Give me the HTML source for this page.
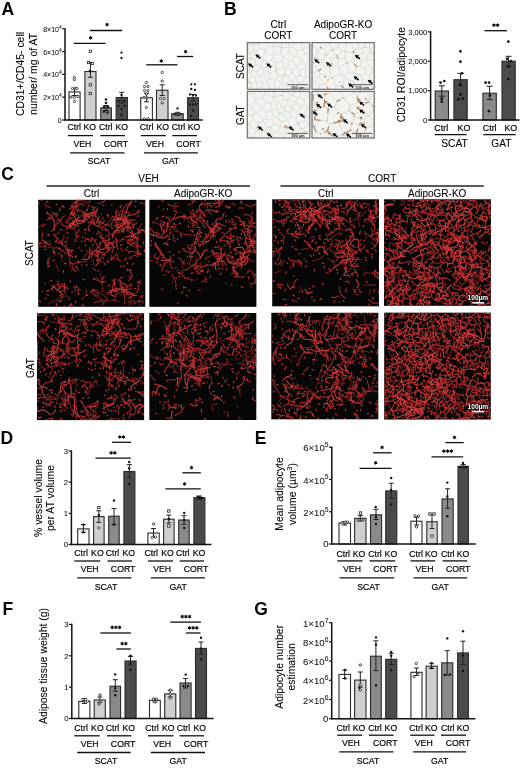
<!DOCTYPE html><html><head><meta charset="utf-8"><title>Figure</title><style>html,body{margin:0;padding:0;background:#fff;width:520px;height:768px;overflow:hidden}svg{display:block}</style></head><body><svg width="520" height="768" viewBox="0 0 520 768" font-family="'Liberation Sans', Arial, sans-serif" fill="#050505"><text x="1.5" y="15" font-size="17.5" font-weight="bold" fill="#000">A</text>
<text x="224" y="15" font-size="17.5" font-weight="bold" fill="#000">B</text>
<text x="1.2" y="180" font-size="17.5" font-weight="bold" fill="#000">C</text>
<text x="0.5" y="444" font-size="17.5" font-weight="bold" fill="#000">D</text>
<text x="254.7" y="444" font-size="17.5" font-weight="bold" fill="#000">E</text>
<text x="2.6" y="614.5" font-size="17.5" font-weight="bold" fill="#000">F</text>
<text x="254.3" y="614.5" font-size="17.5" font-weight="bold" fill="#000">G</text>
<rect x="69" y="91.9" width="11.1" height="28.1" fill="#ffffff" stroke="#2a2a2a" stroke-width="1.1"/>
<rect x="84.9" y="71.5" width="11.1" height="48.5" fill="#cfcfcf" stroke="#2a2a2a" stroke-width="1.1"/>
<rect x="100.75" y="107.9" width="10.65" height="12.1" fill="#8a8a8a" stroke="#2a2a2a" stroke-width="1.1"/>
<rect x="116.1" y="97.5" width="11.3" height="22.5" fill="#4b4b4b" stroke="#2a2a2a" stroke-width="1.1"/>
<rect x="140.75" y="97.75" width="11.65" height="22.25" fill="#ffffff" stroke="#2a2a2a" stroke-width="1.1"/>
<rect x="156.5" y="90.25" width="11.5" height="29.75" fill="#cfcfcf" stroke="#2a2a2a" stroke-width="1.1"/>
<rect x="171.75" y="113.75" width="11.5" height="6.25" fill="#8a8a8a" stroke="#2a2a2a" stroke-width="1.1"/>
<rect x="187.6" y="97.75" width="10.9" height="22.25" fill="#4b4b4b" stroke="#2a2a2a" stroke-width="1.1"/>
<g>
<line x1="74.5" y1="88.5" x2="74.5" y2="95.5" stroke="#222" stroke-width="1"/>
<line x1="72" y1="88.5" x2="77" y2="88.5" stroke="#222" stroke-width="1"/>
<line x1="72" y1="95.5" x2="77" y2="95.5" stroke="#222" stroke-width="1"/>
<line x1="90.4" y1="62.5" x2="90.4" y2="77.3" stroke="#222" stroke-width="1"/>
<line x1="87.9" y1="62.5" x2="92.9" y2="62.5" stroke="#222" stroke-width="1"/>
<line x1="87.9" y1="77.3" x2="92.9" y2="77.3" stroke="#222" stroke-width="1"/>
<line x1="106.1" y1="105.5" x2="106.1" y2="110.5" stroke="#222" stroke-width="1"/>
<line x1="103.6" y1="105.5" x2="108.6" y2="105.5" stroke="#222" stroke-width="1"/>
<line x1="103.6" y1="110.5" x2="108.6" y2="110.5" stroke="#222" stroke-width="1"/>
<line x1="121.7" y1="92.3" x2="121.7" y2="103" stroke="#222" stroke-width="1"/>
<line x1="119.2" y1="92.3" x2="124.2" y2="92.3" stroke="#222" stroke-width="1"/>
<line x1="119.2" y1="103" x2="124.2" y2="103" stroke="#222" stroke-width="1"/>
<line x1="146.5" y1="93.2" x2="146.5" y2="101.8" stroke="#222" stroke-width="1"/>
<line x1="144" y1="93.2" x2="149" y2="93.2" stroke="#222" stroke-width="1"/>
<line x1="144" y1="101.8" x2="149" y2="101.8" stroke="#222" stroke-width="1"/>
<line x1="162.2" y1="84.8" x2="162.2" y2="95.5" stroke="#222" stroke-width="1"/>
<line x1="159.7" y1="84.8" x2="164.7" y2="84.8" stroke="#222" stroke-width="1"/>
<line x1="159.7" y1="95.5" x2="164.7" y2="95.5" stroke="#222" stroke-width="1"/>
<line x1="177.5" y1="112.3" x2="177.5" y2="115.3" stroke="#222" stroke-width="1"/>
<line x1="175" y1="112.3" x2="180" y2="112.3" stroke="#222" stroke-width="1"/>
<line x1="175" y1="115.3" x2="180" y2="115.3" stroke="#222" stroke-width="1"/>
<line x1="193" y1="94.5" x2="193" y2="101" stroke="#222" stroke-width="1"/>
<line x1="190.5" y1="94.5" x2="195.5" y2="94.5" stroke="#222" stroke-width="1"/>
<line x1="190.5" y1="101" x2="195.5" y2="101" stroke="#222" stroke-width="1"/>
<circle cx="74.3" cy="77.5" r="1.15" fill="#fff" stroke="#222" stroke-width="0.8"/>
<circle cx="74.3" cy="79.7" r="1.15" fill="#fff" stroke="#222" stroke-width="0.8"/>
<circle cx="72.5" cy="88.5" r="1.15" fill="#fff" stroke="#222" stroke-width="0.8"/>
<circle cx="75.2" cy="88.2" r="1.15" fill="#fff" stroke="#222" stroke-width="0.8"/>
<circle cx="77" cy="88.6" r="1.15" fill="#fff" stroke="#222" stroke-width="0.8"/>
<circle cx="71" cy="97" r="1.15" fill="#fff" stroke="#222" stroke-width="0.8"/>
<circle cx="74.5" cy="97.5" r="1.15" fill="#fff" stroke="#222" stroke-width="0.8"/>
<circle cx="78" cy="96.5" r="1.15" fill="#fff" stroke="#222" stroke-width="0.8"/>
<circle cx="74.5" cy="101.5" r="1.15" fill="#fff" stroke="#222" stroke-width="0.8"/>
<rect x="87.35" y="61.35" width="2.3" height="2.3" fill="#fff" stroke="#222" stroke-width="0.8"/>
<rect x="91.15" y="62.35" width="2.3" height="2.3" fill="#fff" stroke="#222" stroke-width="0.8"/>
<rect x="89.15" y="50.15" width="2.3" height="2.3" fill="#fff" stroke="#222" stroke-width="0.8"/>
<rect x="89.15" y="83.65" width="2.3" height="2.3" fill="#fff" stroke="#222" stroke-width="0.8"/>
<rect x="89.15" y="92.35" width="2.3" height="2.3" fill="#fff" stroke="#222" stroke-width="0.8"/>
<rect x="88.85" y="69.85" width="2.3" height="2.3" fill="#111"/>
<rect x="104.85" y="98.35" width="2.3" height="2.3" fill="#111"/>
<rect x="104.85" y="101.85" width="2.3" height="2.3" fill="#111"/>
<rect x="102.85" y="105.85" width="2.3" height="2.3" fill="#111"/>
<rect x="106.85" y="105.85" width="2.3" height="2.3" fill="#111"/>
<rect x="102.85" y="110.35" width="2.3" height="2.3" fill="#111"/>
<rect x="106.35" y="111.35" width="2.3" height="2.3" fill="#111"/>
<circle cx="121.5" cy="52.6" r="1.15" fill="#111"/>
<circle cx="121.5" cy="58" r="1.15" fill="#111"/>
<circle cx="121.5" cy="95" r="1.15" fill="#111"/>
<circle cx="118.5" cy="101" r="1.15" fill="#111"/>
<circle cx="124.5" cy="101" r="1.15" fill="#111"/>
<circle cx="118.5" cy="106" r="1.15" fill="#111"/>
<circle cx="124.5" cy="106" r="1.15" fill="#111"/>
<circle cx="121.5" cy="109" r="1.15" fill="#111"/>
<circle cx="121.5" cy="114.8" r="1.15" fill="#111"/>
<circle cx="146.4" cy="82.5" r="1.15" fill="#fff" stroke="#222" stroke-width="0.8"/>
<circle cx="144.5" cy="86.5" r="1.15" fill="#fff" stroke="#222" stroke-width="0.8"/>
<circle cx="148" cy="86.5" r="1.15" fill="#fff" stroke="#222" stroke-width="0.8"/>
<circle cx="144.5" cy="90.5" r="1.15" fill="#fff" stroke="#222" stroke-width="0.8"/>
<circle cx="148" cy="90.5" r="1.15" fill="#fff" stroke="#222" stroke-width="0.8"/>
<circle cx="146.4" cy="94" r="1.15" fill="#fff" stroke="#222" stroke-width="0.8"/>
<circle cx="144" cy="97.5" r="1.15" fill="#fff" stroke="#222" stroke-width="0.8"/>
<circle cx="147" cy="98" r="1.15" fill="#fff" stroke="#222" stroke-width="0.8"/>
<circle cx="146.4" cy="107.5" r="1.15" fill="#fff" stroke="#222" stroke-width="0.8"/>
<circle cx="144.5" cy="118.8" r="1.15" fill="#fff" stroke="#222" stroke-width="0.8"/>
<circle cx="148.2" cy="118.8" r="1.15" fill="#fff" stroke="#222" stroke-width="0.8"/>
<circle cx="162.2" cy="72.5" r="1.15" fill="#fff" stroke="#222" stroke-width="0.8"/>
<circle cx="162.2" cy="81" r="1.15" fill="#fff" stroke="#222" stroke-width="0.8"/>
<circle cx="160.5" cy="98.5" r="1.15" fill="#fff" stroke="#222" stroke-width="0.8"/>
<circle cx="164" cy="98.5" r="1.15" fill="#fff" stroke="#222" stroke-width="0.8"/>
<circle cx="162.2" cy="103" r="1.15" fill="#fff" stroke="#222" stroke-width="0.8"/>
<circle cx="177.5" cy="108.5" r="1.15" fill="#111"/>
<circle cx="174.5" cy="114" r="1.15" fill="#111"/>
<circle cx="180.5" cy="114" r="1.15" fill="#111"/>
<circle cx="191.3" cy="84.3" r="1.15" fill="#111"/>
<circle cx="195" cy="84.3" r="1.15" fill="#111"/>
<circle cx="191.3" cy="89" r="1.15" fill="#111"/>
<circle cx="195" cy="90" r="1.15" fill="#111"/>
<circle cx="190" cy="94.5" r="1.15" fill="#111"/>
<circle cx="193" cy="95" r="1.15" fill="#111"/>
<circle cx="196" cy="95.5" r="1.15" fill="#111"/>
<circle cx="190" cy="104.5" r="1.15" fill="#111"/>
<circle cx="193" cy="104.5" r="1.15" fill="#111"/>
<circle cx="196" cy="104.5" r="1.15" fill="#111"/>
<circle cx="193" cy="110.5" r="1.15" fill="#111"/>
<circle cx="191" cy="116" r="1.15" fill="#111"/>
</g>
<line x1="65" y1="28.15" x2="65" y2="120.6" stroke="#111" stroke-width="1.5"/>
<line x1="62.2" y1="28.75" x2="65" y2="28.75" stroke="#111" stroke-width="1.2"/>
<text x="61.7" y="31.69" font-size="7" text-anchor="end" fill="#1a1a1a" stroke="#1a1a1a" stroke-width="0.08">8×10<tspan font-size="4.9" dy="-2.94">4</tspan></text>
<line x1="62.2" y1="51.56" x2="65" y2="51.56" stroke="#111" stroke-width="1.2"/>
<text x="61.7" y="54.5" font-size="7" text-anchor="end" fill="#1a1a1a" stroke="#1a1a1a" stroke-width="0.08">6×10<tspan font-size="4.9" dy="-2.94">4</tspan></text>
<line x1="62.2" y1="74.38" x2="65" y2="74.38" stroke="#111" stroke-width="1.2"/>
<text x="61.7" y="77.31" font-size="7" text-anchor="end" fill="#1a1a1a" stroke="#1a1a1a" stroke-width="0.08">4×10<tspan font-size="4.9" dy="-2.94">4</tspan></text>
<line x1="62.2" y1="97.19" x2="65" y2="97.19" stroke="#111" stroke-width="1.2"/>
<text x="61.7" y="100.13" font-size="7" text-anchor="end" fill="#1a1a1a" stroke="#1a1a1a" stroke-width="0.08">2×10<tspan font-size="4.9" dy="-2.94">4</tspan></text>
<line x1="62.2" y1="120" x2="65" y2="120" stroke="#111" stroke-width="1.2"/>
<text x="61.7" y="122.52" font-size="7" text-anchor="end" fill="#1a1a1a" stroke="#1a1a1a" stroke-width="0.08">0</text>
<line x1="64.25" y1="120" x2="202.8" y2="120" stroke="#111" stroke-width="1.6"/>
<line x1="73.7" y1="43.3" x2="105.4" y2="43.3" stroke="#111" stroke-width="1.3"/>
<polygon points="90.60,35.75 89.97,36.82 88.74,36.82 89.35,37.90 88.74,38.97 89.97,38.98 90.60,40.05 91.22,38.98 92.46,38.98 91.85,37.90 92.46,36.82 91.22,36.82" fill="#0c0c0c"/>
<line x1="89.9" y1="30.5" x2="122.2" y2="30.5" stroke="#111" stroke-width="1.3"/>
<polygon points="107.10,22.55 106.47,23.62 105.24,23.62 105.85,24.70 105.24,25.77 106.47,25.78 107.10,26.85 107.72,25.78 108.96,25.77 108.35,24.70 108.96,23.62 107.72,23.62" fill="#0c0c0c"/>
<line x1="146.2" y1="64.8" x2="177.5" y2="64.8" stroke="#111" stroke-width="1.3"/>
<polygon points="161.30,58.85 160.68,59.92 159.44,59.92 160.05,61.00 159.44,62.08 160.68,62.08 161.30,63.15 161.93,62.08 163.16,62.08 162.55,61.00 163.16,59.92 161.93,59.92" fill="#0c0c0c"/>
<line x1="177.1" y1="56.5" x2="193.1" y2="56.5" stroke="#111" stroke-width="1.3"/>
<polygon points="185.60,49.45 184.97,50.52 183.74,50.52 184.35,51.60 183.74,52.67 184.97,52.68 185.60,53.75 186.22,52.68 187.46,52.68 186.85,51.60 187.46,50.52 186.22,50.52" fill="#0c0c0c"/>
<text x="74.3" y="130.4" font-size="8.7" text-anchor="middle" stroke="#050505" stroke-width="0.2">Ctrl</text>
<text x="89.8" y="130.4" font-size="8.7" text-anchor="middle" stroke="#050505" stroke-width="0.2">KO</text>
<text x="105.8" y="130.4" font-size="8.7" text-anchor="middle" stroke="#050505" stroke-width="0.2">Ctrl</text>
<text x="121.7" y="130.4" font-size="8.7" text-anchor="middle" stroke="#050505" stroke-width="0.2">KO</text>
<text x="146.6" y="130.4" font-size="8.7" text-anchor="middle" stroke="#050505" stroke-width="0.2">Ctrl</text>
<text x="162.8" y="130.4" font-size="8.7" text-anchor="middle" stroke="#050505" stroke-width="0.2">KO</text>
<text x="178.5" y="130.4" font-size="8.7" text-anchor="middle" stroke="#050505" stroke-width="0.2">Ctrl</text>
<text x="194.1" y="130.4" font-size="8.7" text-anchor="middle" stroke="#050505" stroke-width="0.2">KO</text>
<line x1="67.9" y1="135.6" x2="92.9" y2="135.6" stroke="#111" stroke-width="1.3"/>
<line x1="100.4" y1="135.6" x2="124.9" y2="135.6" stroke="#111" stroke-width="1.3"/>
<line x1="140.8" y1="135.6" x2="165.8" y2="135.6" stroke="#111" stroke-width="1.3"/>
<line x1="172.3" y1="135.6" x2="197.1" y2="135.6" stroke="#111" stroke-width="1.3"/>
<text x="82.4" y="146.6" font-size="8.7" text-anchor="middle" stroke="#050505" stroke-width="0.2">VEH</text>
<text x="115.9" y="146.6" font-size="8.7" text-anchor="middle" stroke="#050505" stroke-width="0.2">CORT</text>
<text x="155" y="146.6" font-size="8.7" text-anchor="middle" stroke="#050505" stroke-width="0.2">VEH</text>
<text x="188.5" y="146.6" font-size="8.7" text-anchor="middle" stroke="#050505" stroke-width="0.2">CORT</text>
<line x1="70.1" y1="152.8" x2="124.5" y2="152.8" stroke="#111" stroke-width="1.3"/>
<line x1="144" y1="152.8" x2="197.8" y2="152.8" stroke="#111" stroke-width="1.3"/>
<text x="99" y="163.9" font-size="8.7" text-anchor="middle" stroke="#050505" stroke-width="0.2">SCAT</text>
<text x="170.5" y="163.9" font-size="8.7" text-anchor="middle" stroke="#050505" stroke-width="0.2">GAT</text>
<text x="24.3" y="74" font-size="10.4" text-anchor="middle" stroke="#050505" stroke-width="0.08" transform="rotate(-90 24.3 74)">CD31+/CD45- cell</text>
<text x="36.8" y="74" font-size="10.4" text-anchor="middle" stroke="#050505" stroke-width="0.08" transform="rotate(-90 36.8 74)">number/ mg of AT</text>
<rect x="77.7" y="528.9" width="11.3" height="15.6" fill="#ffffff" stroke="#2a2a2a" stroke-width="1.1"/>
<rect x="93.6" y="516.6" width="10.5" height="27.9" fill="#cfcfcf" stroke="#2a2a2a" stroke-width="1.1"/>
<rect x="108.7" y="516.2" width="10.5" height="28.3" fill="#8a8a8a" stroke="#2a2a2a" stroke-width="1.1"/>
<rect x="123.9" y="471.5" width="11" height="73" fill="#4b4b4b" stroke="#2a2a2a" stroke-width="1.1"/>
<rect x="147.9" y="533.1" width="11.3" height="11.4" fill="#ffffff" stroke="#2a2a2a" stroke-width="1.1"/>
<rect x="163.6" y="519.2" width="10.5" height="25.3" fill="#cfcfcf" stroke="#2a2a2a" stroke-width="1.1"/>
<rect x="178.7" y="520" width="10.5" height="24.5" fill="#8a8a8a" stroke="#2a2a2a" stroke-width="1.1"/>
<rect x="193.9" y="497.7" width="11" height="46.8" fill="#4b4b4b" stroke="#2a2a2a" stroke-width="1.1"/>
<line x1="83.4" y1="524.6" x2="83.4" y2="532.3" stroke="#222" stroke-width="1"/>
<line x1="80.9" y1="524.6" x2="85.9" y2="524.6" stroke="#222" stroke-width="1"/>
<line x1="80.9" y1="532.3" x2="85.9" y2="532.3" stroke="#222" stroke-width="1"/>
<line x1="98.8" y1="510.8" x2="98.8" y2="522.3" stroke="#222" stroke-width="1"/>
<line x1="96.3" y1="510.8" x2="101.3" y2="510.8" stroke="#222" stroke-width="1"/>
<line x1="96.3" y1="522.3" x2="101.3" y2="522.3" stroke="#222" stroke-width="1"/>
<line x1="114" y1="508.5" x2="114" y2="524.6" stroke="#222" stroke-width="1"/>
<line x1="111.5" y1="508.5" x2="116.5" y2="508.5" stroke="#222" stroke-width="1"/>
<line x1="111.5" y1="524.6" x2="116.5" y2="524.6" stroke="#222" stroke-width="1"/>
<line x1="129.4" y1="464.6" x2="129.4" y2="477.7" stroke="#222" stroke-width="1"/>
<line x1="126.9" y1="464.6" x2="131.9" y2="464.6" stroke="#222" stroke-width="1"/>
<line x1="126.9" y1="477.7" x2="131.9" y2="477.7" stroke="#222" stroke-width="1"/>
<line x1="153.5" y1="528.5" x2="153.5" y2="537.5" stroke="#222" stroke-width="1"/>
<line x1="151" y1="528.5" x2="156" y2="528.5" stroke="#222" stroke-width="1"/>
<line x1="151" y1="537.5" x2="156" y2="537.5" stroke="#222" stroke-width="1"/>
<line x1="168.8" y1="515" x2="168.8" y2="523" stroke="#222" stroke-width="1"/>
<line x1="166.3" y1="515" x2="171.3" y2="515" stroke="#222" stroke-width="1"/>
<line x1="166.3" y1="523" x2="171.3" y2="523" stroke="#222" stroke-width="1"/>
<line x1="184" y1="515.7" x2="184" y2="524.3" stroke="#222" stroke-width="1"/>
<line x1="181.5" y1="515.7" x2="186.5" y2="515.7" stroke="#222" stroke-width="1"/>
<line x1="181.5" y1="524.3" x2="186.5" y2="524.3" stroke="#222" stroke-width="1"/>
<line x1="199.4" y1="496" x2="199.4" y2="499.5" stroke="#222" stroke-width="1"/>
<line x1="196.9" y1="496" x2="201.9" y2="496" stroke="#222" stroke-width="1"/>
<line x1="196.9" y1="499.5" x2="201.9" y2="499.5" stroke="#222" stroke-width="1"/>
<circle cx="83.4" cy="524.6" r="1.2" fill="#111"/>
<circle cx="83.4" cy="532.3" r="1.2" fill="#111"/>
<rect x="97.6" y="506.3" width="2.4" height="2.4" fill="#fff" stroke="#222" stroke-width="0.8"/>
<circle cx="98.8" cy="515" r="1.2" fill="#111"/>
<circle cx="98.8" cy="528" r="1.2" fill="#fff" stroke="#222" stroke-width="0.8"/>
<circle cx="114" cy="500.5" r="1.2" fill="#111"/>
<circle cx="114" cy="524.6" r="1.2" fill="#111"/>
<circle cx="129.2" cy="462" r="1.2" fill="#111"/>
<circle cx="129.2" cy="468.3" r="1.2" fill="#111"/>
<circle cx="129.2" cy="484" r="1.2" fill="#111"/>
<circle cx="153.7" cy="524" r="1.2" fill="#fff" stroke="#222" stroke-width="0.8"/>
<circle cx="152.3" cy="537.5" r="1.2" fill="#fff" stroke="#222" stroke-width="0.8"/>
<circle cx="155.5" cy="537" r="1.2" fill="#fff" stroke="#222" stroke-width="0.8"/>
<rect x="167.6" y="509.8" width="2.4" height="2.4" fill="#fff" stroke="#222" stroke-width="0.8"/>
<circle cx="168.8" cy="519" r="1.2" fill="#111"/>
<rect x="167.6" y="524.8" width="2.4" height="2.4" fill="#fff" stroke="#222" stroke-width="0.8"/>
<circle cx="184.2" cy="513" r="1.2" fill="#111"/>
<circle cx="184.2" cy="520" r="1.2" fill="#111"/>
<circle cx="184.2" cy="528" r="1.2" fill="#111"/>
<circle cx="197.5" cy="497" r="1.2" fill="#111"/>
<circle cx="200" cy="497.5" r="1.2" fill="#111"/>
<circle cx="202" cy="498" r="1.2" fill="#111"/>
<line x1="71.4" y1="450.4" x2="71.4" y2="545.1" stroke="#111" stroke-width="1.5"/>
<line x1="68.6" y1="451" x2="71.4" y2="451" stroke="#111" stroke-width="1.2"/>
<text x="68.1" y="453.81" font-size="7.8" text-anchor="end" fill="#1a1a1a" stroke="#1a1a1a" stroke-width="0.08">3</text>
<line x1="68.6" y1="482.17" x2="71.4" y2="482.17" stroke="#111" stroke-width="1.2"/>
<text x="68.1" y="484.97" font-size="7.8" text-anchor="end" fill="#1a1a1a" stroke="#1a1a1a" stroke-width="0.08">2</text>
<line x1="68.6" y1="513.33" x2="71.4" y2="513.33" stroke="#111" stroke-width="1.2"/>
<text x="68.1" y="516.14" font-size="7.8" text-anchor="end" fill="#1a1a1a" stroke="#1a1a1a" stroke-width="0.08">1</text>
<line x1="68.6" y1="544.5" x2="71.4" y2="544.5" stroke="#111" stroke-width="1.2"/>
<text x="68.1" y="547.31" font-size="7.8" text-anchor="end" fill="#1a1a1a" stroke="#1a1a1a" stroke-width="0.08">0</text>
<line x1="70.65" y1="544.5" x2="211.5" y2="544.5" stroke="#111" stroke-width="1.6"/>
<line x1="95.4" y1="458.2" x2="130.8" y2="458.2" stroke="#111" stroke-width="1.3"/>
<polygon points="111.15,450.75 110.53,451.82 109.29,451.82 109.90,452.90 109.29,453.97 110.53,453.98 111.15,455.05 111.78,453.98 113.01,453.97 112.40,452.90 113.01,451.82 111.78,451.82" fill="#0c0c0c"/>
<polygon points="114.85,450.75 114.22,451.82 112.99,451.82 113.60,452.90 112.99,453.97 114.22,453.98 114.85,455.05 115.47,453.98 116.71,453.97 116.10,452.90 116.71,451.82 115.47,451.82" fill="#0c0c0c"/>
<line x1="112" y1="442.3" x2="131" y2="442.3" stroke="#111" stroke-width="1.3"/>
<polygon points="119.85,434.85 119.23,435.92 117.99,435.93 118.60,437.00 117.99,438.07 119.23,438.08 119.85,439.15 120.48,438.08 121.71,438.07 121.10,437.00 121.71,435.93 120.48,435.92" fill="#0c0c0c"/>
<polygon points="123.55,434.85 122.92,435.92 121.69,435.93 122.30,437.00 121.69,438.07 122.92,438.08 123.55,439.15 124.17,438.08 125.41,438.07 124.80,437.00 125.41,435.93 124.17,435.92" fill="#0c0c0c"/>
<line x1="165.4" y1="488.8" x2="200.8" y2="488.8" stroke="#111" stroke-width="1.3"/>
<polygon points="184.60,481.65 183.97,482.72 182.74,482.73 183.35,483.80 182.74,484.88 183.97,484.88 184.60,485.95 185.22,484.88 186.46,484.88 185.85,483.80 186.46,482.73 185.22,482.72" fill="#0c0c0c"/>
<line x1="182.3" y1="472.8" x2="200.8" y2="472.8" stroke="#111" stroke-width="1.3"/>
<polygon points="191.50,465.55 190.88,466.62 189.64,466.62 190.25,467.70 189.64,468.77 190.88,468.78 191.50,469.85 192.12,468.78 193.36,468.77 192.75,467.70 193.36,466.62 192.12,466.62" fill="#0c0c0c"/>
<text x="81.1" y="556.3" font-size="8.7" text-anchor="middle" stroke="#050505" stroke-width="0.2">Ctrl</text>
<text x="97.4" y="556.3" font-size="8.7" text-anchor="middle" stroke="#050505" stroke-width="0.2">KO</text>
<text x="112.5" y="556.3" font-size="8.7" text-anchor="middle" stroke="#050505" stroke-width="0.2">Ctrl</text>
<text x="128.85" y="556.3" font-size="8.7" text-anchor="middle" stroke="#050505" stroke-width="0.2">KO</text>
<text x="151.3" y="556.3" font-size="8.7" text-anchor="middle" stroke="#050505" stroke-width="0.2">Ctrl</text>
<text x="167.6" y="556.3" font-size="8.7" text-anchor="middle" stroke="#050505" stroke-width="0.2">KO</text>
<text x="182.7" y="556.3" font-size="8.7" text-anchor="middle" stroke="#050505" stroke-width="0.2">Ctrl</text>
<text x="199.05" y="556.3" font-size="8.7" text-anchor="middle" stroke="#050505" stroke-width="0.2">KO</text>
<line x1="74.3" y1="561" x2="100.3" y2="561" stroke="#111" stroke-width="1.3"/>
<line x1="107.5" y1="561" x2="132" y2="561" stroke="#111" stroke-width="1.3"/>
<line x1="147.9" y1="561" x2="173" y2="561" stroke="#111" stroke-width="1.3"/>
<line x1="179.6" y1="561" x2="204.1" y2="561" stroke="#111" stroke-width="1.3"/>
<text x="89.65" y="571.6" font-size="8.7" text-anchor="middle" stroke="#050505" stroke-width="0.2">VEH</text>
<text x="123.1" y="571.6" font-size="8.7" text-anchor="middle" stroke="#050505" stroke-width="0.2">CORT</text>
<text x="162.2" y="571.6" font-size="8.7" text-anchor="middle" stroke="#050505" stroke-width="0.2">VEH</text>
<text x="196" y="571.6" font-size="8.7" text-anchor="middle" stroke="#050505" stroke-width="0.2">CORT</text>
<line x1="77.2" y1="577.8" x2="131.4" y2="577.8" stroke="#111" stroke-width="1.3"/>
<line x1="150.8" y1="577.8" x2="205" y2="577.8" stroke="#111" stroke-width="1.3"/>
<text x="106" y="589.5" font-size="8.7" text-anchor="middle" stroke="#050505" stroke-width="0.2">SCAT</text>
<text x="178.1" y="589.5" font-size="8.7" text-anchor="middle" stroke="#050505" stroke-width="0.2">GAT</text>
<text x="41.5" y="498" font-size="10.4" text-anchor="middle" stroke="#050505" stroke-width="0.08" transform="rotate(-90 41.5 498)">% vessel volume</text>
<text x="54.1" y="498" font-size="10.4" text-anchor="middle" stroke="#050505" stroke-width="0.08" transform="rotate(-90 54.1 498)">per AT volume</text>
<rect x="339" y="523.1" width="11.5" height="20.9" fill="#ffffff" stroke="#2a2a2a" stroke-width="1.1"/>
<rect x="354.6" y="518.3" width="11.4" height="25.7" fill="#cfcfcf" stroke="#2a2a2a" stroke-width="1.1"/>
<rect x="370.5" y="514.8" width="11.1" height="29.2" fill="#8a8a8a" stroke="#2a2a2a" stroke-width="1.1"/>
<rect x="385.7" y="490.9" width="11.1" height="53.1" fill="#4b4b4b" stroke="#2a2a2a" stroke-width="1.1"/>
<rect x="410.9" y="521.2" width="11.1" height="22.8" fill="#ffffff" stroke="#2a2a2a" stroke-width="1.1"/>
<rect x="426.8" y="521.7" width="10.4" height="22.3" fill="#cfcfcf" stroke="#2a2a2a" stroke-width="1.1"/>
<rect x="442" y="498.9" width="11.2" height="45.1" fill="#8a8a8a" stroke="#2a2a2a" stroke-width="1.1"/>
<rect x="458" y="466.3" width="10.4" height="77.7" fill="#4b4b4b" stroke="#2a2a2a" stroke-width="1.1"/>
<line x1="344.7" y1="521.5" x2="344.7" y2="525" stroke="#222" stroke-width="1"/>
<line x1="342.2" y1="521.5" x2="347.2" y2="521.5" stroke="#222" stroke-width="1"/>
<line x1="342.2" y1="525" x2="347.2" y2="525" stroke="#222" stroke-width="1"/>
<line x1="360.3" y1="515.5" x2="360.3" y2="521" stroke="#222" stroke-width="1"/>
<line x1="357.8" y1="515.5" x2="362.8" y2="515.5" stroke="#222" stroke-width="1"/>
<line x1="357.8" y1="521" x2="362.8" y2="521" stroke="#222" stroke-width="1"/>
<line x1="376" y1="509.3" x2="376" y2="519.5" stroke="#222" stroke-width="1"/>
<line x1="373.5" y1="509.3" x2="378.5" y2="509.3" stroke="#222" stroke-width="1"/>
<line x1="373.5" y1="519.5" x2="378.5" y2="519.5" stroke="#222" stroke-width="1"/>
<line x1="391.2" y1="483.3" x2="391.2" y2="498.4" stroke="#222" stroke-width="1"/>
<line x1="388.7" y1="483.3" x2="393.7" y2="483.3" stroke="#222" stroke-width="1"/>
<line x1="388.7" y1="498.4" x2="393.7" y2="498.4" stroke="#222" stroke-width="1"/>
<line x1="416.5" y1="517.4" x2="416.5" y2="525" stroke="#222" stroke-width="1"/>
<line x1="414" y1="517.4" x2="419" y2="517.4" stroke="#222" stroke-width="1"/>
<line x1="414" y1="525" x2="419" y2="525" stroke="#222" stroke-width="1"/>
<line x1="432" y1="514.5" x2="432" y2="528.6" stroke="#222" stroke-width="1"/>
<line x1="429.5" y1="514.5" x2="434.5" y2="514.5" stroke="#222" stroke-width="1"/>
<line x1="429.5" y1="528.6" x2="434.5" y2="528.6" stroke="#222" stroke-width="1"/>
<line x1="447.6" y1="488.8" x2="447.6" y2="508.2" stroke="#222" stroke-width="1"/>
<line x1="445.1" y1="488.8" x2="450.1" y2="488.8" stroke="#222" stroke-width="1"/>
<line x1="445.1" y1="508.2" x2="450.1" y2="508.2" stroke="#222" stroke-width="1"/>
<line x1="463.2" y1="464.6" x2="463.2" y2="468" stroke="#222" stroke-width="1"/>
<line x1="460.7" y1="464.6" x2="465.7" y2="464.6" stroke="#222" stroke-width="1"/>
<line x1="460.7" y1="468" x2="465.7" y2="468" stroke="#222" stroke-width="1"/>
<circle cx="342" cy="523" r="1.2" fill="#fff" stroke="#222" stroke-width="0.8"/>
<circle cx="345" cy="522.3" r="1.2" fill="#fff" stroke="#222" stroke-width="0.8"/>
<circle cx="347.5" cy="522" r="1.2" fill="#fff" stroke="#222" stroke-width="0.8"/>
<rect x="359.3" y="511.8" width="2.4" height="2.4" fill="#fff" stroke="#222" stroke-width="0.8"/>
<circle cx="358" cy="520" r="1.2" fill="#fff" stroke="#222" stroke-width="0.8"/>
<circle cx="363" cy="520" r="1.2" fill="#fff" stroke="#222" stroke-width="0.8"/>
<circle cx="375.7" cy="507" r="1.2" fill="#111"/>
<circle cx="376" cy="517" r="1.2" fill="#111"/>
<circle cx="376" cy="524" r="1.2" fill="#111"/>
<circle cx="391.2" cy="478" r="1.2" fill="#111"/>
<circle cx="391.2" cy="490" r="1.2" fill="#111"/>
<circle cx="391.2" cy="504.5" r="1.2" fill="#111"/>
<circle cx="415" cy="516" r="1.2" fill="#fff" stroke="#222" stroke-width="0.8"/>
<circle cx="418.5" cy="516" r="1.2" fill="#fff" stroke="#222" stroke-width="0.8"/>
<circle cx="416.5" cy="527" r="1.2" fill="#fff" stroke="#222" stroke-width="0.8"/>
<rect x="428.8" y="512.8" width="2.4" height="2.4" fill="#fff" stroke="#222" stroke-width="0.8"/>
<rect x="432.8" y="512.8" width="2.4" height="2.4" fill="#fff" stroke="#222" stroke-width="0.8"/>
<rect x="430.8" y="534.8" width="2.4" height="2.4" fill="#fff" stroke="#222" stroke-width="0.8"/>
<circle cx="447.3" cy="482.6" r="1.2" fill="#111"/>
<circle cx="447.3" cy="496.4" r="1.2" fill="#111"/>
<circle cx="447.3" cy="516.2" r="1.2" fill="#111"/>
<circle cx="463" cy="463" r="1.2" fill="#111"/>
<circle cx="460.3" cy="467" r="1.2" fill="#111"/>
<circle cx="466" cy="467" r="1.2" fill="#111"/>
<line x1="331.8" y1="446.6" x2="331.8" y2="544.6" stroke="#111" stroke-width="1.5"/>
<line x1="329" y1="447.2" x2="331.8" y2="447.2" stroke="#111" stroke-width="1.2"/>
<text x="328.5" y="451.23" font-size="9.6" text-anchor="end" fill="#1a1a1a" stroke="#1a1a1a" stroke-width="0.08">6×10<tspan font-size="6.72" dy="-4.03">5</tspan></text>
<line x1="329" y1="479.47" x2="331.8" y2="479.47" stroke="#111" stroke-width="1.2"/>
<text x="328.5" y="483.5" font-size="9.6" text-anchor="end" fill="#1a1a1a" stroke="#1a1a1a" stroke-width="0.08">4×10<tspan font-size="6.72" dy="-4.03">5</tspan></text>
<line x1="329" y1="511.73" x2="331.8" y2="511.73" stroke="#111" stroke-width="1.2"/>
<text x="328.5" y="515.77" font-size="9.6" text-anchor="end" fill="#1a1a1a" stroke="#1a1a1a" stroke-width="0.08">2×10<tspan font-size="6.72" dy="-4.03">5</tspan></text>
<line x1="329" y1="544" x2="331.8" y2="544" stroke="#111" stroke-width="1.2"/>
<text x="328.5" y="547.46" font-size="9.6" text-anchor="end" fill="#1a1a1a" stroke="#1a1a1a" stroke-width="0.08">0</text>
<line x1="331.05" y1="544" x2="475.8" y2="544" stroke="#111" stroke-width="1.6"/>
<line x1="359.6" y1="468.4" x2="391.6" y2="468.4" stroke="#111" stroke-width="1.3"/>
<polygon points="375.70,460.75 375.07,461.82 373.84,461.82 374.45,462.90 373.84,463.97 375.07,463.98 375.70,465.05 376.32,463.98 377.56,463.97 376.95,462.90 377.56,461.82 376.32,461.82" fill="#0c0c0c"/>
<line x1="373.1" y1="452.8" x2="391.6" y2="452.8" stroke="#111" stroke-width="1.3"/>
<polygon points="382.10,445.15 381.48,446.22 380.24,446.23 380.85,447.30 380.24,448.38 381.48,448.38 382.10,449.45 382.73,448.38 383.96,448.38 383.35,447.30 383.96,446.23 382.73,446.22" fill="#0c0c0c"/>
<line x1="431.5" y1="456.8" x2="463.2" y2="456.8" stroke="#111" stroke-width="1.3"/>
<polygon points="443.90,448.95 443.28,450.02 442.04,450.03 442.65,451.10 442.04,452.18 443.28,452.18 443.90,453.25 444.53,452.18 445.76,452.18 445.15,451.10 445.76,450.03 444.53,450.02" fill="#0c0c0c"/>
<polygon points="447.60,448.95 446.98,450.02 445.74,450.03 446.35,451.10 445.74,452.18 446.98,452.18 447.60,453.25 448.23,452.18 449.46,452.18 448.85,451.10 449.46,450.03 448.23,450.02" fill="#0c0c0c"/>
<polygon points="451.30,448.95 450.68,450.02 449.44,450.03 450.05,451.10 449.44,452.18 450.68,452.18 451.30,453.25 451.93,452.18 453.16,452.18 452.55,451.10 453.16,450.03 451.93,450.02" fill="#0c0c0c"/>
<line x1="445.3" y1="442.6" x2="463.7" y2="442.6" stroke="#111" stroke-width="1.3"/>
<polygon points="454.50,435.15 453.88,436.22 452.64,436.23 453.25,437.30 452.64,438.38 453.88,438.38 454.50,439.45 455.12,438.38 456.36,438.38 455.75,437.30 456.36,436.23 455.12,436.22" fill="#0c0c0c"/>
<text x="343.3" y="556.6" font-size="8.7" text-anchor="middle" stroke="#050505" stroke-width="0.2">Ctrl</text>
<text x="359.1" y="556.6" font-size="8.7" text-anchor="middle" stroke="#050505" stroke-width="0.2">KO</text>
<text x="375" y="556.6" font-size="8.7" text-anchor="middle" stroke="#050505" stroke-width="0.2">Ctrl</text>
<text x="390.9" y="556.6" font-size="8.7" text-anchor="middle" stroke="#050505" stroke-width="0.2">KO</text>
<text x="416.1" y="556.6" font-size="8.7" text-anchor="middle" stroke="#050505" stroke-width="0.2">Ctrl</text>
<text x="431.3" y="556.6" font-size="8.7" text-anchor="middle" stroke="#050505" stroke-width="0.2">KO</text>
<text x="447.8" y="556.6" font-size="8.7" text-anchor="middle" stroke="#050505" stroke-width="0.2">Ctrl</text>
<text x="463" y="556.6" font-size="8.7" text-anchor="middle" stroke="#050505" stroke-width="0.2">KO</text>
<line x1="337.3" y1="560.9" x2="362.5" y2="560.9" stroke="#111" stroke-width="1.3"/>
<line x1="369.6" y1="560.9" x2="395.2" y2="560.9" stroke="#111" stroke-width="1.3"/>
<line x1="410.5" y1="560.9" x2="435.2" y2="560.9" stroke="#111" stroke-width="1.3"/>
<line x1="442.5" y1="560.9" x2="467.2" y2="560.9" stroke="#111" stroke-width="1.3"/>
<text x="352" y="572" font-size="8.7" text-anchor="middle" stroke="#050505" stroke-width="0.2">VEH</text>
<text x="385.4" y="572" font-size="8.7" text-anchor="middle" stroke="#050505" stroke-width="0.2">CORT</text>
<text x="424.5" y="572" font-size="8.7" text-anchor="middle" stroke="#050505" stroke-width="0.2">VEH</text>
<text x="458.2" y="572" font-size="8.7" text-anchor="middle" stroke="#050505" stroke-width="0.2">CORT</text>
<line x1="339.5" y1="577.8" x2="394.2" y2="577.8" stroke="#111" stroke-width="1.3"/>
<line x1="413.6" y1="577.8" x2="467.2" y2="577.8" stroke="#111" stroke-width="1.3"/>
<text x="368.5" y="589.8" font-size="8.7" text-anchor="middle" stroke="#050505" stroke-width="0.2">SCAT</text>
<text x="440.2" y="589.8" font-size="8.7" text-anchor="middle" stroke="#050505" stroke-width="0.2">GAT</text>
<text x="283" y="494" font-size="10.4" text-anchor="middle" stroke="#050505" stroke-width="0.08" transform="rotate(-90 283 494)">Mean adipocyte</text>
<text x="295.5" y="494" font-size="10.4" text-anchor="middle" stroke="#050505" stroke-width="0.08" transform="rotate(-90 295.5 494)">volume (µm<tspan font-size="7" dy="-3.5">3</tspan><tspan dy="3.5">)</tspan></text>
<rect x="78.8" y="701.4" width="11.1" height="17.1" fill="#ffffff" stroke="#2a2a2a" stroke-width="1.1"/>
<rect x="94.2" y="700" width="11.1" height="18.5" fill="#cfcfcf" stroke="#2a2a2a" stroke-width="1.1"/>
<rect x="110" y="686.2" width="10.6" height="32.3" fill="#8a8a8a" stroke="#2a2a2a" stroke-width="1.1"/>
<rect x="125" y="661" width="11.1" height="57.5" fill="#4b4b4b" stroke="#2a2a2a" stroke-width="1.1"/>
<rect x="149.5" y="700.3" width="10.8" height="18.2" fill="#ffffff" stroke="#2a2a2a" stroke-width="1.1"/>
<rect x="164.7" y="693.9" width="11.1" height="24.6" fill="#cfcfcf" stroke="#2a2a2a" stroke-width="1.1"/>
<rect x="180" y="683" width="11.1" height="35.5" fill="#8a8a8a" stroke="#2a2a2a" stroke-width="1.1"/>
<rect x="195.5" y="648.4" width="11" height="70.1" fill="#4b4b4b" stroke="#2a2a2a" stroke-width="1.1"/>
<line x1="84.3" y1="698.5" x2="84.3" y2="703.5" stroke="#222" stroke-width="1"/>
<line x1="81.8" y1="698.5" x2="86.8" y2="698.5" stroke="#222" stroke-width="1"/>
<line x1="81.8" y1="703.5" x2="86.8" y2="703.5" stroke="#222" stroke-width="1"/>
<line x1="99.8" y1="697" x2="99.8" y2="702.5" stroke="#222" stroke-width="1"/>
<line x1="97.3" y1="697" x2="102.3" y2="697" stroke="#222" stroke-width="1"/>
<line x1="97.3" y1="702.5" x2="102.3" y2="702.5" stroke="#222" stroke-width="1"/>
<line x1="115.3" y1="679.7" x2="115.3" y2="691.3" stroke="#222" stroke-width="1"/>
<line x1="112.8" y1="679.7" x2="117.8" y2="679.7" stroke="#222" stroke-width="1"/>
<line x1="112.8" y1="691.3" x2="117.8" y2="691.3" stroke="#222" stroke-width="1"/>
<line x1="130.5" y1="656.4" x2="130.5" y2="665" stroke="#222" stroke-width="1"/>
<line x1="128" y1="656.4" x2="133" y2="656.4" stroke="#222" stroke-width="1"/>
<line x1="128" y1="665" x2="133" y2="665" stroke="#222" stroke-width="1"/>
<line x1="154.9" y1="698.5" x2="154.9" y2="702" stroke="#222" stroke-width="1"/>
<line x1="152.4" y1="698.5" x2="157.4" y2="698.5" stroke="#222" stroke-width="1"/>
<line x1="152.4" y1="702" x2="157.4" y2="702" stroke="#222" stroke-width="1"/>
<line x1="170.3" y1="690.5" x2="170.3" y2="697" stroke="#222" stroke-width="1"/>
<line x1="167.8" y1="690.5" x2="172.8" y2="690.5" stroke="#222" stroke-width="1"/>
<line x1="167.8" y1="697" x2="172.8" y2="697" stroke="#222" stroke-width="1"/>
<line x1="185.5" y1="678.4" x2="185.5" y2="688" stroke="#222" stroke-width="1"/>
<line x1="183" y1="678.4" x2="188" y2="678.4" stroke="#222" stroke-width="1"/>
<line x1="183" y1="688" x2="188" y2="688" stroke="#222" stroke-width="1"/>
<line x1="201" y1="642" x2="201" y2="654.1" stroke="#222" stroke-width="1"/>
<line x1="198.5" y1="642" x2="203.5" y2="642" stroke="#222" stroke-width="1"/>
<line x1="198.5" y1="654.1" x2="203.5" y2="654.1" stroke="#222" stroke-width="1"/>
<circle cx="83" cy="699.5" r="1.2" fill="#fff" stroke="#222" stroke-width="0.8"/>
<circle cx="85.5" cy="702" r="1.2" fill="#fff" stroke="#222" stroke-width="0.8"/>
<circle cx="87.5" cy="701" r="1.2" fill="#fff" stroke="#222" stroke-width="0.8"/>
<circle cx="100" cy="695" r="1.2" fill="#fff" stroke="#222" stroke-width="0.8"/>
<circle cx="100" cy="702" r="1.2" fill="#fff" stroke="#222" stroke-width="0.8"/>
<circle cx="99" cy="704" r="1.2" fill="#fff" stroke="#222" stroke-width="0.8"/>
<circle cx="115.2" cy="674.4" r="1.2" fill="#111"/>
<circle cx="115.2" cy="688" r="1.2" fill="#111"/>
<circle cx="115.2" cy="695.2" r="1.2" fill="#111"/>
<circle cx="130.5" cy="655.6" r="1.2" fill="#111"/>
<circle cx="130.5" cy="663" r="1.2" fill="#111"/>
<circle cx="130.5" cy="669.8" r="1.2" fill="#111"/>
<circle cx="153.5" cy="699" r="1.2" fill="#fff" stroke="#222" stroke-width="0.8"/>
<circle cx="156.5" cy="699" r="1.2" fill="#fff" stroke="#222" stroke-width="0.8"/>
<circle cx="155" cy="702" r="1.2" fill="#fff" stroke="#222" stroke-width="0.8"/>
<circle cx="170.3" cy="690" r="1.2" fill="#fff" stroke="#222" stroke-width="0.8"/>
<circle cx="170.3" cy="694" r="1.2" fill="#fff" stroke="#222" stroke-width="0.8"/>
<circle cx="170.3" cy="698" r="1.2" fill="#fff" stroke="#222" stroke-width="0.8"/>
<circle cx="185.7" cy="674.6" r="1.2" fill="#111"/>
<circle cx="183.5" cy="686" r="1.2" fill="#111"/>
<circle cx="188" cy="686" r="1.2" fill="#111"/>
<circle cx="201" cy="637.7" r="1.2" fill="#111"/>
<circle cx="201" cy="648.6" r="1.2" fill="#111"/>
<circle cx="201" cy="659.3" r="1.2" fill="#111"/>
<line x1="71.8" y1="623.8" x2="71.8" y2="719.1" stroke="#111" stroke-width="1.5"/>
<line x1="69" y1="624.4" x2="71.8" y2="624.4" stroke="#111" stroke-width="1.2"/>
<text x="68.5" y="627.21" font-size="7.8" text-anchor="end" fill="#1a1a1a" stroke="#1a1a1a" stroke-width="0.08">3</text>
<line x1="69" y1="655.77" x2="71.8" y2="655.77" stroke="#111" stroke-width="1.2"/>
<text x="68.5" y="658.57" font-size="7.8" text-anchor="end" fill="#1a1a1a" stroke="#1a1a1a" stroke-width="0.08">2</text>
<line x1="69" y1="687.13" x2="71.8" y2="687.13" stroke="#111" stroke-width="1.2"/>
<text x="68.5" y="689.94" font-size="7.8" text-anchor="end" fill="#1a1a1a" stroke="#1a1a1a" stroke-width="0.08">1</text>
<line x1="69" y1="718.5" x2="71.8" y2="718.5" stroke="#111" stroke-width="1.2"/>
<text x="68.5" y="721.31" font-size="7.8" text-anchor="end" fill="#1a1a1a" stroke="#1a1a1a" stroke-width="0.08">0</text>
<line x1="71.05" y1="718.5" x2="213.6" y2="718.5" stroke="#111" stroke-width="1.6"/>
<line x1="100.3" y1="633" x2="130.9" y2="633" stroke="#111" stroke-width="1.3"/>
<polygon points="112.20,625.15 111.58,626.22 110.34,626.22 110.95,627.30 110.34,628.38 111.58,628.38 112.20,629.45 112.83,628.38 114.06,628.38 113.45,627.30 114.06,626.22 112.83,626.22" fill="#0c0c0c"/>
<polygon points="115.90,625.15 115.28,626.22 114.04,626.22 114.65,627.30 114.04,628.38 115.28,628.38 115.90,629.45 116.53,628.38 117.76,628.38 117.15,627.30 117.76,626.22 116.53,626.22" fill="#0c0c0c"/>
<polygon points="119.60,625.15 118.98,626.22 117.74,626.22 118.35,627.30 117.74,628.38 118.98,628.38 119.60,629.45 120.23,628.38 121.46,628.38 120.85,627.30 121.46,626.22 120.23,626.22" fill="#0c0c0c"/>
<line x1="116.4" y1="649" x2="130.9" y2="649" stroke="#111" stroke-width="1.3"/>
<polygon points="122.15,641.55 121.53,642.62 120.29,642.62 120.90,643.70 120.29,644.78 121.53,644.78 122.15,645.85 122.78,644.78 124.01,644.78 123.40,643.70 124.01,642.62 122.78,642.62" fill="#0c0c0c"/>
<polygon points="125.85,641.55 125.22,642.62 123.99,642.62 124.60,643.70 123.99,644.78 125.22,644.78 125.85,645.85 126.47,644.78 127.71,644.78 127.10,643.70 127.71,642.62 126.47,642.62" fill="#0c0c0c"/>
<line x1="170.3" y1="622.1" x2="200.9" y2="622.1" stroke="#111" stroke-width="1.3"/>
<polygon points="182.20,614.45 181.58,615.52 180.34,615.52 180.95,616.60 180.34,617.68 181.58,617.68 182.20,618.75 182.83,617.68 184.06,617.68 183.45,616.60 184.06,615.52 182.83,615.52" fill="#0c0c0c"/>
<polygon points="185.90,614.45 185.28,615.52 184.04,615.52 184.65,616.60 184.04,617.68 185.28,617.68 185.90,618.75 186.53,617.68 187.76,617.68 187.15,616.60 187.76,615.52 186.53,615.52" fill="#0c0c0c"/>
<polygon points="189.60,614.45 188.97,615.52 187.74,615.52 188.35,616.60 187.74,617.68 188.97,617.68 189.60,618.75 190.22,617.68 191.46,617.68 190.85,616.60 191.46,615.52 190.22,615.52" fill="#0c0c0c"/>
<line x1="185.9" y1="633" x2="200.6" y2="633" stroke="#111" stroke-width="1.3"/>
<polygon points="189.40,625.65 188.78,626.72 187.54,626.72 188.15,627.80 187.54,628.88 188.78,628.88 189.40,629.95 190.03,628.88 191.26,628.88 190.65,627.80 191.26,626.72 190.03,626.72" fill="#0c0c0c"/>
<polygon points="193.10,625.65 192.47,626.72 191.24,626.72 191.85,627.80 191.24,628.88 192.47,628.88 193.10,629.95 193.72,628.88 194.96,628.88 194.35,627.80 194.96,626.72 193.72,626.72" fill="#0c0c0c"/>
<polygon points="196.80,625.65 196.17,626.72 194.94,626.72 195.55,627.80 194.94,628.88 196.17,628.88 196.80,629.95 197.42,628.88 198.66,628.88 198.05,627.80 198.66,626.72 197.42,626.72" fill="#0c0c0c"/>
<text x="81.1" y="730.8" font-size="8.7" text-anchor="middle" stroke="#050505" stroke-width="0.2">Ctrl</text>
<text x="97.4" y="730.8" font-size="8.7" text-anchor="middle" stroke="#050505" stroke-width="0.2">KO</text>
<text x="112.5" y="730.8" font-size="8.7" text-anchor="middle" stroke="#050505" stroke-width="0.2">Ctrl</text>
<text x="128.85" y="730.8" font-size="8.7" text-anchor="middle" stroke="#050505" stroke-width="0.2">KO</text>
<text x="152" y="730.8" font-size="8.7" text-anchor="middle" stroke="#050505" stroke-width="0.2">Ctrl</text>
<text x="168.3" y="730.8" font-size="8.7" text-anchor="middle" stroke="#050505" stroke-width="0.2">KO</text>
<text x="183.4" y="730.8" font-size="8.7" text-anchor="middle" stroke="#050505" stroke-width="0.2">Ctrl</text>
<text x="199.7" y="730.8" font-size="8.7" text-anchor="middle" stroke="#050505" stroke-width="0.2">KO</text>
<line x1="74.3" y1="735.8" x2="99.7" y2="735.8" stroke="#111" stroke-width="1.3"/>
<line x1="106.9" y1="735.8" x2="131.4" y2="735.8" stroke="#111" stroke-width="1.3"/>
<line x1="147.9" y1="735.8" x2="173.5" y2="735.8" stroke="#111" stroke-width="1.3"/>
<line x1="179.6" y1="735.8" x2="204.1" y2="735.8" stroke="#111" stroke-width="1.3"/>
<text x="89.65" y="746.5" font-size="8.7" text-anchor="middle" stroke="#050505" stroke-width="0.2">VEH</text>
<text x="123.1" y="746.5" font-size="8.7" text-anchor="middle" stroke="#050505" stroke-width="0.2">CORT</text>
<text x="162.2" y="746.5" font-size="8.7" text-anchor="middle" stroke="#050505" stroke-width="0.2">VEH</text>
<text x="196" y="746.5" font-size="8.7" text-anchor="middle" stroke="#050505" stroke-width="0.2">CORT</text>
<line x1="77.2" y1="752.5" x2="130.6" y2="752.5" stroke="#111" stroke-width="1.3"/>
<line x1="150.8" y1="752.5" x2="205" y2="752.5" stroke="#111" stroke-width="1.3"/>
<text x="106" y="764.4" font-size="8.7" text-anchor="middle" stroke="#050505" stroke-width="0.2">SCAT</text>
<text x="178.1" y="764.4" font-size="8.7" text-anchor="middle" stroke="#050505" stroke-width="0.2">GAT</text>
<text x="47" y="666" font-size="10.4" text-anchor="middle" stroke="#050505" stroke-width="0.08" transform="rotate(-90 47 666)">Adipose tissue weight (g)</text>
<rect x="339" y="674.4" width="11.5" height="44.3" fill="#ffffff" stroke="#2a2a2a" stroke-width="1.1"/>
<rect x="354.6" y="680.1" width="11.4" height="38.6" fill="#cfcfcf" stroke="#2a2a2a" stroke-width="1.1"/>
<rect x="370.5" y="656.2" width="10.8" height="62.5" fill="#8a8a8a" stroke="#2a2a2a" stroke-width="1.1"/>
<rect x="385.7" y="659.3" width="11.1" height="59.4" fill="#4b4b4b" stroke="#2a2a2a" stroke-width="1.1"/>
<rect x="410.9" y="672.3" width="11.1" height="46.4" fill="#ffffff" stroke="#2a2a2a" stroke-width="1.1"/>
<rect x="426.1" y="666.2" width="11.1" height="52.5" fill="#cfcfcf" stroke="#2a2a2a" stroke-width="1.1"/>
<rect x="441.7" y="662.8" width="11.1" height="55.9" fill="#8a8a8a" stroke="#2a2a2a" stroke-width="1.1"/>
<rect x="457.6" y="652.9" width="10.8" height="65.8" fill="#4b4b4b" stroke="#2a2a2a" stroke-width="1.1"/>
<line x1="344.7" y1="670.2" x2="344.7" y2="678.4" stroke="#222" stroke-width="1"/>
<line x1="342.2" y1="670.2" x2="347.2" y2="670.2" stroke="#222" stroke-width="1"/>
<line x1="342.2" y1="678.4" x2="347.2" y2="678.4" stroke="#222" stroke-width="1"/>
<line x1="360.3" y1="672" x2="360.3" y2="687" stroke="#222" stroke-width="1"/>
<line x1="357.8" y1="672" x2="362.8" y2="672" stroke="#222" stroke-width="1"/>
<line x1="357.8" y1="687" x2="362.8" y2="687" stroke="#222" stroke-width="1"/>
<line x1="375.9" y1="640.8" x2="375.9" y2="670.6" stroke="#222" stroke-width="1"/>
<line x1="373.4" y1="640.8" x2="378.4" y2="640.8" stroke="#222" stroke-width="1"/>
<line x1="373.4" y1="670.6" x2="378.4" y2="670.6" stroke="#222" stroke-width="1"/>
<line x1="391.2" y1="653.3" x2="391.2" y2="664.5" stroke="#222" stroke-width="1"/>
<line x1="388.7" y1="653.3" x2="393.7" y2="653.3" stroke="#222" stroke-width="1"/>
<line x1="388.7" y1="664.5" x2="393.7" y2="664.5" stroke="#222" stroke-width="1"/>
<line x1="416.4" y1="668" x2="416.4" y2="675.5" stroke="#222" stroke-width="1"/>
<line x1="413.9" y1="668" x2="418.9" y2="668" stroke="#222" stroke-width="1"/>
<line x1="413.9" y1="675.5" x2="418.9" y2="675.5" stroke="#222" stroke-width="1"/>
<line x1="431.6" y1="663.7" x2="431.6" y2="668.5" stroke="#222" stroke-width="1"/>
<line x1="429.1" y1="663.7" x2="434.1" y2="663.7" stroke="#222" stroke-width="1"/>
<line x1="429.1" y1="668.5" x2="434.1" y2="668.5" stroke="#222" stroke-width="1"/>
<line x1="447.2" y1="650.7" x2="447.2" y2="675" stroke="#222" stroke-width="1"/>
<line x1="444.7" y1="650.7" x2="449.7" y2="650.7" stroke="#222" stroke-width="1"/>
<line x1="444.7" y1="675" x2="449.7" y2="675" stroke="#222" stroke-width="1"/>
<line x1="463" y1="641.2" x2="463" y2="664.5" stroke="#222" stroke-width="1"/>
<line x1="460.5" y1="641.2" x2="465.5" y2="641.2" stroke="#222" stroke-width="1"/>
<line x1="460.5" y1="664.5" x2="465.5" y2="664.5" stroke="#222" stroke-width="1"/>
<circle cx="345" cy="670" r="1.2" fill="#111"/>
<circle cx="345" cy="678.4" r="1.2" fill="#111"/>
<circle cx="360.3" cy="665" r="1.2" fill="#fff" stroke="#222" stroke-width="0.8"/>
<circle cx="360.3" cy="685" r="1.2" fill="#fff" stroke="#222" stroke-width="0.8"/>
<circle cx="359.5" cy="688" r="1.2" fill="#111"/>
<circle cx="360.3" cy="690" r="1.2" fill="#fff" stroke="#222" stroke-width="0.8"/>
<circle cx="376" cy="637.4" r="1.2" fill="#111"/>
<circle cx="376" cy="644.7" r="1.2" fill="#111"/>
<circle cx="376" cy="685.3" r="1.2" fill="#111"/>
<circle cx="391.2" cy="652" r="1.2" fill="#111"/>
<circle cx="391.2" cy="655.8" r="1.2" fill="#111"/>
<circle cx="391.2" cy="670" r="1.2" fill="#111"/>
<circle cx="416.3" cy="663.5" r="1.2" fill="#fff" stroke="#222" stroke-width="0.8"/>
<circle cx="414" cy="676.4" r="1.2" fill="#fff" stroke="#222" stroke-width="0.8"/>
<circle cx="418" cy="674.5" r="1.2" fill="#fff" stroke="#222" stroke-width="0.8"/>
<circle cx="431.5" cy="663" r="1.2" fill="#111"/>
<circle cx="431.5" cy="668" r="1.2" fill="#111"/>
<circle cx="447.3" cy="638.4" r="1.2" fill="#111"/>
<circle cx="444.8" cy="675" r="1.2" fill="#111"/>
<circle cx="450" cy="674.4" r="1.2" fill="#111"/>
<circle cx="463" cy="631.3" r="1.2" fill="#111"/>
<circle cx="463" cy="655.4" r="1.2" fill="#111"/>
<circle cx="463" cy="671" r="1.2" fill="#111"/>
<line x1="331.7" y1="622.1" x2="331.7" y2="719.3" stroke="#111" stroke-width="1.5"/>
<line x1="328.9" y1="622.7" x2="331.7" y2="622.7" stroke="#111" stroke-width="1.2"/>
<text x="328.4" y="626.73" font-size="9.6" text-anchor="end" fill="#1a1a1a" stroke="#1a1a1a" stroke-width="0.08">1×10<tspan font-size="6.72" dy="-4.03">7</tspan></text>
<line x1="328.9" y1="641.9" x2="331.7" y2="641.9" stroke="#111" stroke-width="1.2"/>
<text x="328.4" y="645.93" font-size="9.6" text-anchor="end" fill="#1a1a1a" stroke="#1a1a1a" stroke-width="0.08">8×10<tspan font-size="6.72" dy="-4.03">6</tspan></text>
<line x1="328.9" y1="661.1" x2="331.7" y2="661.1" stroke="#111" stroke-width="1.2"/>
<text x="328.4" y="665.13" font-size="9.6" text-anchor="end" fill="#1a1a1a" stroke="#1a1a1a" stroke-width="0.08">6×10<tspan font-size="6.72" dy="-4.03">6</tspan></text>
<line x1="328.9" y1="680.3" x2="331.7" y2="680.3" stroke="#111" stroke-width="1.2"/>
<text x="328.4" y="684.33" font-size="9.6" text-anchor="end" fill="#1a1a1a" stroke="#1a1a1a" stroke-width="0.08">4×10<tspan font-size="6.72" dy="-4.03">6</tspan></text>
<line x1="328.9" y1="699.5" x2="331.7" y2="699.5" stroke="#111" stroke-width="1.2"/>
<text x="328.4" y="703.53" font-size="9.6" text-anchor="end" fill="#1a1a1a" stroke="#1a1a1a" stroke-width="0.08">2×10<tspan font-size="6.72" dy="-4.03">6</tspan></text>
<line x1="328.9" y1="718.7" x2="331.7" y2="718.7" stroke="#111" stroke-width="1.2"/>
<text x="328.4" y="722.16" font-size="9.6" text-anchor="end" fill="#1a1a1a" stroke="#1a1a1a" stroke-width="0.08">0</text>
<line x1="330.95" y1="718.7" x2="475.3" y2="718.7" stroke="#111" stroke-width="1.6"/>
<text x="343.3" y="730.8" font-size="8.7" text-anchor="middle" stroke="#050505" stroke-width="0.2">Ctrl</text>
<text x="359.1" y="730.8" font-size="8.7" text-anchor="middle" stroke="#050505" stroke-width="0.2">KO</text>
<text x="375" y="730.8" font-size="8.7" text-anchor="middle" stroke="#050505" stroke-width="0.2">Ctrl</text>
<text x="390.9" y="730.8" font-size="8.7" text-anchor="middle" stroke="#050505" stroke-width="0.2">KO</text>
<text x="416.1" y="730.8" font-size="8.7" text-anchor="middle" stroke="#050505" stroke-width="0.2">Ctrl</text>
<text x="431.3" y="730.8" font-size="8.7" text-anchor="middle" stroke="#050505" stroke-width="0.2">KO</text>
<text x="447.8" y="730.8" font-size="8.7" text-anchor="middle" stroke="#050505" stroke-width="0.2">Ctrl</text>
<text x="463" y="730.8" font-size="8.7" text-anchor="middle" stroke="#050505" stroke-width="0.2">KO</text>
<line x1="337.2" y1="735.2" x2="362.3" y2="735.2" stroke="#111" stroke-width="1.3"/>
<line x1="368.9" y1="735.2" x2="393.5" y2="735.2" stroke="#111" stroke-width="1.3"/>
<line x1="410.2" y1="735.2" x2="434.4" y2="735.2" stroke="#111" stroke-width="1.3"/>
<line x1="441" y1="735.2" x2="466.1" y2="735.2" stroke="#111" stroke-width="1.3"/>
<text x="350.9" y="746.2" font-size="8.7" text-anchor="middle" stroke="#050505" stroke-width="0.2">VEH</text>
<text x="385.25" y="746.2" font-size="8.7" text-anchor="middle" stroke="#050505" stroke-width="0.2">CORT</text>
<text x="423.75" y="746.2" font-size="8.7" text-anchor="middle" stroke="#050505" stroke-width="0.2">VEH</text>
<text x="458" y="746.2" font-size="8.7" text-anchor="middle" stroke="#050505" stroke-width="0.2">CORT</text>
<line x1="339.2" y1="751.9" x2="393.5" y2="751.9" stroke="#111" stroke-width="1.3"/>
<line x1="413.1" y1="751.9" x2="466.1" y2="751.9" stroke="#111" stroke-width="1.3"/>
<text x="368" y="763.6" font-size="8.7" text-anchor="middle" stroke="#050505" stroke-width="0.2">SCAT</text>
<text x="439.6" y="763.6" font-size="8.7" text-anchor="middle" stroke="#050505" stroke-width="0.2">GAT</text>
<text x="283" y="666.85" font-size="10.4" text-anchor="middle" stroke="#050505" stroke-width="0.08" transform="rotate(-90 283 666.85)">Adipocyte number</text>
<text x="295.5" y="666.85" font-size="10.4" text-anchor="middle" stroke="#050505" stroke-width="0.08" transform="rotate(-90 295.5 666.85)">estimation</text>
<text x="278.4" y="27.6" font-size="10" text-anchor="middle" stroke="#050505" stroke-width="0.08">Ctrl</text>
<text x="278.4" y="39.1" font-size="10" text-anchor="middle" stroke="#050505" stroke-width="0.08">CORT</text>
<text x="343.1" y="27.6" font-size="10" text-anchor="middle" stroke="#050505" stroke-width="0.08">AdipoGR-KO</text>
<text x="343.1" y="39.1" font-size="10" text-anchor="middle" stroke="#050505" stroke-width="0.08">CORT</text>
<text x="244" y="66" font-size="10" text-anchor="middle" stroke="#050505" stroke-width="0.08" transform="rotate(-90 244 66)">SCAT</text>
<text x="244" y="115.2" font-size="10" text-anchor="middle" stroke="#050505" stroke-width="0.08" transform="rotate(-90 244 115.2)">GAT</text>
<clipPath id="cb11"><rect x="247.3" y="42.6" width="62.5" height="46.7"/></clipPath>
<rect x="247.3" y="42.6" width="62.5" height="46.7" fill="#f1f3f1"/>
<g clip-path="url(#cb11)">
<path d="M327.5 59.4L313.2 63.0M312.2 67.9L313.2 63.0M339.0 80.9L311.9 72.9M312.2 67.9L311.4 68.7M311.9 72.9L311.4 68.7M300.9 42.0L301.6 41.1M300.9 42.0L295.2 42.9M301.6 41.1L295.5 12.1M291.3 32.3L295.2 42.9M291.3 32.3L286.5 39.1M286.5 39.1L281.5 40.2M279.2 38.4L281.5 40.2M245.1 64.1L221.5 67.4M245.1 64.1L247.2 65.9M247.2 65.9L247.0 67.4M247.0 67.4L244.4 71.1M221.5 67.4L244.4 71.1M252.0 71.3L247.0 67.4M252.0 71.3L250.9 73.2M245.3 73.0L250.9 73.2M245.3 73.0L244.4 71.1M242.4 78.9L244.9 77.3M244.9 77.3L245.3 73.0M339.0 80.9L313.0 82.9M311.9 72.9L308.3 77.4M308.3 77.4L313.0 82.9M313.0 82.9L309.3 87.7M284.8 84.6L287.6 89.7M284.8 84.6L289.8 80.4M289.8 80.4L292.2 81.1M292.2 81.1L294.4 88.1M294.4 88.1L288.7 90.3M288.7 90.3L287.6 89.7M258.7 33.9L264.3 41.2M258.7 44.6L264.3 41.2M258.7 44.6L257.9 44.0M257.9 44.0L257.1 36.2M247.4 36.4L252.3 38.6M252.3 38.6L257.1 36.2M245.1 64.1L244.7 59.6M244.7 59.6L244.1 59.1M242.6 46.4L243.9 40.9M247.4 36.4L245.7 40.1M245.7 40.1L243.9 40.9M312.9 50.2L312.0 49.9M312.9 50.2L313.9 55.6M312.0 49.9L305.9 54.2M313.9 55.6L310.0 58.2M310.0 58.2L305.9 54.2M327.5 59.4L313.9 55.6M324.7 45.4L312.9 50.2M309.2 45.8L312.0 49.9M309.2 45.8L302.7 49.3M305.0 54.0L302.7 49.3M305.0 54.0L305.9 54.2M302.7 49.3L302.7 49.3M310.0 60.0L313.2 63.0M310.0 60.0L310.0 58.2M295.6 78.8L292.2 81.1M295.6 78.8L296.3 76.9M289.8 80.4L288.0 76.2M288.0 76.2L291.9 72.6M296.3 76.9L291.9 72.6M310.0 60.0L305.2 63.4M311.4 68.7L306.3 67.7M305.2 63.4L306.3 67.7M299.4 75.2L296.3 76.9M299.4 75.2L299.2 69.9M291.9 72.6L292.3 69.6M292.3 69.6L296.4 67.3M299.2 69.9L296.4 67.3M304.7 77.6L306.1 77.1M304.7 77.6L299.4 75.2M306.1 77.1L305.0 69.3M299.2 69.9L305.0 69.3M308.3 77.4L306.1 77.1M305.0 69.3L306.3 67.7M306.9 40.8L308.4 26.0M306.9 40.8L309.7 42.7M309.7 42.7L310.2 42.5M310.2 42.5L312.8 38.2M312.8 38.2L308.4 26.0M301.6 41.1L306.9 40.8M300.9 42.0L302.7 49.3M309.2 45.8L309.7 42.7M324.7 45.4L310.2 42.5M275.1 40.8L273.4 45.9M275.1 40.8L269.6 36.5M269.6 36.5L266.6 41.7M266.6 41.7L268.7 45.7M268.7 45.7L272.6 46.3M273.4 45.9L272.6 46.3M281.0 46.9L281.5 40.2M281.0 46.9L273.4 45.9M279.2 38.4L275.1 40.8M264.3 41.2L266.6 41.7M259.7 47.9L258.7 44.6M259.7 47.9L265.0 50.2M265.0 50.2L268.7 45.7M265.3 52.6L273.0 55.9M265.3 52.6L265.0 50.2M274.3 54.5L273.0 55.9M274.3 54.5L272.6 46.3M247.2 65.9L249.0 65.0M244.7 59.6L250.3 58.4M249.0 65.0L250.3 58.4M244.9 77.3L248.4 78.6M250.9 73.2L251.7 76.6M248.4 78.6L251.7 76.6M248.4 78.6L249.3 82.2M251.7 76.6L254.7 77.8M254.7 77.8L255.1 81.4M255.1 81.4L251.1 83.3M249.3 82.2L251.1 83.3M242.4 78.9L244.6 84.9M249.3 82.2L244.6 84.9M244.6 84.9L244.1 86.7M295.9 88.7L304.0 89.4M295.9 88.7L295.5 88.4M295.5 88.4L299.7 82.8M304.0 89.4L305.6 87.9M305.6 87.9L302.4 82.3M299.7 82.8L302.4 82.3M301.2 115.0L295.9 88.7M301.2 115.0L304.0 89.4M294.4 88.1L295.5 88.4M295.6 78.8L299.7 82.8M309.3 87.7L305.6 87.9M304.7 77.6L302.4 82.3M284.8 84.6L282.8 83.9M288.0 76.2L284.7 75.0M284.7 75.0L282.8 76.0M282.8 76.0L282.8 83.9M245.7 40.1L249.3 44.8M252.3 38.6L252.1 44.1M249.3 44.8L252.1 44.1M257.9 44.0L252.5 44.3M252.1 44.1L252.5 44.3M305.2 63.4L301.4 61.6M296.4 67.3L296.6 66.1M296.6 66.1L301.4 61.6M305.0 54.0L300.8 58.4M300.8 58.4L301.4 61.6M281.0 46.9L281.6 47.6M274.3 54.5L280.1 53.9M281.6 47.6L280.1 53.9M290.1 60.9L283.4 58.2M290.1 60.9L287.4 67.3M287.4 67.3L284.6 67.8M281.8 61.4L283.4 58.2M281.8 61.4L283.8 67.4M283.8 67.4L284.6 67.8M292.3 69.6L287.4 67.3M292.0 60.3L296.6 66.1M292.0 60.3L290.1 60.9M284.7 75.0L284.6 67.8M276.1 62.3L272.6 58.9M276.1 62.3L281.8 61.4M272.6 58.9L273.0 55.9M280.1 53.9L283.2 57.0M283.2 57.0L283.4 58.2M276.1 62.3L275.2 67.8M276.4 69.9L275.2 67.8M276.4 69.9L283.8 67.4M269.2 66.0L262.6 68.1M269.2 66.0L269.5 66.3M269.5 66.3L268.3 71.9M268.3 71.9L264.4 71.8M264.4 71.8L262.6 68.1M272.6 58.9L268.6 61.7M268.6 61.7L269.2 66.0M275.2 67.8L269.5 66.3M259.7 47.9L255.9 51.7M252.5 44.3L253.9 51.3M255.9 51.7L253.9 51.3M252.0 71.3L253.4 70.6M249.0 65.0L253.9 65.4M253.9 65.4L253.4 70.6M257.9 75.2L257.0 72.2M257.9 75.2L254.7 77.8M253.4 70.6L257.0 72.2M246.0 91.5L245.9 88.9M246.0 91.5L250.0 95.5M245.9 88.9L251.3 87.1M250.0 95.5L255.3 90.0M255.3 90.0L251.3 87.1M244.1 86.7L245.9 88.9M251.1 83.3L251.3 87.1M279.3 93.1L277.1 88.3M279.3 93.1L287.6 89.7M282.8 83.9L282.4 84.0M282.4 84.0L277.1 88.3M276.2 70.5L269.7 73.1M276.2 70.5L277.8 75.3M277.8 75.3L275.5 78.7M269.7 73.1L270.0 78.9M270.0 78.9L274.0 79.6M274.0 79.6L275.5 78.7M276.4 69.9L276.2 70.5M268.3 71.9L269.7 73.1M282.8 76.0L277.8 75.3M282.4 84.0L275.5 78.7M277.1 88.3L274.9 87.6M274.9 87.6L274.0 79.6M242.6 46.4L243.8 47.4M249.3 44.8L247.4 47.2M243.8 47.4L247.4 47.2M253.9 51.3L249.9 52.8M247.4 47.2L249.9 52.8M296.1 56.2L293.4 57.4M296.1 56.2L296.8 50.4M293.4 57.4L288.8 52.9M296.8 50.4L292.5 46.8M288.8 52.9L289.6 47.6M292.5 46.8L290.0 47.3M290.0 47.3L289.6 47.6M292.0 60.3L293.4 57.4M300.8 58.4L296.1 56.2M302.7 49.3L296.8 50.4M283.2 57.0L288.8 52.9M295.2 42.9L292.5 46.8M281.6 47.6L289.6 47.6M286.5 39.1L290.0 47.3M260.5 65.9L255.8 64.2M260.5 65.9L263.9 60.6M255.8 64.2L255.0 59.5M255.0 59.5L258.2 56.4M258.2 56.4L262.4 56.9M262.4 56.9L263.9 60.6M253.9 65.4L255.8 64.2M257.0 72.2L260.8 66.7M260.8 66.7L260.5 65.9M268.6 61.7L263.9 60.6M262.6 68.1L260.8 66.7M250.3 58.4L250.5 58.2M250.5 58.2L255.0 59.5M250.5 58.2L249.6 53.3M255.9 51.7L258.2 56.4M249.6 53.3L249.9 52.8M265.3 52.6L262.4 56.9M255.1 81.4L256.2 82.3M256.0 89.9L256.4 89.3M256.0 89.9L255.3 90.0M256.2 82.3L256.4 89.3M262.9 74.6L260.1 75.9M262.9 74.6L268.2 79.9M260.1 75.9L261.5 81.9M268.2 79.9L267.3 81.1M267.3 81.1L262.6 82.7M261.5 81.9L262.6 82.7M257.9 75.2L260.1 75.9M264.4 71.8L262.9 74.6M270.0 78.9L268.2 79.9M256.2 82.3L261.5 81.9M274.9 87.6L270.1 89.1M270.1 89.1L267.3 81.1M262.2 85.9L262.6 82.7M262.2 85.9L256.4 89.3M268.8 90.7L265.8 90.3M265.8 90.3L259.7 93.9M270.1 89.1L268.8 90.7M262.2 85.9L265.8 90.3M256.0 89.9L259.7 93.9M239.0 53.6L244.0 56.3M239.0 53.6L243.1 50.9M243.1 50.9L246.3 53.7M244.0 56.3L246.3 53.7M244.1 59.1L244.0 56.3M243.8 47.4L243.1 50.9M249.6 53.3L246.3 53.7" fill="none" stroke="#dfd9d0" stroke-width="0.9"/>
<g fill="#c49470" opacity="0.8"><circle cx="276.4" cy="69.9" r="0.7"/><circle cx="281.6" cy="47.6" r="0.6"/><circle cx="249.3" cy="82.2" r="0.8"/><circle cx="258.2" cy="56.4" r="0.4"/><circle cx="263.9" cy="60.6" r="0.4"/><circle cx="291.9" cy="72.6" r="0.6"/><circle cx="284.7" cy="75.0" r="0.8"/><circle cx="299.4" cy="75.2" r="0.7"/><circle cx="269.5" cy="66.3" r="0.5"/></g>
<polygon points="255.3,54.2 257.0,58.3 257.4,56.9 259.9,58.9 260.9,57.7 258.4,55.7 259.7,55.0" fill="#050505" stroke="#ffffff" stroke-width="0.9" stroke-linejoin="round" paint-order="stroke"/>
<polygon points="248.0,63.3 249.7,67.4 250.1,66.0 252.6,68.0 253.6,66.8 251.1,64.8 252.4,64.1" fill="#050505" stroke="#ffffff" stroke-width="0.9" stroke-linejoin="round" paint-order="stroke"/>
<polygon points="266.2,63.3 267.9,67.4 268.3,66.0 270.8,68.0 271.8,66.8 269.3,64.8 270.6,64.1" fill="#050505" stroke="#ffffff" stroke-width="0.9" stroke-linejoin="round" paint-order="stroke"/>
<line x1="287.3" y1="84.7" x2="308" y2="84.7" stroke="#333" stroke-width="0.8"/>
<text x="297.8" y="88.6" font-size="4" text-anchor="middle" font-weight="bold" fill="#222">100 µm</text>
</g>
<rect x="247.3" y="42.6" width="62.5" height="46.7" fill="none" stroke="#6f6f6f" stroke-width="1.2"/>
<clipPath id="cb12"><rect x="312" y="42.6" width="62.2" height="46.7"/></clipPath>
<rect x="312" y="42.6" width="62.2" height="46.7" fill="#f1f3f1"/>
<g clip-path="url(#cb12)">
<path d="M385.9 42.2L376.7 39.9M358.3 42.8L362.2 41.0M358.3 42.8L354.8 40.3M354.8 40.3L355.8 37.5M355.8 37.5L362.1 38.5M362.2 41.0L362.1 38.5M350.5 42.2L346.2 43.7M350.5 42.2L350.6 42.0M350.6 42.0L343.6 16.6M343.6 16.6L343.4 42.0M343.4 42.0L346.2 43.7M338.6 42.9L335.8 40.9M338.6 42.9L343.4 42.0M362.1 38.5L362.4 37.7M354.8 40.3L350.6 42.0M376.7 39.9L374.8 40.9M374.8 40.9L372.1 40.0M372.1 40.0L370.5 30.1M371.9 90.3L371.7 89.7M371.7 89.7L374.2 86.5M347.2 62.6L351.3 61.7M347.2 62.6L347.1 62.7M347.1 62.7L348.2 71.9M351.3 61.7L356.8 66.6M356.8 66.6L354.7 72.4M348.2 71.9L354.7 72.4M332.3 91.4L328.3 89.5M321.0 92.5L328.3 89.5M364.5 47.3L369.8 47.8M364.5 47.3L364.3 42.4M369.8 47.8L369.7 41.4M364.3 42.4L367.7 41.0M369.7 41.4L367.7 41.0M362.2 41.0L364.3 42.4M362.4 37.7L366.4 37.1M366.4 37.1L367.7 41.0M372.1 40.0L369.7 41.4M362.5 48.9L363.1 53.1M362.5 48.9L358.4 47.7M363.1 53.1L357.6 56.3M358.4 47.7L354.6 49.8M354.6 49.8L353.2 52.5M353.2 52.5L354.5 55.6M354.5 55.6L357.6 56.3M358.3 42.8L358.4 47.7M364.5 47.3L362.5 48.9M350.5 42.2L354.6 49.8M345.4 51.3L353.2 52.5M345.4 51.3L346.2 43.7M345.4 51.3L345.3 51.4M345.0 59.1L345.3 51.4M345.0 59.1L347.2 62.6M351.3 61.7L354.5 55.6M369.2 89.5L364.2 83.8M369.2 89.5L362.2 95.5M364.2 83.8L362.8 83.6M362.8 83.6L359.3 85.5M359.3 85.5L362.2 95.5M371.7 89.7L369.2 89.5M364.2 83.8L370.1 79.9M374.2 86.5L373.6 81.5M370.1 79.9L373.6 81.5M373.6 81.5L375.4 80.2M356.8 66.6L360.0 65.6M357.6 56.3L361.8 61.6M360.0 65.6L361.8 61.6M374.8 40.9L375.8 47.0M369.8 47.8L370.7 48.6M370.7 48.6L375.8 47.0M385.9 42.2L375.9 47.1M375.9 47.1L375.8 47.0M363.1 53.1L366.6 55.6M370.7 48.6L370.4 52.3M366.6 55.6L370.4 52.3M361.8 61.6L366.5 59.5M366.5 59.5L366.8 59.0M366.6 55.6L366.8 59.0M344.5 78.0L353.3 82.0M344.5 78.0L341.8 86.0M341.8 86.0L345.3 89.5M345.3 89.5L353.2 86.2M353.3 82.0L354.3 84.8M354.3 84.8L353.2 86.2M343.6 75.4L348.2 71.9M343.6 75.4L344.5 78.0M355.8 74.4L353.3 82.0M355.8 74.4L354.7 72.4M332.3 91.4L336.2 86.1M336.2 86.1L341.8 86.0M357.4 112.7L353.2 86.2M361.9 75.6L362.8 83.6M361.9 75.6L355.8 74.4M359.3 85.5L354.3 84.8M336.2 86.1L332.3 77.9M343.6 75.4L340.4 74.0M332.3 77.9L340.4 74.0M347.1 62.7L338.6 66.7M340.4 74.0L338.6 66.7M321.0 92.5L319.1 90.2M319.1 90.2L312.3 90.5M328.3 89.5L325.3 83.2M332.3 77.9L331.0 77.5M331.0 77.5L330.9 77.5M330.9 77.5L325.3 83.2M317.4 52.5L314.3 57.6M317.4 52.5L317.4 49.4M314.3 57.6L307.6 53.7M307.6 53.7L312.2 45.7M317.4 49.4L312.2 45.7M360.0 65.6L364.4 68.8M366.5 59.5L368.9 66.7M368.9 66.7L364.4 68.8M361.9 75.6L364.5 73.8M370.1 79.9L369.0 75.3M369.0 75.3L364.5 73.8M364.5 73.8L364.4 68.8M375.9 47.1L378.7 51.5M370.4 52.3L374.8 55.1M374.8 55.1L378.7 51.5M399.5 56.6L378.7 51.5M312.3 90.5L311.2 89.1M319.1 90.2L320.0 85.5M325.3 83.2L323.7 83.2M320.0 85.5L323.7 83.2M329.5 43.0L331.9 49.8M329.5 43.0L329.1 43.1M331.9 49.8L326.7 54.2M326.7 54.2L323.7 48.6M329.1 43.1L323.7 48.6M317.4 52.5L326.4 55.2M317.4 49.4L320.5 47.6M326.4 55.2L326.7 54.2M323.7 48.6L320.5 47.6M335.8 40.9L330.0 42.4M330.0 42.4L325.8 21.2M312.2 45.7L311.9 44.6M307.6 42.7L311.9 44.6M307.6 42.7L309.6 27.0M337.0 55.7L332.9 50.1M337.0 55.7L342.2 51.3M332.9 50.1L338.1 47.4M342.2 51.3L338.1 47.4M338.6 42.9L338.1 47.4M330.0 42.4L329.5 43.0M331.9 49.8L332.9 50.1M345.3 51.4L342.2 51.3M345.0 59.1L338.0 58.1M338.6 66.7L338.0 66.2M338.0 66.2L338.0 58.1M337.0 55.7L336.8 56.6M338.0 58.1L336.8 56.6M368.9 66.7L371.3 67.3M369.0 75.3L372.4 72.4M372.4 72.4L371.3 67.3M373.3 59.9L375.1 58.1M373.3 59.9L374.1 65.1M375.1 58.1L382.4 59.9M382.4 59.9L376.5 65.6M374.1 65.1L376.5 65.6M366.8 59.0L373.3 59.9M374.8 55.1L375.1 58.1M371.3 67.3L374.1 65.1M312.8 82.0L311.4 80.8M312.8 82.0L314.3 81.9M314.3 81.9L319.4 76.9M311.4 80.8L310.6 73.7M310.6 73.5L310.6 73.7M310.6 73.5L318.8 71.2M319.4 76.9L319.9 73.7M318.8 71.2L319.9 73.7M311.2 89.1L312.8 82.0M320.0 85.5L314.3 81.9M323.7 83.2L319.4 76.9M307.6 65.2L310.6 73.5M330.9 77.5L319.9 73.7M321.6 36.6L314.7 39.1M321.6 36.6L322.4 41.2M322.4 41.2L320.9 42.6M320.9 42.6L314.3 41.7M314.3 41.7L314.7 39.1M309.6 27.0L314.7 39.1M329.1 43.1L322.4 41.2M320.5 47.6L320.9 42.6M311.9 44.6L314.3 41.7M331.0 77.5L329.3 67.3M338.0 66.2L331.6 65.8M329.3 67.3L331.6 65.8M336.8 56.6L331.5 58.8M331.6 65.8L331.5 58.8M326.4 55.2L326.4 55.3M326.4 55.3L331.5 58.8M377.1 75.5L375.8 73.4M375.8 73.4L379.1 68.9M375.4 80.2L377.1 75.5M372.4 72.4L375.8 73.4M376.5 65.6L379.1 68.9M318.9 70.6L324.7 66.4M318.9 70.6L313.4 62.4M324.7 66.4L322.9 60.2M322.9 60.2L314.7 58.9M313.4 62.4L314.7 58.9M318.8 71.2L318.9 70.6M329.3 67.3L324.7 66.4M307.6 65.2L313.4 62.4M326.4 55.3L322.9 60.2M314.3 57.6L314.7 58.9" fill="none" stroke="#dfd9d0" stroke-width="0.9"/>
<path d="M356.8 66.6L354.8 64.8M353.2 52.5L353.9 51.2M369.2 89.5L370.3 89.6M375.8 47.0L375.3 44.1M341.8 86.0L343.3 87.5M328.3 89.5L327.4 87.5M399.5 56.6L391.0 54.5M320.5 47.6L321.6 48.0M337.0 55.7L336.9 56.0M338.0 58.1L337.6 57.6M382.4 59.9L380.1 62.2M322.4 41.2L321.7 41.9M331.6 65.8L331.5 63.6M318.9 70.6L320.7 69.3M314.7 58.9L318.0 59.4" fill="none" stroke="#a86c42" stroke-width="1.3" stroke-linecap="round" opacity="0.75"/>
<g fill="#c49470" opacity="0.8"><circle cx="354.3" cy="84.8" r="0.8"/><circle cx="312.2" cy="45.7" r="0.7"/><circle cx="345.3" cy="51.4" r="0.5"/><circle cx="347.1" cy="62.7" r="0.7"/><circle cx="331.9" cy="49.8" r="0.6"/><circle cx="336.2" cy="86.1" r="0.4"/><circle cx="332.9" cy="50.1" r="0.7"/><circle cx="358.3" cy="42.8" r="0.4"/><circle cx="370.1" cy="79.9" r="0.7"/><circle cx="332.3" cy="77.9" r="0.7"/><circle cx="313.4" cy="62.4" r="0.8"/><circle cx="370.4" cy="52.3" r="0.5"/><circle cx="364.5" cy="47.3" r="0.6"/><circle cx="329.3" cy="67.3" r="0.7"/><circle cx="341.8" cy="86.0" r="0.4"/><circle cx="373.6" cy="81.5" r="0.5"/><circle cx="326.4" cy="55.2" r="0.6"/><circle cx="347.2" cy="62.6" r="0.7"/></g>
<g fill="#a8693f" opacity="0.75"><circle cx="325" cy="77" r="0.9"/><circle cx="328" cy="80" r="0.8"/><circle cx="340" cy="82" r="0.7"/></g>
<polygon points="354.8,54.8 356.5,58.9 356.9,57.5 359.4,59.5 360.4,58.3 357.9,56.3 359.2,55.6" fill="#050505" stroke="#ffffff" stroke-width="0.9" stroke-linejoin="round" paint-order="stroke"/>
<polygon points="314.2,59.1 315.9,63.2 316.3,61.8 318.8,63.8 319.8,62.6 317.3,60.6 318.6,59.9" fill="#050505" stroke="#ffffff" stroke-width="0.9" stroke-linejoin="round" paint-order="stroke"/>
<polygon points="325.8,62.1 327.5,66.2 327.9,64.8 330.4,66.8 331.4,65.6 328.9,63.6 330.2,62.9" fill="#050505" stroke="#ffffff" stroke-width="0.9" stroke-linejoin="round" paint-order="stroke"/>
<polygon points="353.6,76.1 355.3,80.2 355.7,78.8 358.2,80.8 359.2,79.6 356.7,77.6 358.0,76.9" fill="#050505" stroke="#ffffff" stroke-width="0.9" stroke-linejoin="round" paint-order="stroke"/>
<polygon points="367.6,79.7 369.3,83.8 369.7,82.4 372.2,84.4 373.2,83.2 370.7,81.2 372.0,80.5" fill="#050505" stroke="#ffffff" stroke-width="0.9" stroke-linejoin="round" paint-order="stroke"/>
<polygon points="348.2,83.3 349.9,87.4 350.3,86.0 352.8,88.0 353.8,86.8 351.3,84.8 352.6,84.1" fill="#050505" stroke="#ffffff" stroke-width="0.9" stroke-linejoin="round" paint-order="stroke"/>
<line x1="351.7" y1="84.7" x2="372.4" y2="84.7" stroke="#333" stroke-width="0.8"/>
<text x="362.2" y="88.6" font-size="4" text-anchor="middle" font-weight="bold" fill="#222">100 µm</text>
</g>
<rect x="312" y="42.6" width="62.2" height="46.7" fill="none" stroke="#6f6f6f" stroke-width="1.2"/>
<clipPath id="cb13"><rect x="247.3" y="91.4" width="62.5" height="46.6"/></clipPath>
<rect x="247.3" y="91.4" width="62.5" height="46.6" fill="#f1f3f1"/>
<g clip-path="url(#cb13)">
<path d="M307.7 77.5L311.2 90.1M307.7 77.5L302.9 90.3M311.2 90.1L309.1 92.8M302.9 90.3L309.1 92.8M316.0 99.9L314.4 99.9M314.4 99.9L309.0 95.8M309.1 92.8L309.0 95.8M241.5 127.3L245.0 130.3M243.3 136.4L245.0 130.3M243.3 136.4L248.4 138.3M245.0 130.3L248.0 130.4M248.0 130.4L250.9 136.8M248.4 138.3L250.9 136.8M250.9 136.8L253.3 136.6M253.3 136.6L257.0 140.2M306.1 139.2L302.6 137.2M302.6 137.2L298.6 138.0M260.7 85.6L252.5 94.0M250.1 93.4L252.5 94.0M260.7 85.6L264.6 90.6M264.6 90.6L274.4 88.2M265.0 94.3L264.6 90.6M265.0 94.3L273.8 96.9M274.4 88.2L274.4 88.3M274.4 88.3L274.1 96.4M273.8 96.9L274.1 96.4M302.9 90.3L300.6 91.3M300.6 91.3L297.0 88.9M286.5 87.7L296.1 89.3M297.0 88.9L296.1 89.3M310.9 127.3L310.2 124.7M310.9 127.3L309.5 131.9M309.5 131.9L304.6 131.2M304.6 131.2L303.4 129.2M303.4 129.2L307.9 124.4M307.9 124.4L310.2 124.7M310.9 127.3L315.6 129.2M322.7 125.2L312.1 123.1M310.2 124.7L312.1 123.1M313.6 110.2L313.2 110.3M313.2 110.3L311.0 115.8M312.1 117.1L311.0 115.8M316.0 99.9L313.6 110.2M312.1 123.1L312.1 117.1M314.4 99.9L308.2 106.0M308.2 106.0L313.2 110.3M306.0 116.0L311.0 115.8M306.0 116.0L304.5 120.6M304.5 120.6L307.9 124.4M308.2 106.0L306.9 105.9M306.0 116.0L305.0 114.9M306.9 105.9L305.0 114.9M250.7 127.3L248.0 130.4M250.7 127.3L256.8 129.3M253.3 136.6L256.9 129.5M256.8 129.3L256.9 129.5M260.8 138.8L257.0 140.2M260.8 138.8L262.2 131.7M256.9 129.5L262.2 131.7M264.8 140.3L269.7 137.1M269.7 137.1L270.6 137.2M260.8 138.8L264.8 140.3M264.4 131.1L262.2 131.7M264.4 131.1L269.7 137.1M273.4 135.9L270.6 137.2M273.4 135.9L279.5 142.2M309.8 137.5L313.0 141.2M309.8 137.5L311.4 134.3M313.5 134.1L311.4 134.3M313.5 134.1L320.4 137.4M320.4 137.4L313.0 141.2M306.1 139.2L309.8 137.5M309.5 131.9L311.4 134.3M302.6 137.2L304.6 131.2M315.6 129.2L313.5 134.1M279.5 142.2L284.5 137.2M289.2 138.7L284.5 137.2M274.6 133.8L277.7 132.1M274.6 133.8L273.4 135.9M277.7 132.1L283.8 135.7M284.5 137.2L283.8 135.7M279.8 126.3L277.7 132.1M279.8 126.3L286.4 128.8M283.8 135.7L286.4 128.8M265.0 94.3L262.8 98.0M252.5 94.0L255.8 99.1M255.8 99.1L262.8 98.0M273.8 96.9L273.7 100.1M270.0 102.9L273.7 100.1M270.0 102.9L265.9 103.0M262.8 98.0L265.9 103.0M296.0 118.0L298.9 113.2M296.0 118.0L290.2 117.1M290.2 117.1L289.5 112.4M298.2 111.0L298.9 113.2M298.2 111.0L292.5 109.2M292.5 109.2L289.5 112.4M279.5 102.7L283.5 98.4M279.5 102.7L276.7 102.6M274.1 96.4L281.9 95.4M273.7 100.1L276.7 102.6M283.5 98.4L281.9 95.4M286.5 87.7L286.2 88.6M296.1 89.3L293.0 95.0M293.0 95.0L290.6 95.2M290.6 95.2L286.2 88.6M274.4 88.3L283.4 90.6M281.9 95.4L283.4 90.6M286.2 88.6L283.4 90.6M270.0 102.9L272.0 110.0M276.7 102.6L276.0 109.0M272.0 110.0L276.0 109.0M295.1 102.2L296.9 97.9M295.1 102.2L300.7 106.2M296.9 97.9L300.4 96.8M300.4 96.8L303.9 99.2M303.9 99.2L304.3 104.4M300.7 106.2L304.3 104.4M300.6 91.3L300.4 96.8M293.0 95.0L296.9 97.9M309.0 95.8L303.9 99.2M306.9 105.9L304.3 104.4M305.0 114.9L298.9 113.2M298.2 111.0L300.7 106.2M258.4 123.7L263.3 120.7M258.4 123.7L256.8 129.3M264.4 131.1L266.7 127.6M263.3 120.7L266.7 127.6M279.7 126.1L279.8 126.3M279.7 126.1L273.2 124.1M274.6 133.8L270.3 127.4M273.2 124.1L270.3 127.4M270.3 127.4L266.7 127.6M294.7 135.2L300.6 128.1M294.7 135.2L294.0 135.1M294.0 135.1L290.1 127.6M300.6 128.1L298.2 123.3M290.3 127.1L290.1 127.6M290.3 127.1L298.0 123.2M298.0 123.2L298.2 123.3M298.6 138.0L294.7 135.2M303.4 129.2L300.6 128.1M289.2 138.7L294.0 135.1M286.4 128.8L290.1 127.6M304.5 120.6L298.2 123.3M279.7 126.1L281.1 122.1M287.3 119.7L286.7 119.7M287.3 119.7L290.3 127.1M281.1 122.1L286.7 119.7M296.0 118.0L298.0 123.2M287.3 119.7L290.2 117.1M246.1 95.5L246.1 104.8M250.1 93.4L246.1 95.5M247.7 105.8L245.3 113.1M247.7 105.8L246.1 104.8M246.3 114.6L253.2 115.3M246.3 114.6L244.6 119.1M244.6 119.1L246.5 122.5M252.9 119.9L253.2 115.3M252.9 119.9L249.1 123.1M246.5 122.5L249.1 123.1M245.3 113.1L246.3 114.6M241.5 127.3L246.5 122.5M250.7 127.3L249.1 123.1M258.4 123.7L252.9 119.9M250.7 105.8L255.2 113.2M250.7 105.8L255.4 101.0M255.4 101.0L261.5 108.7M261.5 108.7L257.4 113.0M257.4 113.0L255.2 113.2M247.7 105.8L250.7 105.8M253.2 115.3L255.2 113.2M255.8 99.1L255.4 101.0M265.9 103.0L263.0 108.4M263.0 108.4L261.5 108.7M263.5 120.1L263.3 120.7M263.5 120.1L257.4 113.0M286.5 104.9L291.8 106.9M286.5 104.9L286.9 99.8M286.9 99.8L288.3 99.2M288.3 99.2L294.2 102.6M294.2 102.6L291.8 106.9M283.5 98.4L286.9 99.8M290.6 95.2L288.3 99.2M295.1 102.2L294.2 102.6M292.5 109.2L291.8 106.9M267.1 111.4L271.4 110.7M267.1 111.4L265.7 118.8M271.4 110.7L273.9 117.5M265.7 118.8L272.1 119.4M273.9 117.5L272.1 119.4M263.0 108.4L267.1 111.4M272.0 110.0L271.4 110.7M263.5 120.1L265.7 118.8M273.2 124.1L272.1 119.4M281.1 122.1L277.5 117.0M277.5 117.0L273.9 117.5M281.8 113.3L280.0 113.4M281.8 113.3L284.8 110.8M280.0 113.4L277.6 109.8M277.6 109.8L282.3 105.9M284.8 110.8L284.6 106.6M282.3 105.9L284.6 106.6M286.7 119.7L281.8 113.3M277.5 117.0L280.0 113.4M289.5 112.4L284.8 110.8M276.0 109.0L277.6 109.8M279.5 102.7L282.3 105.9M286.5 104.9L284.6 106.6" fill="none" stroke="#dfd9d0" stroke-width="0.9"/>
<g fill="#c49470" opacity="0.8"><circle cx="270.3" cy="127.4" r="0.5"/><circle cx="281.9" cy="95.4" r="0.7"/><circle cx="309.1" cy="92.8" r="0.4"/><circle cx="300.6" cy="128.1" r="0.4"/><circle cx="298.2" cy="123.3" r="0.8"/><circle cx="253.2" cy="115.3" r="0.7"/><circle cx="273.8" cy="96.9" r="0.7"/><circle cx="291.8" cy="106.9" r="0.6"/><circle cx="280.0" cy="113.4" r="0.6"/><circle cx="300.7" cy="106.2" r="0.5"/></g>
<g fill="#a8693f" opacity="0.75"><circle cx="285.5" cy="126.5" r="1.3"/><circle cx="288" cy="127.5" r="1"/><circle cx="257.5" cy="127" r="1"/><circle cx="268" cy="132.5" r="0.8"/></g>
<polygon points="299.5,113.5 301.2,117.6 301.6,116.2 304.1,118.2 305.1,117.0 302.6,115.0 303.9,114.3" fill="#050505" stroke="#ffffff" stroke-width="0.9" stroke-linejoin="round" paint-order="stroke"/>
<polygon points="257.7,126.3 259.4,130.4 259.8,129.0 262.3,131.0 263.3,129.8 260.8,127.8 262.1,127.1" fill="#050505" stroke="#ffffff" stroke-width="0.9" stroke-linejoin="round" paint-order="stroke"/>
<polygon points="288.6,126.3 290.3,130.4 290.7,129.0 293.2,131.0 294.2,129.8 291.7,127.8 293.0,127.1" fill="#050505" stroke="#ffffff" stroke-width="0.9" stroke-linejoin="round" paint-order="stroke"/>
<polygon points="266.8,132.9 268.5,137.0 268.9,135.6 271.4,137.6 272.4,136.4 269.9,134.4 271.2,133.7" fill="#050505" stroke="#ffffff" stroke-width="0.9" stroke-linejoin="round" paint-order="stroke"/>
<line x1="287.3" y1="133.4" x2="308" y2="133.4" stroke="#333" stroke-width="0.8"/>
<text x="297.8" y="137.3" font-size="4" text-anchor="middle" font-weight="bold" fill="#222">100 µm</text>
</g>
<rect x="247.3" y="91.4" width="62.5" height="46.6" fill="none" stroke="#6f6f6f" stroke-width="1.2"/>
<clipPath id="cb14"><rect x="312" y="91.4" width="62.2" height="46.6"/></clipPath>
<rect x="312" y="91.4" width="62.2" height="46.6" fill="#f1f3f1"/>
<g clip-path="url(#cb14)">
<path d="M325.1 94.4L315.7 79.1M325.1 94.4L324.9 94.6M324.9 94.6L313.3 95.7M315.7 79.1L312.0 93.9M312.0 93.9L313.3 95.7M332.0 87.5L328.9 92.9M328.9 92.9L325.1 94.4M313.1 104.3L317.7 107.7M317.7 107.7L314.5 119.7M314.5 119.7L312.3 121.2M315.8 131.9L312.3 121.2M313.3 95.7L313.1 104.3M324.2 106.7L317.7 107.7M324.2 106.7L324.9 94.6M328.2 108.8L327.2 121.1M328.2 108.8L334.6 107.3M334.6 107.3L341.2 114.2M329.2 123.6L327.2 121.1M329.2 123.6L339.4 121.8M341.2 114.2L340.3 120.8M339.4 121.8L340.3 120.8M324.2 106.7L328.2 108.8M314.5 119.7L327.2 121.1M328.9 92.9L337.3 101.3M337.3 101.3L334.6 107.3M332.0 87.5L341.6 91.5M337.3 101.3L343.6 97.9M343.6 97.9L341.6 91.5M349.1 76.9L341.6 91.5M332.3 135.7L327.6 130.9M327.6 130.9L320.5 133.8M343.0 134.5L339.4 121.8M343.0 134.5L332.3 135.7M329.2 123.6L327.6 130.9M315.8 131.9L320.5 133.8M343.0 134.5L343.0 134.5M343.1 134.7L343.0 134.5M343.6 97.9L344.0 98.0M349.1 76.9L354.1 92.4M344.0 98.0L354.1 92.4M374.7 107.6L374.1 109.2M379.8 119.9L374.1 109.2M340.3 120.8L351.0 123.0M343.0 134.5L350.7 130.0M350.7 130.0L351.0 123.0M341.2 114.2L349.4 110.5M344.0 98.0L350.0 105.9M349.4 110.5L350.0 105.9M368.5 101.9L370.1 96.1M368.5 101.9L362.7 104.3M362.7 104.3L358.4 101.9M358.4 101.9L356.5 93.6M370.1 96.1L365.3 89.8M365.3 89.8L356.5 93.6M374.7 107.6L368.5 101.9M362.1 109.7L354.1 114.5M362.1 109.7L362.7 104.3M354.1 114.5L349.4 110.5M350.0 105.9L358.4 101.9M354.1 92.4L356.5 93.6M376.9 139.6L372.7 138.8M395.2 131.5L376.9 139.6M343.1 134.7L354.1 141.5M354.1 141.5L357.6 167.1M351.0 123.0L353.1 121.4M354.1 114.5L354.4 116.3M354.4 116.3L353.1 121.4M395.2 131.5L374.4 131.0M372.7 138.8L371.6 137.3M374.4 131.0L371.6 137.3M371.6 137.3L365.8 137.3M354.1 141.5L357.8 134.7M365.8 137.3L363.8 135.3M363.8 135.3L357.8 134.7M350.7 130.0L356.5 132.4M353.1 121.4L359.6 125.5M356.5 132.4L359.6 125.5M356.5 132.4L357.8 134.7M364.3 119.5L363.7 124.3M364.3 119.5L367.3 115.9M374.8 121.3L368.2 115.8M374.8 121.3L371.9 127.3M371.9 127.3L366.3 127.0M363.7 124.3L366.3 127.0M367.3 115.9L368.2 115.8M354.4 116.3L364.3 119.5M359.6 125.5L363.7 124.3M362.1 109.7L367.3 115.9M379.8 119.9L374.8 121.3M374.1 109.2L368.2 115.8M374.4 131.0L371.9 127.3M363.8 135.3L366.3 127.0" fill="none" stroke="#dfd9d0" stroke-width="0.9"/>
<path d="M325.1 94.4L325.0 94.5M312.0 93.9L312.4 94.5M325.1 94.4L326.5 93.8M314.5 119.7L315.6 115.5M315.8 131.9L313.7 125.5M313.3 95.7L313.2 99.9M324.2 106.7L324.6 99.8M328.2 108.8L327.9 112.6M339.4 121.8L333.5 122.8M341.2 114.2L340.7 117.7M339.4 121.8L339.7 121.4M314.5 119.7L320.3 120.3M341.6 91.5L335.9 89.1M337.3 101.3L339.7 100.0M332.3 135.7L329.8 133.2M327.6 130.9L325.3 131.9M327.6 130.9L328.5 126.8M343.0 134.5L343.0 134.5M343.1 134.7L343.1 134.6M374.1 109.2L376.7 114.1M340.3 120.8L346.2 122.0M350.7 130.0L347.1 132.1M368.5 101.9L365.6 103.1M362.7 104.3L360.2 102.9M358.4 101.9L357.3 97.3M365.3 89.8L360.1 92.0M374.7 107.6L372.6 105.6M354.1 114.5L351.7 112.5M356.5 132.4L357.9 129.2M363.7 124.3L363.9 122.6M362.1 109.7L365.0 113.2M366.3 127.0L365.5 129.7" fill="none" stroke="#a86c42" stroke-width="1.3" stroke-linecap="round" opacity="0.75"/>
<g fill="#c49470" opacity="0.8"><circle cx="341.6" cy="91.5" r="0.7"/><circle cx="324.2" cy="106.7" r="0.5"/><circle cx="356.5" cy="132.4" r="0.6"/><circle cx="371.6" cy="137.3" r="0.6"/><circle cx="354.4" cy="116.3" r="0.7"/><circle cx="324.9" cy="94.6" r="0.6"/><circle cx="315.8" cy="131.9" r="0.5"/><circle cx="374.1" cy="109.2" r="0.6"/><circle cx="343.6" cy="97.9" r="0.7"/><circle cx="343.0" cy="134.5" r="0.6"/><circle cx="349.4" cy="110.5" r="0.8"/><circle cx="350.7" cy="130.0" r="0.7"/><circle cx="334.6" cy="107.3" r="0.5"/><circle cx="327.6" cy="130.9" r="0.6"/><circle cx="341.2" cy="114.2" r="0.4"/><circle cx="313.3" cy="95.7" r="0.7"/><circle cx="320.5" cy="133.8" r="0.7"/><circle cx="362.7" cy="104.3" r="0.5"/><circle cx="354.1" cy="92.4" r="0.5"/><circle cx="359.6" cy="125.5" r="0.5"/><circle cx="362.1" cy="109.7" r="0.6"/><circle cx="368.2" cy="115.8" r="0.7"/><circle cx="337.3" cy="101.3" r="0.6"/><circle cx="340.3" cy="120.8" r="0.7"/><circle cx="327.2" cy="121.1" r="0.6"/><circle cx="343.0" cy="134.5" r="0.7"/><circle cx="343.1" cy="134.7" r="0.7"/></g>
<g fill="#a8693f" opacity="0.75"><circle cx="317" cy="103" r="1.6"/><circle cx="315" cy="111" r="1.4"/><circle cx="326" cy="102" r="1.5"/><circle cx="359" cy="100" r="1.5"/><circle cx="358" cy="108" r="1.6"/><circle cx="361" cy="118" r="1.4"/><circle cx="342" cy="118" r="1.8"/><circle cx="339" cy="121" r="1.3"/><circle cx="361" cy="124" r="1.7"/><circle cx="364" cy="126" r="1.3"/><circle cx="329" cy="133" r="1.4"/><circle cx="345" cy="133" r="1.3"/><circle cx="323" cy="129" r="1"/><circle cx="352" cy="124" r="1"/><circle cx="366" cy="99" r="1"/><circle cx="338" cy="113" r="1"/></g>
<polygon points="317.3,94.1 319.0,98.2 319.4,96.8 321.9,98.8 322.9,97.6 320.4,95.6 321.7,94.9" fill="#050505" stroke="#ffffff" stroke-width="0.9" stroke-linejoin="round" paint-order="stroke"/>
<polygon points="316.1,103.8 317.8,107.9 318.2,106.5 320.7,108.5 321.7,107.3 319.2,105.3 320.5,104.6" fill="#050505" stroke="#ffffff" stroke-width="0.9" stroke-linejoin="round" paint-order="stroke"/>
<polygon points="312.4,111.1 314.1,115.2 314.5,113.8 317.0,115.8 318.0,114.6 315.5,112.6 316.8,111.9" fill="#050505" stroke="#ffffff" stroke-width="0.9" stroke-linejoin="round" paint-order="stroke"/>
<polygon points="327.0,103.2 328.7,107.3 329.1,105.9 331.6,107.9 332.6,106.7 330.1,104.7 331.4,104.0" fill="#050505" stroke="#ffffff" stroke-width="0.9" stroke-linejoin="round" paint-order="stroke"/>
<polygon points="359.1,101.4 360.8,105.5 361.2,104.1 363.7,106.1 364.7,104.9 362.2,102.9 363.5,102.2" fill="#050505" stroke="#ffffff" stroke-width="0.9" stroke-linejoin="round" paint-order="stroke"/>
<polygon points="359.1,109.3 360.8,113.4 361.2,112.0 363.7,114.0 364.7,112.8 362.2,110.8 363.5,110.1" fill="#050505" stroke="#ffffff" stroke-width="0.9" stroke-linejoin="round" paint-order="stroke"/>
<polygon points="342.7,119.0 344.4,123.1 344.8,121.7 347.3,123.7 348.3,122.5 345.8,120.5 347.1,119.8" fill="#050505" stroke="#ffffff" stroke-width="0.9" stroke-linejoin="round" paint-order="stroke"/>
<polygon points="360.9,123.9 362.6,128.0 363.0,126.6 365.5,128.6 366.5,127.4 364.0,125.4 365.3,124.7" fill="#050505" stroke="#ffffff" stroke-width="0.9" stroke-linejoin="round" paint-order="stroke"/>
<polygon points="332.4,132.9 334.1,137.0 334.5,135.6 337.0,137.6 338.0,136.4 335.5,134.4 336.8,133.7" fill="#050505" stroke="#ffffff" stroke-width="0.9" stroke-linejoin="round" paint-order="stroke"/>
<polygon points="345.8,133.3 347.5,137.4 347.9,136.0 350.4,138.0 351.4,136.8 348.9,134.8 350.2,134.1" fill="#050505" stroke="#ffffff" stroke-width="0.9" stroke-linejoin="round" paint-order="stroke"/>
<line x1="351.7" y1="133.4" x2="372.4" y2="133.4" stroke="#333" stroke-width="0.8"/>
<text x="362.2" y="137.3" font-size="4" text-anchor="middle" font-weight="bold" fill="#222">100 µm</text>
</g>
<rect x="312" y="91.4" width="62.2" height="46.6" fill="none" stroke="#6f6f6f" stroke-width="1.2"/>
<rect x="435.2" y="91" width="13.3" height="29" fill="#8a8a8a" stroke="#2a2a2a" stroke-width="1.1"/>
<rect x="453.9" y="79.7" width="13.3" height="40.3" fill="#4b4b4b" stroke="#2a2a2a" stroke-width="1.1"/>
<rect x="482.9" y="93.2" width="13.4" height="26.8" fill="#8a8a8a" stroke="#2a2a2a" stroke-width="1.1"/>
<rect x="502" y="61.2" width="13.2" height="58.8" fill="#4b4b4b" stroke="#2a2a2a" stroke-width="1.1"/>
<line x1="441.8" y1="85.8" x2="441.8" y2="96.2" stroke="#222" stroke-width="1"/>
<line x1="438.8" y1="85.8" x2="444.8" y2="85.8" stroke="#222" stroke-width="1"/>
<line x1="438.8" y1="96.2" x2="444.8" y2="96.2" stroke="#222" stroke-width="1"/>
<line x1="460.5" y1="73.3" x2="460.5" y2="85.8" stroke="#222" stroke-width="1"/>
<line x1="457.5" y1="73.3" x2="463.5" y2="73.3" stroke="#222" stroke-width="1"/>
<line x1="457.5" y1="85.8" x2="463.5" y2="85.8" stroke="#222" stroke-width="1"/>
<line x1="489.6" y1="86.3" x2="489.6" y2="99.6" stroke="#222" stroke-width="1"/>
<line x1="486.6" y1="86.3" x2="492.6" y2="86.3" stroke="#222" stroke-width="1"/>
<line x1="486.6" y1="99.6" x2="492.6" y2="99.6" stroke="#222" stroke-width="1"/>
<line x1="508.6" y1="56.3" x2="508.6" y2="66.4" stroke="#222" stroke-width="1"/>
<line x1="505.6" y1="56.3" x2="511.6" y2="56.3" stroke="#222" stroke-width="1"/>
<line x1="505.6" y1="66.4" x2="511.6" y2="66.4" stroke="#222" stroke-width="1"/>
<circle cx="440.5" cy="82.6" r="1.35" fill="#111"/>
<circle cx="444.3" cy="81" r="1.35" fill="#111"/>
<circle cx="441.8" cy="98.7" r="1.35" fill="#111"/>
<circle cx="441.8" cy="101.6" r="1.35" fill="#111"/>
<circle cx="460.4" cy="51.3" r="1.35" fill="#111"/>
<circle cx="460.4" cy="61.7" r="1.35" fill="#111"/>
<circle cx="462" cy="73.3" r="1.35" fill="#111"/>
<circle cx="460.4" cy="84.6" r="1.35" fill="#111"/>
<circle cx="460.4" cy="94.4" r="1.35" fill="#111"/>
<circle cx="458.5" cy="99.4" r="1.35" fill="#111"/>
<circle cx="463" cy="98.5" r="1.35" fill="#111"/>
<circle cx="485.5" cy="82.6" r="1.35" fill="#111"/>
<circle cx="489" cy="82.6" r="1.35" fill="#111"/>
<circle cx="490" cy="95.4" r="1.35" fill="#111"/>
<circle cx="489" cy="111.2" r="1.35" fill="#111"/>
<circle cx="508.3" cy="41.6" r="1.35" fill="#111"/>
<circle cx="507" cy="58.8" r="1.35" fill="#111"/>
<circle cx="511" cy="61.2" r="1.35" fill="#111"/>
<circle cx="508.3" cy="66.4" r="1.35" fill="#111"/>
<circle cx="508.3" cy="79" r="1.35" fill="#111"/>
<line x1="430.6" y1="31.3" x2="430.6" y2="120.6" stroke="#111" stroke-width="1.5"/>
<line x1="427.8" y1="31.9" x2="430.6" y2="31.9" stroke="#111" stroke-width="1.2"/>
<text x="427.3" y="34.64" font-size="7.6" text-anchor="end" fill="#1a1a1a" stroke="#1a1a1a" stroke-width="0.08">3,000</text>
<line x1="427.8" y1="61.27" x2="430.6" y2="61.27" stroke="#111" stroke-width="1.2"/>
<text x="427.3" y="64" font-size="7.6" text-anchor="end" fill="#1a1a1a" stroke="#1a1a1a" stroke-width="0.08">2,000</text>
<line x1="427.8" y1="90.63" x2="430.6" y2="90.63" stroke="#111" stroke-width="1.2"/>
<text x="427.3" y="93.37" font-size="7.6" text-anchor="end" fill="#1a1a1a" stroke="#1a1a1a" stroke-width="0.08">1,000</text>
<line x1="427.8" y1="120" x2="430.6" y2="120" stroke="#111" stroke-width="1.2"/>
<text x="427.3" y="122.74" font-size="7.6" text-anchor="end" fill="#1a1a1a" stroke="#1a1a1a" stroke-width="0.08">0</text>
<line x1="429.85" y1="120" x2="519.5" y2="120" stroke="#111" stroke-width="1.6"/>
<line x1="484.5" y1="30.7" x2="507" y2="30.7" stroke="#111" stroke-width="1.3"/>
<polygon points="493.95,23.05 493.32,24.12 492.09,24.12 492.70,25.20 492.09,26.27 493.32,26.28 493.95,27.35 494.57,26.28 495.81,26.27 495.20,25.20 495.81,24.12 494.57,24.12" fill="#0c0c0c"/>
<polygon points="497.65,23.05 497.03,24.12 495.79,24.12 496.40,25.20 495.79,26.27 497.03,26.28 497.65,27.35 498.28,26.28 499.51,26.27 498.90,25.20 499.51,24.12 498.28,24.12" fill="#0c0c0c"/>
<text x="441.25" y="130.6" font-size="8.9" text-anchor="middle" stroke="#050505" stroke-width="0.2">Ctrl</text>
<text x="463.95" y="130.6" font-size="8.9" text-anchor="middle" stroke="#050505" stroke-width="0.2">KO</text>
<text x="489.7" y="130.6" font-size="8.9" text-anchor="middle" stroke="#050505" stroke-width="0.2">Ctrl</text>
<text x="510.85" y="130.6" font-size="8.9" text-anchor="middle" stroke="#050505" stroke-width="0.2">KO</text>
<line x1="434.7" y1="134.6" x2="466.7" y2="134.6" stroke="#111" stroke-width="1.3"/>
<line x1="483.3" y1="134.6" x2="515.7" y2="134.6" stroke="#111" stroke-width="1.3"/>
<text x="454.5" y="147.3" font-size="10.2" text-anchor="middle" stroke="#050505" stroke-width="0.08">SCAT</text>
<text x="501.35" y="147.3" font-size="10.2" text-anchor="middle" stroke="#050505" stroke-width="0.08">GAT</text>
<text x="405.3" y="74.7" font-size="10.4" text-anchor="middle" stroke="#050505" stroke-width="0.08" transform="rotate(-90 405.3 74.7)">CD31 ROI/adipocyte</text>
<filter id="soft" x="-5%" y="-5%" width="110%" height="110%"><feGaussianBlur stdDeviation="0.35"/></filter>
<text x="148.5" y="182.1" font-size="10" text-anchor="middle" stroke="#050505" stroke-width="0.08">VEH</text>
<text x="382.2" y="182.1" font-size="10" text-anchor="middle" stroke="#050505" stroke-width="0.08">CORT</text>
<line x1="46.5" y1="185.9" x2="250" y2="185.9" stroke="#222" stroke-width="1.5"/>
<line x1="280.5" y1="185.9" x2="483.8" y2="185.9" stroke="#222" stroke-width="1.5"/>
<text x="91.5" y="196.9" font-size="10" text-anchor="middle" stroke="#050505" stroke-width="0.08">Ctrl</text>
<text x="203.2" y="196.9" font-size="10" text-anchor="middle" stroke="#050505" stroke-width="0.08">AdipoGR-KO</text>
<text x="325.7" y="196.9" font-size="10" text-anchor="middle" stroke="#050505" stroke-width="0.08">Ctrl</text>
<text x="437.2" y="196.9" font-size="10" text-anchor="middle" stroke="#050505" stroke-width="0.08">AdipoGR-KO</text>
<text x="33.3" y="253" font-size="10" text-anchor="middle" stroke="#050505" stroke-width="0.08" transform="rotate(-90 33.3 253)">SCAT</text>
<text x="33.6" y="368" font-size="10" text-anchor="middle" stroke="#050505" stroke-width="0.08" transform="rotate(-90 33.6 368)">GAT</text>
<clipPath id="cv101"><rect x="38.2" y="199.8" width="107.1" height="107"/></clipPath>
<rect x="38.2" y="199.8" width="107.1" height="107" fill="#060606"/>
<g clip-path="url(#cv101)" fill="none" stroke-linecap="round" stroke-linejoin="round" filter="url(#soft)">
<path d="M65.7 222.1l1.2 1.1 1.6 0.0 0.8-3.0 1.2-2.8 2.0 0.3 0.4 0.6 0.7 1.4-0.3 3.1M87.4 214.1l2.6 3.7 2.7 3.2 0.6 1.4 0.3 0.9 2.8-1.3 1.0-1.9M121.9 292.0l-0.4-2.1-0.6-0.5M36.8 247.4l-0.2 0.3 0.5-0.1 2.6-1.1 2.7-0.2 1.6 1.0 1.4 0.3M75.2 207.6l-0.8-1.5-1.6-1.4 0.3-0.2 0.2-0.6 0.7-0.3 1.7-0.3M78.3 205.3l0.1 1.0-0.8 0.7M58.5 232.0l0.2 1.6-1.3-0.1-2.0 0.9-1.0 1.6 1.0 0.8 1.6 0.2-0.4 2.3-0.4 2.7M101.1 319.8l-2.5-2.8-0.8-2.2-1.0-0.3-0.3-0.3-3.3 0.4-1.9 0.0-0.3 0.3 0.1 0.2-5.3-0.8-2.9-1.0-0.5 1.4-0.7 2.9M85.8 289.4l0.6 2.2 0.2 3.7-1.9 0.9-1.2 1.0M102.1 299.9l-2.3-1.9-2.2-3.2-0.6 1.0-0.9 0.4M131.6 283.5l-1.9 1.2-2.0 3.0-1.4-0.7-0.5-0.4 0.2-1.8-0.1-0.7-3.4-1.4-3.2-2.4-0.2-0.1-0.0-0.6M36.9 229.2l-0.5 0.1 0.7-0.8 2.2-2.0 2.7-0.9-0.1-1.1 0.3-0.3M111.1 254.7l0.6 1.1-0.4 0.7 0.9 0.1-0.8 0.8 0.3 0.0 0.2 0.5-2.8 2.5-1.6 3.5M123.8 291.1l-1.3 0.4-1.6 0.1-1.1 1.3-1.2 0.5-1.1 0.9-1.8 0.1-1.8 0.3M122.9 290.0l0.1-1.3-0.8-1.4-1.0-1.0-0.8-1.2-1.2-1.2M113.6 283.7l-0.3-1.2-0.1-1.7 0.1-1.5M42.6 231.9l-0.0 1.4-0.2 1.6-0.5 1.3-0.1 1.4 0.2 1.4 0.2 1.3M61.1 254.2l0.8 1.2 0.3 1.2-0.3 1.5 0.1 1.2 0.1 1.5-0.1 1.2M111.3 243.5l-1.5-0.2-1.1-0.5-1.2-1.0-1.3-1.0-0.7-1.6-1.1-0.7-1.2-1.1-1.6-0.4-0.9-0.8-1.4 0.0M113.5 257.8l1.2 0.7 1.5 0.3 1.6 0.6 1.2 0.6 1.2 0.4 1.3 1.1M126.6 286.1l-1.0-0.9-1.5-0.9-1.6-0.4-1.1-0.7-1.3-1.2-1.3-0.7-1.1-1.1-0.4-1.2M81.6 215.5l1.4 0.5 1.2 0.6 1.3 0.0 1.2-0.1 1.2-0.0 1.4-0.4M84.4 214.3l0.1-1.4 1.2-1.4 1.1-1.2 1.2-1.1M73.6 214.1l1.0 0.7 1.4 0.4 1.2 0.3 1.1 0.5 1.8 0.1 1.4-0.6 1.4-0.9 1.4-0.4 0.9-1.3 0.6-1.5 1.1-1.2 0.6-1.4 0.6-1.7 0.9-1.0M114.1 236.9l-0.3-1.6 0.4-1.6 0.5-1.6 1.2-1.2 1.2-0.9 1.1-1.0 1.1-0.7 1.0-1.4 0.1-1.4-0.7-1.6M50.0 241.3l-1.6-0.1-1.4 0.1-1.7 0.5-1.3 0.7-1.5 0.2-1.7-0.4-1.8-0.2-1.6 0.5M130.1 303.4l1.3 0.3 1.2 0.3 1.5-0.2 1.2-0.6 1.3-0.9 1.2-0.7 1.2-1.0 1.4-0.9M131.1 295.9l0.2 1.7-0.6 1.3-0.2 1.5 0.1 1.4-0.5 1.6-0.6 1.6-1.0 1.0M118.5 219.3l-0.4 1.3-0.6 1.7-0.1 1.2-0.0 1.8 0.8 1.5M124.9 236.2l0.7 1.5 0.5 1.1 0.4 1.2 0.7 1.1 0.8 1.1 1.3 0.5 1.5 0.1 1.6-0.2 1.6-0.6 1.8-0.2 1.3-0.7 0.8-1.3 0.2-1.6 0.1-1.7 0.0-1.5M55.6 263.9l0.4 1.1 0.5 1.7 1.1 1.2 0.5 1.7 0.5 1.6M113.8 233.0l1.3-0.1 1.7-0.1 1.5-0.3 1.2-0.3 1.2-0.3 1.6-0.5 1.3-0.2M71.8 206.6l1.2-0.4 1.5-0.5 0.9-0.9 0.7-1.0 0.7-1.4 0.4-1.6 0.4-1.4M124.3 224.2l0.5 1.3 1.0 1.1 0.8 0.9 0.9 1.2 0.9 1.4 0.8 1.3 1.4 1.1 0.6 1.2 0.0 1.3M139.0 303.7l0.9 1.1M129.1 227.7l-0.7-1.3-0.9-1.3-0.8-1.1-0.8-1.3M83.6 257.8l1.0-1.1 0.5-1.5 1.0-0.8 0.8-0.9 1.1-0.4 1.4-0.9 1.1-0.5 1.4-0.9 0.4-1.7 0.4-1.4M68.1 243.1l-1.1 1.2-1.3 1.2-0.4 1.7 0.3 1.6 0.9 1.5 0.9 1.5 0.8 1.6 0.5 1.5 0.4 1.4 0.3 1.4 0.1 1.4-0.0 1.6 0.8 1.1 0.1 1.4 0.1 1.3-0.4 1.5 0.0 1.4M109.0 301.5l-0.6-1.6-0.9-1.2-1.1-1.1-1.3-1.1-1.1-1.1-1.3-0.8-1.5-0.6-1.4-0.2-0.7-1.3-1.0-0.9-1.0-1.2-1.4-0.3-1.5-0.1-1.4 0.0M119.9 214.9l-1.1 1.3-0.2 1.7 0.2 1.5 0.6 1.5 0.5 1.4M126.9 225.7l0.0-1.5 0.9-1.1 0.7-1.1 1.1-1.4 1.3-1.0M128.3 226.2l-1.3-0.5-1.0-0.9-0.9-0.8-1.0-1.3-0.8-1.3-0.7-1.2M101.4 282.5l1.2-0.9 1.3-0.2 1.4 0.2 1.2 0.4M98.8 281.0l-0.3-1.6-1.2-0.7-1.1-1.3M102.4 283.4l-1.0-0.9-1.3-1.0-1.3-0.5-1.1-0.5-1.5-0.5-1.2-0.8-1.2-1.2M102.2 286.1l0.2-1.3-0.1-1.4-0.1-1.4 0.4-1.5 0.2-1.6-0.3-1.2-1.0-1.4-0.8-1.4-0.5-1.6M121.9 214.6l1.6-0.6 0.9-0.8 1.4-0.4 1.7-0.1 1.6 0.2M116.3 212.8l1.2-0.6 1.3-0.4 0.8 0.9 1.2 0.9 1.0 0.9 0.9 0.8 1.0 0.9 1.2 0.7 1.2 1.1 0.5 1.1 1.1 1.3 1.0 1.3 0.8 1.1-0.1 1.4M129.4 245.2l-0.2-1.5-1.0-1.1-0.8-1.4M136.7 246.9l-1.2-0.4-1.1-0.6-1.6-0.5-1.7 0.1-1.8-0.3M116.7 290.6l-0.5-1.2-0.7-1.3-0.4-1.5-0.5-1.1-0.5-1.4-0.3-1.7-0.7-1.1-1.0-1.1M48.2 247.1l1.3 0.0 1.7-0.0 1.6-0.3M120.7 288.1l-1.4 0.7-1.4 0.2-1.8 0.1-1.4 0.4M121.1 283.5l-0.6 1.6-0.0 1.6 0.2 1.4 0.8 1.6 0.8 1.1-0.1 1.8-0.6 1.3-0.9 1.4M124.5 290.5l1.2 0.9 1.0 0.8 0.9 0.9 1.0 1.3M126.1 290.3l0.5-1.6 0.5-1.3 1.0-1.1M124.1 220.8l0.1-1.4 0.4-1.7 0.7-1.1 0.1-1.7-0.1-1.5-0.4-1.6-0.5-1.5M119.2 301.4l-1.5-0.6-1.7-0.5-1.3-0.1-1.2 0.1-1.3-0.0-1.5 0.4M87.5 221.1l1.6 0.3 1.5 0.3 1.0 1.0 1.2 0.8 1.1 0.7 1.4 1.0 0.9 0.9 1.4 0.4 1.1 0.7 1.3 0.1M104.5 225.5l1.2-0.9 1.2-0.7 1.4-0.9 0.8-0.9 0.6-1.1 0.6-1.4 1.0-1.4 0.5-1.1M76.6 234.0l-0.8-1.5-0.3-1.6-0.9-1.5-0.5-1.2-0.5-1.1 0.1-1.7-0.1-1.5-0.9-1.0-0.3-1.6-0.5-1.7-0.3-1.6M100.7 260.8l-0.9 0.9-0.9 0.8-0.8 1.5-0.9 1.4M99.6 259.4l1.0 1.4 1.1 0.5 1.1 0.5 1.0 0.7 0.9 1.0M59.6 301.6l-1.3-0.6-1.3-1.0M69.1 296.4l-1.6-0.2-1.7-0.2-1.8-0.0-1.6 0.6-1.1 0.8-1.4 0.2-1.2 0.8-0.7 1.2-1.2 1.0-1.6 0.4-1.4 0.2-1.5 0.5-1.5 0.6-1.3 1.2-1.1 0.6M92.7 265.6l0.6-1.2 0.2-1.6-0.0-1.2-0.3-1.3-0.3-1.2M82.5 261.7l-1.0 0.7-1.3 0.4-1.6 0.0-1.4 0.3-1.3 0.2-1.5 0.5M87.2 262.0l-1.7-0.5-1.6-0.1-1.3 0.4-1.4 0.2-1.5-0.2-1.5 0.3-1.4 0.6-1.4 0.1-1.3 0.5-0.9 1.2-0.4 1.2-0.2 1.6-0.3 1.4-0.6 1.7M35.5 202.5l-0.9 1.5-1.0 1.4-0.8 1.4-0.2 1.5 0.1 1.6 0.4 1.4 0.2 1.2M135.7 199.9l1.1-0.8M93.1 211.4l-1.4 0.8-1.3 0.9-1.4 0.5-1.4 0.7-1.4 1.0-1.4 0.8-1.1 1.0M82.8 203.3l1.4-0.7 1.5-0.7 1.5 0.6 0.6 1.1 1.0 1.4 1.0 0.7 1.2 0.7 1.0 0.9 1.5 1.0 1.0 1.2 0.6 1.5 0.6 1.5-0.3 1.2-0.4 1.3M61.7 284.5l-1.7-0.3-1.5-0.5-1.0 0.6-1.3 0.5-0.9 0.8-0.7 1.5-0.7 1.2-1.0 1.3-0.9 0.9M138.1 229.3l0.6-1.1 1.2-1.1 0.5-1.4 0.6-1.1 0.8-1.3M84.4 199.9l-1.3 0.3-1.6-0.2-1.5 0.5-1.6 0.1-1.2 0.3-1.4 0.4-1.5 0.9-1.6 0.5M44.2 203.6l0.9 0.9 0.7 1.2" stroke="#741c1c" stroke-width="1.05"/>
<path d="M68.7 198.4l1.2-2.3 2.0-1.5 1.1 1.5 1.6 2.4 1.7-0.6 0.5 0.2-0.0 0.8 1.3-0.2-1.8 3.0-0.9 1.6 1.6 0.7 1.1 1.3 1.6-1.4 1.7-0.2 0.6 1.3 1.9 0.3M91.4 237.5l0.1 1.7 0.0 2.7 0.1-0.1-0.3 0.0-3.3-2.2-2.7-1.4-0.4 1.8-0.3 1.7 0.2 0.4-0.2-0.3M128.2 298.4l3.2-2.4 2.7-0.7-0.2-1.2 0.6-0.1M75.2 291.5l-0.1-2.9 1.4-3.1 1.5 2.5 2.1 2.1M60.1 248.3l-0.8 0.3-2.7-0.9-0.8 0.1-1.5 0.1-1.2 1.2-0.0 1.5 1.4 0.9 0.4 3.1M34.9 222.1l-0.3 2.1-0.9 0.3M95.9 296.5l0.1 0.1 0.1-0.4-1.5-1.3-0.6-0.4-1.5-1.6-0.5-2.3 0.1-0.5 1.6-0.7 2.2 3.0 2.2 1.4M79.8 229.8l-0.7 0.3 0.0-0.4-1.6 2.6-2.0 2.4 0.7 1.0 0.0 0.9 0.2 1.8-1.0 1.0M37.1 228.5l-2.0-2.4-1.4-1.6 0.2 1.4-2.1 0.3M34.4 281.9l0.6 0.4-0.2-0.2 1.9 3.5 1.5 1.9-3.1 0.1-2.4 1.4M74.2 308.1l-1.5-2.3-1.4-1.6 0.2 2.8-0.2 3.3 0.6 0.7 0.6-0.3M108.5 224.9l1.6 1.1 1.1-1.2 0.7-2.5 1.9-3.3-0.0 0.8 0.0-1.3M124.5 265.6l-1.0 1.2-2.5-0.3-0.4-0.3-0.3-0.6M116.2 197.4l1.1-1.1 2.2 1.0M76.3 265.7l0.8 2.2 1.4 2.0M125.0 219.4l-1.3-0.3-0.6 0.8-0.3-0.5 0.3 0.6 0.6 1.8 0.5 1.6-1.0 0.2-0.4 2.3-2.7-0.2-2.1 1.2-0.3-0.8 0.2-1.1-1.3-2.3-2.7-3.6M113.9 218.4l0.9-1.3 0.8-0.6 3.6 2.3 3.5 0.5 0.5 0.5-0.1 0.0M63.4 238.3l-1.1 2.1-1.0 2.1M152.3 281.5l4.8 1.5 3.0 1.7-3.8-0.3-4.7 0.7 0.7-0.8-0.6-0.7M104.7 242.3l0.8 0.3 0.0 0.4 4.0-0.5 2.1 0.1 0.5 1.5 1.5 1.1-0.4 1.3 0.1 1.7 0.8-1.0-0.8 1.1-0.4 1.6-1.0 2.7M93.1 224.7l1.7 0.2 2.9 1.0 0.0 0.4 1.0-0.9 1.1-2.5 0.3-0.8-1.7-0.3-1.1-1.6 0.6-1.6 1.6-2.1M124.6 295.1l1.2-0.3 1.5-0.5 1.4-0.2 1.5-0.1 1.7-0.2 1.7 0.1 1.5-0.1M91.2 237.2l1.3 1.3 1.1 1.0 1.0 1.1 0.8 1.5 0.8 1.3 0.5 1.1 0.7 1.5 0.0 1.4-0.3 1.4-0.3 1.2 0.1 1.7-0.0 1.8 0.2 1.4 0.1 1.5 0.6 1.3 0.4 1.5 0.2 1.7M65.7 254.3l-0.6-1.5-1.2-1.2-0.9-0.9-1.5-0.5-1.4-0.7-1.2-0.8M113.7 290.1l-1.0-1.1-0.5-1.1 0.3-1.5 0.4-1.2 0.8-1.4M52.7 218.2l-1.5-0.4-1.6 0.5-1.4 0.9-1.5 0.6M118.6 217.5l-0.9 0.8-1.2 0.7-1.3 0.5-1.1 0.4M137.2 222.6l-1.4 1.1-1.4 0.5-1.2-0.1-1.6-0.4-1.4-0.6-1.3-0.6-1.7-0.6-1.4-0.6-1.2-1.1-1.3-1.1-1.1-1.3-1.1-0.8-1.2 0.3-1.3 0.2-1.5 0.8-1.5 0.9-1.1 0.6M142.2 303.1l0.3-1.2 0.4-1.2M130.7 278.6l-0.6-1.4-1.2-1.3M128.7 280.7l1.0-1.2 1.0-0.9 1.2-1.2 0.2-1.4-0.2-1.4-0.7-1.6-0.9-1.2-0.4-1.4M111.7 260.1l0.8-1.2 0.9-1.1 0.8-0.9 0.9-1.5 0.8-1.1M94.9 219.4l-1.2 1.1-0.8 1.2-1.2 1.1-0.9 0.9-1.3 1.2-0.9 1.6-0.5 1.3 0.3 1.2 1.3 1.1M125.6 290.5l0.1-1.7 0.9-1.4-0.0-1.3M138.6 245.1l-0.6 1.3-0.3 1.2-0.3 1.5-0.3 1.3 0.3 1.2 0.6 1.5M83.0 216.1l1.1-0.6 1.0-1.0 1.0-0.8 1.5-0.1 1.6-0.3 1.2-0.4 1.7-0.2 1.3 0.2M89.0 257.5l1.5-0.6 1.4-0.4 0.8-0.9M96.6 255.3l-1.2-0.4-1.4-0.5-1.7-0.1-1.4-0.4-1.2-0.7M98.8 246.5l1.1 1.3-0.0 1.4-0.3 1.4-0.7 1.4-0.6 1.3-0.9 0.8-0.8 1.2-0.9 1.1M97.9 248.1l0.9-1.5 0.2-1.4 0.8-1.5 1.1-1.3 1.3-1.2 1.3-1.1 1.5 0.3 1.1 0.5 1.4 0.0 1.0-1.2 0.8-1.2M133.9 242.1l1.3 1.0 0.9 1.1 0.8 1.5 1.1 0.6 1.5 0.5 1.4-0.0M137.7 239.9l-1.2-1.3-1.4-0.6-1.2-1.0-0.7-1.4-0.7-1.0-0.8-1.0-1.0-0.9-1.4-0.8M118.2 232.5l0.7-1.2 0.8-0.9 0.9-1.2 0.7-1.0 0.8-1.3 0.8-1.2M118.0 228.0l-1.0-1.4-0.5-1.2-0.1-1.7-0.4-1.6M124.6 223.6l0.2-1.3 0.6-1.4-0.3-1.3-0.2-1.4-0.0-1.7M119.3 260.7l-0.6-1.2-0.7-1.6-0.1-1.6-0.7-1.3-0.3-1.5M70.7 205.3l1.1 1.3 0.3 1.2 0.7 1.0 0.9 1.2 1.3 0.7M57.8 218.3l1.3 1.0 1.1 1.2 0.6 1.6 0.9 1.5 0.8 1.1 1.1 0.9 1.3 0.4 1.6 0.6 1.8 0.0 1.5 0.1 1.5 0.6 1.2 0.7 1.4 0.7M134.1 225.0l-1.1 1.3-1.1 0.5-1.3 0.4-1.5 0.5-1.0 1.1-0.8 1.5-0.4 1.2M80.8 210.6l-1.5-0.3-1.4-0.3-1.5-0.7-0.7-1.0-1.3-0.3-1.0-0.7-1.1-0.8-1.4-1.1M104.1 301.9l-1.5-0.9-1.3-0.3-1.4 0.3-1.7 0.5-1.4 0.4-1.5 0.3-1.3 0.5M107.5 298.7l-1.0 1.4-1.3 0.7-1.1 1.1-0.4 1.3-1.0 1.3M99.4 222.8l1.5 0.1 1.6-0.1 1.5 0.9 1.2 0.9 1.1 0.5 1.2 0.4M94.9 214.7l0.8 1.3 0.9 0.8 1.0 1.4 1.0 1.3 0.5 1.6 0.3 1.7 0.3 1.4 0.3 1.2 0.7 1.1 0.8 1.3 0.7 1.5 0.5 1.5M62.6 244.3l-0.5-1.4-1.1-1.1-1.3-1.1-0.8-0.9-0.9-1.0-1.2-0.9-0.9-0.8-0.9-1.1-0.8-0.9-1.0-1.2M126.9 224.1l1.4-0.7 1.3-0.6 1.3-1.2 1.3-1.0 1.3-0.8 1.6 0.1M123.2 221.4l1.0-1.2 1.1-1.1 0.8-1.0 0.7-1.0 0.8-1.0 0.7-1.0 1.1-1.4-0.4-1.7M102.8 279.0l-1.6-0.5M102.5 277.8l1.0-0.7 1.5-0.3M102.8 226.5l1.2 1.3 0.9 1.2 1.3 0.3 1.3 0.8 0.7 1.3 0.6 1.0 0.3 1.2-0.2 1.8 0.2 1.4-0.1 1.4 0.4 1.2 0.1 1.6M137.7 248.4l-0.9-1.5 0.1-1.4 0.5-1.7-0.0-1.2-0.1-1.4 0.2-1.3 0.5-1.5M51.2 231.3l1.4-1.1 0.9-1.3 0.8-1.2 0.8-1.0 0.6-1.6 0.8-1.0 1.0-0.9 1.4-0.9 0.6-1.1 0.8-1.4 1.2-1.2 1.0-1.2 1.0-0.7 1.3-0.9M114.1 292.1l1.7-0.6 1.0-0.9 1.3-0.7 1.3-0.4M143.2 295.3l-0.5 1.1-0.7 1.6M123.2 290.6l1.3-0.1 1.6-0.2 1.1-0.9 1.7-0.2 1.2-0.5 1.5-0.4M119.7 279.3l0.4 1.4 0.5 1.7 0.5 1.1 0.2 1.4 0.1 1.7 0.1 1.7 1.0 1.2 0.6 1.1 0.1 1.7 0.8 1.4 0.1 1.8 0.5 1.6 0.3 1.3-0.1 1.5 0.2 1.2M105.4 246.4l1.2 0.7 0.6 1.3 0.7 1.1M103.8 248.7l-1.6 0.3-1.1 0.4-1.1 1.1-0.8 1.0-0.4 1.4-0.3 1.2-0.4 1.6 0.3 1.2M99.9 237.3l1.4 0.3 1.1 0.7 0.9 0.8 0.4 1.3 0.4 1.5 0.7 1.5 0.5 1.3 0.2 1.5-0.6 1.4-1.0 1.0-1.2 0.9M49.6 257.3l-0.3 1.7-0.9 0.9-0.1 1.5 0.1 1.3-0.3 1.2-0.3 1.6-0.1 1.6M68.2 289.6l-0.9-1.5-1.1-1.3-1.1-0.7-1.2-1.1-1.6-0.5-1.0-0.7M130.6 203.0l0.4-1.4 0.7-1.1 0.9-0.9 0.8-1.3M116.8 220.6l1.6-0.8 1.2-0.9 1.1-1.0 0.7-1.3-0.0-1.2 0.5-1.5 0.4-1.3 0.2-1.4 0.4-1.5 0.8-1.5 1.1-0.9 0.9-1.5 0.7-1.0 1.2-0.4 1.4-0.7 1.4-0.9M108.7 249.5l-0.4-1.7-0.9-1.3-1.2-1.3-0.8-1.6-1.1-1.2-1.2-0.2M106.9 252.2l1.1-1.3 0.7-1.3 0.5-1.5-0.1-1.4-0.4-1.2-0.4-1.3M95.7 265.6l1.2-1.3 0.5-1.3 0.5-1.2 0.8-1.1 1.0-1.2 0.9-1.2 0.8-1.5 1.1-1.0 0.5-1.4 1.4-0.7 1.1-0.7 1.4-0.7 1.4-1.0 1.1-1.3 1.1-1.1 0.6-1.0 0.8-1.2M62.4 296.5l-0.2 1.8-0.4 1.7-0.8 1.0-1.5 0.7M98.2 203.7l1.3-0.5 1.4-0.2 1.7-0.6 1.1-0.9 1.2-0.8 1.0-1.1M44.0 249.8l1.3-0.3 1.3-0.3M47.5 261.8l-0.1-1.6M72.9 209.9l-0.8 1.3-0.7 1.1-0.5 1.7-0.7 1.6-0.7 1.2-0.9 1.4-1.0 1.3-1.0 1.4-0.4 1.2M137.0 292.8l0.6-1.5 0.5-1.6 0.5-1.2-0.1-1.2-0.2-1.6 0.0-1.8 0.8-1.3 1.0-1.4 0.9-1.4M73.1 264.3l-1.2-1.1-1.3-0.4-1.3-0.0M73.5 269.4l0.2 1.2M72.3 268.5l1.2 0.8 1.1 1.3 1.3 1.1M39.2 203.9l-1.2-0.6-1.2-0.8-1.3-0.1-1.3-0.2M93.5 208.4l-0.0 1.3-0.3 1.7-0.2 1.6-0.0 1.3-0.0 1.6-0.1 1.7-0.2 1.4 0.3 1.3M95.6 212.7l-0.3 1.3-0.4 1.5 0.2 1.2M95.3 213.9l-1.0 1.0-1.3 0.8-1.4 0.1-1.3-0.1M84.4 218.9l-0.3-1.6 0.3-1.2 0.9-1.0 0.8-0.9M82.5 222.7l0.1-1.4 0.7-1.5 1.0-1.0 1.2-0.5M139.6 253.4l-1.3 0.8-1.3 0.4-1.5 0.3-1.2 0.4-1.5 0.8-1.6 0.8-1.1 0.5-1.2 0.4M138.5 252.8l-0.2-1.3-0.5-1.6-0.5-1.2-0.2-1.5M141.1 254.3l-1.5-0.9-1.1-0.5-1.4-0.2-1.7-0.4-1.5-0.6-1.3-0.0-1.2-0.1-1.2 0.1-1.3-0.5M55.9 242.0l1.7-0.0 1.3 0.6 1.3 0.6 1.4 0.8 1.4 1.0 1.4 1.0 1.3 0.6 0.8 1.2 0.7 1.6 0.6 1.3 0.7 1.1 1.4 1.1 0.3 1.2 0.2 1.3M139.0 231.7l-0.6-1.2-0.3-1.2-0.9-1.3M140.0 230.3l1.1-0.7 1.7-0.1 1.6-0.3M45.7 205.7l1.3 0.9 1.3 0.2 1.6 0.6M60.1 286.9l-1.2-0.0-0.6-1.3-0.1-1.7-0.0-1.5-0.7-1.6M59.7 291.8l1.3-0.2 1.3-0.5 1.0-0.9M113.4 225.5l1.7-0.3 1.7-0.4 1.7-0.4 1.7-0.3 1.2-0.5 1.4-0.9 1.0-0.8 1.1-0.7 1.2-0.6 1.4-0.2 1.2-0.3 1.6-0.3 1.7-0.1" stroke="#a52828" stroke-width="1.05"/>
<path d="M116.6 290.5l-1.9 0.8-3.1-0.9-0.6 2.6-0.2 1.2 2.4 1.7 2.1 0.0 0.2 1.0 0.0 0.2M73.1 223.1l-1.7 1.0-1.1 0.5 0.2 2.6-0.5 1.2 0.1 0.4-0.3-0.2M73.3 250.1l-0.8 0.1 0.1 0.4-2.7 0.3-1.0-1.7-1.3 0.0-0.1 0.8 0.7 1.8 0.3 2.7 1.3 1.1 0.4 0.3 1.7 0.1 0.8 1.0M123.4 232.5l-0.2-1.5 0.8-2.1 2.2-1.5 1.7-0.7M128.2 292.5l-1.5 0.2-1.5-0.4-1.4-1.2-0.9-1.1-1.4-0.9-1.4 0.1-1.2-0.0-1.3-0.1-1.5-0.3-1.3 0.4-1.0 0.8-1.2 0.5-1.3 0.6-1.2 0.9-1.7 0.5M53.8 230.8l0.3-1.2-0.0-1.4 0.1-1.7-0.1-1.3 0.2-1.4-0.1-1.3-0.3-1.3-0.7-1.6-0.6-1.5-0.7-1.4-1.2-1.3-1.5-1.0-1.3-1.1-1.5-0.3M133.6 235.0l-0.5-1.6-0.5-1.2-0.6-1.1-0.9-1.3-0.8-1.6-0.9-0.9-1.1-0.6-1.3 0.4-1.1 0.7-1.7 0.3-1.1 0.7-1.1 1.4-0.8 1.0M122.2 217.7l-1.3 0.7-1.5-0.2-1.6 0.8-1.5 0.4-1.6 0.1M42.4 234.8l-0.4 1.4M42.2 240.1l1.5 0.6 1.0 1.1 1.3 0.9 1.3 1.0 1.0 0.9M61.9 255.5l-0.7 1.3M136.7 295.3l-1.8 0.1-1.4-0.5-1.2-0.8-1.0-0.8-1.4-0.8-1.3-0.6-1.6-0.8-1.5-0.6-1.2-0.8-0.9-1.1-0.7-1.1M82.4 259.5l1.4-0.1 1.3 0.1 1.5-0.1 1.3-0.4 1.0-1.5 0.3-1.2 0.5-1.1 1.0-1.0 1.3-1.2 1.3-1.2 1.1-0.8 1.6-0.8 1.6 0.7 1.3 0.9 1.6 0.8 1.6 0.5 1.3 0.0M125.6 222.1l-1.5-0.9-1.5-0.7-1.6-0.5-1.2-0.4-1.4-0.2-1.1-1.2-0.6-1.7-0.7-1.6-0.2-1.8 0.3-1.8 0.5-1.2M83.4 222.3l-1.0-1.2-1.7-0.5-1.4-0.3-1.8 0.3-1.2 0.7-1.6 0.3-1.3 0.4-1.1 0.6-1.2 0.6-1.0 0.8-0.8 1.0-0.4 1.1M137.9 238.4l-1.5-0.6-1.4-0.0-1.5-0.8-1.5-0.8-1.6-0.4-1.6 0.2-1.2 1.0M112.3 237.4l0.3-1.6 0.0-1.5 1.1-1.3 1.0-1.3 1.2-1.4 1.1-1.3 0.9-1.1 1.4-0.8 1.4-1.1 1.4-1.1 1.1-0.6 1.3-0.9 1.4-0.6 1.2 0.2 1.2-0.1 1.3-0.7M128.7 215.8l1.3-0.4 1.4-0.5 1.4-0.3 1.4-0.4 1.3-0.3 1.4-0.9 1.1-0.7 1.8-0.4M89.9 213.6l1.5 0.1 1.2-0.3 1.1-0.6 1.2-0.3M83.4 220.4l1.0-1.4 0.7-1.3 1.3-1.2 1.3-0.9 1.2-0.9 1.1-1.2 1.2-0.2 1.7-0.0 1.3-0.3 1.6-0.8 0.7-1.1 0.5-1.5 0.4-1.5M95.0 279.1l-1.7 0.3M125.7 212.8l0.8-1.2 0.4-1.5 0.3-1.4 0.5-1.6 1.1-1.2 0.9-1.4 0.9-0.8 1.1-1.4M114.6 285.6l0.0-1.8-0.3-1.8 0.4-1.4-0.0-1.5M105.1 244.8l1.3 0.4 1.4-0.5 1.3-1.0 1.7 0.3 1.5-0.3 1.0-1.3 1.0-1.2M124.6 217.7l1.2 0.1 1.0 1.3 0.3 1.3 0.3 1.7 0.8 1.5 0.6 1.2M73.0 215.3l0.9-1.1 0.6-1.6M77.5 223.0l-0.5-1.3-0.4-1.2-0.4-1.2-0.9-1.5-1.0-1.4-1.3-1.2-0.7-1.1-0.7-1.6M64.2 287.7l0.5 1.4 0.3 1.2 0.2 1.7-0.0 1.3M65.1 286.2l-0.9 1.5M115.6 237.9l0.5 1.3 0.1 1.5 0.0 1.4 0.4 1.2 0.3 1.5 0.2 1.4-0.3 1.4M73.6 224.7l0.4-1.6 0.6-1.5 0.4-1.4 1.1-0.5 1.4-0.9 1.2-1.1 1.4-0.4M72.3 224.7l1.3 0.0 1.5-0.3 1.4-0.5 1.6-0.2 1.2-0.2 1.6-0.4 1.6-0.3 1.4-0.9 1.2-1.1 0.7-1.0 1.2-0.6 1.0-1.0 1.0-1.2 1.0-0.9 1.5-0.9M56.2 303.4l0.3 1.4-0.1 1.6 0.5 1.1 0.8 0.9 1.2 1.0 1.3 0.7 1.6 0.2 1.7 0.1 1.5-0.4 1.3-0.7 1.3-1.1 0.9-1.1 0.8-1.6 0.9-0.8 0.9-1.1M54.5 287.2l-1.2 0.1-1.2 0.6-0.9 1.5M130.8 237.6l1.0-1.2 0.9-1.0 1.0-0.8 1.6-0.5 1.7-0.5 1.2-0.9 0.9-1.1 1.0-1.3 1.6-0.2 1.5 0.2 1.2 1.2 0.7 1.3M88.7 216.6l-1.2-0.9-1.1-0.8-1.1-0.7-1.2-0.6-0.9-1.2-0.7-1.3M57.6 290.2l1.0-0.8 1.2-1.3 0.3-1.2 0.0-1.3M52.0 285.6l1.3 0.5 1.2 0.7 0.7 1.1 1.1 1.4 1.4 0.9 1.0 0.7 1.1 0.9 0.9 1.3 1.2 1.2 1.0 0.7" stroke="#cc3838" stroke-width="1.05"/>
<path d="M93.8 290.8l-0.3-0.6M49.5 234.7l-1.8 0.4M64.1 306.2l0.6-0.6M76.2 255.6l-0.0 1.4M39.1 202.5l-0.8-0.0M71.9 225.5l-0.5 0.5M70.2 282.0l0.3-1.5M91.0 292.2l-0.1-1.1M60.0 253.1l-1.3 0.7M42.5 226.4l-0.6-0.3M133.2 234.8l0.8 1.0M84.3 230.1l2.1-0.5M138.6 233.2l1.4-0.9M95.6 270.3l-1.0-0.5M96.5 234.0l1.6-0.9M48.5 266.2l1.3-0.1M102.8 287.8l-0.5 0.5M123.6 287.7l-0.7-0.8M138.4 215.9l-1.0 0.4M145.2 204.2l-1.7-0.2M72.2 291.8l-0.4 0.7M86.2 294.8l1.4 0.6M105.8 235.9l0.7 0.0M128.5 225.6l0.3 1.3M138.9 210.7l-1.3 0.2M121.0 248.2l-0.3 0.6M131.6 301.0l0.8 0.2M76.8 205.4l0.0 1.8M85.8 245.7l-0.6-0.5M75.1 214.0l-1.1-1.0M45.6 246.6l-1.2-1.6M130.3 239.7l0.2 1.5M77.5 225.1l1.3 1.6M143.2 243.7l0.1-1.8M84.3 279.7l-1.4 0.0M79.3 261.4l-0.9 0.7M112.0 258.6l-0.9 0.3M98.6 231.3l1.6 1.5M63.7 236.3l0.6 0.2M78.6 221.5l-0.3-1.9M141.5 283.7l-1.1-0.4M62.3 206.0l-0.5 0.9M50.3 243.3l-0.7 1.1M98.1 271.4l0.1-0.8M100.2 244.3l-0.3-1.2M126.6 236.6l0.6 0.1M56.4 204.2l0.5 0.6M133.4 227.2l0.0 1.3M57.3 220.9l0.1-0.6M94.0 212.9l-0.1-0.6M125.6 218.9l-0.6-1.7M70.9 213.2l-0.7-0.1M87.1 210.7l-1.0-0.7M54.9 214.6l-1.4 0.4M77.6 261.0l0.6 2.1M88.9 223.1l-0.5-0.3M103.4 221.2l1.5-0.2M45.1 283.2l-0.2 0.7M38.4 281.1l-1.4-1.1M132.1 240.0l0.1-0.9M48.2 234.3l0.6 0.9M50.0 218.8l-0.9-1.7M106.8 294.5l0.7-1.3M111.4 227.2l0.8 1.4M60.0 295.2l0.7 0.5M113.0 245.8l1.3 1.4M104.7 263.6l0.5 1.2M131.5 285.3l0.2 0.6M79.0 247.5l-0.7 0.6M120.1 206.3l0.3 1.3M135.2 206.2l0.1 0.7M111.5 204.6l0.6 0.4M69.7 208.8l0.7-0.3M106.4 247.4l1.7-0.1M136.6 201.5l-1.8-0.2M80.9 241.1l0.9 0.3M74.3 241.0l2.2 0.0M126.2 259.5l-0.4-1.8M87.5 238.8l1.9 0.7M127.2 268.9l0.4 1.8M41.9 291.3l0.6 0.6M41.3 200.6l0.9-0.8M95.2 212.6l-0.3-0.9M58.7 248.6l0.2-0.8M113.7 289.0l-0.5 1.0M138.2 301.3l2.2-0.0M71.4 251.1l0.6 1.8M46.3 243.2l-1.0 0.1M63.2 205.7l0.9 1.7M127.4 226.8l1.7 0.8M118.1 249.3l-0.1-0.8M60.2 229.4l1.6 0.9M96.7 213.9l-1.0-0.6M102.6 218.3l0.9-0.3M90.5 222.4l1.1-0.9M108.9 240.0l0.3-1.1M89.4 252.2l0.5-2.1M83.8 305.4l-2.1-0.4M45.9 298.4l-0.9 0.3M122.2 277.1l-1.8 1.0M66.5 232.1l1.4 1.2M126.4 221.1l-0.9-1.0M76.4 266.7l-0.8 0.7M115.8 232.1l0.5-1.6M129.9 259.0l0.6-0.3M61.6 286.5l1.7-0.2M63.4 272.3l0.1-1.6M103.5 281.8l-1.7 1.2M59.9 208.5l-0.3 2.1M102.9 205.7l1.0-0.7M133.0 224.1l0.3 1.5M113.7 217.1l-1.3-0.7M57.3 213.6l-2.1-0.1M85.1 233.1l-0.6 0.2M89.8 247.4l-0.0 2.0M122.6 250.1l-0.3 0.5M128.6 252.1l0.4 0.7M59.2 301.1l1.4 0.0M145.1 260.0l0.6-2.0M79.0 237.0l-0.7-0.9M75.9 301.0l-0.3 1.8M133.2 239.5l-0.3 1.1M108.1 216.9l-0.1-2.1M77.4 235.5l0.9 0.0M94.3 240.9l1.7-1.2M109.7 284.7l-1.0 1.8M46.7 291.2l2.0-0.8M122.0 245.1l-1.5-0.2M103.8 257.6l-0.3 0.8M142.2 202.9l-1.7 0.6M102.5 281.5l1.5 0.2M75.4 206.4l0.4 1.9M103.7 254.2l1.3 1.2M127.9 247.2l-0.7 0.4M82.3 237.3l0.8-0.7M103.5 223.4l-1.5 0.6M79.0 292.6l-1.0 1.8M106.6 214.8l1.7-0.3M121.8 239.4l1.8-0.5M52.5 213.7l0.7-1.1M76.3 202.3l0.7-1.2M115.8 227.5l0.0-1.0M144.4 251.7l0.0-2.1M73.2 306.5l-0.4 1.7M93.5 213.1l-1.4 0.5M81.9 264.4l-0.4 0.8M77.3 290.7l0.9-1.1M65.1 242.4l1.8-1.2M85.6 214.9l0.8-1.4M137.6 282.1l1.6-0.6M77.3 202.4l-0.5-1.5M130.9 227.2l-0.4 0.5M75.2 227.3l0.8-2.0M81.6 250.0l0.2 1.0M106.5 229.5l-1.2 1.1M128.4 242.1l-1.1 1.1M89.3 231.0l-0.6-1.4M129.1 301.7l-1.2 0.1M100.2 235.5l1.1-1.0M139.2 254.8l2.1-0.8M55.4 241.2l0.9-0.6M125.3 260.0l-0.5 0.3M53.5 253.0l-0.0-1.4M48.5 295.3l-1.4-0.7M57.3 215.1l-1.0 1.3M95.0 223.9l-1.6-0.9M54.4 260.0l-1.6 0.7M102.1 290.8l0.4-0.6M82.6 298.8l-0.7-0.4M108.3 243.1l0.4 1.0M136.1 235.8l-1.3 1.1M86.5 251.4l-0.2-0.6M134.0 237.3l0.4 1.2M130.6 270.1l0.8-0.3M110.6 234.0l1.5 0.3M104.2 248.5l-0.8 0.8M72.4 212.3l-0.8 2.0M110.2 290.2l-0.8 0.7M68.1 227.9l-1.8 1.2M45.1 224.2l-1.1 1.2M86.0 264.9l1.6 0.3M129.3 240.1l-1.4 0.1M101.9 237.2l0.1 2.0M97.2 223.3l0.0-1.9M108.3 261.3l-1.4-0.4M77.4 211.7l0.3-2.1M106.5 224.5l0.6-0.3M100.2 281.0l1.0 0.7M124.6 303.9l0.3-1.4M90.0 201.0l-1.0 1.0M136.2 288.7l-1.9-0.4M47.5 211.8l-0.2 1.7M40.5 302.2l-0.9-1.7M117.2 292.8l-0.5-1.8M127.1 262.6l0.8 1.5M114.3 300.1l0.4-0.9M130.3 286.0l-0.4-0.9M137.6 256.3l-0.5 0.3M134.2 301.1l0.5 1.7M124.4 215.5l-1.4 0.7M72.0 206.8l0.1-1.5M50.4 280.4l1.2 0.9M127.7 225.6l-0.4 1.8M73.3 215.0l-0.8-0.4M117.1 230.7l2.0-0.4M64.4 286.4l0.9 1.8M107.0 245.4l1.1-1.0M140.4 297.3l0.9-1.7M121.9 219.2l0.6 1.2M112.4 289.0l1.2 0.8M64.5 284.1l-0.1-0.7M97.0 260.4l1.5-0.8M99.9 222.7l1.3-1.7M96.5 260.5l1.2-0.6M123.3 240.0l-0.1-1.0M131.1 239.3l-1.8 0.8M132.5 264.6l0.7-1.0M68.9 299.3l0.6-1.1M118.2 240.8l-0.2 0.6M130.9 296.9l-0.9-0.1M132.2 244.5l1.3-1.4M64.1 263.6l1.8 0.1M73.9 287.4l0.5-0.4M121.2 211.3l-0.2-0.9M92.6 244.8l0.9 0.4M94.9 207.7l-1.9-0.9M106.9 248.2l0.9-1.7M59.7 220.2l0.6-0.4M46.1 201.6l2.0 0.3M126.9 286.6l0.1-1.1M101.7 214.5l-0.2-0.6M93.2 268.7l0.2-0.6M118.3 215.4l1.2-1.2M47.1 263.1l1.2-0.3M78.6 221.5l1.7-0.4M120.9 241.1l0.6-0.3M130.9 244.7l-0.1-0.6M66.7 238.2l1.1-0.4M111.0 291.3l-0.2 1.1M120.5 206.6l1.1-1.0M78.1 200.1l1.9-0.5M125.4 249.3l1.4 1.2M38.9 243.6l2.1 0.3M97.7 251.8l-1.4 0.6M128.7 269.4l1.2 1.3M75.5 256.8l-0.3 0.9M70.9 263.1l-1.1-0.7" stroke="#b83030" stroke-width="1.16"/>
</g>
<clipPath id="cv102"><rect x="149.3" y="199.8" width="107.1" height="107"/></clipPath>
<rect x="149.3" y="199.8" width="107.1" height="107" fill="#060606"/>
<g clip-path="url(#cv102)" fill="none" stroke-linecap="round" stroke-linejoin="round" filter="url(#soft)">
<path d="M191.5 252.6l-0.4-0.5-1.5-2.3 0.8-1.5 1.7-1.6-0.1-0.7 0.1-0.0 1.0-1.2 0.2-0.4 1.2 0.2 0.9-0.3-0.1-3.2 1.5-2.4M208.9 269.0l-0.3 2.1-1.8 1.5M219.3 253.8l1.6-2.0 1.2-5.1-0.0 0.7 0.2-0.9M196.1 249.2l-1.9 1.7-1.5 1.3-0.6 0.4-0.5 0.2-0.3 0.1 0.1-0.3M190.8 210.7l-0.1 2.9 1.5 3.3 0.2-0.6 0.8 0.8M196.3 213.9l-1.4 1.6-1.6 1.6M196.3 213.9l-0.2-1.4-0.1-1.5 2.3-0.1 3.3 1.8M200.3 262.1l0.1 2.2 0.3 1.0-1.4 0.8-0.4 0.8M171.8 258.8l-0.2 1.6-1.1 0.4-4.4-1.8-3.9-0.5 1.3-2.0-0.5-1.5-0.9-2.0-0.9-0.8M177.3 267.2l-2.9 1.1-2.9-0.1M219.8 223.8l-1.3 0.9-1.4 0.9-1.5 0.4-0.7 1.0-0.8 1.5-0.8 1.1-1.3 0.8M177.3 230.3l-1.4-0.6-1.2-0.1-1.6-0.8-0.8-0.9-1.2-0.3-1.4-0.7-1.2-0.4-1.5-0.3-1.4 0.0-1.7-0.4-1.7-0.3-1.4-0.6-1.1-0.7-1.3-0.3-1.7-0.5-1.5-0.4-1.2-0.3M190.2 279.1l0.8 1.1 0.5 1.7M184.6 278.4l1.3-0.0 1.7-0.0 1.3 0.4 1.3 0.4 1.3 0.4 1.5 0.3 1.1 0.6M194.2 215.7l0.8-1.0 1.0-1.2 0.8-1.1 0.3-1.5M174.0 231.7l1.2-0.5 1.7-0.2 1.5 0.8 1.5 0.7 1.6 0.7 1.2 1.0 1.6 0.3 1.5 0.1 1.4-0.2 1.2 0.1 1.2-0.0 1.3 0.8 1.1 1.2M250.8 215.9l0.5 1.3-0.2 1.6 0.1 1.6-0.3 1.5-0.9 1.5M219.1 204.7l-1.2-1.0-1.0-0.9-1.0-1.3-0.9-1.4M221.5 203.0l-1.1-0.8-1.0-1.4-1.1-1.3-0.7-1.2M162.7 237.9l-1.2-1.1-1.1-1.1-0.7-1.2M157.0 236.5l-0.0-1.3 0.3-1.4 0.6-1.6M225.9 255.8l-1.7 0.1-1.2 0.4-1.6 0.5M221.0 252.6l-1.7 0.4-1.4 0.2-1.3 0.5-1.2 0.2-1.7-0.2-1.5-0.1M221.6 254.0l-0.6-1.3-0.1-1.6-0.2-1.2-0.9-1.2-1.1-0.8-1.5-0.5-1.6-0.5-1.4 0.3M225.0 283.7l1.5-0.5M259.9 251.9l1.2-1.0 1.2-0.2 1.7 0.3 1.3 1.0M233.9 261.0l1.6 0.6 1.6 0.4 1.3 0.2 1.4 0.7 1.7 0.3 1.3-0.4 1.3-0.4 1.4-0.1 1.3-0.2 1.5-0.9 1.7-0.4 1.2-0.0 1.4 0.3 1.4 0.5M194.2 265.8l0.3-1.4 1.2-1.1 1.0-1.0M195.5 265.7l0.5-1.3-0.2-1.6 0.2-1.8 0.4-1.4-0.3-1.3-0.4-1.3M200.4 214.8l0.2-1.6-0.1-1.6 0.5-1.4M204.2 212.6l-1.2-1.1-1.1-0.6-1.0-0.7-1.5-0.3M191.0 216.8l1.6 0.7 1.3 0.2 1.3-0.2 1.3-0.7 1.3-0.9 1.4-0.5 1.2-0.7 1.0-1.0 1.7-0.4 1.0-0.8 1.1-0.8 0.8-1.0 0.9-1.1M219.2 203.9l-1.5-0.5-1.3-0.1M205.8 209.9l1.4 0.7 1.1 0.9 1.4 1.0 1.1 0.9 0.8 1.0M215.5 253.7l-1.3 0.6-1.5 0.6-1.1 0.8-1.3 0.4-1.4 0.9-1.5-0.4M170.1 232.0l1.1 1.1 1.1 0.8 0.9 1.1 0.4 1.2 0.4 1.6M169.8 228.9l0.0 1.3 0.2 1.7-0.3 1.7-0.4 1.3-0.4 1.6-0.3 1.5-0.2 1.6M167.9 223.6l0.7 1.2 0.2 1.2 0.4 1.5 0.6 1.5 0.7 1.6M252.1 244.5l-0.5 1.4-0.9 1.1-0.7 1.2-0.5 1.3M156.5 261.2l0.7-1.5 0.4-1.3 1.2-1.2 1.0-1.2 0.5-1.3 0.4-1.6-0.7-1.5-0.7-1.0-0.4-1.2M252.1 226.5l-0.1-1.4 0.4-1.5 0.2-1.6M191.1 245.2l0.3 1.4 0.8 1.0 1.4 1.1 1.5 0.9 1.0 0.9 1.0 1.1 0.4 1.4M203.3 242.5l-0.9-1.0-1.3-0.3-1.4-0.3-1.7 0.1-1.5 0.7-1.2 1.0-1.4 0.5-1.4 0.9-1.5 0.9-1.8 0.1-1.2 0.1-1.2 0.3M192.7 214.5l-0.9-1.2-1.1-0.9-1.0-1.4M213.6 205.1l1.2-0.4 1.0-1.0 1.7-0.6 1.2-0.1 1.7-0.4 1.2-0.2 1.1-1.0 1.0-1.2M235.8 276.6l-0.3-1.2-0.1-1.5-0.7-1.4-0.9-1.5M255.9 248.0l-0.8-1.1-0.5-1.6-0.7-1.2-1.0-1.0-1.1-0.7-1.5-0.5-1.6-0.1-1.7 0.2-1.2 0.4-1.5 0.5M171.4 283.2l1.2-1.3M252.9 240.9l0.5-1.4-0.0-1.2 0.6-1.6 0.8-1.4 0.6-1.6 0.8-1.3M250.5 224.0l-0.5-1.4-0.6-1.1-0.9-1.5-1.1-1.4M195.2 227.8l-0.5-1.5-0.4-1.7-1.4-0.8-1.1-0.6-1.4-0.4-1.1-0.6-0.9-0.8-1.4-0.7M204.6 276.1l0.8 1.2 1.0 1.2 0.6 1.2M197.3 274.0l1.5-0.0M196.9 270.9l0.1 1.7 0.4 1.4M189.2 264.3l0.4-1.7 0.3-1.3 0.4-1.3 0.9-0.9 1.1-1.2M192.2 265.8l-1.5-0.6-1.5-0.9-1.5-0.8-0.8-0.9M196.9 279.8l0.1-1.3M231.0 239.7l0.0 1.3 0.2 1.2-0.5 1.4-0.3 1.3-0.6 1.6-0.0 1.4 0.1 1.6M182.8 216.2l0.7 1.0 0.7 1.3 0.4 1.3M184.9 260.2l-1.2 1.2-0.9 1.0-0.5 1.2 0.1 1.3 0.1 1.5 0.5 1.6-0.3 1.4M241.8 262.1l-0.2 1.8 0.0 1.5-0.4 1.3 0.4 1.1-0.4 1.4M230.4 263.3l-1.0-1.5-0.9-1.5-0.9-1.4M244.2 230.9l1.6 0.5 1.3 0.2 1.3 0.3 1.2 0.7 1.2 0.7M187.7 217.6l1.4 0.7 1.6 0.5 1.5 0.7 1.2 0.5M194.4 216.7l-1.6-0.4-1.2-0.2-1.4 0.4-1.3 0.4-1.3 0.8-1.0 0.7" stroke="#741c1c" stroke-width="1.05"/>
<path d="M152.2 260.4l-4.2 0.0-4.6 0.4 0.4 0.0-1.1-0.8 1.4-2.0 0.5-1.4M243.7 225.2l0.7 1.2-0.2-0.1-0.3-0.4 0.1 1.3 0.3 1.1 3.7 0.8-0.1-0.2 0.3 0.4 0.7 1.4-0.3 0.6 0.6 1.0-1.0-0.6M171.5 268.1l-1.4-3.2 0.4-4.0-4.0 1.4-2.7 1.7 0.7 0.8-0.4 1.1-0.6 0.3-0.6 1.2-1.2 2.5 0.4 1.0M234.9 222.1l-1.0 0.1-0.5 0.2-0.1 0.9-0.0-0.7-4.0-0.9-2.2-1.9M191.6 204.0l1.3-2.2 0.2-3.3 1.2-1.0 1.1 0.5 0.7-2.8 1.6-2.4M247.9 273.3l-0.1-0.6 0.5-1.6-0.1-0.3 0.7-0.4M160.3 220.8l1.5 0.2 3.0 1.7M210.0 239.1l1.2-1.6 1.3-2.2 1.4-0.3 1.5 1.1M260.2 242.0l-2.0 1.1-3.0 0.5 0.3-0.2-0.8-0.1 0.1-0.4-1.9-0.0-0.7 0.5-1.5 0.2-0.1 0.4-0.2 1.0 0.7 0.3 0.4 1.0 1.5 0.5 0.3 0.3 0.4 1.7-0.4 2.0 2.2 0.5 2.1 0.4-0.3 1.7 0.2 1.7M259.0 283.5l-2.1-0.5-0.7 0.2-0.8-0.4-0.7 0.7-0.1-0.5-0.6-0.1-2.2 1.3-2.2-0.8M245.9 260.2l-1.5-1.5-1.4-1.6M176.8 224.4l-2.3-0.4-1.3-0.7M220.5 240.7l0.1-1.3 1.4 0.9 2.7 0.3 2.7 0.9-0.3 0.5 0.6 0.8 0.2 1.5-0.6 0.5M236.9 227.9l-3.2 0.9-2.2 0.4-1.2-0.6 1.2 0.7-3.7 2.7-3.1 2.1-0.7-0.5-1.6-0.5 0.1-0.7-0.7 0.1M162.8 313.4l4.8 2.0 3.9 1.2M238.3 218.3l1.3 0.0 0.5 0.4 0.0 1.1-0.0 1.7 2.0-0.1 2.5 0.7-1.3 1.9 0.5 1.2-1.9-0.6-1.7-0.1M158.6 259.2l-0.4-0.9-1.0-0.3-1.6 0.2-1.2-0.4 0.6-2.3 0.2-2.0M225.4 225.9l-1.3-0.1-1.4-0.5-1.5-0.8-1.3-0.7-1.7-0.2-1.2 0.5-1.4 0.9-1.1 1.1-0.9 1.0-1.2 1.2M179.4 272.4l1.2 1.0 0.9 0.9 0.8 1.0 1.0 0.8 1.2 0.8 0.2 1.5M235.2 216.3l1.3 0.1 1.6 0.5 1.5 0.8M191.4 200.1l-0.8-1.2 0.1-1.5M156.0 246.9l1.6 0.7 1.3 0.7 1.1 1.0 0.6 1.7 0.5 1.7 0.9 1.2 1.4 1.0 0.9 1.0M203.4 223.9l-0.8-1.3-1.2-1.3-1.5-0.8-1.2-0.9-1.1-0.6-1.3-0.9-1.4-1.0-0.7-1.3-0.3-1.5-0.6-1.6-0.3-1.8-0.3-1.5M199.7 208.8l-1.2 0.6-1.5 1.1-1.0 1.0M204.8 216.7l-1.0-1.0-0.6-1.2-0.7-1.1-0.7-1.0-0.9-1.1-0.5-1.1-0.7-1.5-0.4-1.3 0.3-1.6M243.6 214.5l1.4 0.2 1.2 0.2 1.6-0.0 1.5 0.3 1.6 0.7 0.9 0.9 0.7 1.3-0.0 1.7-0.2 1.4-0.0 1.3M247.8 256.5l-1.2 0.3-1.6-0.2-1.7-0.5-1.0-0.9-0.4-1.3-0.4-1.3-0.5-1.5M239.7 263.9l0.3-1.4 0.2-1.4 0.2-1.2 0.3-1.4 0.1-1.5-0.4-1.5-0.4-1.4 0.3-1.7M251.1 249.6l-0.8 1.6-0.8 1.2-0.6 1.6-0.8 1.2-0.4 1.2-0.0 1.5 0.0 1.2-0.4 1.2 0.1 1.7-0.7 1.3-0.8 0.9-1.7 0.5-1.7 0.1-1.5-0.6-1.4-0.5-1.2-0.5-1.2-0.7M170.2 222.0l1.0-1.1 0.8-1.6 0.9-1.1 1.1-0.9 0.8-1.3 0.4-1.2 0.8-1.5 1.0-1.3M218.6 206.4l0.4-1.7 0.2-1.3 0.5-1.6-0.2-1.3M215.7 207.0l1.6-0.1 1.4-0.5 1.4-1.0 0.6-1.2 0.9-1.2 0.7-1.6 0.4-1.5 0.2-1.3 0.5-1.5M161.5 236.9l0.7-1.5 0.7-1.4 0.9-1.2M219.9 261.5l1.2-0.2 1.6-0.3 1.2 0.7 1.0 1.3 0.7 1.1 1.0 1.0M218.6 255.8l-0.1 1.4 0.5 1.5 0.4 1.5 0.5 1.4M229.7 261.9l-0.4-1.2-0.4-1.6-0.9-0.9-1.0-1.0-1.1-1.4-0.8-1.2-1.7-0.4-1.8-0.2-1.5 1.0-1.5 0.9-1.4 0.8-1.2 0.8M154.4 235.7l-1.0-1.5-0.0-1.4-0.5-1.4-0.6-1.4M254.3 252.3l1.3-0.7 1.2-0.3 1.6 0.3 1.5 0.3 1.5 0.3 1.4-0.1 1.6 0.1M237.2 251.7l1.5 0.5 1.7 0.7 1.7 0.5 1.6-0.4 1.8-0.3 1.2-0.5 1.1-0.6 1.8-0.3 1.6 0.4 1.5 0.5 1.7 0.2 1.5 0.3M254.6 234.7l1.2 1.2 1.2 1.2 1.2 1.0 1.3 0.8 1.7 0.6 1.3 1.0 0.9 1.1 1.3 0.7 1.3 0.8 0.6 1.6M201.8 271.6l-0.8-0.9-1.6-0.8-1.1-1.2-0.8-1.0-0.7-1.1-1.3-1.0M192.5 266.0l1.7-0.2 1.3-0.1 1.3 0.1 1.4 0.2 1.7 0.5 1.2 0.8 0.8 1.6 0.6 1.2 0.5 1.5M202.0 266.3l1.7 0.3 1.2-0.3 1.6-0.7 1.8-0.3 1.8-0.0 1.4-0.9 1.6-0.7 1.4-0.6M233.4 259.8l-0.4 1.4-0.1 1.5-0.1 1.2 0.7 1.5 0.4 1.6 0.5 1.4 0.1 1.3 0.2 1.3 1.2 1.1 0.3 1.2 0.3 1.6M204.4 220.7l0.5 1.4 0.8 1.2 0.7 1.6 1.4 1.0 1.3 1.2 1.4 0.6M195.6 222.1l0.9-1.3 0.6-1.5 1.3-1.2 1.4-1.1 0.9-1.0M155.3 242.1l0.3 1.4 0.5 1.3 0.5 1.6 0.4 1.2 0.7 1.1 1.0 1.4 0.8 1.5 0.6 1.4 0.5 1.2 1.3 1.1 0.9 0.8 1.0 1.0 1.3 0.7M221.8 257.0l-1.7-0.2-1.1-0.5-1.5-0.6-1.1-1.3-1.0-0.8-1.1-0.8-1.1-0.7-1.2-1.2M225.2 252.2l-1.1 1.2-0.5 1.2-1.2 1.3-0.7 1.2-0.2 1.6 0.2 1.7-0.0 1.3 0.6 1.4 0.2 1.2 0.3 1.5M246.5 251.9l-0.1-1.6 0.9-1.5 0.9-0.9 0.7-1.1 0.6-1.7 1.0-1.1 0.5-1.6-0.1-1.3-0.0-1.6-0.6-1.6-0.5-1.6-0.2-1.7M183.5 250.5l1.5 0.5 1.7 0.5 1.6 0.7 1.3 0.5 1.1 0.7M199.7 226.8l0.5 1.6-0.4 1.1-0.8 1.5-0.9 0.9-0.9 1.1-1.0 1.1M256.2 227.0l-1.6 0.1-1.3 0.0-1.2-0.6-1.5-0.6-1.6-0.1-1.2-0.2-1.7-0.2-1.3-0.3-1.1-0.6-1.1-0.8-0.9-1.0-0.6-1.6M251.2 221.6l-1.6 0.3-0.8 1.4M237.4 276.8l-0.0-1.7-0.7-1.2-1.2-1.2-1.3-0.1-1.5 0.9-1.3 0.9M244.6 276.2l-1.2 0.6-1.3 0.5-1.7-0.2-1.7-0.1-1.3-0.1-1.6-0.2-1.6-0.1M217.0 265.7l0.7-1.0 0.4-1.2 0.3-1.6-0.6-1.3-0.8-1.5-0.8-1.0-0.9-1.4-0.7-1.3-0.9-1.5-0.5-1.3-0.1-1.3-0.2-1.3M253.8 244.1l-0.2-1.4 0.2-1.2-0.3-1.5-0.6-1.4M236.7 223.8l-1.1 0.6-1.7 0.4-1.4 0.3M254.6 243.5l-0.8-1.4-0.9-1.1-1.3-1.0-1.0-1.3-0.8-1.3-1.1-1.0-1.0-1.4-0.4-1.3-0.3-1.2 0.2-1.3 0.5-1.7 0.5-1.6 0.7-1.1 1.1-1.3 0.5-1.7M179.1 206.0l-1.3 0.3-1.3 0.2-1.7-0.4-1.7-0.2-1.6-0.1-1.2-0.0-1.3-0.9-1.1-1.3M212.7 231.3l-1.3-0.9-0.5-1.1-0.9-1.0-1.3-0.6-0.7-1.5-0.2-1.5 0.0-1.3-0.6-1.4 0.1-1.8M206.4 278.6l-1.2 1.1-1.3 0.9-1.1 0.8-1.0 0.7M194.0 267.5l1.2 1.0 0.8 1.4 0.8 1.0 1.2 1.1 0.9 1.0 1.5 0.9M175.8 286.7l0.1-1.3-0.0-1.3-0.1-1.6-0.6-1.6-1.1-1.4-0.4-1.3-0.7-1.2-0.7-1.4-0.1-1.4M201.0 257.8l-1.4 0.6-1.4 1.0-1.2 1.1-0.6 1.2-0.9 1.4-1.0 1.0-1.0 0.8-1.2 0.9-1.4 1.0-1.0 0.9-1.3 0.7-1.3 0.9-1.3 0.6-1.7 0.0-1.3 0.4M201.4 204.0l1.2 0.3 1.4 0.3 1.3-0.3 1.3-0.6 1.5-0.3 1.5-0.4 1.6 0.4 1.6 0.1 1.4-0.4 1.7 0.4 1.4-0.2 1.2-1.3M220.5 238.7l1.1-0.9 1.0-0.8 1.1-0.9 1.3-0.2 1.3 0.1 1.4 0.8 1.1 1.0 1.3 0.9 1.0 0.9 1.1 1.4 1.1 1.4M182.8 262.4l-0.7-1.1-1.1-0.9-0.8-1.5-1.2-1.2M235.9 263.7l-1.2-0.4-1.4 0.6-1.6-0.2-1.3-0.5-1.2-0.5-1.1-0.6-0.7-1.5-0.5-1.6M233.0 270.1l1.4 0.8 1.3 0.3 1.2 1.1 1.1 1.1-0.2 1.5-0.1 1.3M248.7 259.6l-0.7-1.4-1.1-1.2-1.7-0.5-1.7 0.5-1.3 0.3-1.5 0.8-1.4 0.8-0.6 1.6-0.9 1.1-1.1 1.3-1.0 1.0-1.0 1.3-1.0 1.0-1.1 1.1M164.2 201.6l-1.1-0.6-1.2-0.4-1.1-0.9-1.2-1.1M194.1 241.4l1.2 0.8 1.0 0.9 1.2 0.8 1.0 0.8 0.9 1.1 0.8 1.0M250.7 270.0l0.5 1.4 1.1 1.0 0.8 1.4 0.7 1.2 0.7 1.3 0.5 1.5 0.3 1.6 0.2 1.5 0.2 1.7M246.2 204.2l1.1 1.3 1.2 0.4 1.3 0.3 1.2-0.3 1.6-0.2 1.2-0.4 1.1-0.7 1.1-0.6M212.3 265.7l1.5-0.8 0.9-1.4 1.0-1.0 1.3-0.9 1.0-0.7 1.3-0.5 0.9-1.3 0.9-1.1 0.5-1.5-0.0-1.6-0.3-1.2 0.2-1.8-0.4-1.4" stroke="#a52828" stroke-width="1.05"/>
<path d="M250.5 245.0l-0.1 0.6-1.8 0.3M163.6 243.3l3.1 0.7 1.6 1.3-0.2-0.1 0.1 0.2M240.9 259.3l0.8-0.5 1.4-1.6 0.5-1.6-0.5-1.3 1.5-0.2-0.2-1.6 0.1-1.2-1.5-2.7-0.6-1.3-0.8-0.1-1.7 0.4-2.9-0.2-1.3 0.7 0.3 2.3M165.1 222.8l-1.6 1.8-2.8 1.9 1.5 3.3 2.2 2.6-0.4 0.6 0.0-0.2M197.0 251.7l2.0 2.3 0.8 2.4 1.1 1.1-0.1-1.0 1.6-1.4 0.6-2.7 2.0-1.9 2.8-0.8M214.1 228.4l0.1 1.4-0.4 1.1-0.4 1.2-0.2 1.3-0.4 1.2 0.4 1.6 0.4 1.4M210.3 230.0l0.4 1.4 1.1 0.6 1.5 0.6 1.7-0.4 1.6-0.8 1.4-1.0 1.1-0.7 0.8-1.0M212.5 228.2l-1.1 0.6-1.0 1.2-0.5 1.3M161.1 260.5l1.4-0.1 1.6 0.3 1.6-0.1 1.7-0.3 1.3-0.5 1.2-1.2 0.5-1.7M189.0 290.2l0.7 1.0M199.6 206.0l1.0-1.1 1.0-1.0 0.7-1.2M241.9 253.8l1.3-0.4 1.3-0.4 1.3-0.9M167.7 235.2l-1.0 1.0-1.2 0.7-1.4 0.8-1.4 0.2-1.6-0.1-1.4-0.5-1.2 0.0-1.5-0.8-1.3-1.1-1.5-0.4-1.1 0.5-1.3-0.4-0.9-0.8-1.1-0.7M221.4 256.8l-1.0 0.8-1.4 1.0-1.0 0.7-0.8 1.3 0.3 1.3M203.0 271.6l-1.2 0.0-1.2 0.1M207.1 209.6l1.6 0.2 1.6-0.1 1.4 0.3 1.7 0.3 1.1 0.6 1.2 1.1M171.5 226.3l1.5 0.6 1.6 0.0 1.3 0.0M199.8 217.1l1.4 0.9 1.0 0.6 1.1 1.3 1.1 0.8M248.2 247.9l-0.6-1.4-0.8-1.6-0.7-1.2-0.3-1.7-0.2-1.4-0.1-1.6M250.9 241.8l1.5-0.4 1.2-0.3 1.4 0.5 1.4-0.1 1.3 0.7 1.5 1.0 1.0 1.5 1.1 0.8M241.4 229.8l1.0 0.9 0.8 1.1 1.1 1.2 0.5 1.2 0.5 1.6 0.3 1.2 1.1 1.2 1.5 0.6 1.3 0.6 0.9 0.8 0.5 1.7 0.5 1.6 0.6 1.1 1.0 1.4 0.9 1.2M252.4 223.7l1.2-0.4 1.8-0.2 1.4-0.7 1.1-0.8M198.0 241.0l-0.6-1.2-0.6-1.5 0.1-1.5 0.2-1.4M215.9 262.4l-0.4 1.6-0.1 1.3-0.1 1.6 0.3 1.6 0.6 1.4M158.2 246.9l-1.3-0.5-1.2-0.5-0.7-1.2M195.5 246.2l-0.2 1.3 0.1 1.4-0.4 1.3-0.8 1.2-0.7 1.0-1.2 1.3-1.0 1.0M192.9 223.8l0.0-1.4M195.2 268.5l1.5-0.9M221.0 200.2l0.3-1.6 0.0-1.5-0.3-1.5 0.1-1.8 1.1-1.4 1.3-1.2 1.0-0.7 1.1-0.7 0.6-1.2 0.2-1.5 0.6-1.2 1.2-1.3 0.7-1.2 0.4-1.4 0.5-1.2 0.0-1.5 0.3-1.7M173.1 219.2l1.7-0.1 1.3-0.9 1.2-0.6 1.4-0.5 1.3-0.3 1.4-0.4 1.5-0.2 1.2 0.1 1.3-0.1 1.2 1.1 1.3 1.0M217.3 219.1l-1.0 0.9-0.5 1.7 0.3 1.6 0.3 1.8 0.4 1.2 0.8 1.3 1.4 1.1M240.0 265.5l-1.2-0.3-1.1-0.6-1.3-1.1-1.6-0.7M247.0 256.9l-0.9 1.5-0.9 1.2-1.2 1.4-1.4 0.9-0.9 1.1-0.7 1.3-1.0 1.2M240.8 258.0l0.3 1.4 0.5 1.1 0.2 1.6-0.1 1.4-0.2 1.3 0.5 1.7M232.8 267.1l0.2 1.8 0.1 1.2 0.6 1.2M167.4 222.4l-0.0 1.2 0.0 1.3-0.1 1.6-0.2 1.4-0.4 1.2-0.3 1.6-0.4 1.2M199.4 245.8l1.3-1.0 1.5-0.4 1.1-0.9 1.7-0.5 1.3-1.2 1.3-0.7 1.1-0.9M216.7 223.3l-0.5 1.2-0.4 1.5-0.9 1.1-0.6 1.2-0.9 1.2-0.8 1.6-1.0 0.8-1.5 0.9-1.2 1.1-0.9 1.3-0.9 0.9-1.2 0.9-0.7 1.1-0.6 1.2-0.8 1.5-1.2 0.8-1.5 0.3M190.3 216.5l0.2 1.3 0.8 1.0 0.4 1.2 1.3 0.8 1.3 0.9 1.4 0.6 1.3 0.9" stroke="#cc3838" stroke-width="1.05"/>
<path d="M224.3 213.0l-1.1 1.9M158.7 206.8l0.7 0.1M211.9 250.8l-0.5 0.8M188.3 204.6l1.0 0.1M179.1 223.1l1.5 1.0M208.7 241.5l-0.9 0.2M199.5 236.6l1.3 0.0M244.3 262.1l0.9 0.5M234.1 240.7l-1.8 0.3M223.1 215.2l-0.2 2.1M253.4 241.1l-0.7 0.1M210.9 206.2l1.0 0.8M195.4 215.6l-1.1-0.7M208.1 204.6l-1.2-1.6M249.2 227.0l-1.0 1.0M229.2 255.9l-1.6-1.1M209.2 262.2l-0.4-0.9M180.7 234.6l-0.0-0.7M227.3 208.0l1.4-0.7M203.8 226.0l-0.9-1.0M195.5 239.5l0.0-1.0M219.1 246.0l-0.3 1.2M173.9 211.0l2.2-0.1M205.3 199.8l-0.2 1.4M215.3 262.6l0.5 0.4M238.4 242.9l-0.1 0.6M217.0 210.8l-1.3 0.6M237.7 237.9l-0.9-1.4M236.4 259.8l1.8 0.0M241.8 238.0l-1.9-0.1M169.2 219.1l0.2-1.0M212.9 233.4l-0.7 1.2M237.0 253.1l-1.6 1.3M157.6 233.7l1.0 0.7M176.4 278.5l-0.5-0.8M229.6 208.2l0.4-1.8M242.5 207.5l-0.4 1.2M215.0 247.3l1.6 0.0M195.5 247.2l-0.9-0.4M177.4 303.2l0.8-0.0M169.2 220.3l-0.1-2.2M205.4 241.3l0.7 1.2M179.9 276.3l-1.4 0.3M205.7 257.7l0.3 1.2M250.7 230.5l1.2 0.6M198.7 234.0l1.1 0.1M187.7 278.3l0.3-1.0M151.2 242.0l0.3-1.8M232.5 220.4l-1.0-1.2M198.6 227.4l-1.1 0.1M210.0 235.6l0.6 0.4M213.4 264.8l-0.0 1.4M161.8 289.7l1.0-0.8M155.0 232.0l1.5 1.2M173.4 237.7l0.5 1.2M240.3 256.4l-0.4 0.6M238.5 240.4l-1.9-1.0M213.7 262.8l0.8 0.6M248.1 251.2l1.3-0.8M231.3 237.7l-1.6 1.3M177.5 238.7l0.3 1.1M218.7 264.3l-1.3-0.1M255.0 251.2l-0.3-1.5M219.8 268.3l-1.3-0.2M192.4 256.0l0.2 1.0M150.4 228.3l0.8 1.6M234.8 204.6l0.2 1.0M182.2 291.7l-0.3 1.7M219.7 227.1l1.4 1.6M183.7 288.1l-0.2-0.7M228.5 242.4l1.0 1.1M219.8 274.4l1.5-1.3M234.8 250.3l-0.3 0.5M239.4 244.3l-0.7 1.4M230.1 234.8l1.1-1.1M191.2 273.5l1.4-1.0M224.1 245.3l1.1 0.4M249.4 233.2l-1.3-1.2M247.5 260.1l0.6-1.3M194.5 250.4l-0.4 1.4M161.0 264.5l-0.5 1.4M219.3 258.9l0.5 1.3M218.7 218.5l0.8 0.4M160.6 265.1l-0.9 0.3M234.1 236.2l-1.5 0.7M192.6 226.1l0.7-1.0M244.2 243.5l1.8 0.4M232.9 204.0l-0.8-0.6M212.0 224.4l1.8-0.7M230.8 246.7l-1.7-0.3M167.8 218.0l-1.7-1.2M209.0 212.0l0.3-0.8M235.7 267.1l1.2 0.1M226.1 222.2l-0.6-1.5M205.7 281.1l0.3 1.3M232.5 256.3l0.8 1.9M194.4 242.8l-0.0 0.8M164.8 275.2l-0.6 0.3M241.2 253.3l0.5-0.3M166.0 270.5l0.6 0.8M200.3 290.2l-1.7-0.4M210.8 205.7l-1.4-0.6M188.7 225.4l-0.4 1.7M225.9 206.4l1.6 0.6M205.8 257.9l0.9 0.2M255.6 274.0l-1.0 1.6M156.5 262.6l1.3-0.3M221.1 219.4l-0.1-1.7M218.0 210.8l-1.1 1.6M183.3 287.0l1.2 0.3M173.8 208.2l1.2-0.3M233.5 249.1l2.1-0.4M233.7 239.4l0.1-0.6M201.8 232.8l-1.0-0.6M227.1 238.2l0.7 0.3M173.9 261.9l-1.0-0.5M194.0 200.7l1.0 0.8M220.3 241.8l-0.2-1.7M222.9 261.8l0.9-0.9M153.6 222.7l-0.8-0.7M190.9 248.5l-1.7 0.5M168.1 222.5l0.9 0.7M186.4 234.4l-0.7 0.3M197.2 224.8l-0.5 0.5M242.0 201.1l-1.6 0.7M174.0 223.5l-0.6 1.1M214.1 226.1l0.3 1.0M163.8 230.8l0.9-0.3M231.0 261.5l0.9 0.8M238.6 258.9l-1.3 0.8M187.3 257.2l0.3-0.6M227.4 240.5l1.1 1.3M215.5 207.6l0.5-0.4M241.5 234.8l-0.1-1.5M166.9 241.5l-0.3 0.7M232.0 285.1l-0.6-0.2M238.6 266.1l0.6-0.3M160.2 224.5l0.8-1.2M168.1 272.6l1.7-1.1M230.2 236.4l1.1-0.6M184.4 263.9l-1.1-0.4M173.1 255.5l0.4-0.9M197.8 233.2l-0.5 0.6M165.4 260.9l0.6-1.4M157.5 217.5l-0.5 0.5M181.0 236.8l0.2-1.4M231.8 258.6l0.1-1.9M169.8 252.7l0.0-1.0M176.0 288.0l0.3 1.2M191.0 229.8l-0.8 0.3M220.6 249.4l1.3-0.7M183.6 215.3l0.3 2.1M221.9 269.2l0.9 0.0M199.0 238.8l-0.8 0.0M211.7 230.4l0.7-0.6M175.3 241.4l-1.6-0.6M175.7 203.8l0.1-0.7M195.4 236.0l-1.6-1.4M167.4 209.5l0.1-1.1M241.0 257.3l0.4-1.2M215.5 253.2l2.2-0.1M149.4 251.7l-1.4-0.9M193.5 231.8l-1.5-0.2M183.9 218.4l0.6-0.7M250.9 287.0l0.9-0.2M216.6 242.6l0.1-1.1M155.0 243.5l0.8 0.4M250.9 231.1l-1.4-1.2M204.4 227.3l0.9-0.2M185.5 214.8l-0.7 1.6M187.7 247.0l1.2 0.7M163.7 216.3l-1.5 0.1M191.3 256.6l-0.7 1.2M179.7 251.7l-0.9 0.4M182.7 248.9l2.0 0.1M230.1 256.2l-1.5-1.1M240.1 206.9l-0.5 1.8M240.9 286.8l2.1 0.6M206.3 234.8l-1.0-0.9M189.3 257.0l0.7-1.7M244.9 257.1l-0.3 0.7M206.9 237.9l1.4-1.2M207.3 272.4l0.6-1.6M206.7 206.4l0.7 0.6M181.1 271.7l1.3 0.6M218.9 200.3l-0.8 1.1M203.4 221.2l0.6 0.3M166.7 224.0l1.0 0.8M230.8 241.8l0.4-0.6M199.5 233.3l1.0-1.6M248.6 276.8l0.2 2.1M252.4 212.7l-0.3 1.1M200.2 216.3l-0.1 1.3M226.1 215.6l-0.0 1.1M241.1 202.8l0.9 1.0M243.8 223.8l1.0-1.1M170.8 239.2l-1.8 0.6M226.0 206.6l0.0-0.9M214.5 228.7l1.9 0.6M187.4 296.2l-1.3-0.9M231.8 252.1l-1.7 0.6M227.0 268.7l-0.6 1.2M192.9 230.1l-1.0 0.6M210.4 276.0l-0.4 1.4M168.0 259.6l1.8 0.1M185.9 287.5l-0.6 0.5M177.8 269.8l-0.2 1.0M206.4 264.3l0.8 0.8M229.5 229.1l0.9-0.9M240.6 237.9l-1.4-0.4M204.8 213.9l-0.5 1.6M157.3 218.5l-1.5 0.7M163.4 208.5l-0.2 1.5M166.2 244.8l0.9-0.6M151.4 245.6l-1.0-0.8M234.8 227.5l0.5-1.7M178.6 272.7l1.1 1.0M240.6 257.1l0.2-0.8" stroke="#b83030" stroke-width="1.16"/>
</g>
<clipPath id="cv103"><rect x="272.2" y="199.3" width="106.8" height="107"/></clipPath>
<rect x="272.2" y="199.3" width="106.8" height="107" fill="#060606"/>
<g clip-path="url(#cv103)" fill="none" stroke-linecap="round" stroke-linejoin="round" filter="url(#soft)">
<path d="M355.9 191.0l1.1-0.1 0.5 0.1 2.9-1.8 2.8-1.4 0.1 0.3-0.1 0.4M278.9 222.7l-2.8-2.3-3.0-0.8-0.1 0.3-0.4-0.0-0.0-0.3-1.4 0.4-1.0-0.7-1.8-1.5-2.3 2.1-2.7 2.0-0.7 0.1-0.8 0.2M273.9 223.3l-1.0-1.4-0.4-2.0M384.1 205.8l0.3 2.5 0.2 2.8M309.6 219.4l1.8-1.1 1.6-1.4 0.6-0.0-0.5-0.0 0.5-0.1 0.0-0.5 0.3-1.4 1.0 0.5-3.0-3.1-2.8-2.8-0.4 0.6-1.5 0.3 0.9 1.1 0.2 1.5M309.9 238.3l1.6-0.7-0.0-0.5 2.1-0.3 1.4 0.6M330.8 198.2l-1.0 0.3 0.3 0.2-1.1-1.4-1.8-1.0 1.0-2.5 0.9-2.8 1.7 2.0 1.7 2.6M370.9 212.7l-0.4 1.5-0.4 1.4-0.4 1.4-0.9 1.5-0.2 1.4-0.3 1.6-1.1 1.1-1.1 0.6M308.2 292.9l-1.2-1.2M300.8 286.8l-0.1 1.7-0.4 1.4-0.5 1.2-0.5 1.6M345.5 238.9l0.9 1.2 0.5 1.6 0.6 1.6-0.8 1.4-0.8 1.3-0.7 1.3-0.2 1.7-0.5 1.5-0.8 1.3-0.6 1.4-0.4 1.2-0.0 1.6-0.1 1.4M366.4 210.8l-0.9 1.2-0.9 1.5-1.1 0.9-1.3 1.0-1.4 0.5-1.4 0.6-1.2 0.8-0.7 1.0-1.5 0.9-1.5 0.1-1.1 0.7-1.3 0.6-0.9 0.8-0.4 1.3M326.7 234.6l1.3-0.4 1.1-0.7 1.4-0.9 1.5-0.3M325.8 233.1l0.9 1.5 0.4 1.5 0.1 1.5 0.2 1.6 0.1 1.4 0.2 1.3M319.5 217.1l1.3 0.4 1.6 0.5 1.3 1.2 1.4 0.7 1.3 1.1 1.5 1.0M318.4 201.1l0.1 1.6 0.4 1.2 0.5 1.6 0.4 1.3 0.7 1.3 0.4 1.5-0.5 1.4-0.3 1.5-0.6 1.3 0.0 1.6-0.1 1.8 0.3 1.3 0.7 1.7 0.3 1.5 0.4 1.2-0.0 1.3M282.9 249.1l-1.1-1.2-0.5-1.2M295.8 215.8l-0.7 1.4-0.6 1.6-0.6 1.6-0.6 1.0-0.3 1.2M292.9 267.7l0.3-1.5-0.4-1.5-0.1-1.3-0.4-1.6M368.9 294.3l0.7-1.3 0.5-1.1 0.1-1.3-0.1-1.5M274.3 272.6l1.8 0.1 1.6-0.8 1.3-0.9 1.8-0.4M348.5 259.1l1.0-0.7 1.4-0.6 0.6-1.0 1.2-0.8 0.2-1.4-0.4-1.3-0.8-1.3-0.6-1.7-0.1-1.4M346.2 226.4l-1.7-0.4-1.2-1.1-1.0-1.1-1.5-0.8-1.2-0.8-0.7-1.1-1.2-1.2-0.8-1.1-0.2-1.4 0.1-1.3-0.1-1.8-0.0-1.5M328.1 208.4l0.1-1.5-0.1-1.6-0.4-1.3-0.4-1.4-0.3-1.2-0.3-1.8 0.3-1.5 0.4-1.5 0.3-1.5 0.1-1.6 0.1-1.6 0.2-1.2M293.0 216.1l-1.0-1.1-1.4-1.1-1.2-0.4-1.4-0.7-1.7-0.4-1.1-0.9-1.1-1.0-1.5-1.0M295.2 217.7l-1.3-0.6-1.0-1.0-1.0-1.2-1.2-0.7-0.8-1.0-1.5-0.9-1.5-0.4-1.5-0.5-1.5-0.7M312.8 218.6l-1.5 0.7-1.7 0.4-1.3-0.1-1.3 0.2-1.7-0.0-1.7 0.4-1.6 0.7-1.2 0.3M311.5 205.2l-0.9 1.1-1.1 1.3-0.1 1.5-0.2 1.7 0.4 1.4 0.0 1.4 0.6 1.2 1.2 1.3 0.8 1.3 0.5 1.4-0.3 1.8 0.4 1.7 0.1 1.4-0.2 1.7-1.3 1.2-1.5 1.0-1.1 1.2M376.4 276.8l0.8-1.1 0.6-1.3 0.4-1.2 1.0-1.1M293.9 206.6l0.8 1.0 0.5 1.1 1.0 1.5 1.2 0.7 0.8 1.0 1.1 0.9 1.3 0.9 1.5 0.9 0.8 0.9 1.2 1.0M339.9 228.4l1.4 0.9 1.2 0.6 1.5 0.0 1.2-0.1 1.4-0.5 1.3-0.6M279.4 254.1l1.3-1.0M278.7 257.8l0.6-1.2 0.4-1.3-0.2-1.2-0.6-1.5-0.0-1.8-0.5-1.6M331.9 215.6l0.9-1.2 1.0-0.9 0.9-1.3 1.3-1.3 1.0-1.0 1.3-0.2 1.5-0.0M332.9 220.2l-0.3-1.6-0.4-1.4-0.3-1.6M273.4 252.2l0.3 1.7 0.1 1.8-0.1 1.4M299.2 259.7l0.8 1.2 0.4 1.4 0.3 1.3 0.2 1.4 0.3 1.2 0.5 1.5M336.8 252.4l1.1-1.3 0.0-1.2 0.2-1.4 0.0-1.2M296.2 197.9l1.6-0.4 1.5-0.7 1.0-1.3 0.8-1.1 1.1-1.2 1.3-1.1 0.5-1.5 1.5-0.8M295.8 199.5l0.4-1.6 0.1-1.6 0.3-1.5M300.6 195.6l1.3 0.6 0.9 0.9 1.2 0.7 0.8 1.5 0.2 1.7 0.4 1.2 0.2 1.5M283.7 211.0l1.4-1.0 0.5-1.5 0.6-1.7 1.1-1.0 0.9-1.4 0.9-1.2 0.8-0.9 0.9-1.4 1.1-0.8 1.3-0.8 1.5-0.4 1.3 0.6 1.3 1.0 1.0 0.7M305.8 207.4l-0.7 1.2-0.5 1.4-0.8 1.3-1.2 0.7-1.2 0.5-1.2 1.1-1.4 0.7M311.3 216.3l1.6 0.1 1.5 0.8 1.2 1.3 1.0 1.2 0.5 1.2 0.2 1.4 0.0 1.3M352.5 266.1l-0.7 1.4-1.1 1.0-1.2 1.2-0.9 1.4-1.2 0.8-0.8 1.5M342.4 257.5l0.1 1.7 0.0 1.2-0.1 1.2 0.1 1.3 0.2 1.7M324.2 255.3l-1.3 1.0-1.2 1.2-1.6 0.7-1.4 1.0-1.6 0.8-1.2 0.1-1.3 0.3-1.6 0.6M300.8 217.6l1.3 0.2 1.3-1.0 1.2-1.0 0.7-1.0M300.1 220.7l0.2-1.5 0.5-1.6 0.0-1.7 1.0-1.0M333.1 260.7l0.4 1.5 0.2 1.4 0.8 1.0 0.7 1.1 0.6 1.4M350.4 247.6l0.1 1.3 0.4 1.3 0.2 1.2 0.9 1.4 0.5 1.1 1.2 1.0 0.9 0.9M344.8 246.8l1.6-0.4 1.5 0.3 1.3 0.6 1.2 0.3 1.0 0.9 1.2 1.1 1.1 0.6 1.1 1.2M345.9 247.7l1.3 0.9 1.2 1.0 0.9 1.2 0.7 1.4 0.3 1.2 0.3 1.4-0.5 1.7M351.0 249.8l0.6 1.6 0.4 1.7 0.3 1.7-0.1 1.7 0.3 1.3 0.7 1.4M343.6 245.7l1.2 1.1 1.1 0.9 1.1 0.6 1.3 0.4 1.1 0.5 1.6 0.6 1.7 0.6M339.6 253.1l-1.0-0.8-0.5-1.1-0.1-1.7-0.4-1.6-0.1-1.5 0.2-1.4 0.4-1.3 0.8-1.1 1.1-0.6 1.6-0.4 1.1-0.6M339.6 232.8l-1.4 0.5-1.2 0.7-1.3 0.6-1.4 1.1-1.1 1.0-1.2 1.4-0.1 1.6 0.3 1.5 0.4 1.5-0.2 1.5-0.7 1.4-0.5 1.2-1.2 1.0-1.3 0.9-1.2 0.8-0.5 1.5-0.4 1.6M358.9 226.1l0.3-1.6-0.4-1.2 0.1-1.4-0.2-1.6-0.4-1.7-1.0-1.4-0.2-1.3 0.2-1.4 0.3-1.4 0.5-1.5M290.8 266.0l-0.7 1.5-0.7 1.2M301.7 249.8l1.1-0.6 1.2 0.0 1.6-0.4 1.6-0.6 1.4-0.2 0.9-1.1 0.5-1.1 0.0-1.5 0.4-1.3 1.0-1.3 0.7-1.3 1.0-0.8 1.2-0.5M360.5 291.7l-1.2 1.1M337.6 259.5l-1.0-1.4-0.7-1.1-0.9-0.8M327.4 258.3l1.2 0.1 1.2 0.9 1.3 1.2 1.4 0.5 1.5 0.0 1.4 0.1 1.4-0.5 0.6-1.1 0.2-1.3 0.9-0.8 1.5-0.9 1.1-0.7M365.6 232.6l-0.3 1.4 0.4 1.2 0.3 1.7 0.3 1.3M364.3 231.5l1.3 1.1 0.9 0.9 1.2 1.1 1.0 0.8 1.0 0.8 1.1 0.7 1.1 0.8 1.0 1.3 1.0 1.0 1.6 0.6 1.1-0.5 1.3-0.6M374.8 233.4l1.1 0.7 1.0 1.4 0.4 1.7 0.5 1.6 0.6 1.5 0.2 1.3M389.7 229.0l1.7-0.5 1.5-0.5 1.7-0.3 1.3 0.1 1.6 0.4M364.0 284.8l1.4-0.0 1.8 0.2 1.5-0.1 1.4 0.5 1.2-0.5 1.6-0.3 1.5 0.6 1.2 0.0M372.5 272.7l-1.5 0.4-1.2-0.1-1.8-0.2-1.5-0.4-1.5-0.4-1.3 0.1" stroke="#741c1c" stroke-width="1.05"/>
<path d="M283.0 284.9l-0.7 0.0 0.1-0.5-2.0-0.2-2.7 0.3 1.5 2.7 1.6 1.5M375.4 198.0l2.0-2.3 1.7-1.3-0.7-1.9-1.3-2.3-2.5 2.4-1.1 1.5-2.1 0.5-2.6-0.2-0.5-0.2 0.3 0.2 1.3-0.3-1.6 0.1M335.6 220.0l-0.9-2.4 0.5-2.8 1.9-1.6 1.3 0.5 0.1-1.7-0.5-1.4M280.9 220.2l1.8-0.3 1.1-0.8 1.6 1.6 0.6 0.1 0.7-2.7 0.3-2.1M280.1 248.3l-0.7 0.9 0.6 0.1M346.3 202.6l3.3-0.3 3.8-0.0 0.6 1.2 0.4 2.0-3.1 1.2-1.8 1.9M301.9 199.6l0.9 3.1 1.1 3.4 0.3 2.0-0.8-0.2-3.7-0.7-2.5 0.3-1.2-1.5-0.4-2.0-0.9 0.3-0.2-0.6M273.0 219.6l0.0 0.0 0.8-1.0M301.5 192.9l1.2-1.1 0.4-1.6 3.3 2.2 2.5 1.4-0.2 3.8 0.2 4.5-0.0 0.0 0.1 0.0 1.4 0.6 0.8 0.7-0.8 0.9 0.8-0.8-0.3 1.7-1.0 3.0M352.7 256.0l-0.0 1.7-0.0 1.8-0.7 0.1-1.5 0.1-0.3-1.9-0.8-1.9M322.7 213.1l1.5-1.3 2.4-1.3 0.5 0.9 1.6 0.7 1.3-0.5 1.5 0.3 0.2-1.0 0.4-0.3 2.5-0.3 3.7 0.3-1.0-0.5 1.4-0.2-0.9-2.6-1.1-1.7 2.4 0.3 2.3-0.3M329.2 235.0l2.1-1.4 3.0-2.2 0.9-2.5 1.0-0.3 1.9 0.3 1.2-1.4 0.1-0.8 0.6-0.4-0.5-0.8 0.3-0.9-0.9-1.5-1.0-2.5M344.9 291.5l0.4-0.2 0.8 0.3 0.1-0.3 0.1 0.3 0.3-1.0-0.8-1.9M352.9 289.1l0.5 0.3 1.7 0.6-0.5 1.3-0.1 1.2M281.0 259.7l-0.5 2.3-1.6 2.3-2.0-0.1-1.9-0.8 0.4-1.3-0.5-0.6M339.6 309.8l-0.6-1.3-0.3-1.5M332.6 195.6l-0.4 1.8-1.4 0.8 1.3 3.3 3.6 1.3 1.3-0.2 0.1-1.4-0.7-2.2-1.5-2.6-1.1-0.3-1.4-0.5M287.0 283.4l1.0 2.7 1.6 2.3 0.5 0.8 0.9 0.0 1.4-1.8 1.8-1.0-0.4-0.9 0.1-0.1 0.5-2.7 0.9-1.8 1.1-1.0 1.3-0.6M283.8 238.4l-0.7 2.3 0.8 3.2M353.5 269.2l2.0 0.3-0.0 0.7 1.4 3.5 0.9 1.4-0.1 0.8 0.3 1.0M272.2 293.0l1.7 0.4 1.3 0.5M351.4 265.4l1.4-0.7 1.3-1.1 1.3-1.1 0.3-1.5 0.7-1.2 1.0-1.4 1.1-1.0M342.1 208.8l1.4-0.3 1.6-0.3 1.0-0.8 1.0-1.3 0.6-1.4 0.6-1.1 0.7-1.4 0.8-1.0 0.5-1.7 0.1-1.2-0.6-1.5-0.4-1.5-0.3-1.2-0.2-1.3M296.0 221.9l0.9 1.2 0.8 1.1 0.2 1.6 0.4 1.4 0.9 0.9 1.4 0.9M371.3 248.5l1.6-0.2 1.3-0.8 1.3-1.2 0.3-1.3 0.7-1.3 0.6-1.4 0.2-1.3 0.1-1.8 0.7-1.5 0.5-1.2 0.6-1.2 1.0-1.5 0.3-1.6-0.4-1.5-0.4-1.1M368.5 299.5l1.4 0.9 1.1 1.4 1.3 0.6 1.4 1.0 1.3-0.3 1.6-0.2 1.4 0.2 1.8 0.0M296.6 211.6l-1.7-0.6-1.5-0.7-1.2-0.7-1.4-0.6-1.3 0.1-1.3 0.0M324.8 193.8l-0.1-1.4-0.3-1.2-0.7-1.3-0.7-1.4-0.8-1.4-0.8-0.9-0.3-1.5M320.1 200.9l1.3-0.2 1.5-0.5 1.4-0.8 0.8-1.0 0.7-1.2 1.4-1.1 1.2-0.8 1.3-1.0M277.2 260.8l0.7-1.5 0.6-1.4M368.2 208.9l0.8 1.5 1.1 1.1 0.9 1.1 0.9 1.4 0.5 1.1 0.3 1.2 0.1 1.7-0.5 1.3-1.2 1.0-0.9 1.3M345.8 298.0l-1.6-0.6-1.0-1.1-1.4-1.0-1.2-1.1-0.3-1.4-0.2-1.7-0.3-1.6-0.3-1.7 0.3-1.5M325.0 219.9l0.3 1.6 0.3 1.4 0.3 1.4 0.4 1.4 0.1 1.2 0.7 1.1 0.9 0.9 0.9 1.1M299.6 212.8l0.7-1.5-0.0-1.4 0.2-1.6-0.5-1.4 0.2-1.7-0.5-1.6-0.1-1.7M281.8 247.8l-1.1 0.8-0.8 1.0-1.2 0.9-1.4 0.1-1.7 0.4-1.5 0.7-1.3 0.8M376.6 203.2l-0.5 1.6-0.3 1.2-0.1 1.2 0.2 1.6-0.1 1.4-0.2 1.7-0.5 1.2-0.9 1.4-0.3 1.5-0.8 1.6-1.1 1.3-0.6 1.1-0.0 1.4 0.4 1.5 0.8 1.5 0.9 1.4M340.0 302.0l-1.7-0.2M313.0 223.7l-1.5 0.7-1.3 1.0-1.5 0.6-0.4 1.3 0.5 1.3 0.9 1.1M309.1 228.9l-0.4 1.4-0.2 1.5-0.5 1.2M318.8 224.6l1.7 0.3 1.3-0.7 0.6-1.2 0.7-1.6 0.7-1.0M312.2 219.9l1.2 0.4 1.2 0.6 1.2 0.6 1.3 0.9 1.0 1.1 0.8 1.1 1.2 1.2 0.8 1.6M350.0 228.4l1.0 1.3 0.8 1.0 0.5 1.6 0.5 1.4-0.6 1.6-0.8 1.3-0.5 1.3-0.9 1.1-0.7 1.1-0.6 1.1-1.5 0.9-1.0 1.0M350.2 255.0l1.6-0.6 1.1-0.7 1.2-0.9 1.5-1.0 1.3-0.8 1.4-0.6 1.0-0.8 1.6-0.7 1.2 0.1 1.3-0.5 0.8-1.5 0.5-1.5M338.9 296.0l-1.5 0.4-1.3 0.6-1.6 0.7-1.7-0.4-1.5 0.1M348.7 282.0l-1.4-0.9M278.7 200.4l1.4-0.2 1.5-0.5 1.7 0.1 1.4 0.8 1.0 0.6 0.9 0.8 0.9 0.8 0.9 1.3-0.1 1.3-0.3 1.4M294.3 262.0l-0.4 1.3-0.1 1.5 0.2 1.8M374.4 225.2l0.2 1.7-0.1 1.6-0.0 1.4 0.4 1.5M367.5 219.2l1.1 0.6 1.6 0.1 1.2 0.3 1.0 1.1 0.8 1.3 0.8 1.1 0.5 1.6M364.0 221.4l0.9-1.1 1.3-0.7 1.3-0.5 1.5-0.6 1.4-0.6 1.6-0.7M325.5 214.8l-0.3 1.3-0.2 1.7-0.8 0.9-0.9 0.9-1.0 0.8M332.5 212.1l-1.6 0.8-1.2 0.8-1.7 0.3-1.2 0.6-1.2 0.3M288.0 212.7l-1.5 0.8-1.5 0.2-1.5 0.2-1.4 0.5M302.0 220.9l-1.2-0.6-1.3-0.1-1.5-0.4-1.5-0.4-1.6-0.5-1.4-1.1M339.4 229.7l0.5-1.4-0.3-1.3-0.9-1.1-0.6-1.1-0.5-1.4-1.1-0.5M328.8 205.2l-1.1 0.6-1.5 0.5-1.3 0.2-1.5 0.0-1.3 0.3-1.6 0.6M326.1 205.3l-1.4-0.4-1.6-0.2-1.3 0.3-1.2 0.6M317.9 210.4l-1.5 0.6-1.1 0.9-1.0 1.3M311.4 213.9l-1.2 0.3-1.1 0.9-1.4 0.8-1.5 0.5-1.2 0.1-1.5 0.4M330.3 206.1l-1.5-0.9-1.7-0.5-1.1 0.6-1.1 0.4-1.2 0.7-1.2 0.6-1.2 0.6-1.1 1.0-1.1 0.7-1.2 1.0-0.9 1.3-1.1 0.7-1.3 0.8-1.5 0.8-1.7-0.0-1.7 0.5M280.1 211.8l-1.5 0.3-1.2 0.5-1.5 0.7-1.4-0.5-1.3-1.0-0.7-1.2-0.8-1.4-0.9-1.2-0.7-1.4M338.5 217.3l-0.1 1.6-0.2 1.2 0.2 1.2 0.2 1.2 0.5 1.4 0.6 1.3M327.9 224.5l0.5-1.1 1.1-0.8 1.0-0.9 1.3-0.9 1.2-0.6 0.7-1.2 0.9-1.2 1.2-0.6 1.3 0.1 1.5-0.1 1.5-0.2 1.8 0.3 1.3 0.5 1.1 0.9 1.1 1.3 1.2 0.8 1.0 0.8M329.5 207.4l1.6 0.5 1.4 1.1 1.2 1.2 1.2 1.1 0.5 1.1-0.0 1.5 0.1 1.7 0.7 1.0 1.3 1.0 0.8 1.0 1.0 1.0 1.7 0.4M339.4 240.4l0.2 1.5 0.2 1.6 0.7 1.5 0.5 1.5 0.7 1.1 0.7 1.4 0.9 1.5 0.1 1.4 0.6 1.3 0.6 1.5 0.8 1.1 1.0 0.9 0.9 0.9M273.8 253.9l-1.4 0.7-1.1 0.6-0.9 0.9-0.5 1.2M292.5 233.1l1.2 0.6 1.7 0.3 1.4 0.3 1.6-0.1 1.7 0.4 1.4-0.2 1.3-0.6 1.4-0.8M288.9 203.2l-1.0-0.7-1.1-1.2-1.3-1.0M298.1 201.2l0.6-1.2 0.2-1.5 0.7-1.5 1.0-1.4M304.5 210.0l-0.5 1.6 0.1 1.4-0.3 1.3M303.7 211.3l-1.5 0.9-0.4 1.2-0.7 1.4-0.6 1.6 0.0 1.5-0.0 1.7-0.5 1.4-0.9 1.1M305.3 204.5l0.3 1.7 0.2 1.2 0.4 1.2 0.9 1.4 0.9 1.2 1.0 1.2 0.9 1.5 0.7 1.4 0.7 1.0 1.2 1.4 1.0 1.1 1.3 1.0 1.2 1.1M278.4 305.9l-0.5 1.3-1.1 1.0-0.8 1.5-1.1 1.1-0.8 1.0-0.4 1.5-1.2 1.2-1.4 1.0-1.3 1.1M293.7 202.0l0.2-1.7 0.9-1.5 0.7-1.0 1.1-1.2 1.5-0.8 1.3-0.5 1.3-0.7 1.4-0.6 1.5-0.8 1.8-0.3 1.2-0.5 1.4-0.4M357.3 263.9l-0.6 1.2-1.1 1.0-1.3 0.4-1.7-0.3-1.5-0.7-1.7-0.0M339.2 257.7l-0.8-0.9-1.4-0.6-1.1-0.6-1.1-1.4-0.9-1.5-0.8-1.3M347.4 251.7l-0.9 1.5-1.1 1.2-0.5 1.5-1.2 0.8-1.3 0.8-1.5 0.1-1.7 0.1-1.3-0.1M286.4 299.6l-1.6-0.1-1.6-0.1M286.7 232.9l1.5 0.7 1.6 0.0 1.7 0.3 0.9 0.9 1.0 1.0 1.2 0.8 1.3 0.3 1.3 0.8 1.3 0.3M300.3 219.1l0.8-1.2 0.9-1.0 1.3-1.3 0.9-1.1 0.9-1.3M298.8 263.0l-1.1-0.6-1.2-0.6-1.5-0.9-1.6-0.1-1.5-0.0-1.5-0.8-1.1-1.0-1.0-1.1M346.1 215.2l0.6-1.1 1.0-1.4 0.8-1.6 1.2-1.2 1.0-0.8 0.9-1.2 1.0-1.2 1.6-0.5 0.2-1.5 0.5-1.2 1.2-1.3 0.8-1.2 0.6-1.5-0.0-1.2-0.2-1.4M352.2 261.0l1.2-1.1 1.1-0.6 1.7-0.4 1.6 0.3 1.2 0.4 1.7-0.2M343.7 260.5l1.2 0.3 1.5 0.4 1.5-0.3 1.4 0.1 1.3 0.2 1.6-0.0 1.3-0.4M350.7 254.9l-0.4 1.7-0.3 1.2-0.7 1.3-0.1 1.6 0.4 1.2 0.8 1.3 0.6 1.1 1.1 0.6 1.2 1.1 1.0 1.2M358.9 288.9l0.7 1.5 0.9 1.4 1.2 0.8M369.6 236.2l1.5-1.0 0.9-1.5 0.3-1.4 0.1-1.3-0.8-1.4-0.6-1.2M372.9 239.1l1.3-0.3 1.5-0.1 1.2-0.3M371.6 236.5l0.9-1.2 1.0-0.8 1.3-1.1 1.3-0.5 1.3-0.4 1.3-0.3 1.6-0.1 1.7 0.3 1.1 0.7 1.4 1.1M348.3 248.3l1.4 0.8 1.3 1.1 1.1 0.5 1.4 0.7M348.1 253.8l1.5 0.6 1.1 1.4 1.0 0.8 1.5 0.9 1.2 0.3M333.9 267.9l-1.3 0.9-1.0 1.4-0.9 0.9-1.6 0.8-1.7 0.5-1.5 0.5M276.2 220.8l1.8 0.3 1.3 0.2 1.7 0.5 1.3 1.1 1.3 0.9" stroke="#a52828" stroke-width="1.05"/>
<path d="M309.0 311.4l-1.6-1.4-1.9-1.4 0.1-0.1-0.4-2.2 2.7 2.2 3.2 1.6M305.7 289.2l0.3 2.0 2.3 3.0M353.5 246.5l-0.3-0.8 0.3 0.7-2.0-1.3-1.8-1.0 2.2-3.0 2.1-2.1M346.1 265.9l-0.1 1.0 0.6 0.9-0.2 0.8-0.6-0.1 0.1 1.9-0.6 2.3-1.1 1.5-0.8 0.6 3.0 0.6 2.0-0.3M361.0 251.7l-1.6-2.7-0.9-2.7 0.3 0.6-0.2-1.0 0.4-2.5-0.8-2.8-0.2 0.2 0.3-0.9-1.6-0.8-2.5 0.1-1.2-2.7 0.4-2.4-1.1-0.9-1.4-0.7M376.7 214.5l0.3-2.6-0.2-1.0-4.0 0.1-2.4-0.3 0.2 2.7-0.7 3.4 2.7 1.3 1.4 0.5-0.9 0.5 1.1-0.1M327.9 255.1l-0.8-1.5-2.2-0.4 0.1-0.1 0.7-1.0-1.1-2.4-2.6-3.6-1.6 1.2-2.6 0.8-0.1 2.1-1.0 0.9M372.6 297.4l0.4-0.2-0.1 1.7-0.1 0.1 0.6 0.2M375.4 198.0l0.2 1.1 1.1 0.1-0.6 1.3-0.9 2.1 0.1-0.4 0.5 0.7 0.1 2.5 1.3 2.9 0.3 0.1 0.0 0.3 0.2 0.9-0.4 0.4M355.7 199.7l-0.6-3.1-0.5-2.9M269.3 201.8l1.2-0.7 1.3-1.3-0.8-2.4-0.4-0.8M266.5 230.9l0.4-0.1-0.1-0.6 0.8-0.8-0.7-0.1-0.8-1.8-0.7 0.1M358.5 285.7l-0.4-0.5 0.7 0.2-1.0-2.8-1.6-3.0M349.0 194.2l1.0-0.9 1.4-0.7 1.0-0.8 1.1-0.9M327.2 196.2l-0.9-1.5-1.5-1.0-1.2-0.3-1.6-0.4M312.3 291.6l-1.2 1.0-1.6 0.3-1.3 0.1-1.7 0.1M347.4 243.4l-1.3 0.8-1.5 0.6-1.1 0.8-1.1 0.8-1.4 1.0M311.6 208.4l-0.1 1.6-0.1 1.3-0.1 1.5-0.4 1.3-0.7 1.4-0.6 1.3-0.8 1.4-0.8 1.3M308.9 208.0l-0.7 1.1-1.2 1.2-1.1 1.2-0.6 1.6 0.5 1.6 0.2 1.2-0.3 1.5-0.6 1.7M320.6 210.9l-1.6-0.3-1.7-0.1-1.3-0.2-1.5-0.8-1.2-0.6-1.7-0.5-1.3-0.2-1.4-0.2M313.0 248.7l-1.6-0.6-0.5-1.4-1.0-0.8-0.8-1.2-1.3-1.2-1.1-1.2-1.3-0.5-1.1-1.4M311.1 211.5l1.6-0.2 1.4-0.2 1.5 0.6 1.4-0.1 1.6 0.2 1.2 0.6 1.2 0.7 1.1 1.0 0.5 1.4-0.1 1.4 0.2 1.8-0.4 1.3-0.8 1.2M296.0 217.1l1.6-0.7 1.3-1.0 1.1-0.8 1.4-0.5 1.7-0.3 1.5-0.7 1.3-0.3M295.6 213.1l-0.0 1.5 0.2 1.2 0.3 1.3-0.1 1.6-1.0 0.9M307.0 210.8l-1.3 0.3-1.5-0.3-1.4 0.2-1.6 0.5-1.7 0.4-1.6 0.4-1.1 0.5-1.2 0.4-1.2 0.3-1.5-0.5-1.3-0.1M314.6 220.9l-0.7 1.4-0.9 1.5-1.0 1.4-1.3 1.3-0.8 1.3-0.8 1.3-1.4 0.9-1.5 0.6M338.9 221.0l-1.7-0.3-1.3-0.3-1.0-0.7-1.3-0.7-1.1-0.9-1.0-0.9M328.1 205.3l0.9-1.3 0.8-1.3 0.1-1.2 0.1-1.7 0.1-1.4-0.1-1.7M286.7 202.0l-1.2 1.3-0.9 1.5-0.4 1.6-1.4 0.7-1.4 0.5M372.0 217.2l1.4 0.6 1.3-0.1 1.2 0.1 1.1-0.4 1.1-1.0 1.0-0.8 1.7-0.6 1.1-1.3M316.3 210.9l-0.2 1.4 0.6 1.5 0.1 1.2 0.9 1.0 0.7 1.2 1.3 0.8 1.3 0.5 1.3 0.4 1.4 0.2 1.5 0.0 1.2 0.6 1.2 0.9 1.6 0.8 1.7 0.2M309.7 212.1l0.7 1.1 0.9 1.1 1.1 1.3 0.9 1.3 0.6 1.3 1.3 1.1 1.3 1.0 1.4 0.1M309.6 219.8l-1.0-1.3-1.4-0.9-1.5-1.0-1.0-0.8-0.5-1.2M374.7 271.4l1.5 0.4 1.0 1.1 1.3 0.8 1.2 1.0 1.3 0.7 1.1 0.5 1.6 0.8 1.0 1.4M379.0 278.7l0.7-1.2 0.5-1.4 0.2-1.5 0.8-1.4M375.2 269.9l-0.4 1.5-0.5 1.7 0.2 1.4 0.7 1.6 1.3 0.8 1.4 0.8 1.2 1.0 1.0 1.5 0.5 1.2M324.8 206.5l-1.2 0.9-1.3 0.5-1.0 0.9M320.4 207.5l-0.9 0.8-1.1 1.3 0.2 1.4 0.0 1.7 0.1 1.7-0.4 1.5 0.6 1.2M316.4 211.0l-0.3 1.2-0.9 0.9-1.5 0.9-1.1 0.7-1.4 0.8-1.3 1.1M348.6 259.3l-1.5 0.7-1.3-0.0-1.7-0.2-1.3 0.3-1.2 0.9-0.9 1.0-0.6 1.1-1.1 1.0-1.2 0.6-1.2 1.1-1.5 1.0-1.3 0.6M297.6 260.1l1.5 0.8 1.1 0.9 1.0 1.1 0.7 1.1M356.4 211.1l-0.7-1.5-1.1-1.2-0.1-1.8 0.2-1.3-0.3-1.6M342.1 221.2l-1.2-1.2-0.7-1.3-0.8-1.4-1.6-0.5-1.6 0.3-1.2 0.9-1.5 0.9-1.5 0.2-1.6 0.3-1.2 0.4-1.2 1.1-0.8 1.1-0.1 1.3 0.1 1.5 0.1 1.5 1.1 0.8 0.8 1.3M378.8 290.6l0.0 1.7 0.5 1.6 1.2 1.2 0.5 1.5-0.0 1.7 0.1 1.6M286.1 206.7l1.4 0.3 1.3-0.2 1.2 0.3 1.1 0.5M303.6 193.3l-0.5-1.1-0.8-1.1-1.4-0.7-0.9-1.0M347.4 271.9l-1.0-1.0-0.8-1.0-0.9-1.2-0.4-1.7M345.4 254.4l-1.4-1.0-1.3-0.9-1.6-0.1-1.5 0.8-1.5 0.1-1.4-0.0-1.3-0.2M311.5 218.6l-1.2 1.3-0.9 1.1-1.1 0.9-1.1 0.5-1.7-0.2-1.3 0.1-1.3-0.1-1.5-0.6-1.3-1.0M376.2 232.9l1.0 0.8 1.2 0.8 1.0 0.6 1.3 1.1 0.9 0.9M377.4 232.5l0.9 1.3 0.6 1.3-0.3 1.7-0.2 1.5-0.6 1.3-0.4 1.7M386.8 232.8l1.3 0.6 1.0 1.2 1.3 0.5 1.2 0.4 1.2 0.8M384.5 234.0l1.2-0.5 1.1-0.7 1.2-1.1 0.6-1.3 1.1-1.3 0.6-1.3M347.0 261.8l-1.3 0.8-1.4-0.2-1.2-0.2M346.2 242.8l1.0 1.1 0.5 1.5 0.4 1.4 0.2 1.5 0.8 1.1 0.0 1.6-0.5 1.1-0.5 1.7-0.4 1.2-0.1 1.2-0.2 1.3-0.2 1.5-0.5 1.1 0.3 1.7-0.5 1.5-1.0 1.0" stroke="#cc3838" stroke-width="1.05"/>
<path d="M308.0 245.4l0.7-0.9M360.3 240.7l0.5-0.8M274.6 240.9l0.7-0.6M342.0 262.5l-1.0 0.1M367.1 282.6l-0.3-1.4M349.4 222.1l-0.2 0.6M285.6 290.4l-1.0-1.2M342.0 218.6l-0.2 1.9M287.8 217.1l1.5-0.0M365.9 260.6l0.1-1.3M357.9 247.3l0.8-1.7M333.5 208.7l0.4-0.8M287.8 230.1l0.9-1.0M297.7 228.5l1.9 0.7M299.3 225.5l-2.1-0.5M360.5 244.4l0.9-0.2M339.0 246.3l-1.8-1.3M376.9 209.7l0.2-1.6M347.4 229.0l-1.3 1.6M343.0 211.6l1.5 1.4M302.9 290.3l-0.4 1.6M314.2 271.1l0.7-1.8M322.6 284.3l-0.0-1.2M359.6 202.8l0.8 0.4M356.8 203.9l1.3 1.0M343.6 256.1l-1.8 0.2M296.6 233.0l-1.1-0.2M359.8 234.4l-0.0-2.0M336.6 269.1l1.1 1.2M276.4 237.3l-1.4 0.9M359.2 215.3l0.6 0.4M324.4 247.2l0.3-0.7M293.1 286.8l1.3 1.1M331.2 250.3l-0.9 0.4M365.7 206.8l0.3 0.6M356.5 287.9l1.9-0.9M348.3 253.8l-0.4 0.6M334.6 223.3l0.6-0.6M280.0 287.8l0.7-0.9M347.7 249.8l-0.4-0.8M320.3 239.6l-0.4-1.1M343.7 223.9l-1.2-0.6M324.7 211.3l-0.6 0.5M374.7 245.3l-0.8-0.4M353.1 273.2l0.5-1.2M278.6 199.9l1.0 1.0M305.6 261.3l1.4 0.5M312.3 296.9l-0.9 0.6M358.7 214.1l1.4-1.5M278.0 252.0l-0.4 1.2M346.2 229.5l0.3 0.8M286.6 230.7l1.1 0.5M293.3 301.2l-1.0-1.4M318.4 238.0l0.6 0.1M333.9 246.3l1.5 0.2M316.4 242.2l-1.0 1.3M342.2 242.1l0.8-1.3M313.7 210.0l-0.6 0.8M272.5 246.0l0.8-0.6M352.9 209.6l1.7 1.3M348.3 275.2l1.6 1.0M290.0 222.0l0.1-1.0M330.0 270.4l0.9 0.3M285.0 304.9l1.8-0.6M289.7 208.5l-0.6 2.0M296.4 301.7l-0.9-0.5M315.3 229.0l0.9 0.8M340.7 250.0l-1.3 1.1M293.1 218.8l-1.0 0.4M331.8 261.5l1.0-0.5M377.1 211.2l-1.3-0.1M345.0 262.5l0.2 1.9M310.0 227.9l-1.7-0.1M377.5 241.8l0.1 1.0M278.2 229.2l1.0 0.7M340.8 205.2l0.7-1.0M304.0 200.4l-1.2 1.8M349.2 236.1l1.8 0.4M338.1 240.3l-1.0-0.5M328.6 240.2l2.0-0.9M366.0 250.6l1.9-0.4M334.6 208.1l1.8 0.7M347.4 246.7l1.7 0.0M281.4 220.4l0.8 1.0M324.7 252.5l0.0-0.7M349.1 228.8l1.3 1.7M305.7 236.4l-0.5-1.7M324.1 265.8l0.1 2.0M334.8 209.2l1.6-0.5M355.0 272.1l1.2 0.8M280.3 233.0l-0.6-0.7M326.3 239.6l-1.7-0.5M295.0 232.1l1.8-1.2M294.2 275.7l-0.5 0.8M316.2 207.0l-2.2 0.2M314.8 299.9l-1.4 1.2M306.9 211.8l-0.9-0.4M312.4 241.5l0.8-0.9M338.3 246.5l0.4-0.6M342.5 218.2l1.4 1.4M323.4 251.4l0.7 0.0M352.2 253.4l0.5 1.5M343.9 251.7l0.9-0.7M374.4 220.7l1.0 1.0M323.6 242.7l1.7 1.2M350.1 258.7l-0.6 1.3M355.9 265.9l0.6 0.3M373.9 291.5l0.4-1.9M273.9 251.1l-1.5 0.6M350.5 225.0l1.9-0.2M320.6 203.1l1.1 0.1M348.3 248.7l-1.4-1.3M350.0 204.4l2.0 0.9M347.6 205.6l-1.0 0.3M335.3 239.8l1.1 0.4M360.9 207.4l-0.7-1.7M355.4 292.3l0.1-1.7M366.0 257.2l-1.0 0.3M350.3 220.0l-0.1 1.3M347.2 209.4l0.7 1.9M337.4 244.0l-1.9 0.5M284.5 223.0l-0.5-1.8M280.0 205.8l-0.4-2.0M293.0 265.5l0.0-0.7M337.4 272.6l0.4 1.1M319.4 218.4l0.8-2.0M290.9 220.8l1.3 0.4M356.4 252.5l0.7 0.7M330.0 217.4l-0.9-1.6M351.8 274.4l0.3 1.2M276.6 236.7l-1.6-1.0M340.9 220.7l0.8 0.9M359.7 232.1l0.7-0.7M321.0 203.7l-0.9-0.2M330.5 224.2l-1.1-1.1M330.3 244.8l1.5-0.8M293.3 246.8l-1.8-0.3M326.0 199.4l-0.7-0.7M364.7 240.7l-0.9-0.5M297.3 209.9l0.8-0.7M300.7 231.1l-1.0 1.9M371.5 243.2l0.7-0.0M323.7 263.4l-1.4-0.2M368.3 304.1l1.0 1.0M275.5 248.1l1.2 0.7M356.2 294.7l1.8-0.4M313.8 255.3l-0.5-0.5M275.8 202.4l-0.4-1.5M310.0 288.1l-0.9 0.6M296.7 234.7l1.3-0.9M292.4 287.2l-0.5-0.7M298.6 233.2l0.3 0.7M341.6 278.7l-1.7 0.6M369.8 216.6l-1.4-0.6M355.0 254.1l0.4-1.3M351.4 261.7l-0.6 0.9M321.5 299.1l-1.4 0.6M331.8 233.0l-0.1-1.3M291.9 234.7l1.9 0.5M353.9 226.9l0.5-1.4M295.2 200.2l-1.3-0.7M319.8 254.1l-0.9-1.3M343.8 301.6l-0.2-1.2M313.0 286.3l-0.5-0.5M336.9 229.0l-1.1 0.5M370.6 254.5l1.4-0.1M313.1 223.3l1.0 0.2M313.4 222.3l0.8-1.8M337.0 249.9l-0.4-1.7M304.0 259.2l0.6-0.3M320.7 236.0l-2.1-0.2M277.5 241.4l0.9 1.7M349.2 202.9l-1.5 0.2M341.7 211.8l0.3-0.5M370.4 216.8l0.8-0.2M286.4 271.7l-0.3 1.4M363.5 274.2l1.5 0.3M284.8 236.5l-0.8 0.8M323.2 218.7l0.0-2.1M378.5 210.0l-0.9-0.5M371.9 256.3l-0.4 1.5M287.6 263.1l-0.6-0.7M375.3 205.8l-1.8-0.2M299.8 253.4l-0.8 0.8M305.1 267.0l1.5-0.9M299.4 298.2l-1.4 0.6M365.2 203.0l-1.9 1.0M303.0 219.0l-1.8-1.1M310.4 202.6l-0.7 0.3M368.6 204.5l-2.1-0.4M349.3 241.3l0.7-1.5M272.7 281.4l1.9-0.5M358.3 265.8l-1.2 1.1M302.2 227.2l-1.1-0.1M317.8 204.0l1.3 1.5M362.3 208.5l0.3-2.1M283.8 261.7l0.2-0.7M283.2 224.9l-0.2 1.3M282.1 213.4l0.8 1.5M351.2 273.6l1.6 0.9M294.9 248.8l1.5 0.9M337.0 218.1l-1.0 0.2M317.2 204.0l0.6 0.2M378.2 229.2l0.2 1.5M374.9 208.4l0.2-1.2M376.4 208.5l0.2-1.0M296.0 249.4l1.2-0.2M347.2 246.9l-0.7 0.8M320.7 227.0l-1.0-0.2M355.1 247.3l-0.8-0.2M353.8 227.8l0.8-2.0M297.9 237.6l-1.4-0.6M292.8 294.9l1.7 1.2M350.3 217.5l-0.7 1.8M294.7 239.9l1.0 1.1M346.9 204.4l-1.0-0.1M365.0 220.6l0.1-1.3M312.7 203.4l0.0 0.8M361.4 205.7l0.5-1.3M274.0 235.1l0.7 0.2M320.6 298.8l-0.2 0.7M279.5 213.5l0.7-0.4M295.8 224.3l-0.2 1.7M367.2 251.9l1.4 0.2M328.8 269.2l0.8 0.0M334.4 302.3l-0.4-1.3M345.3 281.2l1.1 0.5M292.0 210.7l-1.9 0.7M282.1 265.2l-0.9-0.1M314.4 286.9l-0.6 0.2M348.5 306.0l-1.3 1.2M305.1 211.3l-1.6-0.2M274.3 227.4l0.9-0.7M340.3 220.8l1.4 0.8M372.3 273.3l0.6 0.2M336.6 212.8l-1.6-0.7M375.3 249.8l1.0 1.3M341.5 233.4l-1.0 1.2M307.9 233.1l0.1-1.2M348.7 283.0l-0.2-0.7M317.7 202.5l-0.1-1.2M314.4 214.7l0.6-0.8M311.4 256.5l-1.3-1.6M303.4 225.9l0.2-1.5M362.8 226.1l1.3-0.2M376.0 212.1l-0.2-0.7M378.4 203.3l0.6 0.3M285.0 219.9l-0.6 0.2M281.8 246.9l-1.4 1.7M282.2 235.6l0.3-1.1M312.8 215.6l1.1 1.0M282.6 240.3l-2.0 1.0M333.8 219.1l1.1-0.3M315.3 249.6l-1.0 1.3M342.4 251.4l-1.0-0.4M317.4 247.4l1.6-0.8M322.3 210.8l1.4-0.6M282.1 263.5l-0.4-0.7" stroke="#b83030" stroke-width="1.16"/>
</g>
<clipPath id="cv104"><rect x="384" y="199.3" width="106.9" height="106.5"/></clipPath>
<rect x="384" y="199.3" width="106.9" height="106.5" fill="#060606"/>
<g clip-path="url(#cv104)" fill="none" stroke-linecap="round" stroke-linejoin="round" filter="url(#soft)">
<path d="M466.1 203.9l-2.5-2.8-1.2-2.4-0.6-0.3 0.1 0.3M431.5 200.9l-1.6-1.0-1.0-1.0 0.3-0.9-0.5-1.2-0.3-1.0 1.3-0.3 2.4-0.2 1.5 0.7 0.2-0.4-0.2 0.6-0.3 2.3 1.6 1.2-1.6 0.8-1.2-0.0 0.5-2.1 1.1-2.2M477.8 220.8l0.1 0.8-0.1-0.8 0.7-1.0-0.7 0.9 2.3-1.7 2.2-0.9M383.2 285.8l0.4 0.6 0.2 1.2-2.0 3.3-2.3 4.4M470.4 264.7l1.9-1.2 1.3-3.7-0.9 0.2-1.9-0.9-0.4-2.1-0.9-1.1 0.0-1.7 0.7-0.7M395.6 296.2l-0.3-1.2-1.0-1.1-1.3 1.0-1.4 1.3-1.2 0.2-2.6-0.3-1.6-0.5-0.8 1.3-0.4 1.1-0.3-0.4-0.9 0.1 0.1-0.1-1.2 0.4-1.4-0.8-0.7-0.4-1.3-1.3M402.0 244.1l0.1 1.9-0.2 1.9-1.6-0.2-2.8 1.2 0.9-2.8-0.1-3.4-1.2 0.1-1.1-0.5M387.3 279.1l0.2-0.9-0.1 0.8 0.4-0.9 0.1-0.5 3.2-0.8 1.9 0.5 0.7 1.1 0.2 0.0-0.4-0.9 0.6 1.3-0.5 0.0 0.4 0.7-3.5-1.4-3.2 0.9M419.7 196.5l0.6 1.5 1.5 1.0 0.0 0.3 0.7-0.6M420.1 307.5l-1.7-1.4-2.2-1.7 1.9-1.0 0.6-2.1-1.2-2.3-1.7-1.7-3.5 2.0-1.4 1.1M424.3 305.7l1.2-0.6 2.2-1.3-0.3 0.7 0.5-0.6 0.7-0.2-0.8 1.4-0.0 2.1 0.5 1.8-1.2 0.0-1.9 2.5-0.7 0.0-0.3-1.1-1.6-1.6-1.9-0.6-0.1 2.2-1.8 1.6-0.6-0.3-0.6 0.5M398.1 306.7l-0.4 1.3-1.0 1.5 1.6 0.7 1.2 0.2 0.1-1.3 0.2-3.1 0.2-0.5-0.4 0.5-0.1 0.1-1.5 0.6-1.9-0.5-0.5 0.2M495.7 263.0l-0.5-0.3-0.7-1.7-2.9 1.5-2.4 1.5-1.1-1.0 0.1-0.3-0.3-0.3 0.1-0.4-0.3 0.1-0.4-1.5M425.3 196.7l1.7-0.7 1.7 0.8M380.5 224.9l0.7 2.3-0.2 2.0-2.4 0.1-0.5-0.6-1.4 2.0-1.9 2.1 1.2 0.2 1.6 0.5 2.1 2.9 1.5 2.8-0.1-0.1 0.5 0.3 2.8-2.0 0.4-1.1 0.5-0.2 0.2-1.2M406.4 191.7l0.8 1.8-1.2 1.2-0.2 1.5 1.8 1.9-1.7-0.9-2.0 0.2-0.3 0.3 0.3-0.9-1.3-1.2-0.7-1.2M397.4 197.7l-1.0 0.9 0.1-0.2 0.8-0.6-0.9 0.7-1.2-0.2-1.1-1.2-1.4-0.5 0.1-1.7M459.7 226.7l1.0 0.5-0.4 0.1 2.1 0.3 1.8 0.2-0.2-0.5 1.1-1.0-0.6-1.1-0.3-0.6M421.0 235.7l-1.6-0.6-2.5-0.4-0.4 1.6 0.2 2.2-2.1 0.1-3.7-0.3-1.4-0.5-1.5-0.5-0.2 0.1-0.6-1.2M403.2 199.7l0.9-0.5-1.1-0.5-1.2-0.6-1.7-1.0M390.1 301.4l1.6-0.5 2.5-1.3-0.1 0.2 0.1-1.0 0.8-1.0 0.6-1.7M387.1 276.1l0.6-1.1 2.6-0.9-0.2-1.2-0.5-0.5 1.7-0.8 0.1-1.7 0.0-0.4-0.1-1.2M465.1 226.2l1.2 0.8 1.5-0.5 0.4 1.5 0.2 2.2 0.9 1.5 2.1-0.2-0.4 1.1 1.3 0.6 0.4 0.8-1.6 1.4-1.4 0.9-2.4 0.4 0.2-3.4-0.8-2.4M491.7 193.9l0.5 2.3 0.3 0.8-0.5 1.1-0.1 1.0-0.0 0.5-0.4-0.4-2.9-1.4-2.9 0.0 0.5-0.2 0.2-2.0M430.2 247.4l0.1 0.5 0.4-0.1 0.9 1.2 0.8-0.8 0.5-0.7 2.0-0.9M391.5 314.0l-2.2 0.1-2.7-0.4 0.8-1.8-0.7-1.8-1.3-0.4-1.1-0.3-0.8-0.9-0.8-0.5-0.7 0.0 0.8-0.3 0.6-5.4 0.5-5.0M441.6 192.7l0.6-1.2 1.1-1.5 1.8 0.6-0.8 0.3 3.4 1.6 2.0 1.4 0.8-1.1 0.2-1.1 0.8-0.6 0.1 0.3M461.5 230.7l0.2-1.0-1.4-2.5M459.7 226.7l0.1-0.7-0.3-0.2-0.4-0.3 0.4 0.2M463.2 218.1l0.4-0.4-0.5-1.8-0.1-0.6-0.1 0.1M493.9 210.6l2.9-2.0 1.5-1.4-2.0-1.5-1.8-2.5 0.6-0.8-0.5-0.6 2.8-0.9 4.0-0.3-2.5-2.2-1.3-1.2-1.1 2.5-2.4 1.1-0.8-0.3-1.4-1.5M462.4 198.7l1.1 0.2 0.2-0.3 1.4 0.8 2.5 4.0-1.3-0.4-0.2 1.0M463.7 198.6l1.5-1.3 2.3 0.1M493.0 213.6l0.2-1.7 0.7-1.3M399.6 204.1l1.4 0.5 1.6 0.0 1.0-1.4 1.5-1.0-0.9-1.2-0.9-1.4M462.2 301.7l-1.5-1.1-2.4-1.3-0.7 0.3-0.9 0.4M394.7 256.4l1.1-0.2 2.4 1.1M424.2 275.6l0.0-0.3 0.1-0.4 3.1-1.1 0.7-0.1 0.4 2.6-0.2 2.5-1.8 0.1-0.8 1.4 1.1 2.4-0.4 1.3 3.5-0.6 1.8-0.8M380.1 253.7l0.2-0.3 0.9-0.6-0.3-1.8-0.2-2.3M426.5 268.1l-0.2 0.0-0.3 0.1-1.8 2.7-0.4 3.1-0.4-0.4 0.9 1.1M437.9 307.3l0.6-0.4 2.4 0.4M440.6 231.4l-2.4-2.6-2.7-1.7-0.2-0.3 0.1-1.4 2.3-0.1 1.4-2.1M430.0 291.2l-1.5-2.3-1.5-1.6-0.1-0.2-0.2 0.9M437.7 287.4l-1.4-0.2-1.2-1.0M435.1 286.0l-1.7-2.5-1.6-0.9M466.3 237.1l-1.4 0.6-0.7-0.8-0.1-0.7-1.2-0.0M416.7 289.1l-1.9 1.2-2.2 0.3 0.8 2.0 0.3 1.6-1.5 0.3-1.1 0.6 0.1 0.6-0.9 0.4M461.2 269.1l0.4-0.5 1.7 0.5-0.6 2.2-1.0 2.2 0.9 0.1-0.9-0.2-3.1-0.6-2.9-1.0 2.6-1.1 1.8-1.4M435.2 193.0l3.7-0.5 2.7 0.1 0.1 2.4-0.7 1.6-2.2 0.1-2.2-0.1M429.2 214.5l-3.9-0.6-2.5-1.4M477.3 282.5l-2.3-1.8-1.7-1.7-0.2 1.0-1.0-0.1-1.5 0.7-3.0-1.3 0.0-1.1-0.3-1.5M448.8 243.0l-0.3 0.2 0.9 0.1-0.0-0.2 0.5-0.2M447.8 257.4l-3.6 0.0-2.9 1.1 0.2 0.6-0.8 0.5-0.6 0.6 0.6 0.3M404.2 310.3l-1.3-0.1-2.9 1.0M430.2 247.4l-1.2-0.6-0.7 0.2-0.5 0.6-0.3 0.5M440.2 298.9l0.3 0.1-0.7 0.6-1.0 1.3 0.7 0.4-0.5 0.3 0.5-0.1M437.9 250.6l-0.1 1.4-0.7 1.0 1.8 0.3 1.2 1.3M393.7 293.1l0.4-0.6 0.3 1.1 2.4-1.3 0.7-1.2-0.9-1.6-2.2-2.6M446.1 299.8l-0.1 1.4-1.9 1.2 0.9 1.0-0.7 3.1 1.4 0.8 1.9-1.9 1.4 0.3 2.1 0.7M399.6 284.1l-1.7-0.1-2.6-0.0M396.1 242.3l-1.5 1.5-0.7 2.0-1.2-2.0-3.2-1.4-0.0 3.7 0.2 4.6M456.5 302.0l-1.0 0.1 0.9 0.1 0.3 2.1 0.1 1.8M427.4 248.0l-0.1 1.8 0.7 2.4M451.2 306.3l-0.1-0.7 0.2 0.3 3.2-1.2 1.8-2.5M426.0 293.6l0.4-0.9 0.9 0.5 0.9 0.9 1.9 2.9-0.4 0.0 0.5 0.0M387.7 261.7l1.3-1.4 2.7 0.5-0.5 1.6 1.2 0.7-1.2 2.1-0.6 1.6M392.0 304.1l0.2-0.1-0.1 0.6-1.0 0.1-2.9 1.6-0.9-0.9-0.0-1.9 0.1-0.7 0.2-1.8M420.6 250.5l-1.4-4.3 0.7-1.9 0.1-1.0-0.8-0.4M407.5 274.8l1.9-1.7 1.1-1.3M431.8 202.0l0.8-0.2 0.4 0.5 1.9-1.5 0.9-0.1M424.2 310.5l0.0-1.6 0.1-0.7-0.4-0.7 0.7-1.0M440.0 266.7l0.6 0.9 0.2-0.5 2.0 3.2 1.2 2.6 2.6-1.6 1.2 0.8 1.2-1.3-1.0-2.3 3.4-0.5 3.1-1.2 1.2-0.2-0.4 0.7M420.1 301.0l0.8-0.3-2.2 0.6M410.0 288.3l0.4-0.2 0.5-1.3 1.7-1.2 1.7-1.6-1.0-1.0 0.3-1.0-3.6-1.0-2.1-0.3-0.0 0.5-0.3-0.4-0.3 1.0 0.5 1.1M396.2 301.0l-0.7 1.0 0.5 0.8M476.8 289.7l-1.7-1.1-1.3-1.0 1.3-3.2 2.2-1.8-0.2 1.0 0.9-1.0-1.0 3.2 1.1 3.9-0.0 0.5-0.1-0.1-0.2-0.7-1.0 0.4-1.2 0.7-1.5 3.3-0.0 1.6 0.7 1.2M393.8 281.6l0.2 1.1 1.2 1.3 0.3 1.4-1.2 1.5M443.0 308.4l0.9-1.2 0.5-0.8M447.8 305.3l-0.8-2.9-0.3-2.5M423.4 304.5l0.7-0.8 0.9-0.9 1.8-0.4 0.8 1.5M396.2 272.3l-1.0 3.2-1.3 3.0M394.1 278.8l1.2-0.9 2.5-0.8 1.7-3.2 0.9-2.5-1.8 1.1-2.5-0.3-1.2 0.4-0.9-0.4M451.2 234.5l-3.5 0.7-1.2 1.1 0.7 1.1 0.3 1.5M453.1 194.9l-1.8-0.6-1.3 0.2-0.3-0.6-0.0 0.0M451.6 191.4l0.9 0.3 2.0 0.7 0.2-0.1-0.1 0.4M427.6 200.9l-0.5 0.1 0.1 2.6 0.9 0.6 1.1 1.6 1.2-1.8 1.4-2.0M485.1 279.7l-0.4-0.8 0.3 0.8-1.3-1.0-1.5-0.9-3.2 1.7-0.7 3.0-1.1 1.1 0.9-1.1M392.3 288.1l0.3 1.6-0.3 1.7 0.9 0.6 0.4 1.1-1.8-0.4-1.9 1.3 0.8-0.6 0.2-1.3-2.3-1.8-0.8-0.6-0.3 0.0 0.2 0.1-1.8-1.6-2.0-0.5M381.6 284.2l-0.8 1.6-2.1 1.4-1.0-0.7-0.4 0.3M499.2 292.3l-1.4 1.3-2.0 0.9 0.0-0.1-0.3-0.0-0.2 1.1-0.0 1.3 0.1 1.4-1.1 0.8-0.4-0.5-2.1-0.4M432.0 233.4l0.8 0.2 0.4 1.4-1.4 1.6-0.4 1.6M392.7 217.6l1.5 0.4 2.1 1.2-0.4 2.9-1.2 2.4-0.1 0.8-0.4-0.6M422.7 212.4l-0.5 1.6-0.0-0.1-0.6 0.6-1.5 1.6-1.4-1.4-3.2-2.0M436.8 304.1l-0.5 0.7-0.5 1.3-1.4 1.2 1.5-1.0M442.1 284.0l0.6 0.1-0.3 2.2 3.1 0.7 3.1 0.4M448.4 287.9l-0.3 1.1-0.5-0.6M483.1 208.3l0.6-0.8 1.6 1.0 0.8-0.7 2.2-1.2M442.8 220.4l2.2-1.4 1.3-2.2M447.8 257.4l0.7 2.6-1.5 3.1M452.6 263.2l1.4 1.3 0.4 2.3M459.3 236.8l0.7-0.1-0.7 0.0M417.2 273.6l-1.2-0.3-1.2-1.5-2.0 0.3-1.2 0.7M400.5 294.1l-0.7 0.2 0.3 0.2M480.8 192.0l1.5 0.8-0.5-0.7 2.0 1.3 2.5 2.2 0.5-1.3 0.9-1.0-0.5-0.2 0.4 0.1-1.4-2.5-1.5-1.5-0.4 0.6-0.2 1.6 1.6 1.4 1.9 0.4M498.4 191.8l-3.8 2.1-2.9 0.1M491.5 199.2l-2.0 1.8-0.9 3.3M394.2 299.7l0.5 0.0 1.5 1.3 1.6 0.8 0.7-1.4M488.8 265.9l-0.3 0.3-0.2 0.1-0.2 2.2-0.5 1.8M466.1 262.7l-0.3-0.1-1.3-0.4M465.8 257.3l-0.9 0.6-1.3 0.3M461.9 256.9l-0.3-0.2-0.4 0.3M473.3 279.0l-0.4-1.4 0.6-1.5M431.7 239.2l5.2-0.7 3.5 0.1M402.7 234.9l-1.7-2.5-1.6-3.1M461.2 269.1l-0.3 0.4-0.7 0.1M391.5 314.0l-0.0-0.1 0.3-2.2 1.4-0.4 2.0 0.3M392.0 304.6l0.5 0.4-0.2 0.8M437.8 263.5l-2.8-0.8-2.4 0.9 0.1-1.1-0.3 1.0-1.5-0.4-0.9 0.3-0.2 1.3-0.4 0.6M458.4 295.9l0.4-0.3 0.3 1.3M408.3 244.6l1.1 0.8 0.5 0.9M419.1 242.3l0.0 0.4-0.1 0.2-0.3-0.2 0.4 0.3 4.6-0.4 4.9-0.9 0.2-0.4-0.2 0.3 1.3-1.4 1.4-0.1-0.2-1.1 0.5 0.3M495.2 227.4l2.9-0.0 3.6 0.9M463.3 231.8l1.1-0.4 0.4-0.8M404.0 196.7l1.2-0.8 0.8-1.3M381.6 230.4l0.1 1.2-0.5 0.2-2.9 0.8-0.6 0.9M382.8 245.4l3.3 2.8 3.2 2.6M444.0 229.0l1.8 0.6 1.7 1.6-0.2 0.6 0.4-0.7M448.3 227.5l-1.4-0.6 0.1 0.3M438.5 263.9l1.5-1.9 0.7-1.4M385.5 296.8l0.5-3.5 1.6-3.7M415.4 209.4l0.4-0.3-0.2 1.1M415.8 297.4l1.1 0.4-1.1-0.6-0.5-1.8-0.5-0.8M441.4 247.8l-1.5 1.8-1.9 1.0M414.9 198.7l-0.4 0.0 0.2 0.6-0.9 0.5 0.2 0.1M498.9 304.1l1.1 0.1 1.0 0.2-2.8 3.5-2.3 3.1M413.4 215.0l-0.1 0.9-1.3 0.8-1.0-0.7-1.8-0.1M434.2 268.0l-0.6-0.6-0.3 1.4 2.1 3.9 1.5 2.8M409.8 212.1l-0.3-3.1-0.5-0.7-0.3 0.8 0.4-0.9 3.4 1.1 2.9 0.1M458.0 279.3l1.7 3.1 2.2 2.9 1.7-1.8 1.6-0.5 0.2-1.5 0.1-0.4M429.7 219.3l-1.0 0.8-0.5-1.5 2.0-2.0 2.9-2.4M482.9 259.5l2.2-3.0 1.1-2.3 2.0 1.4 1.9 2.2M477.3 306.3l-1.0 1.7 0.4 2.0M461.8 206.1l-0.4-0.9 0.3 0.8M455.0 204.9l0.8 0.3-0.1 0.9M481.9 272.2l-0.5 0.2-0.6-0.4-1.4 1.5-1.8 2.1-1.3 0.8-0.6-1.2 1.5-2.4 0.4-2.6M383.5 209.1l-0.7 2.1-0.9 0.4 1.9 0.7 0.8 0.7M481.1 237.9l0.6-0.4-0.9-1.7M507.3 263.4l-3.2 2.0-5.6 2.1-0.1 0.7-0.0-0.2M493.9 267.7l0.4-2.4 1.4-2.3 0.5 0.6 0.9-0.3 0.1 2.2 1.3 1.9M416.9 234.6l-0.5-0.4 0.4-1.0-0.2-1.4 1.0 0.2-0.0 0.2 0.2-0.7-0.5-1.7-0.6-2.3 4.2-0.4 3.9-0.9-0.4 1.6-0.5 2.2-3.7 1.5-2.5 0.0M420.1 307.5l1.6-2.4-0.1-1.2M381.2 308.3l-0.8 1.3 0.5-0.2M485.1 279.7l0.2 0.3-0.2-0.3 3.3 1.7 2.5 1.3M432.9 254.7l-1.5-0.9-0.9-0.8-1.0-1.2-0.3-1.4-0.5-1.1M456.5 239.5l1.1-0.7 1.4-0.1 1.7-0.3 1.3 0.0 1.0-0.6 1.4-0.6 1.2-0.0 1.6-0.6M457.8 241.9l0.6-1.1 0.7-1.1 0.7-1.3 0.6-1.7 0.3-1.5 1.0-1.4 1.2-1.2M461.8 238.2l1.6 0.7 1.4 0.7 0.7 1.3 1.2 1.3 1.0 1.2 1.0 1.2 0.9 1.0 1.4 0.7M392.4 295.3l-1.1 1.0-1.0 0.8-1.4 0.6-1.6 0.2-1.2 0.2-1.5-0.7-1.2-0.7-1.1-0.7M436.2 244.9l1.3 0.3 1.5 0.4 1.2 0.2 1.4-0.3 1.3 0.3 1.3 0.7 1.2 1.1 1.1 1.0 1.6 0.7 1.4 0.2 1.2 0.9 1.3 0.9 0.6 1.2 0.6 1.3 0.6 1.5M409.2 273.9l1.6 0.3 1.5 0.2 1.2 0.3 1.5-0.4 1.1-0.7M408.5 276.5l0.5-1.2 0.2-1.3 0.3-1.3M391.5 306.7l-1.2 1.2-1.2 0.9-0.9 1.0-1.1 1.3-1.1 1.2-0.6 1.5-0.2 1.2-0.5 1.2M388.8 305.2l-1.4 1.1-0.7 0.9-0.9 1.0-0.9 1.2-0.3 1.3-0.4 1.5M416.9 246.8l-0.6-1.1 0.0-1.4-0.9-1.3-0.5-1.5 0.2-1.3M470.8 212.5l0.5-1.5 0.3-1.3 0.6-1.2M403.8 301.9l-1.0-1.4-0.0-1.3 0.0-1.4-0.3-1.4 0.4-1.6-0.3-1.5-0.5-1.6-0.2-1.2-0.6-1.4-0.2-1.6-0.3-1.3-0.8-1.6-0.8-1.5-0.5-1.7 0.2-1.8-0.1-1.3-0.6-1.5M399.0 235.9l1.6 0.1 1.5 0.3 1.5-0.2 1.4 0.7M389.9 238.6l1.7 0.4 1.7 0.2 1.5 0.4 1.6-0.4 1.2-0.1 1.2-0.1 1.6-0.8 1.1-1.0 1.1-0.7 1.4-1.0 1.0-0.8 0.6-1.1 0.4-1.5-0.2-1.5-0.3-1.7 0.2-1.7M393.8 275.4l1.6-0.8 1.4-0.9 1.2-0.6 1.3-0.5 1.4 0.0 1.3-0.3 1.7-0.3 1.7-0.4M474.8 274.9l1.3 0.8 1.0 0.6 1.1 1.2 1.1 1.4 1.1 0.8 1.0 1.0M485.4 263.4l-1.7 0.2-1.2-0.2-1.4-0.0-1.4 0.2-1.3 0.8-0.7 1.0-0.7 1.5-0.4 1.3-0.8 1.1-0.6 1.3-0.5 1.3 0.2 1.4-0.1 1.6 0.5 1.2 0.3 1.6 0.7 1.1M429.4 284.0l-0.9-1.0-0.6-1.5-0.2-1.4-0.2-1.6 0.5-1.7M407.2 236.6l-0.2 1.5-0.6 1.6-0.4 1.6M471.3 258.3l-1.2-0.1-1.4 0.2-1.5 0.3-1.2 0.5-1.2 0.4-1.3 0.2-1.8-0.0-1.7-0.2M474.7 259.8l0.4 1.5 1.1 1.1 1.3 1.1M424.1 269.5l-0.8-1.3 0.3-1.5 0.0-1.3 0.2-1.4 0.7-1.1 0.8-0.9 0.8-0.9 1.2-1.1 1.4-0.9 1.5-0.4 1.7-0.1M458.9 217.5l-1.5-0.7-1.3-0.4-1.2-0.3-1.5 0.0-1.6-0.4-1.6-0.4-1.5-0.5M430.9 296.4l1.2 0.6 0.9 1.5 1.4 1.1 1.6 0.6 1.5 0.3 1.8 0.1 1.3 0.4 1.3 1.1 1.2 0.9 0.9 0.9 1.6 0.4 1.5 0.4 1.6 0.4 1.1 0.7M474.4 226.8l1.3 0.2 1.4-0.7 1.3-0.0 1.5-0.5 1.7-0.6 1.4-0.1M469.7 214.3l1.0 1.5 0.6 1.6 0.2 1.3 0.7 1.6 0.5 1.4 0.6 1.1 0.5 1.3 0.1 1.4 0.5 1.3 1.3 0.8 1.5 0.1M392.2 223.5l-0.8-1.1-0.8-1.1-0.8-1.1-0.9-0.9-0.5-1.2-0.6-1.3-0.3-1.2M394.5 228.6l-0.1-1.4-0.5-1.4-0.7-1.5-1.0-0.8M460.2 268.0l1.3-0.5 1.3 0.6 1.1 0.7 1.2 0.8 1.4 0.8 1.2 0.4M458.6 273.3l0.6-1.4 0.2-1.3 0.4-1.5 0.4-1.1-0.1-1.3-0.3-1.7-1.3-0.9M426.0 277.1l-1.1-1.1-1.3-0.9-1.0-1.0-1.3-1.0-1.7-0.3-1.7-0.6-1.2-0.3-1.4-0.1M429.8 279.7l-1.0-0.7-1.3-1.2-1.5-0.7-1.3-0.3-1.5-0.7" stroke="#741c1c" stroke-width="1.1"/>
<path d="M461.8 206.0l-0.7-1.0-0.5-4.3-0.0-0.7 1.3-1.3-0.8-0.5-0.3-2.3 1.1-1.9-0.3-2.1-1.0-0.6-2.2 0.3-2.0 1.1-1.8-0.2-0.6 0.8 0.5-0.2 2.4 1.7 1.3 0.8-2.0 1.6-2.4 1.3M396.6 231.5l1.1-1.8 1.8-0.5 0.2-0.5 0.6-0.9-0.3 0.1-0.2-0.8 0.3-3.9 0.0-4.2-0.8 0.3 0.1-1.0-0.4-0.0 0.9-1.5-3.6-2.0-2.2-1.0-0.9 2.8-0.5 1.1M460.6 200.7l-3.6 0.5-3.2 0.3-0.2-0.5-0.1 0.4M398.1 257.3l-1.1-2.8 0.1-2.6-1.5-0.6-0.3-0.9-1.7-0.3-1.1-0.0-1.1 0.1 0.5 0.2 1.6 3.0 1.1 3.0-1.1 2.1-1.6 0.9M453.8 299.0l1.6-0.0 1.3 1.0-0.3-0.2 0.1 2.3 1.2 1.3 2.3 1.5-1.0 0.7-0.3 0.8-0.4-0.3-1.4 0.0M433.6 196.1l0.5-0.1-0.2-0.1 0.8-2.0 0.5-0.8M470.5 224.7l0.8 0.5 2.0 0.9 1.7-0.9 1.0-0.1 2.3 0.3 0.6 2.4M427.5 216.9l0.1-0.8 1.5-1.6 2.6 0.4 1.3-0.6 0.2 0.1-0.2-0.1 0.3 1.0 0.1-0.7-2.6 2.1-1.2 2.7M381.4 279.6l0.0 1.3-0.3 0.9-0.2 0.5 0.2-0.4 0.2 0.9 0.2 1.6-0.2 0.7 1.8 0.8 1.7 0.1 2.2-1.1-0.0-1.6-0.7-1.1-3.7 0.1-1.5-0.4M464.7 288.6l-0.1 1.2 0.0 1.2 1.0 2.0 1.7 0.1-0.5-1.1 1.6-0.5 0.9-0.5-0.1-0.2 0.7-1.4 1.3-0.1 0.7 0.6-0.2 1.5 1.1 1.1 1.3 1.1M421.2 277.4l0.5 1.0 0.2 1.2 1.3-0.7 2.1 0.7-0.7-2.8-0.4-1.3M430.2 247.4l1.1-1.6 1.1-3.3 0.1-0.7-0.9-1.3 3.1 1.1 4.0 1.7 0.8-1.8 1.0-2.4 1.5 0.1 1.3 1.8-0.2 1.9 1.2 1.7 0.6 1.2-0.9 1.2-1.7 0.6-0.8 0.3 0.7 2.7 1.4 2.6-1.0-0.0-2.3 1.6 0.5 2.0 0.7 1.7M453.8 299.0l-0.1-0.3-0.2 0.1 0.8-2.4 1.6-1.3 1.8 0.3 0.7 0.6-0.8-2.4-0.1-0.9-2.3 0.2-0.7 0.6-1.0-1.5-1.0 1.2-0.8-0.1 0.8 0.2-1.5-0.3-1.8-1.7-0.2-2.0-0.6-1.4-0.0-1.0 0.3 0.4 0.8-1.2 1.0-1.2M432.2 230.4l0.8-0.4 1.6-0.6 1.7 3.0 0.2 1.0 1.0 0.4 2.7 0.5-0.1-1.9 0.5-0.9 1.3-1.6 0.1-0.9 0.8-0.0 0.5-0.1M392.5 267.9l0.1 0.7-1.1-0.4 0.6 1.8-0.7-1.5-3.6 0.3-2.7 1.4-0.6 0.3 0.4-0.6M408.0 198.3l2.7-2.0 1.3-2.4 0.7 0.4 0.3 0.4 1.3 2.2 0.6 1.8 0.8-1.5 2.7 0.5 0.4-0.9 0.9-0.3M452.5 227.7l-2.4 0.7-1.2-0.1-0.3 1.4-0.8 1.5 1.6 1.3 2.0 1.7-0.9-0.1 0.8 0.5 1.1 1.6-0.7 1.4 2.3 0.7 1.0 1.7-0.4 1.2-0.5 0.8-1.7 0.5-2.3 0.4 0.1-1.5 0.3-2.8 0.2 0.6 1.0-1.6M419.7 196.5l1.3-2.2 0.4-1.2 1.0 0.2-0.7 0.2 0.4 2.4 0.3 2.7 1.6 0.1 0.2-0.2 0.8-0.9 0.2-0.9-2.4-1.6-1.1-1.7M429.7 219.3l-0.2 2.0 1.6 2.4-0.2-0.0 0.2 0.2 2.1-0.1 2.3 1.6M484.2 286.8l0.0-0.6 0.7 0.2 0.4-0.9 0.4-0.2 2.8-0.2 2.1-1.1M406.4 307.0l2.8-0.8 2.0-1.6 0.3 0.2 1.2 0.5 0.3 2.4 1.0 1.8M442.0 228.9l-1.0-2.1 0.1-0.9M439.1 223.2l0.2-1.0 0.5-1.1M390.6 196.8l1.0-1.7 1.2-0.4 0.1-1.2-0.1 0.9 1.0-1.0 2.5-1.0 0.3-0.8 0.2 1.3 0.5 2.0 0.0 2.7 1.7-0.8 0.8 0.4-0.3-0.5 0.4 0.3-0.2-0.4 0.5-1.3-1.3-1.5-2.1-1.0M425.3 292.8l1.4-2.9-0.2-1.9-1.4 1.7-1.7 2.0-0.6-0.3-0.9-0.1-0.6 0.1-1.2 1.3-1.2-0.8-1.2-0.4-1.0-1.2-0.0-1.3 0.5-2.0 0.0-1.1 0.8-0.8 0.1 0.5 2.0 1.9 2.0 1.6 2.6-1.5 1.7-1.3M450.4 284.9l0.0 0.5 1.0-0.2 1.5 2.2 1.0 1.5 1.7 0.1 3.2 0.4 1.1-0.5-1.0 0.9M406.4 307.0l-1.9-1.4-1.6-1.1-1.0-2.3 0.3-0.8 1.0-1.7 0.8-1.7 3.4 0.9 3.0 0.8-0.1-2.9 0.1-0.8-1.6-0.3-3.1-2.4 0.7-1.7 0.7-1.1-0.5-0.4-0.8-0.3-1.3-1.6-3.0-1.0M390.6 196.8l-1.9-0.6-1.8-0.4-0.8 1.4-1.0 0.3-2.0-3.3-0.6-1.6 0.4 0.8-0.1-0.9M460.2 219.5l-1.2 2.8-0.6 2.4-1.7 0.3-0.7-0.4-1.4 1.8-1.2 1.4-0.1-0.8-0.6 0.6M448.8 228.3l0.4 0.2-1.0-0.9-0.2-2.3 0.4-1.7 0.6-0.5 0.5-0.3-0.2-0.1 0.4-0.4M465.3 220.0l-0.4 0.1 0.4-0.1M383.1 275.3l0.4-0.2 0.9-0.7M387.8 277.7l-0.2-0.8-0.5-0.8M402.1 301.4l-0.6-0.5-2.5-0.5 0.2-3.3 0.9-2.6-1.0 0.8-1.5 1.0-0.9 0.3-1.1-0.4M394.2 298.8l-1.1-1.2-1.5-1.6M399.9 311.2l-0.6 1.4-1.3 2.9-2.0-1.8-1.0-2.0 0.3-0.5 0.4-1.4M471.6 287.7l0.4 0.9-0.8 0.7M471.8 291.5l-0.6 3.2-2.6 2.9 2.6-0.4 3.5-0.8 0.6 0.4-0.4-0.3M380.0 258.0l-0.6-2.0-0.4-0.5 0.9-0.7 0.3-1.1-1.1-2.0-1.6-1.2 2.8-0.4 0.5-1.3 0.3-0.3-0.3 0.2 0.7-1.3 1.3-2.0 0.0 0.5-0.3-1.3 0.7-1.7-0.5 1.0-1.0-2.7-0.3-1.8M403.0 198.7l0.7-0.5 0.3-0.8M466.1 262.7l0.1-0.2 1.3 1.2-1.2 2.1-1.3 2.3 1.0 1.0 0.1 0.8-1.2 1.6-2.3 2.5 0.2 0.0-0.6 0.1-1.7-1.2 1.1 0.4M453.8 299.0l-1.6 2.3-0.9 4.0 0.6 0.5-0.5 0.2M421.9 291.4l-0.3-0.9 0.5-1.3M387.2 253.6l0.6 0.1 0.2-0.8 1.8 3.1 2.0 3.4M397.1 251.9l0.9-0.5 2.4 1.0-0.5 0.5 1.6-0.8M443.6 310.2l-2.3 1.2-2.5 2.5-0.8-1.6-0.5-0.5-0.3-2.2 0.7-2.3-1.6-0.5-0.4-0.4-1.0 1.6-1.9 2.4-1.0-1.0-1.8-0.2M486.6 214.2l-1.4-1.3-1.2-0.4-0.4-1.0-0.9-1.7-0.2-1.1 0.6-0.5-1.0-0.8-0.4-1.0 3.1-2.3 1.6-1.4M406.5 271.0l-3.5-0.5-1.6 0.0-0.5-0.5-0.0 0.7-0.9-2.4-0.8-1.2-2.1 0.4-1.6 0.4-1.1 1.9-0.5 2.0-1.0-0.9-1.5-0.9M385.4 271.5l-0.4-0.7-0.0-0.7M494.2 258.6l0.4-0.1-0.4 0.1-1.9-0.8-2.2-0.0-1.2 1.3-1.6 1.6-2.1-0.4-1.7-0.4-0.2-0.9-0.4 0.5 0.3 0.5-1.1-0.3-0.3-1.8-2.3-1.4-0.6-0.4-1.5-0.4 1.2-1.9 2.0-2.5M441.4 278.6l1.1 0.7 0.1 1.5 0.3 0.7-0.3 0.1 0.8 0.9-0.5 0.7-0.8-0.4 0.0 1.2-1.1-0.7-1.5 0.1-0.9 0.9-1.5-0.6-0.3 1.7-1.7 0.6 0.5 0.8-0.5-0.5-0.9 0.2 0.9-0.2M443.6 235.0l-1.6 0.1-1.0 0.4-0.7 2.9 0.1 0.2-0.0 0.4 0.2-0.0M424.2 275.6l-0.8 1.3-1.9-0.4-0.1 0.9-0.1 0.0M432.9 310.4l0.6 0.2-0.6-0.1 2.8 0.8 1.7 0.6M468.4 230.1l-0.8 0.2-0.9 0.4-0.6 0.2-1.1-0.2-0.3-1.3-0.3-1.7M439.8 221.2l-2.4-1.8-1.3-3.5 0.4-0.4-0.4 0.4M438.7 243.2l0.6 0.5-0.8 0.3-2.7 1.3-0.6 0.2M423.4 291.7l0.4 0.6-0.0-0.3 0.5 0.9 1.0-0.1 0.3 0.1 0.4 0.8-1.0 2.0 0.0 0.9 0.9 0.5-0.7-0.2M390.3 274.1l1.4 1.2 0.6 0.3 0.9 0.8-0.2 0.9M469.5 224.5l-1.9 0.6 0.2 1.4M381.4 279.6l-0.1-0.5-0.0-0.1 1.0-2.4 0.8-1.3-2.2-1.7-2.9-2.4M494.1 200.9l0.2 0.8 0.3 0.2M493.9 210.6l-1.6-1.2-1.4-3.6-0.5 0.7-1.2-1.0M453.5 298.8l-1.0-0.5-0.7-0.6-0.9 1.4-2.2 0.5-0.7 0.3-1.2-0.1M471.1 235.2l2.8 4.7 0.6 3.6-1.2 0.9-0.9 1.5M413.7 262.7l0.1 1.4-0.1 0.5 2.7 1.6 2.9 2.1-2.3 1.9-2.0 0.7-1.8-2.7-0.2-2.3-0.5-0.3 1.3-0.8M413.7 262.7l-0.3 0.3 0.2-0.5-3.3-0.8-4.2 0.1-0.6 0.2-0.2 0.5-3.2 0.6-2.2-0.2-1.2 0.7 0.9-1.6M423.8 292.0l-1.5 2.2 0.3 1.8-1.3-0.1-0.4-0.2-0.1 0.0-0.3-0.4-1.0-1.0 0.5-1.6M471.4 231.3l1.3-2.6 0.6-2.7M470.5 224.7l0.9-2.3 0.8-1.8 1.8 1.7 2.1 2.2 0.2-1.5 1.5-2.1M455.9 295.1l-0.9-0.9-0.5-0.8M387.2 253.6l-1.4 3.0-1.6 3.1-0.6 0.0 0.7 0.4-1.8 2.6-0.8 2.4-2.6-0.2-2.4-0.7-0.5-0.2-1.3-1.5 2.3-2.4 2.7-2.1M384.4 260.1l1.4 1.1 1.9 0.5 0.5 1.9-0.0 1.6M462.7 214.4l0.6 0.6-0.4 0.4M485.1 227.8l3.4-1.7 4.0-1.6 0.0 1.2 0.8-0.1 0.2 0.2 1.8 1.6-1.6 3.0-2.0 2.5M386.3 231.1l-0.6-0.1 0.9-0.1 1.1 0.0-0.1-0.6-0.9-1.6 0.4-1.3-1.3 0.7 1.5-1.2 0.3-0.6 1.1 0.3 2.0 0.1 0.5 2.0-0.5 1.1-0.5 1.3-1.3-0.2-1.2-0.7M421.8 198.9l0.3 1.1-0.7 0.8-0.2-0.3-0.5 0.7-1.3-2.1-0.9-1.4M441.8 290.9l-0.3-1.0 0.8-1.1 0.0-0.5-0.1-1.4M385.5 228.9l-1.3-0.1-0.4 0.6-1.1-0.2 0.7 0.2-1.8 1.0-0.2 0.0-0.0-1.1-0.6-0.1M421.3 200.8l1.0 1.1 1.2-0.8 0.3 0.2 0.9 2.3-2.3 1.7-1.0 0.9 0.7 3.0 1.0 1.7 3.4-1.7 2.8-1.5 1.7 2.3 1.8 2.8 0.5 0.9-0.2 0.6M407.9 283.0l0.6 0.6-0.9 0.4 1.3 2.8 1.1 1.5 0.2 0.8-0.8 0.3-0.5-0.4 0.4 0.4M432.0 200.5l-0.6 0.8 0.0-0.3M463.2 218.1l-0.7 0.4-2.3 1.1M432.0 233.4l-0.3-1.5-1.2-1.5 0.6 0.9 1.0-1.0 1.9 2.0 0.4 1.7 0.3 0.5 1.7-1.2M415.4 210.6l0.3 0.4-0.2-0.7 2.9 1.6 4.2 0.2M401.4 287.3l-0.9-1.1 0.9-1.0-0.6-0.5-1.2-0.6M447.5 264.1l0.2-0.6-0.8-0.5-1.1-0.6-1.2 0.4-2.6 1.1-2.0 2.8-0.6 0.6-0.5-0.8M464.9 288.6l1.1-0.1-1.0 0.1M471.1 287.3l-0.8-1.5-0.5-1.4 1.1-2.6 1.2-1.9M408.0 280.8l1.1-1.6 0.9-2.4-1.7-0.5-0.8-1.4 0.0-0.3-0.4 0.3-0.5-0.1-1.2 0.8-1.2-0.1-0.7-0.5-0.8 1.0 0.2 0.6 0.3 2.0-0.1 0.7 1.8 1.1 0.7 0.8-0.5 0.3 0.2-0.0-3.1-0.8-1.9 0.0 0.1-0.3-0.1-0.9M416.3 277.5l0.6 0.0 0.1-1.2 0.2-1.6 0.0-1.2 2.5-1.1 0.6-1.5 0.8 1.5 1.1 0.5 0.4 2.3 1.3-1.1M426.5 268.1l0.7 0.2 0.4-0.1 1.8-1.1-0.2-1.8 2.6 1.0 2.2 1.7M475.8 298.4l-1.8 1.7-2.5 1.9-0.5 0.3 0.6-0.1 2.8 0.7 3.2 0.3M404.0 298.0l0.2-2.2-0.7-1.0 0.0 0.4-0.3-0.5M406.4 307.0l-0.3 0.7 0.1 0.3M430.4 254.1l-1.6-0.4-0.9-1.0 0.1-0.1 0.1-0.3 1.9 0.3 0.2-1.7 1.9 1.1 2.0 0.8-0.8-2.2-0.8-2.5M392.0 250.3l-0.2-0.2-2.0 0.5M494.3 249.4l-0.6 1.9 0.7 1.7 1.4 0.8-0.1 0.7 1.9-2.9 2.6-2.5-3.3 0.1-2.4-0.2 0.1 0.1 0.0-0.7-1.0-0.3-1.1-0.6 0.5-2.4 1.6-1.2-1.0-0.9-0.9-1.1-0.3 0.5-0.5-0.2-0.3 1.7-0.6 2.2M493.7 269.1l-2.9 0.9-3.3 0.4 0.1 0.4-0.5 0.2-1.5-1.7-1.2-0.4-1.5 0.1-0.5 0.0M483.5 273.8l1.8-0.4 1.7-1.0 1.0 0.8 0.7 0.7M477.6 275.5l2.0 1.6 2.5 0.6M456.9 306.1l-2.9 2.2-1.4 1.4-0.2-0.4 0.2 0.5 3.1-0.4 5.2-0.0M398.0 291.2l1.9 1.2 0.6 1.7 0.7 0.5 2.0 0.1M467.6 279.4l-0.8 0.6-1.3 1.1-1.0-1.6-0.6-1.2 1.5-0.9 1.7-0.5 0.5 0.7-0.1-0.8M416.6 238.4l1.7 2.4 0.8 1.5 1.2-1.9 1.0-0.1M485.4 208.5l2.5 2.1 0.8 3.4 1.6-0.8-0.1 0.4M379.7 216.3l1.8-0.1 2.8 1.4-0.4 0.9 1.5 0.1M387.7 218.8l0.3 0.4-0.1 1.8-0.4 2.0-1.2 3.1-0.8 0.8-1.7-1.7 0.1 2.1-0.3 1.9M390.5 266.7l-0.2-0.7 0.2 0.7-2.4 1.5-3.3 1.5M384.0 268.6l3.1-1.5 1.0-1.8M430.5 230.5l-0.8 0.2 0.7-0.2 0.6 0.7-0.6-0.6-2.8 0.8-1.9 1.6 2.4-0.2 1.6 1.6 0.3 0.6-0.1-1.3 0.3-2.0 0.2-1.1M498.4 191.8l-0.3 1.9-0.8 2.2M434.8 199.7l1.0 0.7-0.1 0.3M427.8 252.7l-3.1 1.1-1.5 1.2-0.2-1.3-1.2 1.0 0.1-0.5-0.1 0.4M458.2 265.8l1.2-1.1 0.3-0.8-0.1-0.7 0.2 0.5-2.7-2.6-2.3-2.4M489.5 289.0l1.9 2.2 1.7 1.3-2.4 1.5-2.5 1.3 0.2 0.4-0.4 0.4-0.7 0.9 1.2 1.2-0.6 2.2 0.5 2.4 0.5 0.2 0.0 0.0 1.7-1.8 3.7-1.1 2.2 1.9 2.4 2.2-3.0 0.2-4.4 1.4-0.7-2.1-1.8-0.6M430.5 270.6l2.9 2.9 2.7 2.5 0.5 1.1-1.4-0.2 1.5 3.5 0.3 3.2M460.7 286.5l-4.8-0.8-2.6-1.3 2.7-2.9 1.8-2.2-3.3-1.3-2.0-2.9 1.8-1.5 1.1-1.7M461.5 273.4l-0.3-2.4-1.0-1.5 0.1 0.2-0.4-0.3M424.3 305.7l0.1 0.2-0.9-1.0-0.2-0.7 0.2 0.2M383.1 268.1l-0.8-2.0-0.4-0.9M444.6 262.8l-2.0-0.7-2.0-1.5M441.5 247.8l-0.6 0.1 0.5-0.1-1.9-1.9-1.0-1.9M452.5 227.7l-1.0-3.1-1.8-2.0M394.4 293.6l0.2 0.8-0.2-0.5M401.6 255.8l0.9 0.5 0.6-0.1 1.3-2.6 1.0-2.4-0.3 0.5 0.2-0.5M463.7 211.4l-0.4 0.5-0.6 1.5-0.3 1.0 0.2-0.0M420.2 307.5l1.8-0.8 0.9-1.0 0.4-0.8-0.0 0.3 0.2-0.1 0.0-0.1M485.1 291.9l1.7 1.6 1.4 1.7M468.5 223.0l2.2-1.4 1.3-2.0 0.8-0.1-0.5 0.9M470.5 224.7l-1.4-0.1 0.4-0.1M457.9 245.9l1.7 0.2 3.3 0.7 0.1-2.8-0.3-1.1M458.2 195.7l1.2 0.5 1.4-0.2M478.1 289.6l1.1-1.8 1.6-3.1M451.0 256.5l2.5 0.4 1.0 0.6 0.2-0.1-0.2 0.1M459.7 263.9l0.6 1.2 1.1 0.9M491.2 234.4l-1.1-0.8 0.3 0.9-2.2-1.5-3.0-1.0-0.2-1.4 0.6-1.6M493.6 292.3l0.3-0.4 0.0 0.5 1.1-1.9 0.9-0.1 2.0-0.4 2.1 0.8M443.6 310.2l0.6 1.1 1.6 0.5 2.3 2.0 2.7 1.6 0.1 0.2 0.1-0.3 1.1-3.1 0.5-2.4M425.3 233.2l-0.8 0.2 0.9-0.5 0.7-0.5-0.5 0.4M429.9 233.6l1.0-0.1 1.2-0.1M454.3 230.8l-1.4 1.3-0.3 1.2-0.9 0.2-0.4 0.6M431.4 296.1l0.0-1.9 1.7-2.2M426.9 287.3l-0.6-0.5 0.5 0.2-0.4-0.7 0.2 0.2M414.9 205.9l-1.2-0.1-1.3-0.9 0.4-2.2 1.2-2.8-3.2 1.0-2.7 0.1-0.5-2.9 0.4 0.3-1.1-1.1 0.7 0.8M406.4 191.7l-0.8 0.5-3.0 0.7M421.2 277.4l-0.1 1.3-2.0 0.6-0.5 0.2 1.3 0.5 1.0 0.1 1.0-0.5M421.4 276.4l-0.3-0.5-1.9 0.1-2.1 0.7-0.1-0.5M479.6 206.0l1.2-1.0 0.2 1.2 1.0 0.4-0.2 0.1M390.1 231.3l-0.7 0.6 0.7-0.2 3.2 0.7 2.4 1.3 0.3 0.3-0.2 0.6-0.0-0.3 0.2 0.9 0.8 0.1-0.4-0.0M489.5 289.0l0.1-0.8-0.2 0.4M392.5 267.9l1.6-0.3 1.3 0.3M381.2 252.8l3.2 0.8 2.7-0.0M378.9 215.2l0.2-1.3 0.2-1.8-0.3-3.4-2.1-2.1 0.7-0.6 1.8-0.3 1.1-0.4 0.2-0.8 0.2-0.2-0.2 0.2 2.5 0.9 1.1 0.6 1.0 0.6 0.0 2.6 1.4 0.6-0.1-0.1-0.1 0.1 0.1 0.2-1.5 1.7-0.7 1.1-0.2 2.0-0.1 2.6M420.1 301.0l1.8-0.1 2.3 0.9-0.8-1.7 0.7-1.4M420.2 300.9l0.2-2.9 0.6-2.2M386.3 282.1l-0.2-0.1 1.9-0.9M430.5 270.6l-0.8 0.3-0.2-0.4M442.6 296.8l-0.9 0.5-0.9 1.5M439.8 299.5l-2.1-1.0-2.1-0.1 1.2-3.2 0.7-1.6-2.0-0.9-1.7-0.9M462.2 256.5l1.1-0.3 2.8-0.2 0.4 0.7-0.7 0.6M417.8 291.5l-1.3 2.1-1.6 0.9-1.4-0.1 0.3-0.3M470.5 307.0l0.7-3.6 0.4-1.2M396.6 231.5l-2.5-1.5-1.4-1.6-0.2-0.1-1.3 0.6M388.6 226.7l0.7-1.1-0.1-0.1 0.2-0.9 3.0-0.8-1.7-3.4-2.3-2.0M392.5 305.8l0.1-0.1-0.2 0.0-1.7 0.2-2.4 1.0-0.2 1.5-0.3 1.1-0.5 0.4-0.6 0.1M424.2 301.9l1.0-0.9-0.6 1.2 0.5 0.5-0.1 0.1M472.0 219.7l0.0-0.7-0.0 0.3-0.7-1.1-0.7-0.5M465.4 220.1l1.5 1.0 1.7 1.9 1.2 1.5-0.2-0.1M388.3 307.0l-0.2-1.4 0.1 0.5M446.1 253.6l0.4 2.0 1.7 1.4-0.8 0.8 0.4-0.3M463.3 231.8l-0.7 2.4 0.4 1.8M444.5 198.6l-0.3 2.0-0.5 2.1-2.3 1.8-0.8 1.2 1.1 3.3 2.1 0.3-3.5 3.7-4.1 2.8-1.3-0.7 0.5 0.5 1.5-5.3 2.0-4.8-0.1-0.6 0.8 0.4M472.4 245.9l2.1 2.1 2.1 2.0-0.5 2.5 0.4 3.1-0.7 1.2-1.2-0.2 0.6 0.9-1.0 1.8-0.9 0.3 0.2 0.1M388.3 218.6l-0.7-0.7 0.1 0.9M387.8 221.0l0.9 2.3 0.4 2.3M394.7 224.4l2.7 1.6 2.3 1.1M400.0 219.0l3.5 1.5 3.7 1.9 0.3-2.0-0.1-2.7 1.5-0.6 0.2-1.1-0.2-1.5 0.4-1.7M413.2 244.5l-1.2-3.0-1.2-3.3M482.1 308.8l2.1-1.7 0.4-2.3 1.1 0.4-1.0-0.9 1.5 3.5 1.2 3.9M448.2 256.9l1.5 0.5 1.3-0.8M428.4 273.4l-0.6 0.1 0.4 0.1M392.5 267.9l0.6-3.0 0.8-0.6 0.3-1.5-1.8 0.2M389.9 294.0l-1.5 1.3-0.6 0.8M476.8 310.0l-1.0 1.4-1.0 1.9 1.8-0.5 1.7 0.5 3.9 1.6 1.9 2.1M495.7 311.0l-0.4 1.9-2.7 0.7-1.7-1.7-1.9-0.8 1.2-1.4 1.4-1.9M443.6 202.7l3.0-1.3 2.9-0.2 0.8 0.6 0.0 0.1M453.7 201.5l0.9 2.2 0.4 1.2M453.0 233.6l2.9 1.3 3.3 1.7M417.3 285.9l-1.7-1.4-1.2-0.6M424.7 203.6l0.8 0.4 1.6-0.4M393.9 271.9l0.8 0.6-0.5-0.2-0.9 2.3-1.0 1.1M379.5 295.3l-1.4-0.5 0.5 0.1 0.3-3.6-0.3-4.1M377.3 286.9l-2.2-2.1-1.4-2.2 4.3-0.4 3.1-0.5M426.8 287.0l4.2-0.2 3.8 0.2M468.8 202.7l1.6 1.0 2.7 1.4-2.3-0.3-2.3 0.9 0.1-1.5-0.7-0.8 0.6-0.9 0.1 0.1 0.5-1.6 0.2-0.3M382.6 308.1l-0.6 0.2-0.8 0.0-3.2-0.9-2.8-0.9 2.4-3.2 2.3-3.2 1.9-0.7-0.5-2.3M479.7 215.2l0.9 0.5-1.0 2.1 1.9-0.1 0.7 0.4 0.1-0.4 0.2-1.2M485.2 221.4l0.3 4.0-1.2 1.6M480.1 227.3l-0.9-0.2-0.3 0.6M425.4 232.9l-2.1-1.9 0.6-1.0M435.3 215.6l-0.1 0.2-0.4-0.2-0.7-1.5-0.7 0.5M436.8 275.6l0.9 1.5 1.8 1.2 0.5-0.8 1.4 1.1 1.5-0.7 0.7-0.0 0.4 0.4-0.3-0.3 2.7 0.2 2.2 1.4M409.0 208.3l-2.8 0.2-2.5 0.6-0.0 1.1-0.8 0.0 1.1 1.1 1.7 1.9 1.8-0.3 1.8-0.1M422.7 212.4l0.5-1.3-0.5 0.9M446.3 216.8l0.5-1.8-0.2 0.9-5.5-1.2-5.0 1.2M446.3 216.8l1.3 2.8 2.4 2.6M461.4 266.0l-0.3 1.4-0.0 1.7M435.5 227.1l0.7 1.8-1.7 0.4M493.7 269.3l0.6 0.6 0.5 1.1M471.5 214.1l-0.1-0.1-0.4-0.3-3.4 1.4-4.4 0.8M379.4 205.8l1.7 1.1 2.3 2.2 1.1-1.1 0.9 1.3M458.0 279.3l1.6-1.8 2.0-1.1 0.7 0.5 1.5 1.3M467.0 276.9l-2.6-0.5-2.4-1.4 0.2 0.0-0.6 1.5M446.6 240.5l1.8 0.6 0.5 1.9M434.9 215.5l-1.8 5.0-2.1 3.2M420.7 201.1l-0.0 0.8-1.2 1.2 0.8 1.4-0.3 0.8M467.5 197.4l0.4 1.4 1.7 2.0 2.9-0.4 2.7-0.1-0.3 0.4 1.1 0.4 0.4 1.8-0.1 1.3 2.1 0.6 1.2 1.2-1.0 2.4-0.9 3.7 0.1 0.5-0.3-0.4-0.5 0.7-0.3 0.4-1.0 0.3-0.1 0.1M422.1 220.4l-0.2-2.4-2.0-1.5 0.8 0.2-0.6-0.6M491.7 193.9l-0.8 0.5-0.9-1.6-0.2-0.7-0.8 0.5-0.2-0.6-1.1 1.5M409.3 289.5l-0.5 0.4-0.8-0.2M406.3 286.7l-1.7-0.6-1.9-1.4-0.7 0.5-0.6-0.0M477.5 212.3l-1.2-4.4-1.6-2.2 0.5 1.9-1.3-0.7-1.0-0.0-0.5 0.8M381.9 211.6l-1.5 0.7-1.1-0.1M482.1 277.8l0.6-0.3-0.6 0.2M437.1 205.9l-2.2 3.4-2.1 3.4M449.6 247.4l0.9 1.2 1.1 1.3 1.2 1.0 1.3 0.9 1.1 1.2 0.5 1.2 1.1 1.2-0.0 1.6 0.3 1.8 0.5 1.2 0.4 1.5 0.5 1.3 0.8 1.0 0.6 1.4 0.5 1.2 0.2 1.4M446.8 213.6l-1.3-0.2-1.5-0.4-1.1-0.7-1.0-1.2-1.2-1.0-1.1-0.7-1.6-0.4-1.6-0.6M459.9 252.8l-1.2 0.0-1.3-0.1-1.6-0.6M463.4 236.1l1.6 0.7 1.1 0.6 1.4 0.6 1.6 0.8 1.5 0.2M445.0 247.3l1.2-0.4 1.3-0.2 1.8 0.1 1.5 0.6 1.4-0.0 1.6-0.4 1.5-0.3 1.2-0.8 0.9-1.5 0.7-1.5 0.5-1.3 0.7-1.4 1.0-1.4 1.3-0.6 0.9-1.0 0.7-1.0 1.0-0.8M444.2 246.5l1.6-0.7 1.3-0.3 1.2-0.5 1.3-1.1 1.6-0.7 0.9-0.9 1.2-0.9 0.8-1.1M452.7 252.5l-0.5 1.7 0.3 1.8 0.4 1.2 0.4 1.3 0.1 1.8-0.7 1.5M449.5 249.4l1.1-1.3 1.2-0.6 1.7-0.2 1.2 0.1 1.5 0.2 1.5 0.1M452.8 252.7l-1.1-1.1-1.3-1.2-0.9-1.0-0.9-1.4-0.5-1.5-0.6-1.5-0.3-1.7-0.8-1.1-0.9-1.2-0.8-1.2-0.9-1.2M384.9 247.1l1.2 1.0 1.0 1.4 1.2 0.8 1.6 0.3 1.5 0.8 1.1 0.5 1.1 0.8 1.3 0.0 1.1 0.7 1.6 0.6 1.3 0.3M500.1 269.3l-0.2-1.7 0.4-1.7 0.1-1.5 0.2-1.7-0.7-1.6-0.9-1.0M472.0 282.6l-1.6-0.6-1.2-0.8-1.4-1.1-1.3-0.5-1.6-0.4M472.3 285.6l-0.1-1.3-0.2-1.7-0.2-1.5-0.7-1.2-1.4-0.2-1.3-0.2-1.4 0.4M467.2 296.5l1.1-0.7 1.5-0.7 1.3-1.2 0.5-1.2 0.3-1.3 0.8-1.4-0.3-1.5-0.3-1.7 0.1-1.2 0.7-1.3M484.9 220.1l-1.7 0.0-1.7-0.4-1.6-0.8-1.7-0.3-1.6-0.8-1.2-0.2-1.0-1.2-0.7-1.2-1.1-0.8-0.9-1.1-1.0-0.9-1.6-0.6-1.5-0.2-1.2 0.5M398.9 238.9l0.0-1.5 0.1-1.5-0.2-1.2-1.4-0.4-1.7 0.0M404.2 290.2l-1.3-0.2-1.3 0.2-1.2-0.2M409.9 298.0l-1.0-1.5-0.8-1.5-0.8-1.3-0.5-1.3-1.1-1.1-1.4-1.0M397.5 245.1l0.8 1.1 1.0 1.0 1.2 0.9 1.4 0.8 1.1 0.6 1.2 1.0 1.5 0.7 1.7 0.1 1.5 0.3 1.3 0.4M481.0 255.9l-0.0-1.5 0.4-1.6 0.0-1.6M480.3 280.0l0.3-1.6 0.3-1.3-0.3-1.6-0.3-1.2-0.1-1.3-0.0-1.4 0.0-1.8 0.7-1.4 0.4-1.6 0.3-1.7-0.3-1.7-1.2-1.3-0.2-1.7 0.3-1.2 0.4-1.6 0.3-1.7M451.0 232.4l1.2 1.1 0.7 1.1 0.9 1.0 0.5 1.6-0.4 1.4M387.6 278.7l-0.5 1.7 0.1 1.3 0.4 1.5 1.2 0.7 1.3 0.4 1.2 0.6 0.6 1.3 0.3 1.5 0.5 1.1-0.2 1.6 0.4 1.2-1.0 1.3-0.9 1.0-1.1 0.9M429.1 273.1l-1.7-0.5-1.5-0.5-1.6-0.0-1.7 0.3-1.8-0.1-1.7-0.5-1.4-0.7-0.8-1.2M398.4 303.9l-1.1 0.7-1.3 0.9-0.8 1.0-1.1 0.6-1.2 0.8-1.0 0.8M393.4 297.4l1.3 0.0 1.5 0.9 1.3 1.2 0.4 1.8 0.6 1.1-0.1 1.6 0.9 1.4M413.2 252.6l0.9-1.0 1.1-1.0 0.9-1.0 1.1-0.9 1.1-1.1 1.0-0.9 1.4-0.4 1.3-0.9 1.5-0.8 1.3-0.6 1.2-0.8 1.0-0.8 1.7-0.6 1.6-0.4 1.4-0.8 1.2-1.0M406.9 238.1l-1.3 0.3-1.2-0.5-1.6-0.1-1.5 0.2-1.3 0.1M420.9 224.7l-0.8 1.1-1.1 0.9-1.6 0.6-1.2 1.2-1.2 1.2-1.1 0.8-0.9 1.0-1.2 1.3-1.0 1.4-1.1 1.2-1.2 0.5-1.3 0.7-1.5 0.2M467.8 263.6l1.2 0.8 1.4 0.5 1.4 0.1M466.5 264.2l1.3-0.7 1.5-0.7 1.2-1.1 1.4-0.7 1.4-0.9 1.4-0.5M423.3 268.2l-1.3-1.0-1.4-1.0-1.4-0.6-1.5-0.4-1.4-1.1-1.3-1.2M423.8 264.1l-1.5-0.4-1.3-0.0-1.6-0.4M432.9 257.5l1.7 0.2 1.2 0.4 1.2-0.1 1.5-0.4M428.7 259.1l1.7 0.4 1.4-0.8 1.1-1.3 0.8-1.6 0.6-1.3 1.0-1.2 1.4-0.7M431.9 258.6l0.6-1.6 0.7-1.1 0.9-1.5M454.9 216.0l0.4-1.5 0.5-1.7 0.5-1.2 0.9-1.3M458.6 216.2l-1.3-0.4-1.3-0.2-1.3-0.6-1.1-0.9-1.3-0.3-0.7-1.4-0.3-1.4-0.4-1.4M414.8 223.0l-1.3-0.1-1.6-0.5-1.0-0.9M411.9 229.8l0.4 1.7 0.2 1.3 0.3 1.3M435.7 299.9l1.5-0.8 1.2-0.6 0.5-1.2 0.9-1.6-0.2-1.5M474.0 250.5l-1.2 0.2-1.5-0.2-1.5 0.2-1.7-0.4M471.3 256.6l1.1-0.6 1.2-0.7 0.8-1.4 0.4-1.5 0.2-1.6 0.1-1.4-0.1-1.2-0.3-1.5-0.1-1.7 0.5-1.6 0.8-1.1 1.0-1.3M477.5 232.9l0.3 1.4 0.6 1.4 1.0 1.5 0.8 1.4M480.4 231.3l-1.4 0.7-1.5 0.9-1.2 0.8-1.4 0.3-1.2 0.4-1.3 0.8-1.2-0.1-1.6 0.4M393.9 225.9l1.1-1.2 1.5-0.9 1.1-0.8 1.2-1.1 1.5-0.2 1.6-0.4 1.6 0.1M458.7 274.0l0.8-1.3 0.6-1.1 0.1-1.6 0.1-1.6-0.5-1.5M466.2 278.9l0.8-1.3 1.0-1.3 0.9-1.0 1.2-0.6 1.2-1.1 1.2-0.9 1.2-0.8M453.0 275.6l1.2-0.8 1.4-0.5 1.5-0.8 1.5-0.2 1.5 0.3 1.4-0.0 1.3 0.2 1.5 0.4 1.5-0.4 1.6-0.2 1.2-0.7 1.2-1.2 1.0-1.2M473.8 285.0l-1.6 0.3-1.4 0.2-1.4 0.8-1.3 0.4-1.3 0.4-1.3 0.5M478.0 288.9l-1.4-1.0-1.0-0.9-0.9-1.0-0.9-1.1-0.5-1.3-0.1-1.3-0.4-1.7-0.3-1.6-0.7-1.2-0.3-1.5-0.2-1.5M435.3 216.2l-1.7-0.4-1.6-0.9-0.9-1.4-0.4-1.5-0.7-1.4-0.7-1.4-0.1-1.8M419.0 244.1l-0.7-1.4-0.6-1.5-0.1-1.4-0.4-1.2-0.5-1.7-0.5-1.2M427.9 282.2l0.8 1.5 0.9 1.0 1.6 0.3 1.3-0.3 1.4-0.8 1.2-0.7M433.9 275.2l-0.8 1.4-1.1 1.1-1.0 0.7-1.1 1.2-1.2 1.2-0.7 1.3-0.8 0.9-1.1 1.2-1.2 1.1-1.4 0.8-1.4 1.1-1.6 0.6-1.6 0.7-0.9 0.9-1.4 0.2-1.5 0.3-1.6 0.3" stroke="#a52828" stroke-width="1.1"/>
<path d="M439.6 205.1l-0.8-1.9 0.1-0.9-1.4-1.5-0.9 0.1-0.0-3.5-0.1-0.9-0.2-0.2-2.4-0.6M463.2 218.1l0.3 0.4 1.5 1.3 0.4 1.1-0.1-0.9-0.6 2.8-0.5 1.6-1.2 0.7-3.6 0.6M439.1 223.2l1.3 0.6 0.7 2.1 2.6 0.3 1.6-1.1 0.2 0.9 0.0-0.0-0.4 1.8-1.8 1.0 0.5-0.4 0.2 0.6 2.5-1.1 0.6-0.7-1.0 0.1-0.5-1.3M400.5 252.4l0.5 1.7-1.6 2.4 0.8-0.3 1.4-0.4 0.3-2.3-0.3-1.4 1.8-0.8 0.3-0.6 0.4-0.3 1.2 0.9 1.6-2.6 2.8-1.8 0.4-0.2-0.3-0.3 2.0-0.9 1.3-0.9M414.1 309.5l2.4 1.2 1.8-1.4 0.5-0.4 1.5-0.9-1.2-0.1 1.0-0.4 0.4-0.0-0.4-0.0M409.3 212.8l0.4 0.7 0.1-1.4 1.4-0.7-0.1 1.1 2.2-1.2 2.1-0.7 0.1 0.9-0.1 1.3-0.1 1.2-1.2 1.0-0.2 0.1-0.5-0.1-1.2-1.6-1.0-0.9M411.0 316.4l-2.8-4.1-1.9-4.3-1.1 0.1-0.9 2.2 0.4 1.0-0.6 0.7-3.0 4.4-2.2 4.8M427.4 248.0l-3.7 1.0-3.2 1.5-0.4 0.4 0.2 0.4 0.4 2.0 0.9 1.5-4.9 1.6-2.9 2.9 0.3 1.7-0.5 1.7M418.2 285.7l1.1-0.9-0.0 0.1 3.1 0.8 3.8-1.1-0.8 0.2 0.8 0.1 4.4 1.5 4.4-0.1 0.9-0.1-1.2 0.9-0.7 2.4-0.3 2.4-0.6 0.8 0.0-0.5-1.1-1.4-2.1 0.5-1.9 1.4-0.9 0.6M478.5 304.6l-0.3-1.2-0.7-0.3-0.5-2.0-0.0-0.8-1.2-0.2-0.1-1.8-0.4-1.3-0.4-0.6 2.9-1.6 2.1-1.1 0.6-0.9-0.1-0.8 1.6-1.1 1.2-0.1 1.0 0.7 0.7 0.3 2.7-0.9 1.8-2.0M420.8 233.8l-0.3 0.7 0.9 0.9 0.5-0.3 1.0 0.4 0.4 1.7-1.0 2.6-0.1 0.5-0.7 0.1 0.0-2.2-0.4-2.4 1.2-0.6-0.8 0.3M420.8 233.8l1.5-0.8 1.7 1.0 1.2-0.6 0.0-0.2 0.9 1.7 0.1 1.5-0.3 0.8-1.8 2.1M387.1 276.1l-1.3-0.7-1.5-1.0-0.3-1.8 1.3-1.2 1.3-0.5 2.9 1.5M430.4 230.4l-1.3-3.5-0.8-2.1-1.0-0.6 0.5 0.6-0.0 0.7-3.1 0.8-1.4-2.1-2.1-1.1 0.7-1.8 0.1-0.9 0.6 0.7 0.3-0.7 1.5 0.0 1.1-1.6 0.2 0.4 0.8 0.1 0.7 3.4 0.4 1.5 1.2 0.1-0.9 0.5M384.8 269.8l-0.2-1.0-0.6-0.2-0.3-0.2-0.6-0.3M394.0 279.5l-0.0 1.0-0.2 1.0-1.2 0.5 0.0-0.2-1.7-0.1-1.4 0.2-0.0-0.9-1.5 0.1-0.7-1.0-0.0-0.9M437.9 250.6l-2.2-2.1-0.8-2.1-0.2 0.6 0.6-1.6-1.1-2.0-1.8-1.0M482.1 277.7l1.0-2.2 0.5-1.8-1.5 0.1-0.1-1.7-0.3-1.8 0.7-1.4-0.6-2.1-0.8 0.4-1.3-0.2-1.6 0.8 0.6-0.7-1.0 0.1-3.3-0.5-2.8 0.2 0.2 0.6-0.5 2.2M469.2 290.8l-2.1-0.1-2.2-2.1 4.3-0.9 1.9-0.4-0.9 1.2 1.4-0.7M446.6 215.8l0.8-1.3 0.7-2.0 2.7 3.6 2.8 4.6 1.3-1.4 1.2-1.0-0.0-1.5-0.3-0.9 3.0-0.2 4.2-0.4M460.6 207.3l0.4-1.6 0.8 0.3 0.5 0.5 0.3-0.0 0.2 0.9 1.3 1.2 1.1 0.1 2.1-0.6 1.5 1.2 1.1 1.0-0.5 1.3 0.9 0.9-2.9-0.6-3.7-0.7 0.6-1.5-0.3-1.2M421.4 193.0l-0.0 0.3-0.1-1.2-4.7 1.3-3.5 1.3M412.1 193.9l-0.6-0.2 0.5-0.1M431.5 200.9l0.2 1.1 0.1-0.0M426.5 286.5l-0.4-1.0 0.2-0.6M419.3 284.9l0.1-1.2 0.3-0.6 2.6-1.1 3.1-2.0-0.3-0.9 0.1 0.7M399.6 306.0l-1.6-1.3-1.9-1.5-0.5-0.7 0.4 0.2-2.3 0.5-1.7 0.8-0.3-0.6-1.6-2.1-0.8-0.2-1.7-0.4M444.9 291.4l0.7 1.5 1.1 0.3 0.6 0.8-0.7 0.2-0.1 1.4-1.0-0.1-2.0-0.3-0.9-0.7 0.6 0.3-0.7 1.9 1.7 0.1 1.5 1.8-0.4 0.3 0.7 0.8M438.6 293.7l0.7-0.4 1.1-0.6 1.4-1.2-0.6-0.0-2.3-2.1-1.2-2.0 3.1 0.4 1.4-0.9-0.2 0.8 0.4-1.4M467.3 276.9l1.7-1.4-0.2-1.2 0.8 0.1 0.8-0.9-0.4-0.9 0.2-0.8 0.9-1.5-0.0-0.4M471.4 267.1l-0.1-1.4-0.6-0.6 3.2-0.8 3.2-0.4 0.4 2.2 0.0 1.2M489.4 288.6l1.0-1.5 0.7-2.2 0.2 0.3-0.6-1.2-0.1-0.3 0.5-1.0 1.0-0.7 1.6-0.3 2.2 0.4 3.0 1.6-1.1 1.1-0.6 1.4-0.1-0.0 0.0 0.9 3.0 2.3 2.3 1.3-1.0 0.6-1.2-0.4-0.5 1.0-0.4 0.6M494.1 219.1l1.2 0.3 0.5 0.1 2.1-1.2 1.5-0.5-2.2-1.2-2.6-1.9-0.0-0.8-0.8 0.8-0.1-0.2-0.7-0.8-0.6-0.5-2.1 0.6-1.5-4.0-0.3-3.0 0.7 0.2 0.2-1.3 1.0-0.7-1.6-0.5-0.5-0.7-1.6-0.8-1.9-1.8 0.2-2.5M380.0 258.0l2.6 0.3 1.6 1.3M456.3 239.4l-1.6-0.4 0.1 0.9M450.4 238.6l-1.4 0.2-1.4 0.1-0.3 0.6-0.7 1.0-1.9 0.8-1.4-0.5M467.2 236.5l-0.4 0.7-0.4-0.1 0.9 2.2 0.7 1.9M467.9 241.2l1.7 1.8 2.7 2.9-0.8 0.2 0.8-0.1-2.6 2.5-1.5 1.1M440.9 298.8l-0.0 0.1-0.7-0.0-0.9-2.4-0.7-2.8M426.5 283.9l0.3-0.1-0.5 0.8M416.4 219.9l1.2-0.5 0.1-1.6-1.9-1.7-1.7-1.1M465.4 220.1l2.7-1.6 2.5-0.7 0.3-2.1 0.6-1.6M387.2 227.0l-0.8 0.2-0.3-1.1M482.2 218.1l0.1 1.1 1.7 2.0 1.1-0.6 0.1 0.9-0.9-0.2 2.3-0.6 0.0-1.8 0.4-2.0-2.2-0.1-2.4-0.3-0.4-0.3-0.2-1.0M427.6 200.9l-1.5-0.5-1.7-0.7 0.5-0.4-0.5-0.9M447.3 267.0l0.3-2.1-0.1-0.8 2.7-0.7 2.4-0.3 0.9-2.4 1.2-2.0-0.5-1.0 0.3-0.2 2.2-1.2 2.3 0.0 0.6-3.1 0.8-1.7-2.1-1.2-2.3 0.7-1.6 3.7 0.1 2.8M451.0 256.5l0.1-4.2 0.2-3.6-1.9-0.3 0.2 0.8-2.3-1.0-2.1-1.1-0.7 0.3-0.3-0.3 1.2 2.6 1.0 2.6 2.0-1.8 1.2-1.3M492.5 197.0l2.3-0.7 2.4-0.4 0.5 0.9-0.2 0.5M481.8 215.2l-1.0 0.7 0.8-0.8 0.4-0.4-0.1-0.5 0.8-1.4 1.4-0.1M434.5 234.1l-0.3 0.5-0.9 0.4M459.9 269.4l-0.5-1.6-1.3-2.0-0.2 0.7-2.7 0.8-0.0 1.6 0.1 3.0 0.9-0.1-0.8 0.1M403.2 294.7l0.2-2.8-1.1-1.8 1.1-0.1 2.3-0.2M461.2 257.0l0.3 2.7-1.2 3.7 2.0-0.6 2.2-0.5 0.2-1.9-1.1-2.1-0.3-0.5-1.5-0.8-0.3 0.1 0.5-0.5M444.0 246.9l0.0 0.8 0.3-0.7M446.5 252.2l-0.6 1.3 0.2 0.0M413.7 262.7l4.7 0.6 2.9-0.7 0.3-0.4 0.2-0.8 0.5-3.6-0.4-3.0M480.0 308.7l0.5 0.5 1.6-0.3 0.3 0.1 0.9 0.2-0.1 3.3 1.3 1.9-2.2-1.6-1.6-2.2-0.4-1.0-0.2-0.8-1.1-1.0-0.9-2.1 0.2-0.7 0.2-0.4M399.0 300.4l0.1 1.1-0.6-1.2-0.9-2.7 0.0-1.3M459.3 236.8l0.2 0.8-0.4-0.5 1.2 2.2 0.9 2.5 1.2 1.1 0.3-0.1 0.5 0.2-0.1-0.8 2.4-0.4 2.4-0.8M451.3 305.2l-0.9-2.7-1.8-2.8M446.7 299.9l-0.4-0.4-0.2 0.2-0.5-0.2 0.5 0.2-2.9-1.3-2.4 0.4M480.6 198.2l-2.6-2.0-2.4-3.4-0.9 3.4 0.1 3.3-3.3-2.2-2.3-2.9-1.2 1.0-0.6 1.9M489.2 264.1l-0.4 0.7 0.1 1.1 2.7 0.6 2.2 1.4 0.5 0.6-0.5 0.5-0.4-0.6 0.5 0.7-2.3 2.1-2.8 2.5 0.3 0.7 1.1 1.4-0.2 0.1-0.0 0.2 1.6 2.9-0.5 3.6M397.6 248.9l-1.2 1.0-1.0 0.4M399.4 256.4l-0.4 1.7-0.8-0.7 0.3-0.0-0.3-0.0M411.2 304.6l-1.0-2.1 0.5-2.1M377.2 221.0l1.2 1.9 2.6 1.4 0.4-0.1 0.8-0.2 2.5-2.1 0.7-3.1 1.1-0.9 1.1 1.0M453.1 194.9l0.5-0.1 0.9-1.6M453.8 198.6l-0.8 0.7 0.4 2.1-1.5-0.2-1.6 0.7-1.3 3.4-2.3 4.8 2.6-1.8 3.6-1.4M426.0 268.2l-1.0 0.3 0.3-0.3-2.5-2.4-1.3-1.7-1.7 2.3-0.3 2.0 0.2-1.0-0.5 0.9M407.6 284.0l-0.7 0.3-0.6 2.3 0.1 1.2 1.6 1.8 0.4 0.4-1.4 0.4M396.4 235.4l3.0 1.9 2.6 2.7-0.4 0.7-0.7 1.9-1.4 0.7-1.1-0.6M441.2 291.5l-0.6-0.3 1.3-0.3 1.5 1.2 1.6-0.7 1.5-1.6 1.2-1.4M458.7 306.3l0.8 1.5 1.2 1.5 0.8 0.8-0.5-0.6 1.3 1.4-0.4 0.8M422.9 235.5l0.9-0.5 0.3-1.0M422.7 296.0l0.5-0.2 1.9 0.7M428.4 224.9l1.1-0.7 1.5-0.3M459.9 304.8l-0.3-0.9 2.4-0.3-0.1-0.7 0.2-1.2M415.9 206.8l2.0-1.1 2.0-0.4 0.3 0.8 1.1 0.1M423.5 201.1l0.2-1.5 0.7 0.2M430.0 296.9l-3.0 0.7-1.8-0.8-0.1 1.1 0.1-0.9-0.5 0.2-0.7 1.5-1.6 0.9-2.3 1.2-0.9-0.5 0.8 0.6-0.3-0.3 0.3 0.3 0.8 1.8 0.7 1.0 1.0-0.2 0.8 0.8M430.0 302.4l-0.8 0.7-1.4 0.8M396.1 303.2l-0.4 0.3-0.6 2.2-1.3-0.2-1.3 0.3 0.0 1.5-0.0 0.8 1.4-0.2 1.2 0.7 0.5 0.4 0.3 0.7-0.3 0.6 1.0-0.9M488.2 251.2l0.6-1.3 2.7-1.5 1.6 0.9 1.1 0.1M495.6 254.5l-0.4 0.0 0.5 0.8-0.5-0.2 0.3 1.3-1.2 0.7-0.2 1.5 0.1 1.2 0.2 1.2M440.2 234.2l-0.3 0.3 1.0 1.0M451.2 306.3l1.5 0.7-0.1 2.7M472.3 207.7l-0.7 1.0-1.7 1.7M485.1 227.8l-0.0 0.7 0.5 0.5 1.3 0.0 1.7 0.5 2.6-1.4 2.1-2.5M491.6 232.9l0.5 0.5-1.0 1.0M445.3 225.1l0.0-0.2 0.6-1.4-1.5-1.6-1.6-1.5-1.3 0.3-1.7 0.4M461.2 241.9l-1.8-0.4-1.2 0.9-0.6-0.7-1.3-2.2M378.9 215.2l0.4 0.5 0.4 0.6M383.7 225.3l-0.8-0.7-0.7-0.8M448.5 223.5l-1.5 0.2-1.1-0.1M389.6 281.9l-1.0 0.9-0.9 2.2 0.5-0.1-1.0-0.1M493.4 322.1l1.7-3.9 2.4-4.9-0.8-1.0-0.8-1.3 0.4 0.6-0.6-0.6-1.0-1.8-3.3-1.4-0.3-0.6 0.4-1.5M401.1 288.0l-1.2 1.2-1.9 2.0M376.8 264.2l0.4 3.4-0.4 3.1-0.0 0.7 1.1-0.2 0.0 3.7-0.5 1.7 2.3 1.6 1.6 0.8M494.3 275.7l0.1-2.0 0.4-2.7 2.7-0.9 2.2 0.6-0.8-1.4-0.5-1.2-1.7-0.6-2.8 0.2 0.7-0.4-0.9 0.6M385.8 231.9l-0.2 1.6-0.2 1.3 2.2 0.1 1.1-0.2-0.3-0.0 0.8 0.6M434.7 267.7l1.4 0.4 1.6-0.3 0.3 3.5 0.1 3.0-1.1 0.1-0.2 1.2-0.3-0.4 0.3 0.4-0.3 0.8-0.4-0.5M456.3 210.4l-0.2 0.6-0.6-0.5-0.1-2.7 0.4-1.8 3.2-0.4 2.8 0.4M471.5 302.0l-2.3-2.2-1.2-2.0 0.6 0.4-0.0-0.6M471.6 287.7l0.9-0.6 1.2 0.4M464.9 288.6l2.6 1.5 1.0 1.3M467.4 293.1l-0.5 3.1 0.9 1.7-3.1-2.3-2.4-0.7-1.7 0.8-1.5 1.3-0.1 1.3-0.7 1.0M460.3 263.4l-0.9 0.1 0.4 0.2M461.4 266.0l1.3 2.1 1.4 0.1 0.2 0.2-1.1 0.6M427.7 268.2l0.3 1.1 1.6 1.2-0.4 1.6-0.8 1.3 1.3 2.6 3.2 1.8-2.3-0.2-2.2 1.1M399.4 218.2l-2.2 0.7-0.9 0.2M464.1 313.4l1.3-3.0 1.8-3.4 1.5-0.3-0.2 0.0-0.4 1.0 2.4-0.6 0.5 0.4 0.3 0.4 2.9-0.9 3.1-0.7 0.3-0.1 0.4-0.5M447.6 198.7l1.2 0.6-1.0-0.5 1.1-2.2 1.0-2.1M444.2 190.9l1.5 4.8 1.9 3.0M392.3 291.4l0.1-0.8-1.6 1.4M456.3 239.4l-0.0-0.8 0.5 0.3-2.4-2.6-1.4-2.7M402.7 234.9l0.9 1.2 1.8 0.5-1.6 1.2-1.8 2.3M400.9 242.5l0.3 1.0 0.8 0.6M453.1 194.9l0.7 1.9-0.0 1.8M459.3 236.8l1.3-0.6 2.4-0.1M393.3 204.7l-1.1 0.4-0.2-0.6-1.3 0.2 0.8-0.4-0.8 0.5-0.4-0.1-0.7-0.7-1.2 0.3-2.5 0.6-1.6 1.2M380.7 204.6l0.9 0.4-0.8-0.7 2.1-2.0 2.3-1.0M478.5 304.6l2.4-0.5 2.2-0.5 0.2 0.6 1.4-0.2 2.4-0.3 1.4-1.0M480.8 235.7l2.5-1.2 1.8-2.5M485.1 227.8l-0.2-0.0-0.6-0.7-2.4 0.5-1.8-0.3M386.1 228.3l-0.3 0.0-0.4 0.5M494.3 275.7l0.0 0.6 0.4-0.3-1.0 2.8-0.2 2.9M462.7 214.4l-4.6-0.7-3.4-0.4-0.3-0.8-0.5-0.1M431.6 240.4l-0.1 0.2-0.1-0.6M428.6 241.7l-0.5 1.5-0.8 1.7-3.7-0.6-3.8 0.1M400.0 214.4l-0.3 1.4 0.3 0.7-0.0 0.1-0.0 0.1M462.2 301.7l1.3-0.7 1.9-0.7M423.0 210.8l-0.0 1.5-0.4-0.3M492.5 224.5l-0.6-0.9 0.1-0.8 2.2-1.7 0.0-2.1M470.8 259.2l-0.3 0.6-0.4-0.4-0.5-1.5-0.9-0.7-0.0 0.9-0.7-0.1M451.6 296.1l1.2-1.2-0.3-1.7M423.2 305.2l0.1 1.2 0.5 1.0-0.3 0.2 0.8 0.6M470.3 212.6l0.4 0.3 0.2 0.7M428.2 218.6l-0.9-0.7-0.3 1.0 0.0-0.4-0.4 0.7M489.9 276.2l-1.3 1.4-3.6 2.0M477.1 300.4l2.3-2.4 2.1-0.9-0.3-0.7-1.2-2.7M460.7 267.8l1.3 0.2 1.5-0.1 1.3 0.2 1.3 0.4M460.3 254.3l0.6-1.2 0.5-1.2 0.4-1.3 0.2-1.2 0.2-1.4 0.1-1.3-0.6-1.7M459.1 260.2l0.0-1.6 1.1-1.4 0.3-1.6-0.2-1.3-0.4-1.5-0.1-1.7-0.1-1.4 0.4-1.2 0.2-1.2-0.5-1.6-0.4-1.3-0.6-1.2-1.1-1.1-0.4-1.3 0.3-1.6 0.8-1.4M447.1 245.5l0.3 1.6 0.3 1.7 0.1 1.4-0.1 1.7-0.6 1.5-1.0 1.0M454.2 240.2l1.7 0.4 1.7-0.1 1.3 0.0 1.8-0.0M421.8 277.8l-1.7-0.4-1.3 0.1-1.7 0.3-1.3 0.6-1.6 0.3-1.3-0.2-1.7-0.6-1.4-0.8-1.2-0.6-1.2-1.2-1.0-1.3-0.9-1.2M389.9 304.2l1.1 1.0 0.6 1.6 0.5 1.6 1.0 1.0 1.4 1.0M384.6 310.6l1.2 1.3 1.0 0.9 1.1 1.3 0.7 1.3 1.2 0.7 1.4 0.7M392.1 296.1l0.4 1.7 0.4 1.4-0.4 1.2-0.7 1.2-0.7 1.4-1.3 1.1-1.1 1.0M494.0 274.7l1.6 0.4 1.2 0.8 1.0 1.1 0.4 1.5 0.5 1.5 0.7 1.2M495.2 267.2l-0.4-1.7-0.6-1.6-0.6-1.2-0.3-1.6M498.9 270.5l-1.2-1.1-1.4-1.1-1.1-1.0M490.1 276.8l1.7-0.3 0.9-0.8 1.2-1.0 1.3-1.2 0.9-1.4 1.3-0.8 1.3-0.9 1.2-1.2 1.1-1.2 1.1-1.1 0.6-1.2M415.1 240.2l-1.2-1.1-1.1-1.1-0.9-1.3-0.3-1.6-0.3-1.5-0.2-1.6M422.7 246.0l-1.7-0.5-1.4 0.5-1.4 0.4-1.4 0.5-1.6 0.2-1.4 1.0-1.0 0.7-0.8 1.0-0.8 0.9M471.1 294.0l0.9 0.8 1.1 0.8 1.4-0.2 1.3-0.2 1.5-0.5 1.0-0.7 1.5-0.8M399.9 284.5l-1.3 0.5-1.4 1.1-1.2 1.3-0.9 0.9-1.1 0.5-1.6 0.8-1.2 1.2M397.3 234.3l-1.2-1.1-1.2-1.2-0.6-1.1M393.3 279.4l-1.3 1.2-1.2 1.1-0.8 1.4-0.5 1.1-0.6 1.4-0.1 1.2 0.3 1.5 0.3 1.3 0.4 1.7 0.7 1.5 0.6 1.0 1.1 1.2 0.2 1.5 0.2 1.5-0.4 1.6-0.0 1.4 0.5 1.5M481.4 280.8l1.2-0.5 1.1-0.8 1.3-0.7M432.2 283.9l-1.4-0.2-1.3 0.4-1.1 0.4-1.2 0.5-1.2-0.0-1.1-0.8-1.6-0.6M448.5 221.8l0.1 1.4-0.5 1.6-1.0 1.3-1.0 1.0-1.4 0.9-1.5 0.7-1.2 0.6-1.2 0.6-1.3 0.9-1.5 0.6-1.1 0.6-1.7 0.6-1.1 1.0-0.2 1.5M467.1 206.0l-1.2 1.0-1.1 0.5-1.5 0.6-1.3 0.9-1.1 0.7-1.5 0.4-1.3 1.0-1.1 1.0-0.8 1.0-0.7 1.1-1.2 1.1-1.0 1.0-0.7 1.3-0.4 1.3-0.8 1.4-0.8 0.9-1.3 0.9M443.0 203.7l-0.9-0.9-1.0-0.9-1.4-0.9-1.2-1.2-1.4-1.0-1.3-0.8-1.4-0.4-1.0-0.8-1.3-1.0-0.9-1.2M489.7 246.0l1.4 0.5 1.1 1.1 0.5 1.2 0.6 1.5 0.5 1.6 1.0 1.0 0.9 1.2 0.9 1.2M408.5 235.9l-0.7-1.0-1.3-1.1-1.1-1.2-1.2-1.3-1.0-1.0-0.5-1.3-0.1-1.2M467.1 252.0l0.3-1.5-0.3-1.2-0.5-1.3 0.1-1.8M471.9 261.1l-0.4-1.6-0.2-1.3-0.4-1.2-0.4-1.6-0.9-1.1-1.1-1.4-1.5-1.0M419.4 263.3l-1.0-1.1-1.4-0.9-1.4-1.0-1.2-0.6-0.9-1.0-0.9-0.9M457.0 221.9l1.5-0.4 1.1-0.6 1.0-0.9 1.1-1.2M459.1 231.8l-0.9-1.5-1.1-1.4-0.5-1.3-0.2-1.6 0.2-1.3 0.1-1.7 0.4-1.2 0.9-1.4 0.5-1.7 0.4-1.4-0.2-1.3M413.7 225.6l1.3 0.3 1.6 0.4 1.6 0.3 1.7 0.6 1.4-0.2M415.2 221.7l-0.4 1.3-0.5 1.5-0.7 1.1-0.4 1.5-0.9 1.3-0.4 1.4M434.3 299.5l1.4 0.4 1.2 0.8 1.5 0.5M474.4 253.9l-0.3-1.6-0.1-1.7 0.1-1.4M490.2 225.9l0.8 1.0 0.5 1.2 0.9 1.4 1.1 1.3 0.6 1.7M411.7 242.9l-1.6-0.1-1.3 0.3-1.4-0.0-1.3-0.6-1.3-0.4-1.5-0.9-0.7-1.2-1.1-1.1-0.9-1.3-0.9-1.4 0.0-1.6-0.3-1.3-0.6-1.2-0.6-1.1-1.0-0.9-1.1-1.0-1.6-0.6M392.9 267.4l-1.5-0.3-1.4-0.5-0.7-1.3-0.5-1.6-0.1-1.4 0.4-1.4 1.1-1.4 1.7-0.4 1.6-0.6 1.2 0.0 1.5-0.1 1.6-0.7 1.4-0.5 1.5-0.8 1.7-0.2 1.6 0.2 1.3 0.1M452.2 249.3l-1.4 0.5-1.7-0.1-1.3 0.2-1.7-0.5-1.4-0.7-1.2-0.7-1.3-0.2-1.4-1.1M457.1 273.4l1.6 0.5 1.3 0.6 1.6 0.7 1.3 0.9 1.4 0.8 1.1 1.0 0.9 1.0M471.5 276.3l1.0-1.0 1.3-1.2 0.8-1.6M432.5 284.6l1.2 0.8 1.3 0.1 1.7-0.3 1.3-0.0" stroke="#cc3838" stroke-width="1.1"/>
<path d="M426.7 221.7l-0.5-0.5M446.4 303.0l-1.1 0.7M459.4 227.3l-0.9-0.8M457.0 236.6l-1.5 0.5M389.0 248.1l1.3 0.9M450.4 221.0l0.5 0.7M433.4 256.4l-1.0 0.5M485.5 292.7l-2.0-0.1M417.0 303.7l1.0-0.5M415.8 214.2l1.0-1.1M413.1 294.2l-1.7 1.3M397.2 246.0l0.9-2.0M443.4 255.2l0.9-1.5M414.8 224.7l-1.9-0.6M465.6 265.4l0.2 2.1M399.3 282.4l-1.2-1.8M440.8 273.7l-0.6-0.6M409.1 303.6l1.6 0.8M384.8 291.0l-0.9 0.2M449.3 221.7l1.0-1.5M439.5 272.3l-1.7-0.5M484.7 268.9l1.0-0.6M390.0 281.7l-2.1 0.3M449.0 258.7l-2.2 0.3M460.0 277.6l0.7 0.2M450.9 240.7l1.0-1.3M398.1 245.9l1.1 1.1M396.8 221.9l-1.3-0.0M389.2 293.5l-0.1 1.3M443.6 260.1l1.1 0.6M408.0 250.8l1.1 0.9M480.7 230.0l0.3 0.9M461.2 203.4l-1.1 0.8M422.6 200.3l0.9 0.0M469.7 244.4l-0.2-1.1M485.7 216.2l1.2 1.4M415.0 232.0l-0.3 1.2M490.7 298.1l-0.2 1.1M394.6 237.9l-1.1-0.5M457.4 200.7l-0.5 1.8M423.0 229.4l-0.6 1.1M461.4 213.2l1.0-0.4M458.8 255.2l1.2-0.3M430.4 270.4l0.6-0.4M475.0 259.0l1.7-1.2M460.1 220.2l-2.2 0.1M426.1 299.9l0.6 0.5M426.5 297.0l-0.4-1.1M391.8 258.7l1.3-0.4M475.3 273.4l0.3-1.3M439.5 280.1l0.7-1.8M448.4 223.4l-0.8-0.4M429.7 304.1l0.8-1.6M438.2 294.2l-0.7-0.1M456.2 281.4l0.1 0.8M418.6 225.0l-1.5-1.0M477.3 206.5l-1.3 0.0M423.2 233.3l-1.3 1.3M466.0 211.5l-0.6-0.5M462.4 234.7l-0.8-1.8M462.8 234.9l-0.5-0.9M478.2 301.1l-2.1-0.6M460.1 265.6l1.9 0.5M471.9 201.2l-1.2-0.2M428.8 206.9l-0.7 1.0M481.1 274.0l1.1 1.8M428.9 301.9l0.5-0.9M405.1 208.0l0.7-1.6M433.1 243.7l-1.3-0.3M412.8 298.3l2.1 0.5M387.7 205.5l1.9-0.2M426.2 212.0l0.2 0.8M450.0 280.5l-0.3-0.6M397.3 246.8l-1.0-0.1M478.6 255.6l0.5 1.5M464.9 231.0l0.5-0.5M413.6 240.6l-0.7 0.2M460.6 287.9l-0.6 0.1M471.6 275.5l-0.3 0.6M488.1 210.8l2.1 0.2M476.6 296.6l-1.0 0.0M454.4 228.9l0.6 0.6M431.5 266.5l-1.0 0.3M463.0 274.7l-0.1-1.6M394.8 269.0l0.8-0.1M469.5 225.8l-1.1-0.1M401.5 227.5l0.5 0.9M483.3 299.0l-0.4-0.9M454.8 285.2l-0.6-0.8M442.5 231.0l-1.0 0.9M387.1 267.9l-0.4-1.0M425.8 208.3l1.1-1.6M437.6 283.0l-1.2 0.6M399.1 270.9l1.5-0.2M484.2 253.4l-1.6-0.5M438.0 208.0l-0.6 1.3M426.2 268.3l-0.3-1.0M384.7 268.0l1.8 1.1M423.0 251.3l0.3-1.1M416.3 266.7l-1.2-0.0M490.1 270.0l0.2 1.6M439.9 277.9l0.1 1.1M462.5 252.0l-1.0 0.3M385.3 298.1l0.7-1.9M463.7 213.5l0.1 1.0M461.9 297.5l-0.6 0.3M463.8 278.5l-0.6-0.2M439.1 211.2l0.1 0.9M446.8 248.0l0.1 0.9M423.0 207.3l1.6-1.4M490.1 218.1l-0.4-1.7M443.2 219.6l-0.8 0.2M420.7 219.9l-1.9 1.0M440.1 221.3l-0.1-1.1M476.7 217.6l0.8-0.7M401.7 283.6l0.3-1.1M440.7 203.7l0.7-1.3M489.8 303.1l-1.2 0.4M488.3 276.7l0.7-1.6M423.7 241.7l0.3-1.8M384.6 220.1l0.5-1.2M463.0 288.9l-1.1-0.5M447.6 205.1l1.0 0.0M417.1 218.9l1.1 0.7M408.0 204.4l1.3 1.2M489.1 295.7l0.2-2.0M391.6 220.5l-0.9-0.8M449.3 299.7l0.8 1.7M449.3 303.4l0.9-1.8M459.5 240.7l2.1-0.5M476.6 243.6l0.5 0.7M464.9 216.5l-0.5-0.9M459.3 304.7l0.5 1.7M388.8 204.6l-0.6-0.1M448.5 234.2l-0.9-0.0M475.4 251.5l0.2-1.1M433.3 208.8l-1.2-0.1M421.6 292.8l0.1 1.2M421.3 302.3l-0.8-0.7M449.2 214.6l-1.5-1.4M465.0 237.2l-1.2-1.1M417.3 208.8l-1.7 0.3M425.4 204.8l-0.4 1.0M445.5 200.0l-0.3-1.3M408.8 277.6l-0.4-0.9M431.1 243.7l-0.9-0.6M437.4 213.7l-0.1-0.6M439.8 226.9l-1.2-1.7M449.2 302.2l-0.2 2.1M429.5 303.6l-1.1-0.9M432.3 261.6l1.1-0.7M487.7 231.6l0.9-0.9M428.7 208.7l-0.9-0.2M416.6 305.1l1.1 1.1M430.6 240.3l-0.7-1.7M420.5 230.9l-0.4 0.8M465.4 251.4l-2.0-0.6M469.3 293.6l0.7-1.5M386.0 239.0l1.0 0.2M472.3 265.6l1.9-0.3M482.1 236.9l-0.4-1.0M407.4 249.3l0.5-1.3M462.9 267.5l0.1-0.7M487.7 218.5l-0.7 0.2M437.2 210.5l-1.6 0.6M448.6 204.5l1.0-1.3M436.2 285.6l-1.1 0.9M406.1 235.8l-0.8 0.4M481.2 219.2l-1.5-0.1M411.1 219.7l0.8-0.8M475.7 299.2l1.1 0.1M459.8 290.4l1.1-0.0M486.2 288.5l0.5 0.5M471.8 262.2l-1.2-1.4M453.3 229.5l1.5 0.6M430.1 289.7l2.1 0.7M425.4 230.4l-0.1-0.7M411.6 245.0l-1.2 1.0M391.6 273.4l2.0 0.8M490.2 283.8l1.3-0.3M488.7 248.5l0.2-0.7M427.6 201.0l1.1-0.6M409.4 271.5l-0.1 0.8M413.3 221.1l-0.7 1.9M440.6 262.2l1.3-0.8M467.4 211.7l-1.3 0.3M392.4 299.9l1.4 0.2M421.5 225.4l-0.6 0.1M395.1 231.1l0.4-0.5M419.4 274.6l0.1 1.2M401.6 289.6l-1.9-0.8M431.7 220.2l-0.3-0.7M404.9 237.9l-1.8 0.8M385.7 207.6l-1.1 1.1M429.8 289.5l-0.6 0.8M437.6 298.4l-0.9 1.0M422.3 293.2l0.0 1.4M386.1 282.9l-0.5-0.7M427.2 288.3l-1.0-0.3M419.7 237.5l0.0 0.8M420.5 263.7l-1.3-0.7M487.6 262.6l0.9-0.7M441.1 213.3l1.5-1.1M406.4 215.6l1.5 0.3M422.8 229.3l-1.7-1.0M417.6 294.1l-0.0-0.6M473.4 203.0l0.5-1.3M437.8 209.6l0.6-0.5M451.2 250.9l1.4-1.3M454.5 249.1l-1.8 0.4M450.2 271.4l1.0 0.2M446.7 270.9l-0.5-0.8M489.6 213.6l-0.7 0.6M472.5 252.2l0.1 1.2M393.3 199.8l1.2 1.5M405.3 279.7l-0.1 2.0M486.4 288.0l-0.1 1.2M483.0 282.1l-0.8-1.5M467.2 275.6l0.8-1.0M385.3 242.7l-0.5 0.4M427.0 236.9l-0.7-0.7M390.1 203.4l0.3 1.7M418.7 278.5l-0.5-1.3M480.9 290.2l-0.3-2.0M411.9 281.4l0.9 0.7M452.4 253.0l-1.3-0.2M431.2 214.6l1.4 0.7M386.7 296.5l0.6-0.4M416.7 212.3l-0.6 0.2M433.9 244.3l-0.4 1.7M426.3 302.1l1.8-0.6M458.9 276.0l-1.7-0.1M456.5 202.2l0.1-0.9M438.6 242.2l-1.0 0.5M485.7 226.5l0.7-0.2M412.6 232.2l0.7-1.0M402.4 229.8l-0.4-0.8M460.5 236.6l-0.5 2.0M384.9 206.9l0.8-0.4M463.6 247.3l-1.9 0.8M484.9 244.4l-0.3-0.7M424.7 212.3l1.3-0.6M460.6 304.2l1.1 0.5M421.3 243.7l0.3-1.4M446.8 296.2l1.6 0.7M453.4 231.7l0.6-0.5M458.2 208.2l-0.9 0.5M414.4 259.0l-1.1 0.2M448.4 272.6l-1.8-1.1M414.2 239.8l0.1-1.0M461.7 201.8l0.9 0.4M431.0 293.3l-0.8-1.3M481.0 203.2l0.1 2.1M392.1 272.6l0.7 0.4M487.1 217.8l-0.3-0.7M409.1 245.7l1.8 0.9M444.7 277.5l-1.1 0.7M475.7 245.0l0.4-1.6M416.8 205.4l1.9 0.4M481.4 242.2l1.7 0.6M417.5 210.1l-1.7 0.2M386.5 286.1l-0.6-0.3M458.7 272.8l0.6 0.9M423.8 266.8l0.9-1.5M411.0 253.0l-0.5 0.4M426.6 262.5l-0.9-0.1M391.9 204.5l1.4-0.8M422.2 249.7l1.9-0.2M450.0 241.6l-1.9-0.7M436.4 247.9l-0.6-0.6M427.0 278.5l-2.0-0.6M388.9 230.3l1.9-0.0M403.9 276.2l-1.9-1.1M460.4 260.8l-0.8 1.1M408.6 263.5l0.4 1.3M451.9 233.9l-1.5 0.6M424.6 279.2l1.3 1.8M417.8 215.0l0.7-0.7M404.8 272.1l1.0-0.5M398.6 262.3l1.2-1.3M475.2 295.4l-0.5-1.1M444.3 284.8l1.2-0.8M442.2 248.0l1.0 1.1M445.6 231.5l-0.1-2.1M396.2 244.3l1.8-1.1M436.9 285.4l-0.6 0.5M396.8 239.0l1.9 1.1M441.6 289.7l-1.1 0.2M472.5 259.2l-0.1 0.8M472.1 290.4l1.5-0.2M421.2 276.5l-0.4 1.4M418.3 268.5l0.8 1.0M475.7 257.8l-1.2-1.8M401.7 200.7l0.3 0.8M438.6 256.7l0.7-1.8M463.9 200.1l-0.7-0.7M445.6 204.5l0.1-1.0M473.8 284.5l0.0-1.7M448.4 242.1l0.6-0.6M393.1 270.8l-1.5 1.4M465.2 237.3l-0.6 0.0M446.0 228.4l-1.3-0.5M446.1 250.9l-1.0-1.2M448.5 294.3l-1.4 0.9M387.3 218.1l-1.0-1.3M395.5 238.7l0.0 0.7M430.6 242.6l0.2-1.2M397.1 290.0l0.5-0.7M397.6 303.6l1.3-1.0M427.6 255.6l-0.0-0.6M486.1 289.5l-0.3 0.6M395.3 268.1l0.4 0.5M449.1 204.6l1.9-1.1M428.0 213.3l1.2-0.1M419.3 303.4l0.1 2.1M437.2 204.7l0.1 1.1M416.7 250.7l-1.9-0.0M396.6 265.3l1.5 0.9M414.2 296.5l-1.3 0.5M469.4 291.9l1.2 0.6M468.9 268.1l0.6-0.4M468.0 209.6l1.0-1.0M448.0 246.6l-1.1-0.8M486.2 261.2l2.0 0.8M473.9 267.2l-0.6 1.7M487.3 242.7l-1.0-0.0M447.6 200.0l2.0 0.3M456.3 277.6l-0.0 1.2M479.7 226.5l-0.7-2.1M412.3 236.3l-1.5-0.5M385.5 249.6l1.6-0.7M431.6 268.2l-1.4-1.3M447.7 199.8l-1.2 1.4M387.6 286.9l-1.6-1.0M433.7 251.3l0.2-1.1M463.6 296.4l1.5-1.5M482.7 253.8l0.2-2.1M486.1 267.6l0.3 2.1M462.8 213.4l-0.5 1.4M443.1 243.9l0.1 1.5M460.1 300.4l-1.3 0.5M401.1 246.1l0.6 0.5M485.4 251.0l0.4 1.3M448.9 287.2l-0.5 0.4M389.4 235.5l-0.0 1.3M466.7 298.6l-0.1-2.2M417.0 203.6l1.9-1.1M386.7 205.4l-1.1 0.1M438.3 273.0l-0.5 1.1M445.3 236.8l-0.8 0.1M435.3 207.8l0.7-0.4M401.8 268.9l-1.3-1.5M447.2 249.4l-1.1 0.3M430.9 256.5l-0.1 0.7M399.6 215.8l0.6 1.6M430.5 288.7l-1.1 1.5M463.8 224.9l1.7-1.3" stroke="#b83030" stroke-width="1.21"/>
</g>
<clipPath id="cv105"><rect x="37" y="313.2" width="107.1" height="106.9"/></clipPath>
<rect x="37" y="313.2" width="107.1" height="106.9" fill="#060606"/>
<g clip-path="url(#cv105)" fill="none" stroke-linecap="round" stroke-linejoin="round" filter="url(#soft)">
<path d="M114.8 338.4l-0.0-0.5-0.3 0.1 0.9-3.9 1.1-2.0 2.0 0.0 2.8 0.9M63.8 351.5l0.7 0.4 1.7-0.8M38.9 340.9l-0.8 0.3-2.5 0.2-2.3-2.0-0.8-2.2 0.9-2.5 1.8-2.2 0.5-0.7 0.2 0.3 2.3 1.8 2.5-0.0 1.7-1.3 0.6-0.8 0.4-1.0 2.5-0.6 0.3-0.4 0.7 0.2M77.8 386.2l-2.4-3.4-2.1-2.8 1.4-0.2 0.0-0.6M57.9 428.1l0.2-1.1-1.1-1.9M87.3 354.8l0.0 0.6-0.3 0.2M28.5 368.0l2.0-2.3 1.0-1.8 0.0 0.1 0.2-0.2 2.6 3.0 0.4 0.9-3.4 0.8-2.0 0.3M33.9 303.5l-0.4 1.6-0.4 0.3 1.1 1.7 1.1 3.0 2.1-2.2 1.7-0.7M40.4 307.8l0.3-0.2 0.4 0.4 2.7 1.5 2.1 1.6-0.3 2.9-1.3 1.5-3.5 0.1-2.0-0.8M87.5 407.0l4.3-2.8 5.7-2.5 0.4-0.4-0.1-0.3 0.0-0.1 0.4 0.0M75.2 390.0l0.3 0.1-0.1-0.2-0.0-0.7 0.5-0.4M96.5 382.5l-0.5-0.1-0.7-0.9-1.4 0.2-0.8 0.1-0.1 2.5 0.9 2.7-2.3-1.0-1.1-0.5-0.0 0.3-0.2 0.3 0.0 0.4-0.2 0.7-2.7 0.5-1.5 1.7 0.4 0.4-0.3-0.2 1.8 0.8 2.1 0.9M137.9 315.0l-1.1 0.7-1.3 1.3-3.0-1.7-4.2-2.8-1.4 1.9-1.3-0.7M87.7 317.8l-0.7 1.6-0.8 0.9M107.6 421.8l1.8-1.9 1.3-2.2 1.1 0.3 0.4 0.9 1.7-0.4 2.1 0.1 0.5 4.1-0.4 6.1-1.4-1.8-2.0-0.7-0.5-2.8-0.5-2.4M92.1 319.6l-1.7-3.4-0.5-4.1M33.3 346.6l0.8 0.9 0.9 0.3-0.5 1.1 0.1 1.4 1.8 0.2 1.1 0.4M49.8 321.2l1.3 0.8 2.1 0.1 0.1 0.4-0.1-0.4 2.7 0.5 1.5 0.0 0.1 0.2 0.3-0.8M136.2 312.3l0.0-1.7 1.7-4.1 1.7-0.6 2.2-0.2 0.2 1.9 2.2 1.4 1.1-0.8 1.5-1.4M95.2 410.4l0.8-2.0 1.8-2.1M132.0 367.2l-0.5 0.4 0.6-0.2-0.1 0.8 0.5 1.2 0.0-0.4 1.0 1.7-0.3 1.5-0.7 1.7M92.5 323.9l1.3 0.4 1.3 0.2 1.6-0.0 1.5-0.3 1.5-0.8 1.2 0.1 1.4 0.4 1.6 0.5 1.4-0.0 1.6-0.0M68.8 339.2l-0.6 1.5-0.3 1.6-0.3 1.2 0.2 1.5 1.0 1.4 0.8 1.0 1.3 0.3 1.6 0.7M84.1 417.5l0.3 1.5 1.2 1.2 1.1 0.9 1.5 0.7 1.4 0.1M86.4 415.6l1.5-0.0 1.3-0.1 1.5-0.7 1.3-0.7 1.5-0.7 0.4-1.6-0.5-1.7M82.0 419.0l1.2-0.6 1.0-0.9 1.0-0.8 1.3-1.1 1.0-1.0 1.2-1.3-0.0-1.7M73.5 412.3l1.4 1.0 0.9 1.4 0.9 1.2 1.0 0.7 1.6 0.6 1.5 0.8 1.1 1.0 1.0 0.9 1.1 0.7 1.5 0.6 1.1 0.5 1.4-0.2 1.2 0.1 1.5 0.4 1.5 0.9 1.4 0.8 1.4 0.7M120.8 361.3l0.7 1.1 0.9 1.5 0.7 1.6 0.6 1.5-0.1 1.5-0.1 1.8 0.1 1.8 0.1 1.3-0.5 1.7-0.2 1.7 0.0 1.7-0.8 1.6-1.1 1.0-1.2 1.1M112.5 381.5l-0.7-1.6-1.1-1.0-1.7-0.2-1.6-0.3-1.6-0.8-0.9-1.1-0.9-1.3M55.8 351.9l-1.2-0.4-1.5-0.8-1.3 0.1-1.3 0.1-1.3 0.3-1.2-0.0-1.3 0.5M131.5 319.9l0.1-1.6-0.5-1.7-0.7-1.6-1.2-1.2-1.4-1.1-0.8-1.5 0.1-1.5M118.7 334.5l-1.0 1.0-1.0 0.8-1.1 1.1-1.2 0.8-1.4 0.3-1.3 0.2-1.4 0.4-1.3 0.7M119.9 336.7l-0.5-1.2-0.7-1.1-0.7-1.2M115.2 333.4l1.6-0.5 1.6-0.0 1.5-0.1 1.4 0.3 1.4 0.0 1.7 0.1M115.0 334.6l0.3-1.2 0.3-1.3 0.2-1.5 0.4-1.7M50.7 361.0l-1.1-1.1-1.2-0.8-0.9-0.9-0.9-1.1M142.8 344.1l0.9 0.8 1.0 1.2 1.2 1.1 0.9 0.9 1.2 1.2 1.6 0.6 1.4-0.1 1.7-0.2M50.9 380.9l-0.3-1.8 0.9-1.1 0.9-1.5 0.8-1.2M54.7 372.2l-0.3 1.3-0.5 1.4-0.4 1.6-0.4 1.5-0.6 1.0-0.2 1.5-0.3 1.4M54.2 366.4l1.0-0.8 1.1-0.5M59.9 364.6l1.1 1.4 0.3 1.3 0.2 1.2 0.7 1.6 0.7 1.3 0.5 1.4M52.9 366.5l1.3-0.1 1.7-0.1 1.4-0.5 1.1-0.6 1.6-0.6 1.6 0.0 1.7-0.3 1.5 0.1 1.6 0.0 1.7 0.0 1.5-0.8 1.6-0.5 1.6-0.5M64.0 393.1l1.0 1.3 1.3 0.8 1.1 1.1 0.6 1.4 0.4 1.2 0.2 1.7 0.6 1.7 0.6 1.2 0.4 1.2 0.1 1.3 0.4 1.7 0.5 1.6 0.2 1.4M76.1 361.5l0.4 1.3 1.1 0.9 0.5 1.5 1.2 1.2M95.3 379.8l1.0 1.2 0.6 1.6 0.4 1.2 0.3 1.2 0.5 1.4M71.0 397.4l-1.3-0.1-1.2-0.4-1.7 0.3-1.3 0.0-1.4-1.0-1.2-0.7-1.2-0.9M46.6 356.3l1.1 1.3 1.0 1.3 0.9 0.8M63.7 354.5l-0.2-1.3-0.4-1.4-0.3-1.3 0.6-1.5M65.3 353.9l1.0-1.2 1.3-0.9 1.4-0.9 1.1-1.0 1.2-0.7M45.3 356.3l1.4-0.1 1.5-0.2 1.6 0.1 1.2-0.1 1.5 0.2 1.5 0.4 1.3 0.3 1.4 0.5 1.5-0.2 1.7-0.2 1.5-0.5M51.1 395.6l1.2 0.9 1.1 0.7 1.1 0.5 1.7 0.5 1.4-0.5 1.3-0.6 1.6 0.5 1.4 0.6 1.3 0.6 1.3 0.8 0.4 1.5 0.4 1.6M35.5 330.9l-1.0 0.7-1.5 0.5-1.5 0.6-1.2 0.2-1.3 0.5-1.6 0.9M128.9 373.9l1.0-1.3M59.0 350.1l-1.0 0.8-0.5 1.5-0.3 1.2 0.1 1.6-0.3 1.4M66.2 328.7l1.6 0.3 1.6 0.3 1.6 0.5 1.3 0.5 1.2 1.1M61.8 322.3l0.2-1.7-0.8-1.4-1.3-1.2-1.3-0.9-1.0-1.1-1.1-0.7M116.0 377.5l1.2 0.1 1.5 0.4 1.3-0.1 1.5-0.3 1.7-0.4 1.4-0.9M90.8 385.8l0.8-1.2M47.0 368.0l1.4-1.0 1.3-0.7 1.4-0.0M46.3 330.0l-1.3-0.4-1.7-0.6-1.2-0.5M119.0 331.3l-1.2 0.5-1.2 0.4-1.5-0.0-1.3 0.1M113.0 341.6l0.1 1.4-0.2 1.2-0.0 1.8M115.6 371.2l-1.1 0.8-1.5 0.5-1.8 0.2-1.4 0.3-1.0 1.4-0.6 1.1-0.9 1.1-0.8 1.1M111.5 322.3l-1.6-0.1-1.4 0.0-1.5-0.5-1.4-0.3-1.2-0.5-1.4-1.1-1.3-1.2-1.0-1.3M108.0 316.4l0.5 1.2 0.3 1.4 0.8 1.5 0.6 1.2 1.0 1.0 1.0 0.8 1.2 1.0M48.5 377.6l0.8-1.0 0.9-1.2 0.4-1.5 0.8-1.3 0.6-1.6 0.3-1.5-0.3-1.4-0.4-1.4 0.2-1.3-0.7-1.5M101.2 362.3l0.2 1.4 1.0 1.5 0.8 1.6M111.4 360.7l-1.4 0.2-1.2-0.3-1.4-0.2-1.6 0.1-1.6 0.4-1.5 0.6-1.5 0.8-1.2 0.3-1.7-0.1-1.6-0.0-1.2-0.3-1.6-0.4M94.2 405.2l0.5-1.5 0.3-1.2M61.7 343.6l1.6-0.3 1.5 0.3 1.4 0.8 1.3 1.2 0.9 1.3 0.6 1.4M138.6 314.7l1.5-0.8 1.2-0.6 1.1-1.4 0.7-1.2 0.7-1.6 0.1-1.6-0.5-1.6M59.8 358.0l1.1-0.7 1.1-1.0 1.4-0.6 0.7-1.0 0.7-1.3M78.4 339.1l-1.0-1.1-1.3-0.7-1.4-0.9-1.0-0.7-1.0-0.9-1.5-0.6-1.3-0.8-1.6-0.8M103.9 403.7l-0.0 1.8-0.2 1.5 0.2 1.5 1.0 1.4M114.2 317.7l-0.8 1.3-1.1 0.8-1.2 0.5-1.2-0.1-1.5-0.1-1.4 0.2-1.6 0.3-1.8 0.2-1.5-0.2-1.6-0.3-1.4 0.8-1.6 0.6-1.3 1.1-1.6 0.6-1.5 0.3-1.6 0.4-1.4-0.3M37.4 355.3l1.0-1.1 1.1-1.2 0.4-1.7M99.4 344.4l1.8-0.2M133.3 399.7l-1.5 0.7-1.4-0.1-1.3 0.1-1.5 0.7-0.7 1.2-0.9 1.0-1.3 1.0-1.2 0.2-1.4 0.5-1.0 0.8-1.6 0.8-1.6 0.7M118.9 315.5l-1.0-1.1-1.0-1.5-1.0-0.9-0.7-1.0-0.7-1.6-0.3-1.3 0.5-1.4 0.1-1.8 0.4-1.4M45.9 354.4l0.5 1.5M36.8 409.8l0.7-1.6 0.7-1.4M77.1 359.0l-1.2 0.9-1.3 0.7-1.2 0.7M76.5 354.7l-0.2 1.6 0.3 1.2 0.4 1.4 0.7 1.1 0.8 1.0 0.7 1.4-0.5 1.7-0.3 1.3M71.0 320.8l1.0-1.2 0.8-1.3 0.8-1.0 1.4-0.8 1.3-0.8 1.7-0.6 1.1-0.6 1.6-0.6 1.5-0.8" stroke="#741c1c" stroke-width="1.05"/>
<path d="M47.2 420.3l2.3 1.3 1.1 0.2 0.7-1.3 1.8-1.1-0.4-0.2 0.4 0.2-1.1 0.6 0.1-1.4-2.2-0.2-2.3 0.5-0.5 0.9 0.2 0.6M112.9 378.1l0.9-0.3-0.8 0.6-2.2 1.9-2.3 4.0-0.3 1.4 0.3 0.5M59.0 317.7l-0.9 0.9 0.6 0.9-0.2 0.6-0.5 1.8 1.8 1.6-0.4 0.3-0.1-0.5 0.3 0.4 0.6 0.7-0.1-1.5 2.2 0.6 0.8 0.8 0.5 0.2-0.5-0.2M72.9 342.4l-2.7-0.9-2.8 0.8-0.2 0.8-1.1 2.6 1.0 0.9 0.9 1.5-0.2 0.9-0.6 0.7-0.4 1.4-0.7-0.1M67.3 349.8l1.7 3.6 2.9 2.5M61.2 303.0l-0.9 0.8 0.5 1.4-1.5 2.8-1.2 2.4-1.4-1.7-0.7-0.2-1.6-6.1-3.1-4.3M75.0 309.4l-1.2 1.2-1.5 2.0 1.3 1.4-0.6-0.2-0.2 2.4-0.0 0.8M121.3 347.1l1.3 1.2 0.1 1.8 2.1-2.2 1.3-1.5-1.7-1.5-2.3 0.8-0.8 0.9 0.0 0.5M75.9 309.6l-0.6-0.0-0.3-0.1 0.7-0.7-1.1-0.8M78.7 379.4l-2.4-0.4-1.5 0.3M73.3 380.0l-0.4 0.1-0.4 0.1-2.5 0.2-1.3-0.2 0.1 0.7-0.6 1.0-0.1 1.7-1.1 0.5-3.9 0.3-0.5-0.1M39.0 307.2l1.0-0.1 0.4 0.7-0.5 3.7-1.1 3.2-0.5 0.2-0.7-0.2-0.7 1.1-0.2 0.2M130.7 414.1l-0.5-0.6 0.1 0.9-0.7 2.2-0.5 1.5-0.3 0.0 0.2 0.2M56.7 344.1l0.1-0.0-0.7-0.3-1.2-0.4-1.3 0.2-0.4-1.9 0.1-2.7 0.2 0.3-0.9-0.3-0.5-1.0-0.4 0.4M75.4 390.0l1.9 2.3 1.8 0.1 0.7 0.5-0.1 0.5M83.5 306.5l0.4-2.2-0.3-2.3M113.1 362.3l-1.2 0.3 1.2-0.3-0.6 0.1-1.4 0.5-0.8 1.4-1.3 2.2-0.0-0.1 0.6 2.5M69.6 396.3l1.5-2.2 2.9-0.9 0.2 1.4 0.7 1.7-3.2 0.0-2.1-0.0M142.2 368.2l-0.1-1.5 1.0-1.3-0.8-0.5-0.7-0.5 0.3 0.9-0.0 2.7M40.3 365.7l-0.6-1.0 0.7-1.6-3.8-1.5-3.1-1.4-0.1 0.7-0.5-0.2-3.3-0.8-2.8-0.2 0.4-0.5 1.6-2.5 1.3 1.0 2.1-2.6M92.1 319.6l-2.0-1.2-1.8-1.1-0.3 0.1-0.2 0.2-1.3-0.5-2.3-0.4 1.7-2.2 1.5-2.6 1.4-0.6 0.4 1.0-1.1 2.6 0.2 2.4M105.6 344.5l1.2 0.6-0.9-0.4M85.1 407.3l0.2 1.2 0.4 1.6 0.7 1.1 0.5 1.6 0.5 1.2 0.8 1.2 0.7 1.2M87.8 406.4l1.4 0.7 1.1 0.8 1.1 1.4 1.1 1.1 1.2 0.9 1.4 0.8 1.3 0.4M96.8 404.7l0.7-1.2M83.8 407.2l1.3 0.0 1.2-0.3 1.5-0.6 1.8 0.0 1.7 0.3 1.7-0.1 1.3-0.0 1.2-1.2 1.3-0.7 1.3-0.8M114.4 325.9l-0.9 1.3-1.2 0.9-1.3 0.2-1.0 1.3-0.9 1.0-1.1 0.9-0.9 1.2-1.1 1.1-1.4 0.4-1.4 0.5-1.6 0.7-1.4 0.7-0.7 1.6-1.1 0.6-1.4 0.6M143.2 374.5l0.1-1.7 0.6-1.6 0.0-1.6-0.7-1.2-0.9-1.5M141.9 376.9l0.6-1.1 0.8-1.3 0.8-1.5M146.7 372.7l-0.7-1.4-0.5-1.5 0.2-1.7-0.2-1.4-0.0-1.3M135.5 378.0l0.9 0.8 1.2 0.5 1.5-0.4 1.2-1.3 1.5-0.8 1.1-0.9 1.1-1.1 1.4-0.9 1.2-1.3 1.3-0.7 1.6-0.4 1.5-0.9M67.2 337.1l1.1 1.3 0.7 1.1 0.8 1.3 0.8 1.5M69.6 347.6l-0.6 1.6-0.4 1.5-0.4 1.4M63.9 332.7l0.6 1.4 1.0 1.2 1.0 0.6 0.8 1.1 0.9 1.1 0.6 1.0M96.7 342.2l-0.3 1.6-0.1 1.6-0.1 1.2-0.0 1.8 1.2 1.2 1.4 0.3 1.5 0.6M123.3 336.2l1.1-1.4 0.9-0.8 1.3-0.2 1.3 0.7 1.4 0.5 1.4 0.8 1.7 0.4 1.6 0.2 1.7-0.2 1.3 0.1 1.5-0.6 1.3-0.4M88.1 421.5l0.9-1.3 1.1-1.0 0.9-0.9 1.2-0.5 1.4-0.4 1.2-1.3 0.7-1.1M137.8 336.4l0.5-1.4 1.2-1.0 1.4-0.2 1.7-0.2 1.4-0.8 0.9-1.2 1.5-0.8 0.9-1.4M133.1 336.6l1.7-0.2 1.5 0.1 1.5-0.0 1.7-0.3 1.5-0.7 1.5-0.7 1.6-0.0 1.2 0.4 1.4 0.1 1.2 0.3 1.3 0.9M48.0 351.2l-0.5-1.5-1.4-1.0-1.3-1.0M138.2 317.7l-1.7 0.3-1.3 0.5-1.1 0.8-1.4 0.3-1.2 0.3-1.4 0.9-1.3 0.6M138.2 315.9l0.1 1.8-0.2 1.7-0.0 1.6-0.1 1.4-0.7 1.2 0.0 1.3-0.5 1.7-0.7 1.5-1.2 0.8-1.7-0.0-1.3 0.0-1.5 0.0-1.3 0.4-1.3-0.4M48.6 398.9l-1.0 0.8-1.4 0.3-1.3-0.2M40.2 397.4l-0.8 1.1M57.1 399.9l-1.5-0.5-1.3-0.3-1.3-0.1-1.5 0.1-1.3 0.1-1.5-0.3-1.3-0.4-1.3-0.4-1.3-0.4-1.3-0.0-1.6-0.3-1.6 0.1-1.2 0.3-1.4 0.8M128.0 338.0l-1.5-0.5-1.8-0.3-1.5-0.3-1.6-0.3-1.6 0.2-1.6-0.3-1.6-0.6-1.3-0.2-1.4-1.2-0.9-0.8-0.9-1.2-0.8-1.1-1.3-1.1-1.3-0.8-1.5-0.9M99.6 335.8l-0.8-1.0-1.1-1.1-0.9-1.3-0.9-0.9-1.2-0.5-1.0-0.6M106.4 327.8l0.6-1.6 0.5-1.6 0.5-1.6 0.1-1.4 0.3-1.4M107.8 333.9l0.3-1.7 0.2-1.7-1.2-0.9-1.3-0.8-0.9-1.1-1.3-1.1-1.1-0.9M97.0 335.5l1.4 0.5 1.3-0.3 1.2-0.3 1.4-0.5 1.3 0.1 1.6-0.2 1.5-0.5 1.2-0.5 1.2-0.4 1.6 0.3 1.6 0.4 1.2 0.4 1.5 0.1 1.2-0.3 1.5-0.1 1.3-0.0 1.6 0.3M43.5 384.5l-0.1 1.5-0.7 1.0-1.7 0.5-1.2 0.4-1.6 0.5-1.5 0.3-1.1 0.7-1.5 0.7M52.2 380.6l-1.4 0.3-1.0 0.7-1.2 0.7-1.4 0.0-1.1 0.4-1.5 0.9-1.2 0.8M133.7 415.3l-1.0-0.8M83.1 419.9l1.6-0.3 1.6-0.3 1.4 0.0 1.4-0.2 1.4 0.6 1.6 0.1 1.4-0.4 1.6-0.6 1.3-0.8 1.1-0.6 1.3-0.9 0.9-0.9M127.7 403.4l-1.3-0.5-1.2-1.2-1.0-1.3-1.1-0.8-0.8-1.3-0.4-1.4-1.0-1.4M130.5 407.0l-1.3-1.1-1.1-1.3-0.4-1.2M128.8 412.7l0.8-1.1 0.8-1.4 0.4-1.4-0.3-1.6-0.5-1.1-1.0-1.1-1.5-0.9-1.2-0.4-1.2-0.5-0.7-1.1-1.5-0.6-1.7-0.4M48.7 404.4l-1.0 1.2-1.6 0.5M74.8 352.1l1.3 0.5 1.5 0.2 1.4-0.1 1.4 0.0M79.8 344.4l-1.0 0.9-1.2 0.7-1.0 0.6-1.0 1.4-0.5 1.2-0.7 1.5 0.4 1.4 0.4 1.7 0.7 1.5 0.5 1.7-0.0 1.5 0.2 1.7-0.5 1.3-0.4 1.2M61.3 356.6l1.3-1.1 1.2-1.1 1.6-0.6M61.9 398.3l0.6 1.6 0.4 1.3 0.9 1.0 0.5 1.5 0.6 1.4 0.7 1.0 0.8 0.9 0.8 1.6M84.5 319.2l-0.6 1.2-0.2 1.6-0.2 1.5 0.1 1.7M89.8 320.8l-1.1-0.6-1.2-0.5-1.6-0.6-1.4 0.2-1.5-0.0-1.7 0.4-1.3 0.0-1.7-0.1M60.9 403.3l1.1 0.8 1.4 0.6 1.5 0.1 1.2-0.2 1.2-0.5 1.0-0.9 0.4-1.5-0.0-1.8M118.1 384.3l-0.3-1.4 0.2-1.5 0.2-1.4-0.1-1.7 0.6-1.3 0.4-1.4 1.0-1.3 0.5-1.1 0.2-1.3 0.4-1.4M33.2 327.2l0.7-1.2 0.5-1.3-0.0-1.4M67.1 327.3l-1.1-0.9-1.2-1.1-0.8-0.9-1.0-0.9-1.3-1.3M129.5 320.5l-1.5-0.8-1.2-1.1-0.9-0.9M91.5 415.6l-0.4-1.5-1.1-0.8-1.4-1.0-1.3-1.0-0.5-1.5-0.8-0.9-1.3-0.8-0.6-1.4-0.6-1.4-0.5-1.3-0.7-1.3-0.9-1.2-1.2-0.9M110.8 374.6l-0.6 1.7-0.8 1.5-0.4 1.7 0.2 1.3 0.2 1.6 0.5 1.5-0.1 1.2 0.5 1.7M114.5 376.6l0.7-1.5-0.2-1.6 0.5-1.4M108.9 372.3l0.8 1.4 1.2 0.9 1.1 0.9 1.2 0.6 1.4 0.5 1.5 0.9 1.2 1.0 1.2 1.1 1.2 0.6 1.4 0.0 1.2 1.1 1.5 0.3 1.7-0.2 1.3-0.5 1.2-0.6 1.3-0.7M61.7 387.2l1.1-0.8 1.3-0.2 1.4-0.6 1.3-0.6 0.5-1.2 0.5-1.2 0.4-1.5 0.4-1.2 0.5-1.1 0.6-1.2M84.1 384.8l0.9 1.4 1.0 0.8 0.9 0.9 1.0 1.2M87.6 382.2l-1.2 0.6-1.0 1.0-1.3 1.1-1.2 1.0-0.8 1.5M91.0 389.2l-0.2-1.7-0.0-1.7-0.2-1.5-0.4-1.7-1.2-0.4-1.4-0.0-1.5-0.2-1.2-0.2-1.1-0.6-1.4-0.4-1.6 0.5M135.3 391.6l1.5 0.2 1.6 0.2 1.6 0.4 1.4-0.3 1.3-0.2 1.5-0.4 1.2-0.4 1.1-0.5 1.4-0.5 1.6 0.1M39.2 394.3l-1.3 0.5-1.4-0.8-0.8-1.3-1.0-0.6-1.4 0.0M52.2 340.1l-1.4-0.9-1.2-1.3-1.1-1.1-0.8-1.0-0.9-1.4-0.7-1.0-0.0-1.6 0.3-1.7 0.1-1.2 0.5-1.2-0.1-1.2M116.1 336.5l1.1 1.1 1.4 1.1 1.0 0.7M50.8 354.4l0.8 1.5 0.7 1.2 1.2 1.0 1.1 1.1 1.4 0.9 1.0 1.0 0.7 1.1 1.3 0.7 1.7-0.1 1.4-0.0M108.5 322.2l-0.5-1.4-0.9-1.2-0.7-1.3-1.1-1.2-1.2-1.0-0.4-1.4-0.0-1.2-0.3-1.5M76.5 416.7l1.6-0.2 1.5-0.5 1.3-0.2 1.6 0.6 1.5-0.2M75.9 418.3l0.6-1.5 0.4-1.4 0.1-1.7 0.2-1.4-0.3-1.5-0.5-1.5-0.2-1.7-0.4-1.1M72.3 324.7l-1.3-0.3-1.6-0.2-1.5-0.6-1.6-0.3-1.7 0.2-1.3 0.5-1.5 1.0-0.8 1.4-0.9 1.4-0.1 1.5-0.4 1.8-0.0 1.4-0.4 1.3 0.2 1.4-0.6 1.6M36.4 322.4l-1.1-1.2-1.1-0.7-1.8-0.2-1.1 0.7-1.5 0.3M38.7 335.9l-1.2-1.3-0.8-1.2-0.9-1.2-0.3-1.7-0.2-1.4-0.1-1.4-0.3-1.4 0.0-1.5 0.5-1.4 1.0-1.2 1.2-0.5 1.6-0.1 1.5 0.2 1.5-0.1 1.6 0.8M129.8 380.5l1.1 0.6 1.5 0.5 1.3 0.4 1.1 0.8 0.9 0.8 1.4 0.6M62.8 351.8l-1.0-0.9-1.0-1.4-1.1-1.1-1.6-0.2-1.7-0.4-1.4 0.3-1.5 0.9-1.0 1.2-0.6 1.2-0.5 1.2-1.0 1.5M44.1 347.8l0.4 1.7-0.3 1.2-0.3 1.4 0.0 1.5-0.1 1.3-0.4 1.3M97.9 349.7l0.1 1.6M55.4 337.7l1.0 0.9 1.1 0.7 1.0 1.3 1.2 1.2 1.0 1.0 1.0 0.9M112.9 323.9l1.6-0.9 1.5-0.7 1.4-0.6 1.2-0.7 1.2-1.1 1.2-1.1M109.0 329.1l1.0-0.7 0.9-1.0 0.8-1.1 1.0-1.3 0.3-1.2 0.6-1.2 0.7-1.1 0.4-1.2 0.3-1.2 0.3-1.2 1.0-1.2 1.1-0.6 0.9-1.0 1.5-0.1 1.2-0.8 1.4-0.9 1.3-0.6M74.7 332.7l0.2-1.3 0.2-1.5 0.7-1.5 0.5-1.2 1.3-0.8 1.4-0.5 1.3-0.8M73.8 335.7l-1.1 0.4-1.4-0.6-0.8-1.3-1.5-0.7-1.0-0.8-1.1-1.1M72.8 334.8l-1.7-0.3-1.0-1.0-1.5-0.5M71.4 334.2l-1.6-0.3-1.1-0.5-1.1-0.7-1.5-0.9-1.4-0.9-1.4-0.1-1.4-0.0-1.3 0.0M129.7 399.0l1.2 1.2 0.4 1.6 0.5 1.3 0.9 1.4 1.2 1.4 1.1 1.4 0.5 1.6 0.4 1.2-0.1 1.3-0.5 1.4-0.7 1.1M115.6 398.5l-1.3 0.4-1.6-0.2-1.6-0.5-1.3-0.3-1.7 0.5-0.9 1.1M112.4 403.6l-1.3 0.5-1.3 0.1-1.6 0.1-1.3 0.2-1.7 0.3M118.0 397.0l-1.3 0.6-1.1 0.9-1.3 1.1-0.7 1.2-0.6 1.6-0.5 1.1-1.0 0.9-1.6 0.7-1.5 0.4-1.5 0.1-1.5-0.3M87.6 329.8l-1.1 1.3-1.2 0.8-1.2 0.3-1.6 0.7-1.2 0.9M85.8 321.9l-0.7 1.5-0.5 1.7 0.4 1.4 0.1 1.3 1.1 1.3 1.5 0.6 1.7 0.6M84.7 321.0l1.0 0.9 0.8 1.5 0.4 1.5 0.3 1.6-0.2 1.5M99.4 345.7l0.0-1.3 0.1-1.3 0.2-1.6M93.7 347.4l-1.7-0.3-1.1-0.8-1.2-0.8-1.3-1.0M94.7 344.8l-0.5 1.2-0.5 1.5-0.2 1.6-0.2 1.7M106.3 344.1l-1.5 0.5-1.3 1.0-1.1 0.5-1.4 0.2-1.7-0.6-1.3-0.7-1.6-0.4-1.7 0.2M119.5 406.5l-0.4 1.6-0.4 1.2-0.5 1.5-0.1 1.6 0.6 1.3M106.1 366.6l-0.6-1.3-0.4-1.7-0.6-1.1M107.6 366.9l-1.5-0.3-1.5-0.8-1.0-1.3M104.0 354.0l1.4 0.2 1.5-0.7 1.0-0.7 1.1-0.8 0.9-1.2 0.5-1.3 0.6-1.6M121.5 338.6l-0.4 1.2-0.3 1.2-0.8 1.5-0.4 1.8-0.5 1.3-0.8 1.0-1.2 1.2-0.8 1.0-1.1 1.1-0.3 1.3 0.1 1.3-0.8 1.5-1.2 1.3M84.3 307.5l-1.5-0.9-1.6-0.6-1.3-0.7-1.4-0.6-1.8-0.1-1.7-0.4-1.0-1.2-0.7-1.1M101.8 320.1l-1.0-0.9-1.5-0.4-1.0-0.7-1.3-0.6-1.4-0.9-1.3-1.1-1.6-0.4-1.8-0.2-1.3-0.1-1.5-0.6-1.1-1.0-0.7-1.3-0.8-1.2-0.9-1.4-0.4-1.7M120.2 373.3l1.4 0.3 1.1 0.8 1.1 1.3 0.9 1.0 1.1 0.9 1.4 0.5 0.9 0.9 1.0 0.8 1.2 0.5 1.7 0.4 1.2-0.2 1.5-0.2M75.0 399.2l-1.1-1.3-1.5-0.8-1.3-0.9-1.2-0.6-1.6-0.7-1.5-0.8-1.2-0.3M116.0 318.1l0.3-1.5 1.0-1.4 0.6-1.2 0.4-1.7-0.4-1.4 0.0-1.3-0.1-1.3-0.4-1.6 0.1-1.2-0.3-1.3-0.2-1.2 0.4-1.3 0.4-1.6 0.5-1.7 1.2-0.6 1.1-0.6 1.2-0.5" stroke="#a52828" stroke-width="1.05"/>
<path d="M148.5 388.1l-0.5-0.9 0.5-3.0M122.7 333.7l-0.6 0.0-0.8-0.6-1.3-5.0-2.3-4.4-1.3 0.3-0.2 0.9M109.8 316.4l2.9-0.1 3.4-0.8 0.6-2.2-1.4-0.9M111.0 362.9l-1.2-2.4-3.0-0.8-0.7-1.9-0.4-0.3-0.6-0.2-0.8-0.6-0.7 0.0-0.3 0.9M79.4 359.3l0.6 0.1 0.3 0.4 0.5 1.3 0.6 0.0M58.7 319.5l0.6 1.7 0.6 1.8M90.3 407.9l1.1-0.8 1.5-0.6 1.5-0.4 1.6 0.2M135.6 334.5l-0.0 1.7 0.8 1.5 0.6 1.3 1.0 0.9 1.5 1.0 1.5 0.8M131.5 385.4l1.4-0.1 1.0-1.2 1.3-0.8 1.4-1.0 1.4-1.0 1.2-0.4 1.7-0.1M131.0 390.4l0.4-1.2-0.3-1.2-0.2-1.3 0.7-1.3M130.8 335.8l-0.1 1.6-0.2 1.6 0.1 1.5 0.4 1.5 0.3 1.7-0.4 1.4M74.4 404.0l-0.4 1.4 0.1 1.3 0.4 1.3 0.1 1.5 0.3 1.6 0.6 1.5 1.3 1.1 1.0 0.9 1.0 1.3 0.9 0.8M54.6 351.5l-1.1 1.1-1.1 0.9-1.1 1.0-1.3 0.8-1.3 0.9-1.2 0.1M57.3 361.0l-1.7 0.4-1.5 0.8-1.4 0.7-1.2 0.8M53.4 355.4l1.0 1.1 1.0 1.1 1.3 0.5 0.6 1.5-0.0 1.4-0.1 1.4-0.3 1.8 0.2 1.3M57.9 340.0l0.4 1.2 0.3 1.6-0.2 1.3-0.4 1.4-0.3 1.4 0.0 1.2-0.6 1.4-0.5 1.2-0.9 1.1-0.8 1.5-0.8 1.0-0.8 1.1-0.6 1.4-0.5 1.4-0.7 1.6-0.9 1.2-0.6 1.2M45.7 397.0l-1.1-1.2-0.8-1.3-0.9-1.3-0.5-1.4-0.5-1.6-0.1-1.3-0.1-1.3-0.3-1.6M102.2 335.0l-0.1-1.3 0.2-1.4 0.4-1.2 0.4-1.1 0.9-1.3 1.0-0.9 1.3 0.0 1.3 0.1M137.3 413.3l0.6-1.2 0.6-1.6 0.9-0.9 0.9-1.5 1.3-1.1 1.6-0.8M77.7 352.8l0.3-1.4 0.4-1.7-0.0-1.5-0.2-1.2 0.1-1.5-0.5-1.7-0.3-1.6-0.1-1.7M43.7 341.3l-1.0-1.5-1.1-1.4-1.1-0.7-0.9-0.9-1.0-1.3-0.9-1.2-1.1-0.8-0.7-1.3-0.3-1.4-0.4-1.4-0.6-1.2-1.3-1.0M66.0 381.9l-1.6 0.3-1.5 0.2-1.1 0.5-0.7 1.4-0.1 1.7-0.2 1.4-0.4 1.5-0.2 1.5-0.5 1.5-0.6 1.3-0.9 1.4-1.1 1.4M58.5 332.6l1.0-0.7 1.6-0.4 1.2-0.9 1.4-0.1 1.1-0.6 1.4-1.1 1.0-1.5M119.6 380.2l1.3-0.9 0.3-1.6-0.2-1.2M65.7 333.2l-1.2-0.3-1.1-0.7-1.0-0.9-0.5-1.6M76.1 335.7l-1.3 0.5-1.5 0.2-1.3-0.1-1.4-0.8-1.1-0.8-1.5-0.5-1.2-0.8-1.3-0.1-1.5 0.1-1.1 1.0M138.4 392.0l1.3 1.2 1.1 0.9 1.3 0.7 1.1 1.1 1.3 1.2M65.2 398.0l0.1 1.2 0.1 1.5 0.1 1.2-0.4 1.5-0.6 1.5-0.4 1.4M140.8 338.1l-1.6 0.5-1.1 0.7-1.3 0.1-1.6 0.5-1.7 0.2-1.2 0.3-1.3 0.6-1.4 0.7-1.1 1.0-0.8 1.2-0.4 1.4-0.3 1.2-1.0 1.4-1.3 0.8-0.9 0.9-0.2 1.4M112.9 324.9l-0.4-1.7-0.4-1.4-0.6-1.4-0.7-1.5-0.2-1.8-1.1-1.4-0.6-1.7M119.6 330.2l-0.6 1.1-0.7 1.4-0.7 1.0-1.0 1.4-0.4 1.5-0.7 1.5-0.7 1.6-0.7 1.1-1.0 1.0-1.4 1.0-0.8 1.3-0.2 1.3M65.9 362.7l-1.2 1.0-0.4 1.6M114.6 319.2l-1.1 1.0-1.2 1.3-0.8 0.9-1.2 0.9-1.2 0.5-1.0 0.8-1.2 1.0-0.7 1.4-0.1 1.7 0.1 1.7 0.1 1.5 0.5 1.7M112.2 323.6l0.5-1.2 0.8-1.6 0.9-0.8 1.6-0.7 1.3-0.2 1.7-0.3M82.4 416.5l1.5-0.2M47.1 388.5l-1.1-1.0-1.5-0.2-1.1-0.6-1.3 0.0-1.5-0.9-1.1-0.9-0.6-1.4-0.0-1.5 0.1-1.3 0.1-1.6M91.8 363.3l-0.9 1.2M69.1 378.8l-0.2 1.4 0.5 1.4 0.5 1.4 0.5 1.5 0.1 1.3 0.2 1.2 0.4 1.6-0.1 1.4 0.3 1.3 0.2 1.4-0.4 1.3-1.1 1.1-0.8 1.1-0.8 1.1-0.2 1.3-0.2 1.6M54.6 346.4l-0.5 1.2-0.4 1.2-0.2 1.7 0.1 1.2 0.1 1.8M63.3 343.4l-0.6-1.2-0.4-1.5 0.6-1.4 0.6-1.2 1.0-1.4 1.2-1.2 0.5-1.4 0.2-1.6M72.8 409.3l0.3 1.3 0.1 1.6 0.4 1.4-0.3 1.2-0.4 1.6M81.9 341.6l-1.2-0.6-1.6-0.6-0.6-1.2-0.5-1.1-0.8-1.5-0.1-1.4M114.5 403.2l-1.5 0.8-1.3 1.0-1.7 0.5-1.0 0.6-1.5 0.4-1.3 0.3-1.5 0.9-1.6 0.8M135.0 407.3l1.3-1.1 1.5-1.0 1.2-0.4 1.2-0.3 1.7 0.1 1.0 0.8 1.3 0.9 0.6 1.4M37.7 359.8l-0.1-1.6-0.2-1.7 0.1-1.3 0.1-1.3-0.0-1.7-0.2-1.6-0.2-1.6 0.5-1.1-0.1-1.4-0.4-1.7 0.3-1.3-0.7-1.5-0.6-1.5 0.3-1.3M104.2 352.5l-0.1 1.5 0.1 1.5-0.1 1.7 0.6 1.3 0.5 1.2 0.2 1.4 0.5 1.7 0.6 1.5 0.6 1.6 1.2 1.0 1.0 0.7 1.3 1.2M39.1 411.5l-1.3-0.9-0.9-0.8-1.6-0.8M51.4 414.5l-1.7-0.5-1.1-0.8-1.3-1.1-1.4-1.1-1.3-0.7-1.6-0.4-1.3-0.1-1.6 0.7-1.0 0.9M86.2 350.2l-1.5 0.4-1.4 0.9-1.3 0.9-1.2 0.8-1.5 0.4-1.4 0.9-1.4 0.3-1.6 0.7-1.2 0.3-1.5-0.5M143.1 393.8l1.1-0.5 1.7-0.2 1.2-0.5 1.4-0.6 1.6-0.2 1.4 0.1 1.4 0.0 1.7-0.4 1.6 0.0M65.6 393.8l-0.5-1.3-0.7-1.2-1.0-1.5-0.7-1.5-0.3-1.4M75.0 410.5l-0.7-1.3-0.0-1.4-0.1-1.2 0.4-1.5 0.1-1.8-0.1-1.3 0.1-1.3 0.3-1.5 0.4-1.4" stroke="#cc3838" stroke-width="1.05"/>
<path d="M141.9 374.9l2.1-0.7M138.9 413.0l1.7-1.4M42.9 390.9l-0.7 0.6M118.4 355.8l-0.8-1.1M129.9 341.9l0.4 1.1M112.1 419.4l-1.0-0.4M112.2 327.5l-1.5 1.2M49.8 405.8l0.4-1.8M123.7 314.5l-0.8-1.9M69.5 321.6l-1.3-1.4M55.2 371.7l-0.1 0.9M71.1 397.1l2.0 0.7M134.7 348.3l-1.7-0.9M117.3 319.6l-0.5 0.8M67.0 399.5l-0.1 1.4M52.1 418.8l-0.5-0.6M119.5 341.7l0.5 1.6M111.8 361.6l-1.5-0.4M81.9 386.3l0.1 0.7M48.7 354.9l-0.0 1.1M55.2 405.7l-0.3 1.9M118.5 322.9l0.8-1.5M88.4 368.6l0.1 0.9M85.9 414.1l1.0-0.5M52.8 393.3l-1.6-0.9M45.5 320.5l-0.4-1.2M125.3 332.5l0.8 1.4M129.0 395.0l-0.6 1.6M105.2 331.2l-1.7 0.1M114.1 332.6l0.2-0.6M88.7 361.1l-0.6 1.6M134.3 403.6l-0.5 1.6M129.0 332.9l-0.2 1.3M129.3 390.8l-0.8-1.8M103.1 412.9l-0.2-1.8M114.5 355.1l-1.1-1.4M48.3 359.7l-1.8 1.0M60.0 375.3l0.9 0.2M37.6 332.3l-0.2 0.9M104.8 395.9l0.2-1.0M123.3 419.6l1.0-1.6M139.7 405.5l0.5-0.6M85.0 390.9l1.4 1.5M93.5 325.5l-0.7-0.1M60.3 391.3l1.3 0.4M78.5 347.9l-1.0 0.7M91.8 335.9l-0.6-0.7M123.5 394.3l-1.0 0.0M96.2 402.2l0.3-0.5M117.5 405.1l-1.1 1.3M130.2 314.7l0.2 1.9M132.2 378.2l0.7-0.2M64.0 318.3l0.6-0.5M109.9 397.6l0.2 0.9M121.1 340.1l0.6-0.3M50.3 351.5l2.0 0.0M55.0 328.5l0.3 1.0M94.8 359.4l1.6-1.2M39.1 336.4l0.7 0.4M71.7 414.4l-0.8 0.1M101.7 344.7l-1.9-1.0M64.9 319.9l0.3-0.6M73.4 342.0l0.8-1.8M43.0 330.0l-1.4 0.8M53.6 345.9l1.6 0.7M73.7 348.0l0.7 1.8M68.3 358.2l0.8-0.6M85.2 409.5l1.5 0.6M55.6 409.7l-0.7 2.1M60.6 319.2l1.8-0.0M109.6 350.9l-1.7 0.8M116.1 395.8l-1.5-1.0M68.8 363.4l-0.8 1.3M62.7 362.4l0.2 0.6M77.6 334.4l0.5 0.8M95.0 415.0l1.3-0.4M50.6 403.1l1.2-0.9M51.0 367.1l0.1 0.7M91.4 362.5l-1.7 0.0M64.9 357.6l0.5 0.5M40.6 372.4l0.1-1.1M57.0 352.0l-0.7 0.3M108.3 348.1l2.0 0.4M91.4 331.2l1.3-0.1M107.8 415.6l-0.6 0.2M44.2 323.0l0.4 1.5M80.6 314.7l1.7-1.3M64.3 316.3l-0.7-0.5M121.0 405.2l0.0-1.0M42.7 407.1l0.8 0.1M114.9 345.7l-0.6 1.4M93.7 351.7l0.3 0.6M90.5 317.8l0.3 0.9M46.6 318.9l-0.3 0.9M137.6 320.7l-0.1 1.5M93.6 377.5l-1.7-0.3M115.2 359.8l1.6-1.2M74.0 405.5l0.3-0.7M133.3 316.6l-0.4-0.7M104.1 364.2l-1.9-0.6M43.2 370.5l2.0-0.9M128.8 400.1l-0.4 0.8M123.8 327.8l1.2 1.0M130.5 414.2l2.1 0.5M118.9 380.4l0.2-0.8M125.6 335.5l1.1-1.2M50.2 389.6l-0.8 1.0M41.4 394.0l-0.6 1.0M60.0 410.4l1.5 1.3M65.1 410.0l-1.7 0.3M49.9 401.4l0.1-1.0M39.5 331.5l1.1-0.6M49.1 404.5l-0.7-0.4M38.3 379.3l-0.7 1.1M93.7 324.8l-0.3 1.4M106.1 402.4l0.2 1.2M126.7 412.5l1.0 1.4M106.5 340.3l0.2 0.8M106.6 349.2l-0.4-2.1M50.4 396.3l-1.3 1.4M137.9 408.0l-1.9-0.3M81.9 410.6l-1.0 1.7M80.0 315.5l0.1 0.7M78.7 333.7l-0.6 0.6M62.8 319.9l0.2-1.0M133.6 370.3l1.8 0.6M140.1 400.7l-1.0-1.1M125.5 313.5l-2.1-0.4M108.8 389.0l0.3 1.1M45.4 419.7l0.5 1.4M66.7 349.6l-0.9-1.7M122.8 324.9l-1.7-1.2M123.6 332.6l0.9 0.0M96.9 417.6l0.5-0.7M60.0 418.8l2.1 0.0M55.2 393.9l0.9 0.7M77.0 330.6l0.2-1.0M106.5 371.1l0.1 2.1M51.2 313.6l1.6 1.5M53.1 413.8l0.8-2.0M39.0 359.3l0.9 0.7M47.0 365.0l-0.5-1.9M58.3 371.0l0.4 0.9M44.4 403.7l-0.9-1.8M110.2 367.5l1.1-1.4M60.7 406.4l-0.9 0.7M113.5 387.1l-1.0-1.3M108.6 325.9l-0.1 1.8M84.3 357.0l0.5-1.9M115.1 355.2l-0.6 1.3M66.9 356.6l0.6-0.2M75.9 407.1l0.1-1.7M50.3 372.8l-0.1 0.6M116.4 388.9l-0.8 1.3M54.8 319.0l1.2-0.5M85.7 332.1l-0.5 1.5M75.0 381.3l1.3-0.6M88.0 397.9l1.5-0.2M71.6 319.0l-0.3-0.8M86.3 345.6l-1.1-0.6M118.6 363.7l0.9-0.2M124.6 362.3l-1.0-1.9M63.8 368.6l-0.7-0.1M86.7 393.0l-1.3-0.7M111.1 411.2l1.0-0.8M56.2 364.4l-1.4-1.5M40.5 416.9l0.4 0.6M117.8 356.1l-1.6-1.3M51.4 348.6l0.6-1.3M46.1 358.4l1.5 1.5M141.8 319.1l0.8 0.0M123.9 406.8l-0.3 0.7M60.7 391.9l0.2-1.8M112.0 358.7l-1.3-0.9M83.9 336.4l1.4 0.7M44.8 318.4l1.2-0.6M124.5 381.4l1.1 1.8M52.1 347.1l1.1-0.8M123.9 399.5l-1.1-0.2M99.7 368.3l0.8 0.1M82.2 411.3l1.8 0.7M119.0 418.7l-0.2 0.8M104.4 402.5l-0.7 1.4M71.3 328.6l-0.7-0.6M101.7 324.1l-1.0 0.1M88.7 393.2l-1.7 0.5M120.1 339.5l1.5 0.8M138.0 354.6l0.8-0.1M58.4 357.4l0.1 1.5M47.7 364.4l0.9 1.5M143.0 313.6l-1.4-0.8M129.6 401.1l-1.3-1.4M60.3 403.7l-0.1 1.1M78.3 331.2l1.0-1.3M65.2 381.4l-1.8 0.6M72.3 382.8l1.1 0.2M93.2 415.7l1.7 0.8M42.8 402.9l0.9-0.6M95.4 368.8l-0.5 0.3M109.3 410.5l-1.5-1.1M119.4 385.4l-1.2 1.2M61.4 357.6l0.9-1.5M47.0 403.2l-1.5 1.0M142.5 414.4l1.4-0.9M42.1 366.6l-0.3 1.2M110.7 366.6l-1.5 1.5M44.8 369.0l-0.5-0.4M113.9 359.4l-0.2 2.0M108.7 379.1l-1.1 1.2M122.5 361.6l-1.0 1.9M111.1 325.1l-0.2 1.3M62.8 327.3l-0.3-2.1M76.0 408.6l0.4-0.4M111.8 321.5l0.5 0.5M71.4 388.5l-0.9-1.5M92.5 369.9l-1.4 0.2M115.9 376.7l0.2 1.0M111.1 395.7l1.0 1.7M140.4 314.5l0.7 0.8M38.6 411.7l-0.5-0.7M134.8 369.9l0.7-0.3M109.3 335.8l1.8-0.2M51.1 380.9l1.1 0.7M81.2 418.9l-0.5 0.6M77.9 364.8l-1.2 1.2M52.4 348.6l1.3 0.4M68.2 344.5l0.4-1.0M111.4 385.6l0.6-1.1M80.8 322.0l1.0-1.5M51.8 391.0l0.0-1.5M114.6 407.9l-1.0-0.6M103.2 316.8l0.1 1.8M115.5 388.0l0.8-0.6M99.4 375.8l-0.1-2.0M129.9 402.7l-0.6 1.5M125.7 384.8l-1.1-1.8M115.3 400.8l-0.2 0.7M51.8 402.4l1.7-0.2M111.7 374.2l-1.2-1.4M48.9 341.1l0.6 0.0M47.8 317.6l-1.2-1.3M97.8 402.2l-0.1-1.8M141.3 407.5l-1.4 1.1M117.2 375.7l-1.5-0.2M80.7 338.5l1.0 0.4M115.9 411.4l-1.1-0.6M125.5 392.6l-0.6 1.3M39.8 418.3l-1.4-1.3M117.8 373.3l-0.0-1.3M123.2 416.2l0.7-1.6M143.6 373.5l0.5-0.6M105.2 411.6l0.0 2.0M85.3 324.3l-1.4-1.5M56.9 403.8l-0.4-1.0M134.7 380.0l-0.3-0.6M55.4 372.9l1.0 1.6M62.8 353.9l2.1 0.3M106.0 389.9l0.5 1.6M69.5 395.8l-1.6 1.2M103.4 335.5l0.8 1.5M107.2 419.7l0.7 0.3M100.9 340.6l-0.6 0.3M54.5 314.8l-0.9 0.8M142.5 361.4l-1.9-0.0M125.1 403.5l1.2-1.2M83.8 398.4l-1.1-0.7M142.2 384.2l0.4-1.8M114.9 370.1l1.1-1.2M45.5 375.1l0.8-1.4M103.6 367.6l-0.6 1.6M140.8 368.0l0.1 1.3M72.2 317.5l0.5-2.1M127.7 377.1l-1.7 0.8M48.9 325.3l-1.0 1.6M117.4 324.3l-0.2-1.8M135.1 399.4l-1.2-0.1M93.0 359.2l1.6 0.7M108.2 378.8l-0.8 0.9M37.4 401.0l1.4 0.1M131.1 348.4l-1.6 1.1M73.9 347.7l-1.8 0.3M135.2 388.1l-1.2 0.1M63.4 353.9l1.2 0.4M138.7 323.7l0.4-0.8M76.8 401.3l-0.8 0.4M56.1 329.2l-0.7-0.3M129.7 349.5l0.9 0.1M47.4 395.5l1.0-1.6M71.3 323.6l0.1 0.7M53.1 335.3l-1.9 1.1M133.2 368.9l-0.6 0.6M81.6 402.1l0.9 0.3M60.6 350.4l-0.1-1.0M59.5 406.9l1.7 0.7M65.0 327.3l-1.7-0.7M105.6 320.0l-0.8-0.0M139.7 326.7l1.2-1.2M65.7 384.9l-1.4 0.2M97.2 321.5l0.3 1.6M95.3 364.9l-0.4 1.1" stroke="#b83030" stroke-width="1.16"/>
</g>
<clipPath id="cv106"><rect x="149.3" y="313" width="107" height="107"/></clipPath>
<rect x="149.3" y="313" width="107" height="107" fill="#060606"/>
<g clip-path="url(#cv106)" fill="none" stroke-linecap="round" stroke-linejoin="round" filter="url(#soft)">
<path d="M252.2 359.5l0.1-0.1-0.7-0.6-0.5-0.2 1.5-1.6 2.9-1.3 1.2 0.2 0.4 0.4 1.1-0.7 0.1-1.3 0.6-0.8 0.6-0.2 0.5-0.3M261.5 347.4l-3.7 1.5-2.8 0.9-1.0-1.2-2.3-1.2M179.4 373.0l-2.6-1.1-1.6-0.6 0.4 0.0-0.5-0.8-0.6-1.1-0.2-1.1-2.2-0.8-3.4-1.2 0.7-0.5-0.7-0.2 0.5-1.8 1.3-1.5-0.6-0.8 0.1-1.0M164.1 341.5l0.7 0.1 2.4 0.4-0.3 0.1 0.5-0.5 1.9-1.3 2.5-1.8 3.1 1.8 2.9 1.1-4.4-0.2-4.2 1.6-2.2 0.1 0.4-0.4-0.1-0.4-0.2 0.1M181.8 308.7l-0.2-1.0-1.8-1.4-1.2-0.6-1.9-0.5 0.2-0.7-0.4-0.1-1.8 1.1-0.5-0.0 0.3 1.8 1.0 0.7M170.0 323.7l1.9 0.1 0.4-0.9 1.2 0.5 0.3 0.1 0.6 5.3 1.9 4.2M200.9 387.6l-2.2-1.9-0.6-2.6 1.2-0.5 0.0-0.5 0.9-1.2 0.6-2.3 1.9-0.8 2.5-1.0 0.0 1.0 0.6-0.9 0.5-0.1 0.0 0.4 1.3 0.2 0.8 0.0 0.7-0.5 1.6 0.2 1.1 0.1-0.5 0.6 0.5 2.5-0.1 3.6M156.2 394.1l0.0-1.5-2.6-0.4-1.8-0.3-0.6 0.4M220.4 347.8l0.6-0.8 0.1 0.4 3.1 2.5 2.9 3.2 0.1 0.9-0.1 0.9 2.1-0.5 3.2 0.4M217.7 403.5l-3.3 1.0-2.4 0.4 0.3 3.2 0.3 2.8M127.5 313.1l5.3 1.1 6.2 0.4 2.7 3.1 3.2 2.0M219.4 370.2l0.0-0.3 1.3-0.5 0.9-2.6 0.4-1.7-0.7-0.4-0.5-1.5-3.7-0.4-6.2 1.2-0.5-2.3 1.0-1.6-0.1 0.3 0.3-0.8M166.8 392.9l1.3-0.0-0.5 0.3M172.2 424.1l0.2-1.0-0.2-0.5 1.2-1.2-0.2-2.7-0.5-1.0-0.6 0.3-3.5 2.1-1.4 1.2M223.8 317.6l-0.9-1.6-0.8 1.2-0.9-1.4-1.3-2.3-1.2 0.4-1.0-0.7 0.2-0.6-0.3 0.7-0.4 2.9 0.2 3.5-0.9 0.6 0.1-0.5M234.9 357.2l2.8-3.0 0.8-1.9 1.0 1.8 2.3 1.1 2.3-0.2 1.3-0.5 0.6-1.2 0.7-1.2M246.8 352.0l2.7-0.4 0.7-1.7 1.4-0.1-0.1-2.0 0.5 0.3-0.1-0.6M250.5 365.1l-1.5-2.1 0.0-1.7-1.8 1.0-0.4 0.2 0.9 3.4 0.3 1.9 0.5-0.4-0.5 0.4M201.8 360.9l-0.1-0.4 0.0 0.1-3.2-0.5-3.0 1.3-1.4 1.7-1.1 1.1-0.5-0.1-0.1 0.5-0.3-1.4-0.7-1.5 1.4-2.6 0.1-1.6M256.8 369.4l0.3 0.9-1.0 0.5 0.2 0.4 1.6 1.7M167.2 354.5l-1.2-0.5-1.1-0.9-0.6-1.5-0.3-1.2M201.2 363.1l1.4 0.1 1.6-0.7 1.5-0.7 1.1-1.3 1.1-0.7 1.2-0.9 1.1-1.2M206.3 354.0l-0.7-1.0-1.0-1.0-1.3-1.2-1.5-0.5-1.5-0.1-1.6-0.5M190.3 349.9l-1.7 0.0-1.7-0.4-1.6-0.1-1.2-0.8-1.4-0.9M181.3 346.8l1.0 1.2 1.4 0.8 1.2-0.1 1.7-0.3 1.4-0.3 1.5-0.3M177.1 350.5l0.7-1.5 0.9-0.8 1.1-0.9 1.5-0.6 1.4-0.7 1.4-0.0 1.5-0.1 1.3-1.0 1.1-0.9 1.4-0.5 1.2-0.4 1.1-1.0M237.0 333.7l0.3-1.2 0.7-1.5 0.8-0.9 0.7-1.3 1.1-1.2 1.0-1.2 0.9-1.4M168.1 339.5l-0.5-1.4-1.6-0.8-1.4-1.2M240.3 389.5l-0.5 1.2 0.0 1.6 0.1 1.2-0.0 1.7 0.7 1.2M200.8 377.2l-1.7 0.4-1.6 0.5-1.1 1.0-1.0 0.9-1.2 0.3M203.3 370.7l-0.7 1.1-0.2 1.2-0.3 1.6-0.6 1.2-0.7 1.5-1.4 0.9M185.1 317.6l-0.5 1.6-0.5 1.7-1.1 1.3-0.8 1.3-1.0 1.0-1.7 0.2-1.7-0.6-1.6-0.0-1.7 0.6M181.6 360.8l0.2 1.4 0.3 1.5 0.2 1.4 0.8 1.4 1.3 1.1 1.0 0.6 0.8 1.0M183.8 349.1l-1.6-0.6-1.0-1.2-0.7-1.1-0.4-1.6-0.1-1.7-0.1-1.2 0.0-1.4M241.6 328.1l-1.5 0.2-1.6 0.5-1.4-0.1-1.3-0.2-1.3 0.2M238.0 345.9l-0.6-1.5-0.5-1.6-0.0-1.7 0.4-1.5 0.8-1.4 1.2-0.9 0.3-1.2 0.5-1.5 0.9-1.0 0.7-1.0 0.3-1.6 0.0-1.3-0.4-1.4-0.2-1.3-0.6-1.5-0.4-1.6-0.8-1.2M200.1 378.5l-1.1 0.9-0.6 1.1-0.3 1.5-0.1 1.4M203.9 340.4l0.6 1.3 0.5 1.4 0.3 1.3M202.2 340.0l1.7 0.4 1.5 0.4 1.5 0.0 1.3-0.1 1.5-0.5 0.9-1.5 0.7-1.1 1.0-0.8 1.5-0.9 0.4-1.3M153.6 321.0l1.1-0.5M232.2 364.1l-1.4 0.1-1.6 0.4-1.7-0.1-1.4 0.6M173.7 340.5l-0.8-0.9-1.1-1.3-1.3-0.9-1.3-0.2-1.7-0.3-1.5 0.2M180.5 322.3l-1.1-1.1-1.4-1.0-1.2-1.0-1.1-1.4-1.3-0.3-1.6 0.0-1.2 0.4M206.6 382.0l1.0 1.2M195.2 402.1l1.5-0.8 1.7-0.4 1.3-0.5 0.7-1.3M197.4 406.1l-0.3-1.8-0.9-0.9-1.0-1.3-0.3-1.6 0.4-1.4M185.2 352.6l-1.6 0.6-1.4 0.5-1.0 0.8-1.2 0.8-0.5 1.3M186.3 353.6l-1.0-1.0-1.1-1.4-1.1-1.4-0.7-1.4-0.5-1.1-0.2-1.4-0.5-1.7-0.2-1.8M187.7 356.9l-0.3-1.2-0.9-0.9-0.1-1.3-0.7-1.2-0.7-0.9-0.5-1.1-0.4-1.2-0.0-1.5 0.3-1.7-0.0-1.4-0.1-1.5-0.4-1.4-0.3-1.6M157.4 357.1l1.3 0.6 1.3 0.8 1.0 0.8 1.3 1.1M256.0 340.0l1.2-0.9 1.3-1.3 0.4-1.4M238.4 342.4l1.4 0.6 1.1 0.5 1.7 0.4 1.7 0.3 1.3-0.2 1.3-0.6 1.3-0.6 0.9-0.9 1.2-0.7 1.5-0.8 1.7-0.3 1.2-0.5 1.4 0.4M238.2 333.7l1.2-0.8 0.7-1.1 0.3-1.6 0.2-1.5-0.0-1.5-0.1-1.6M207.2 335.4l0.8-1.4 0.5-1.7 0.7-1.3 0.5-1.2 0.5-1.4 0.3-1.4 1.1-1.2 1.5-0.9 1.7-0.2 1.7-0.3 1.5 0.4 1.3-0.1 1.1 0.7 0.7 1.4 0.3 1.8 0.4 1.8M195.0 328.0l1.1-1.0 0.9-0.9 0.9-1.2 1.6 0.3M242.2 328.9l-1.1-1.0-1.2-1.2-0.6-1.2-0.5-1.4 0.3-1.8 0.4-1.7M250.8 323.6l-1.6 0.7-1.2 0.5-1.1 0.5-1.5 0.9M252.5 351.4l-0.6 1.3-0.9 1.2-0.6 1.1-0.9 1.0-0.9 1.3-1.1 1.1-1.5 1.0-0.7 1.0M255.5 356.8l1.5 0.2 1.6 0.5 1.8 0.1M256.2 360.2l1.2 0.3 0.7 1.6 0.1 1.4M251.1 347.7l0.3 1.2 0.6 1.3 0.5 1.2 0.6 1.6 0.8 1.3 0.9 1.3 0.7 1.2 0.5 1.7 0.2 1.8 0.2 1.6 0.2 1.3M168.5 401.1l-1.3 0.6-1.7 0.3-1.7 0.5M170.4 407.0l-1.0 1.2-1.0 1.1-0.6 1.1M168.3 399.6l0.3 1.5 0.2 1.2 0.0 1.5-0.1 1.4-0.4 1.3-0.0 1.6M207.6 345.4l1.2 0.0 1.4-0.4 1.3-0.1 1.4 0.0 1.6 0.0 1.7 0.1 1.5-0.0M200.2 359.5l-1.8-0.3-1.7-0.4-1.1-0.7-1.5-0.8-1.3-0.4-1.8-0.2-1.4-0.4-1.3-0.5-1.7-0.5-1.7-0.5-1.5-0.3M264.8 330.4l0.8 1.1 0.8 1.2 0.8 1.4 0.4 1.2 0.4 1.4 1.0 1.3M170.7 336.9l-1.3 0.5-1.2 0.7-0.9 1.1-0.8 1.1M173.1 343.2l-0.7-1.3 0.5-1.3-0.0-1.5 0.6-1.6 0.6-1.3 0.1-1.3-0.1-1.4-0.1-1.3-0.4-1.5 0.6-1.4M237.7 407.1l-0.7-1.2M200.3 353.2l1.1-0.4 1.3-0.6 1.6-0.1 1.6 0.1 1.5-0.3 1.3-0.4 1.1-0.6 1.5-0.1M199.3 350.5l0.3 1.6 0.6 1.1 0.4 1.7 0.6 1.6 1.1 1.1 1.3 1.2 1.3 1.2 0.8 1.0 0.5 1.7-0.1 1.5M226.3 338.4l-1.4 0.8-0.8 0.9-1.4 0.5-1.3 0.8-1.0 0.8M253.6 359.2l1.5 0.1 1.3 0.1 1.5-0.0M240.9 363.9l0.8-0.9 0.9-1.3 1.1-1.3-0.1-1.5 0.4-1.5M255.1 356.8l-0.8 1.0-0.6 1.4-1.1 1.0-1.3 0.9-1.1 1.0-1.3 1.2-1.7 0.7-1.7 0.3-1.6 0.1-1.5 0.0-1.6-0.4-1.3-0.3-1.6-0.3M177.1 345.9l1.4-0.5 1.4-0.6 1.6-0.1 1.6 0.3 1.4 0.1M141.1 346.2l-0.2-1.8-0.2-1.6-0.6-1.4-0.3-1.5-0.4-1.5-0.3-1.7M155.9 358.3l-1.3-0.7-1.3-0.6-1.7-0.6-0.5-1.2-1.0-1.4-1.1-1.3-1.1-1.4-0.8-1.4-1.5-0.6-1.2-0.5-1.1-0.5-0.8-1.0-1.5-1.0-1.1-0.5-1.3-0.1M251.3 342.6l1.1-1.0 0.7-1.1 0.5-1.5 0.5-1.3 0.5-1.7 0.3-1.4 0.1-1.6M199.4 383.6l0.5-1.1 0.6-1.4 0.5-1.3 0.6-1.3M200.6 384.4l-1.1-0.8-0.8-0.9-0.7-1.1-1.0-0.8-1.0-0.8-1.0-0.9-0.8-1.4-0.9-1.2-1.1-1.2-1.4-1.0-1.3-0.5-1.3-0.5" stroke="#741c1c" stroke-width="1.05"/>
<path d="M255.1 363.0l1.1 0.8-1.1 2.5M182.3 309.5l3.0 1.6 2.4-0.2 0.3 1.2-0.6 0.5-4.2 0.7-3.1 1.3-0.8-0.8 0.2-0.8-1.0 0.4-0.5 1.4-0.0 1.2 0.4 0.9-1.7 0.3-2.3-0.6 0.5-0.6-0.7-1.2-1.4-0.7-2.2-2.0-0.1 2.0-1.7 1.1M242.7 338.6l-0.3-0.3 0.7-1.3-2.8-2.5-2.6-2.5 2.0-1.4 2.0-1.1M202.0 358.7l0.2-1.0-0.5-0.9 1.3-1.5 2.1-1.7-0.3-1.5-0.1-1.8 1.4-0.8 1.0-0.8 1.4-1.3-0.1-1.8M167.4 342.3l-0.2 1.1 0.1 2.6-2.6 0.8-2.3 2.9-0.3 0.1-1.5 0.0M166.8 381.9l-0.1-1.7 2.1-0.2 0.6 0.0 0.3-0.3 0.5 0.2-0.4-0.2M222.5 303.9l1.6 2.3 1.6 1.0 3.9-2.7 2.3-1.7M228.5 319.9l-0.6-0.6 0.2-2.4-0.3 0.5-1.4-1.4M246.7 357.1l-0.4-0.9-0.8-1.8M258.3 355.6l0.4 0.3 0.0 0.9M252.3 373.0l-1.9 0.1-2.5-1.6-0.8-0.2 0.6-0.3 0.2-1.9-0.0-1.5 1.2-0.5 1.2-1.0M239.9 347.4l-0.6 0.0-1.4 0.5-0.9-2.4-0.3-2.9 2.3-1.4 1.3-2.4M150.8 375.0l2.0 3.2 2.4 2.5M143.5 396.6l-2.3 3.3-2.3 4.4M172.7 361.8l-1.3-0.7-1.1-1.1-1.2-1.2-0.7-1.2-0.7-1.5-0.4-1.6-0.3-1.4M200.5 336.4l0.9 1.1 0.4 1.2 0.1 1.5 0.9 1.2 1.3 0.6 1.6 0.5 1.2 0.2 1.1 0.4 1.4-0.0 1.2-0.2 1.3-0.6 1.4-0.9 1.5-0.5M201.1 364.8l1.7 0.5 1.1 0.6 1.2 1.0 1.6 0.6 1.7 0.2 1.6 0.3M200.6 366.4l0.5-1.5 0.1-1.7-0.4-1.5-0.1-1.4-0.9-1.2M227.8 414.8l0.4 1.4M227.9 411.8l0.0 1.8-0.2 1.2 0.2 1.5M190.6 350.9l-1.5 0.7-0.8 0.9-0.6 1.7M198.7 349.6l-1.5 0.3-1.1 0.5-1.3 0.2-1.3 0.5-1.3-0.1-1.5-0.2-1.6 0.0M225.2 382.1l-1.0-0.9M188.6 350.0l0.1-1.3-0.1-1.8-0.2-1.5-0.7-1.4-0.5-1.7-0.9-0.9M194.4 366.4l0.1-1.5-0.3-1.4-0.1-1.3 0.3-1.7 0.5-1.5-0.8-1.1-0.8-1.0-1.2-1.3-0.9-1.5-0.1-1.4-0.3-1.3-0.4-1.5-0.3-1.3M184.7 357.1l-1.0 1.4-0.7 1.2-0.6 1.5-0.4 1.6-0.3 1.4M183.7 348.7l0.2 1.2 0.2 1.4-0.2 1.2 0.7 1.6 1.2 1.3 0.9 0.9 0.4 1.4 0.2 1.3M188.0 348.1l0.2-1.7-0.1-1.2 0.1-1.7M237.3 332.5l1.6-0.1 1.7-0.0 1.4 0.2 1.4 0.9 1.6 0.4 1.6-0.1 1.3-0.1M186.0 320.9l1.0-1.2 0.9-1.1 1.1-1.2 1.0-0.7 1.1-0.8M242.0 350.9l-1.1-1.2-0.8-1.5-0.4-1.3-0.3-1.4-0.1-1.3-0.5-1.6-1.0-1.4-1.3-1.1-1.3-0.9-1.1-0.6-1.4-0.3-1.2-0.7-1.1-0.7M166.4 331.8l0.2-1.3 0.5-1.7 0.8-1.4 0.7-1.0 0.5-1.5 0.8-1.1M170.6 342.4l-0.2-1.2-0.2-1.6 0.0-1.8-0.0-1.7-0.6-1.6-0.7-1.0-0.5-1.2-0.0-1.2 0.0-1.7-0.2-1.3-0.6-1.1-1.1-1.2-1.7-0.2M239.8 390.7l-0.9-0.9-0.7-1.3-0.5-1.2-0.9-1.2M202.8 367.8l0.3 1.3 0.3 1.7 0.4 1.4 0.5 1.7M177.7 324.2l-0.3-1.4 0.1-1.4 0.1-1.7 0.7-1.1 0.2-1.5-0.6-1.1M188.8 346.3l1.3-0.6 1.2-1.1 1.0-1.0 0.6-1.3 0.6-1.4 0.1-1.6 0.1-1.2-0.2-1.3-0.3-1.5-0.0-1.7 0.4-1.1 1.1-0.9 1.4-0.8 1.3-0.2M176.1 360.0l1.3-0.5 1.1-0.8 1.4-0.2 1.4-0.2M183.8 353.0l1.4-0.9 1.4-0.7 1.5-0.3 1.8-0.1 1.5-0.1 1.6-0.1 1.5 0.4M174.4 359.6l1.7 0.5 1.6-0.1 1.4 0.2 1.1 0.4 1.3 0.3 1.8-0.3 1.3-0.7 1.1-0.8 1.2-1.0M239.6 336.0l1.7-0.4 1.0-0.6 1.2-1.1 0.9-1.0 0.9-0.9M201.1 368.0l-0.4 1.5-0.0 1.6 0.0 1.3-0.1 1.7-0.1 1.4-0.3 1.6-0.2 1.6-0.6 1.1-1.3 1.1-1.4 0.6M152.9 391.2l-0.0 1.4-0.3 1.5-0.0 1.5M210.2 360.0l1.3-0.9 1.5-0.4 1.4-0.9 1.7-0.3 1.7-0.5M210.9 361.3l0.5-1.5 0.3-1.5 1.2-1.3 1.3-0.8 0.8-1.1 0.9-1.0 1.5-0.6 1.7-0.6M206.8 358.3l1.5-0.1 1.2 0.7 0.7 1.0 0.7 1.4 1.0 1.3 0.3 1.2 0.6 1.1M232.0 334.6l-1.3-0.8M232.2 337.6l0.3-1.6-0.6-1.5-0.4-1.4-0.2-1.5 0.0-1.5-0.1-1.4-0.1-1.3-0.5-1.6M236.7 332.9l-0.6-1.6 0.1-1.3-0.4-1.4-0.7-1.4-1.1-1.1-0.9-1.3M244.7 324.8l1.3-0.1 1.8-0.0 1.3-0.9 1.5-0.7 1.6-0.9 1.4-0.9M229.3 337.3l1.3 0.4 1.6-0.1 1.3-0.3 1.0-0.7 0.8-1.1 0.9-1.4 0.4-1.3 0.5-1.2 0.7-1.2 1.0-1.2 1.1-1.1 0.8-1.4 1.2-0.6 1.4-0.4 1.3-1.0 1.0-0.9M200.1 377.7l-1.6 0.3-1.4 0.1-1.6-0.5-1.2-0.5-1.2-0.8-1.0-0.7-1.1-0.8-1.0-0.7M203.7 375.6l-0.8 0.9-1.2 0.6-1.6 0.5M209.6 374.5l-1.5 0.0-1.6 0.4-1.2 0.3-1.7 0.3-1.7 0.0-1.4 0.2-1.6-0.1-1.5-0.0-1.5-0.0-1.5 0.3-1.6 0.1-1.5 0.5-1.5 0.7-1.2 0.5-1.0 1.5M182.2 406.8l-1.1-0.7-1.6-0.1-1.6-0.6-1.2-0.8-1.7-0.3-0.8 1.2-0.1 1.4M173.5 343.1l-0.6-1.1-0.5-1.3-1.2-1.2M173.4 346.1l0.1-1.3 0.0-1.6 0.0-1.2 0.2-1.4-0.5-1.2M181.5 360.3l-0.5-1.5-0.3-1.7-0.6-1.5-0.1-1.2-0.4-1.7-0.7-1.1-0.9-0.9-1.4-1.1-1.2-1.0-1.0-1.3-1.0-1.2-1.6-0.3-1.4-0.2M170.5 417.8l-1.4 0.2-1.3 0.1-1.6 0.1M171.5 417.1l-1.0 0.8M238.6 416.8l1.1 1.4 0.4 1.6 1.1 0.9 0.8 1.0M184.1 407.6l-1.2 0.9-0.7 1.2-0.5 1.3-0.8 1.1-1.1 1.1-1.4 0.6-1.2 0.6-1.2 0.6-1.2 0.7M244.4 376.3l0.1 1.7 0.5 1.1 1.4 1.1 1.6 0.5 1.4 0.9 0.9 0.9M242.6 343.9l0.6 1.4 0.6 1.1 1.6 0.3 1.8 0.1 1.5 0.4M251.7 340.4l1.0 1.1 1.0 1.2 1.5 0.9 1.2 0.0 1.2 0.4 1.4 0.5 1.6 0.7M227.7 348.7l-1.2-0.5-1.4-1.0-1.0-0.7-1.1-1.4-0.2-1.7M236.7 335.5l-0.9 0.8-0.8 1.1-1.1 1.3-1.3 0.4-1.3 0.7-0.4 1.4-0.6 1.7-0.6 1.6-0.7 1.2-0.4 1.4-0.7 1.6-0.4 1.6M240.1 331.9l1.2-0.6 1.4-0.3 1.1-1.1 1.2-0.9 0.8-1.0 1.4-0.8M241.2 336.5l-1.1-1.1-1.1-0.8-0.8-0.9-1.3-0.7-0.9-1.0-0.5-1.6 0.3-1.7 0.4-1.6 0.4-1.5M181.9 319.1l-1.3 0.7-1.2 0.2-1.5 0.9-0.5 1.6-0.0 1.5 1.1 1.1 0.7 1.1 0.7 1.4 0.5 1.4 1.0 1.5 0.9 1.1 0.9 1.0 1.4 0.7M155.7 370.8l1.1 0.9M194.8 329.2l0.1-1.3 0.2-1.7 0.3-1.6 0.5-1.5 0.1-1.7 0.5-1.7 1.0-0.8 0.6-1.1 1.1-0.8 0.9-1.0 0.7-1.4 0.7-1.2 0.5-1.3 0.7-1.6M239.1 322.4l1.3-1.1 0.8-1.2 0.8-0.9 1.2-0.9 1.0-1.1 1.2-0.6 1.0-0.8M179.2 377.7l-1.6 0.4-1.2 0.8-1.5 0.9-1.4 0.4M177.0 385.5l-0.1-1.6 1.2-0.6 1.4-0.8 0.7-1.1-0.1-1.2-0.1-1.4-0.6-1.1M180.1 368.7l0.9-0.8 0.7-1.6 1.0-1.4 0.8-1.5M181.1 378.9l0.3-1.5 0.1-1.6-0.1-1.8-0.1-1.6-0.0-1.4-0.9-1.0-0.3-1.3-0.1-1.7 1.1-1.3 1.2-0.7M252.4 361.2l0.6 1.2 0.5 1.6 0.4 1.3M251.0 361.6l1.4-0.5 1.6-0.3 1.3-0.2 1.3 0.1 1.7-0.2 1.5 0.4M216.3 355.6l1.3-0.5 0.8-1.0 0.8-1.2 0.9-1.0 0.5-1.2 0.3-1.3 0.5-1.6 0.5-1.5M150.2 366.3l-1.7-0.4-1.6-0.7-1.2-0.5-1.3-0.5M151.3 365.2l-1.1 1.1-1.2 1.1-1.3 0.7-1.4 0.4-1.3 0.3-1.7 0.3-1.5-0.2M192.4 367.2l1.3-0.1 1.4 0.1 1.4 1.0 1.3 1.0 1.5-0.1 1.3-0.5 1.3-0.8 1.6 0.1M195.7 358.2l-1.5 0.6-1.2 1.3-0.8 1.3-0.4 1.2 0.1 1.7 0.1 1.7 0.5 1.2M243.2 318.8l1.0-0.8 0.7-1.6 0.7-1.5 1.0-1.5 0.7-1.3-0.0-1.2M197.9 340.5l1.6 0.5 1.1 0.6 1.4 0.5 1.1 0.9 1.1 0.4 1.4 1.1 1.4 0.8 1.6-0.3 1.6-0.3 1.2-0.0 1.2 0.5M210.2 353.4l-1.3-0.9-1.5-0.2-1.4-0.5-0.8-1.0-1.3-0.5-1.6-0.2-1.5-0.8-1.5-0.6-1.3-0.7-1.3 0.5-1.2 0.5-1.7-0.4-1.5-0.3-1.3-0.6-1.4-0.8-1.5-0.7-1.2-0.4M199.2 372.4l1.2-0.3 1.2-0.5 1.5-0.2 1.2-0.7 1.3-0.5 1.2-0.6 0.7-1.1M252.2 343.6l1.0-1.1 0.9-0.9 1.1-1.4 1.1-1.2 1.1-1.4 0.1-1.5 0.9-1.2 0.9-1.4 1.0-1.3 1.5-0.9 1.3-0.8 1.5-0.3 1.6-0.2 1.1-0.5M172.3 315.4l1.1-1.1 1.2-1.2 1.1-1.0 0.9-0.8 0.1-1.5M169.7 326.5l0.3-1.5 0.0-1.4-0.1-1.2 0.3-1.2 0.8-1.5 1.2-1.2 0.3-1.6-0.2-1.3-0.6-1.6-0.4-1.7 0.1-1.3 0.8-1.1M180.0 331.1l-0.5-1.1 0.2-1.4-0.2-1.5-0.4-1.4-0.3-1.6 0.5-1.3 0.4-1.3 0.5-1.5M170.9 335.3l-0.2 1.3-0.7 1.6-0.8 1.5-0.8 1.3-0.5 1.7-0.6 1.4-0.3 1.4 0.3 1.3M174.1 332.3l-1.2 0.4-1.0 1.3-1.0 1.3-0.2 1.6-0.6 1.2M230.1 320.1l-0.0-1.5M197.0 370.9l-0.3 1.4-0.4 1.6-0.2 1.5 0.2 1.7 0.4 1.4 0.4 1.2 0.7 1.5 0.7 1.4 0.5 1.2 0.8 1.6M242.7 378.7l1.1 1.0 0.0 1.4-0.7 1.5-0.8 1.1-0.8 1.6M172.0 361.3l-0.5-1.7-0.5-1.5 0.1-1.7-0.5-1.5-0.6-1.3-0.2-1.4 0.5-1.3 1.0-1.3M164.4 372.3l0.2-1.4 1.2-1.3 0.6-1.5 1.0-1.4 1.3-1.1 0.4-1.2 0.3-1.2 1.4-1.0 1.2-1.0M191.7 350.9l0.7-1.5-0.3-1.5-0.5-1.2-0.8-1.1-0.6-1.2 0.1-1.4-1.0-1.3-0.8-1.2-1.0-1.3-0.5-1.4-0.7-1.4-1.5-0.6M205.6 364.8l0.9 1.4 0.4 1.5 0.1 1.4 0.4 1.7-0.0 1.3-0.2 1.2-0.6 1.1-0.9 1.0" stroke="#a52828" stroke-width="1.05"/>
<path d="M232.4 354.9l0.9-3.3 0.7-2.7 2.2 0.2 0.7-0.8M175.8 363.1l-2.5-1.1-2.9 0.5M232.7 330.5l-1.3-0.6 0.4-0.1 0.9-1.7-2.1-0.5 0.7-2.0 0.7-1.3-0.5 0.8 0.4-1.0-3.0-0.1-2.9-2.4 0.6 3.1 0.5 1.2-2.1 0.6-1.7-1.8-0.9-1.6 1.0-0.2 0.6 0.3 0.9-2.1-0.3-0.6-1.0-3.0 0.9 0.2 1.6-1.9M256.5 333.3l1.9-0.5 0.9-0.0-0.2-0.4 0.2 0.5-0.2 0.3 0.7 1.3 1.2-0.6 1.4 1.3-0.6-1.7 0.9-0.9 0.6-0.8 0.6 0.4 0.3-1.1 1.0-0.4-1.8 0.1-1.1-2.1M181.4 335.0l-2.2-0.9-2.9-1.1-1.0 0.2-2.0 0.2M173.3 333.4l-0.3 2.5-1.2 2.5M259.9 335.7l-0.2 1.0 0.1 0.8-1.9-1.7-2.0-0.5M250.5 365.1l-0.8 1.1 0.7 0.0 0.6-0.2 1.6 0.5M253.4 397.5l-0.9 1.5 0.2 0.8M255.0 349.8l1.9 2.2 2.0 1.5M201.2 409.2l0.4 1.8 0.3 1.5M161.7 385.6l-1.4 0.2-1.6 0.7-0.8 0.9-0.7 1.4-0.4 1.7-0.4 1.2-0.6 1.4-0.2 1.8M167.0 389.1l-1.2-0.7-1.5-0.7-1.1-1.1-1.5-0.9-1.2-0.3-1.7-0.3-1.6-0.3-1.6-0.5-1.7-0.2M170.4 341.2l-1.1-0.8-1.2-0.9-1.5-0.3-1.2-0.3-1.7-0.3-1.5 0.1-1.5 0.3-1.5 0.2M170.2 336.1l-1.1-0.8-1.5-0.7-0.7-1.2-0.4-1.7-0.0-1.5-0.3-1.3-0.2-1.5M237.6 387.4l1.3-0.7 1.0-1.1 1.2-0.8M190.5 365.5l-1.7 0.6-1.4 0.7-1.7-0.4-1.1-0.9-0.9-1.0-1.5-0.8-1.4-0.7-1.1-1.4M177.6 319.6l-1.5-0.3-1.1-0.8-1.2-0.6M183.3 360.5l0.1-1.5 0.4-1.5 0.1-1.2-0.0-1.7-0.2-1.5-0.3-1.4 0.3-1.2-0.0-1.4M247.8 324.7l0.8 1.1 0.3 1.3-0.5 1.3M188.8 377.9l0.0 1.6-0.8 1.4-0.6 1.5-0.3 1.7 0.1 1.4 0.2 1.8 0.1 1.6M196.9 404.4l-1.0 1.0-1.5 0.6-1.3-0.5-1.5-1.0-1.3-0.6M221.5 395.6l0.4 1.2M193.4 363.1l-0.6 1.3-1.1 1.2-0.5 1.1-0.8 1.5-0.9 0.9-1.0 1.2-0.9 1.2-1.0 1.3-0.5 1.6-0.7 1.3-0.1 1.3-0.2 1.7-0.3 1.8 0.4 1.3 0.4 1.2 0.4 1.3 0.7 1.5M172.3 410.9l-0.4 1.5-0.2 1.6-0.0 1.6-0.2 1.4M171.6 318.0l-0.4-1.3-1.1-0.6-1.3-0.7-0.8-1.1-0.3-1.3-1.2-0.8-1.1-1.0-1.0-1.0M217.6 320.0l-0.9 1.3-0.9 1.1-0.3 1.6-0.2 1.7 0.5 1.1 0.2 1.4 0.2 1.8 0.4 1.4 0.1 1.4 0.7 1.6-0.3 1.3-0.1 1.7-0.2 1.5-0.6 1.5 0.3 1.7-0.2 1.6M200.4 399.1l-1.2-1.1M184.2 351.2l-1.6 0.9-1.2 1.4-0.5 1.1 0.7 1.6M254.6 339.5l1.0 1.4 0.6 1.2 1.0 1.3 0.7 1.5 0.8 1.4 0.9 1.5M209.2 388.6l0.1-1.3 0.2-1.2 0.7-1.3M177.6 378.1l-0.1 1.3 0.2 1.7-0.3 1.5 0.3 1.3 0.5 1.3 0.4 1.2M253.0 362.4l1.7 0.2 1.5-0.5M178.4 332.9l0.5-1.5 1.0-0.8 1.4-0.9 1.5-0.5 1.2-0.4 1.1-0.9 1.2-0.7 1.1-0.6 1.6-0.8 1.3-0.6 1.6-0.2M195.3 372.0l1.5-0.5 1.3-1.1 1.1-0.6 1.7-0.2 1.6-0.3 1.8-0.3 1.5-0.8 1.5-0.9M194.6 360.6l-0.9 1.1-0.9 1.4 0.0 1.6 0.8 1.3 0.1 1.8 0.3 1.2 0.8 1.4 0.6 1.6 0.7 1.1 0.6 1.1M168.7 405.3l0.7 1.0 1.1 0.8 1.3 0.3 1.4 0.4 1.4-0.1 1.4 0.8M210.3 345.1l0.8-1.0 0.1-1.3 0.3-1.4-0.3-1.2-0.5-1.3-1.2-1.3M171.4 361.0l-1.3-1.0-1.1-0.5-1.6-0.8-1.1-0.8-1.6-0.4M235.2 341.0l-1.2-1.2-1.5-0.4-1.5 0.2-1.4-0.4-1.6-0.6-1.7-0.2M187.5 374.8l1.2 0.7 1.4 0.9 1.3 1.1 1.7 0.0 1.4 0.5 1.3 0.4 1.7 0.1 1.2 0.8 1.1 0.7 0.8 1.0M219.3 398.1l-1.4-0.2-1.8 0.1-1.5 0.8-1.2 1.1M221.6 400.6l-1.2-1.2-1.2-1.3-1.5-0.9-1.2-0.8-1.4-0.7-1.7-0.4" stroke="#cc3838" stroke-width="1.05"/>
<path d="M185.6 337.6l-0.8 1.4M199.6 356.8l-0.0 0.8M175.6 322.3l-1.9 0.1M160.8 318.2l-0.6-1.8M243.4 368.4l-1.9-0.0M158.2 319.3l0.5 0.8M213.5 317.0l-0.2 0.8M205.6 326.1l-1.2 1.0M209.6 328.0l0.4 1.1M196.5 384.1l-1.7-1.2M203.5 369.4l0.9-1.3M226.4 379.6l-0.7 0.8M252.4 346.5l0.2-1.2M174.7 334.2l-0.8-0.2M171.5 345.7l0.0 1.7M202.7 367.5l1.1 0.9M253.0 389.1l0.8 1.2M202.8 343.5l-0.4-0.6M237.0 373.4l-0.3 0.7M199.0 333.7l1.3-1.3M189.2 361.2l1.3-1.1M167.5 375.8l-1.6-1.0M163.2 363.7l-0.2 0.9M166.9 344.8l0.7-1.5M243.3 344.0l-1.7 1.0M256.0 355.0l0.2-1.7M193.6 389.8l-0.6-0.1M209.3 367.8l0.9-0.4M181.6 336.6l1.3 1.6M181.5 327.3l-1.5 0.0M185.7 387.9l1.1-0.2M231.0 324.6l0.6 0.9M255.7 378.5l1.1 1.5M230.7 337.1l-0.9 1.1M246.3 339.8l0.0-1.6M223.7 402.2l0.6 0.5M175.1 339.7l0.8 1.0M178.1 330.5l1.0 1.6M193.5 317.7l-0.9-0.4M208.1 340.7l-1.8-0.1M195.8 390.2l-0.2-1.0M188.4 348.6l-0.9-0.3M200.9 353.7l0.0 1.3M169.0 346.5l0.3-1.9M212.0 383.7l-0.7-0.8M232.0 338.7l0.6 1.3M206.6 337.9l-2.1-0.3M234.8 315.9l0.9 1.0M173.3 366.0l0.7-1.9M222.4 377.7l1.0 0.2M168.4 330.0l-0.9-0.7M188.4 340.7l-0.6-2.0M195.0 313.2l1.0-1.2M236.6 359.1l0.4-0.5M216.9 372.7l0.8 1.9M194.1 379.4l-0.5-1.3M247.1 361.3l-0.9-1.8M199.9 333.6l-0.7 0.4M198.8 353.2l0.7-0.5M210.6 351.4l-1.3-0.8M202.7 324.2l1.5-0.9M210.7 392.8l0.7 1.1M254.5 367.2l-1.6 0.6M233.2 368.6l-0.7 0.2M223.2 364.3l2.0 0.0M177.3 365.6l0.1 0.7M161.0 365.0l-1.4-1.4M233.9 334.0l1.7 0.5M228.5 331.8l1.7-1.1M150.5 342.9l-0.4-1.6M219.2 383.0l-1.5 0.8M200.4 340.5l-1.3-0.5M236.7 341.4l-2.1-0.3M214.8 397.7l1.0 1.3M177.5 313.5l0.7-0.4M214.1 345.5l-1.2 1.3M200.0 329.6l0.7-1.1M184.2 376.0l0.3-0.7M177.0 389.6l-1.0 1.2M222.6 385.0l-1.4 1.6M220.5 353.7l-1.5 1.0M245.8 367.2l-0.8 1.5M215.4 372.5l1.8-0.7M235.8 350.6l0.9 1.4M174.4 353.6l-1.0-1.3M181.0 405.3l0.6-0.8M254.5 341.9l0.2-1.5M202.0 317.5l-0.2-0.9M231.4 335.0l0.1 1.3M178.2 333.7l-0.4-1.3M213.7 347.6l0.4-1.2M233.5 372.7l-0.6-1.6M195.5 329.5l0.8 1.7M229.8 338.2l-1.0-0.7M150.9 321.3l0.6-0.3M227.2 360.1l-0.3-0.8M221.8 326.9l-1.2 0.5M164.6 322.7l-0.4-0.8M180.7 369.4l1.6 0.1M164.2 395.2l1.6 1.5M249.3 315.9l-0.2-0.6M231.2 321.4l1.6 0.9M236.6 379.1l0.4-2.0M202.7 352.1l-0.5 1.3M169.9 334.4l0.6 0.0M191.1 353.0l-0.1-1.5M211.5 364.3l-1.4 1.0M191.1 329.4l1.5-0.9M210.0 348.5l1.7-0.6M202.7 357.9l0.6-0.1M180.4 350.2l1.3 0.5M224.6 412.4l-0.6-0.4M249.1 333.5l1.9-0.1M166.3 403.0l-0.9 0.2M242.6 337.2l-0.8 1.6M152.7 338.4l-1.1 1.9M157.8 359.1l-0.8-0.0M187.0 390.8l-1.6 0.7M225.1 333.3l-1.7-0.0M196.3 340.5l0.7 1.1M212.7 328.8l-1.0 1.8M166.3 395.9l-1.2-0.9M189.7 321.9l0.9-1.2M256.2 342.8l0.0-1.2M217.0 357.1l0.1-1.5M179.1 328.4l1.1 0.2M249.1 372.5l0.2-0.9M212.1 337.0l1.1-0.3M214.4 355.5l-1.4-1.1M198.1 333.5l-0.9 0.3M233.3 388.4l-0.2-1.8M236.9 315.4l1.5-0.4M186.2 314.0l-1.4 1.3M238.8 328.4l-1.3-1.1M198.6 316.7l-0.6-0.7M205.9 322.4l0.7-0.1M176.2 364.2l-0.1-1.6M199.5 315.8l1.2-0.4M252.0 338.4l0.7-0.3M230.8 319.4l1.8-0.9M252.5 368.4l1.0 1.1M163.3 404.7l-0.5 0.9M183.9 387.4l1.9 0.6M193.9 354.6l-0.5-2.1M206.9 330.7l0.5 2.0M214.3 344.8l0.7 0.0M232.0 340.5l0.8 0.7M183.5 317.7l0.3-1.1M219.2 372.0l-1.8-0.5M196.5 318.5l0.6 0.7M174.5 406.9l1.8 0.5M193.4 318.5l-1.1-0.3M247.8 364.2l-0.3-2.1M216.0 315.2l-1.6-0.1M195.2 324.9l-1.2-1.2M192.6 385.5l-1.1 1.1M186.4 351.6l1.9 0.9M203.0 313.9l1.1 0.9M164.2 407.4l-1.1 1.6M187.5 333.8l0.8-0.9M180.1 354.1l-1.3-0.7M223.0 351.3l1.1 1.2M219.1 316.2l-1.7-0.6M221.6 323.6l0.5 0.8M183.8 374.0l1.4 0.4M219.9 319.1l-0.1-1.1M215.6 366.4l-1.9 0.2M160.4 401.9l-0.9-0.4M239.1 372.2l-1.1 0.1M210.0 328.4l-0.2-0.7M207.7 376.1l0.5 1.9M214.1 336.2l0.2-0.7M222.6 313.2l-0.3-0.8M244.3 377.1l-1.2-0.2M194.0 347.6l-0.7 1.3M187.5 321.8l1.7-0.9M201.4 402.2l1.3 0.1M185.7 328.1l0.6 0.3M207.4 340.1l-0.8 1.6M219.5 365.5l0.3 0.6M181.6 407.2l0.6 2.0M205.9 331.7l-0.7-1.4M181.1 352.6l1.2 0.9M233.2 334.1l0.5 1.0M190.6 355.1l-0.8 1.8M218.0 364.3l-0.0-1.1M222.3 349.9l-0.8-1.0M256.3 374.2l-1.9 0.1M247.9 380.6l-0.4-1.8M197.4 376.9l-0.8-0.2M170.4 354.8l0.6-0.3M239.1 330.7l-1.5-0.0M199.8 366.6l-1.7-0.3M250.3 362.6l-0.9-1.8M228.7 338.8l-0.5-0.5M244.9 350.4l-0.4 1.4M214.6 391.7l-1.5-0.3M166.0 343.6l0.9 0.5M157.0 343.3l-0.5-0.8M174.8 371.2l-1.1 1.1M158.5 393.1l0.9 2.0M195.1 319.7l-1.3-0.5M193.7 345.0l-0.3 0.6M161.8 342.2l0.4-0.6M157.4 356.7l-0.6 1.7M217.1 342.6l0.6-1.2M200.4 324.1l0.1 1.6M186.2 364.7l-2.0-0.6M227.4 324.9l-0.8-1.1M193.3 327.4l1.2-1.1M179.2 341.8l2.0-0.0M149.9 410.4l0.6 0.3M180.9 358.5l-1.5 1.4M176.9 335.7l-1.1-0.1M240.5 333.4l-1.1 1.7M221.0 338.8l-1.2-0.3M160.1 314.0l-2.0 0.8M238.1 346.6l0.4-0.7M201.9 344.7l-1.0 0.5M170.0 356.7l0.9-1.7M233.8 382.5l-0.3-1.2M239.5 351.7l-0.6 1.0M192.8 360.2l-0.3 0.6M229.0 384.9l-0.7-0.6M202.8 383.4l2.0-0.8M196.6 324.2l0.9 0.6M149.5 323.9l2.0-0.8M174.5 396.3l0.1 1.2M166.6 358.5l-1.8 1.0M169.0 343.7l0.1 0.9M153.2 391.6l1.7 0.2M193.9 320.7l-1.6 0.9M190.7 363.6l-0.0 0.8M234.0 396.6l1.0 1.5M254.7 400.4l1.9-0.1M240.3 356.2l0.9-0.2M172.8 379.5l-1.1-0.0M201.6 344.3l-0.8 2.0M206.2 419.5l-1.9-1.0M167.1 347.2l1.5-0.1M191.6 331.5l1.0 1.9M218.9 368.0l-1.1-0.7M185.7 340.6l-1.9-0.9M156.0 413.2l1.0 0.8M155.5 362.1l-1.0 1.4M232.2 369.0l-1.2 0.0M239.0 344.7l1.4-0.6M197.7 399.6l-0.9 1.0M158.4 373.1l0.6 0.7M214.6 354.8l1.2 0.6M241.7 367.1l-0.7 1.9M184.5 325.4l-0.1 1.0M162.6 337.5l0.1-2.0M198.2 375.0l-0.0-0.7M226.4 363.0l1.3-1.1M187.4 331.6l0.2-2.1M231.6 347.4l1.5-0.8M162.9 342.7l-1.2 1.1M195.0 330.5l-1.4-1.1" stroke="#b83030" stroke-width="1.16"/>
</g>
<clipPath id="cv107"><rect x="271.3" y="312.8" width="107" height="106.5"/></clipPath>
<rect x="271.3" y="312.8" width="107" height="106.5" fill="#060606"/>
<g clip-path="url(#cv107)" fill="none" stroke-linecap="round" stroke-linejoin="round" filter="url(#soft)">
<path d="M345.1 318.4l1.0 2.8 1.6 1.1-1.7 1.9-2.2 2.2-0.5 1.4 0.9 1.3-0.8 0.0 0.9 0.4 0.7 0.5 0.6 0.6M374.3 369.3l-0.8-2.1-0.4-3.1M267.1 346.2l-1.2-3.3-1.7-3.0M370.7 416.6l1.9-0.1 1.3-0.8M380.4 331.1l1.0 0.2 1.2 0.6M382.5 336.1l-0.1 0.9 0.7 0.5M314.9 339.8l-0.3 0.9-0.9 0.1 0.2 0.7-0.9 1.7M319.3 376.6l0.9-3.0-0.2-1.9 1.4-3.0 1.4-2.9 0.7-0.2-0.5 0.1-0.9-0.4 0.9-0.4M291.8 408.8l-0.1-2.9-0.1-2.1M362.1 352.5l1.8-1.3 1.9-0.3 1.7 0.7 1.9 1.4M381.1 357.5l-0.6-0.1 1.2 0.6 0.5 0.3 1.6-0.8-0.1 3.0 2.1 2.0-0.1 0.8-1.3 0.3-2.2-2.2-1.8-1.5M328.0 349.9l-2.3 1.0-2.4 0.5 0.9 0.9-1.1-0.8-0.1 1.4-0.1 0.2M313.4 364.0l-0.0-2.5 0.7-1.1 1.9-0.6 1.5 0.2M285.9 342.9l-1.2 0.1-2.0 1.2-0.3 0.4 0.3-0.4-3.8 0.3-3.5-1.3M318.1 376.9l-0.7 2.5 1.4 3.6 1.6 0.5 0.7 0.7 0.8 1.4 0.0 3.1M352.8 311.9l-2.0 1.0 0.5 1.0 1.2 1.4 0.0 0.3 1.4-0.5 2.7 0.8 1.1 0.9 0.4 1.0M341.3 348.0l1.3-0.7 1.4-0.9 1.2-0.3 1.7-0.3 1.3 0.1 1.5-0.3 1.2 0.3 1.8-0.2 1.3-0.1 1.6 0.2 1.3 0.1 1.1 0.6M337.9 332.3l-0.4 1.3-0.3 1.6-0.7 1.3-0.8 0.9-1.2 0.9-1.3 1.2-1.1 1.3-1.5 0.7M342.4 378.9l-0.8 1.0-1.1 1.2-0.6 1.0-1.6 0.8-1.7 0.0M301.6 345.0l0.5 1.7 0.3 1.4 0.2 1.7 1.0 0.8 0.9 1.2 1.0 0.9 1.1 1.2M358.6 403.0l0.2-1.6-0.0-1.3-0.2-1.3-0.4-1.2-0.3-1.4M353.8 401.6l-0.9 1.0-0.9 1.4-0.1 1.4M288.3 396.4l-1.4-0.1-1.4-0.1-1.2-0.2-1.1 0.5-1.2 1.2-1.1 0.9-0.9 1.3-0.7 1.5M356.9 388.5l-1.0-0.7-1.3-0.5-1.4 0.0-1.4 0.8-1.0 0.9M361.5 330.4l-0.7 1.2-0.9 0.9-0.8 1.2-0.9 1.5-0.5 1.2M365.7 331.5l-1.2 0.7-0.9 0.9-1.5 0.8-1.2-0.0-1.0 0.7-1.4 0.9-0.8 1.2-1.1 1.3M353.8 327.8l1.3-0.8 1.6-0.5 1.7 0.2 1.7 0.4 1.5 0.4 1.4 0.2 1.4 0.9 0.6 1.5 0.9 1.3M316.8 350.2l-0.6 1.1-0.5 1.4 0.5 1.7-0.5 1.6-0.3 1.4-0.6 1.5-1.1 0.6-1.3 0.3M310.8 340.9l1.4 0.7 1.0 1.0 0.9 1.0 0.7 1.1 0.8 1.4 0.4 1.4 0.7 1.2 0.1 1.5-0.0 1.6 0.0 1.5M302.5 347.6l0.6 1.2 0.6 1.7 0.2 1.3M300.9 347.5l1.6 0.1 1.5-0.0 1.6 0.1 1.6-0.2 1.3 0.1 1.5-0.2 1.2-0.2 0.7-1.1 1.2-0.5 1.2-0.4M287.3 416.4l-0.1 1.4 0.1 1.8-0.6 1.3-1.1 0.9-1.4 0.7-1.2 0.5M337.3 388.3l1.2-0.4 1.0-0.9 1.1-1.1 1.4-1.0 1.3-1.2 1.1-1.4M335.9 383.2l-0.1-1.6 0.5-1.2 0.4-1.1 0.2-1.4 0.6-1.5 1.0-1.0 0.9-1.2 0.8-1.0M367.8 338.8l0.1 1.6 0.5 1.6 0.3 1.5-0.6 1.3-0.7 1.6M369.2 338.3l0.7 1.4 0.1 1.6 0.0 1.5-0.4 1.7-0.5 1.6M360.1 340.0l1.2-0.8 1.6 0.1 1.5-0.8 1.6-0.1 1.7 0.3 1.5-0.5 1.6-0.6 1.2-0.9 0.8-1.1 0.8-1.0 1.4-0.5 1.0-1.1 0.9-1.3 0.9-0.9M375.8 327.1l-0.8 1.0-0.2 1.7-0.3 1.6 0.2 1.3 0.3 1.4-0.4 1.4-0.7 1.2M293.0 309.4l-0.7 1.0-0.6 1.7-0.6 1.7-0.4 1.5M298.1 314.1l-0.6-1.5-1.0-1.2-1.3-0.8-1.0-0.6-1.2-0.6-1.5-0.3-1.6-0.2-1.3-0.4M292.1 386.1l1.8-0.2 1.4 0.2 1.5-0.3 1.2 0.1 1.3-0.2 1.6-0.0 1.4 0.5M334.0 314.1l-0.1 1.8 0.1 1.5-0.3 1.5 0.4 1.3-0.3 1.4-0.7 1.5-0.8 1.3-1.0 1.1M362.7 357.8l0.4-1.4-0.1-1.8 0.4-1.5-0.1-1.3-0.4-1.5M366.8 365.8l-1.2-1.3-1.0-1.0-0.7-1.5-0.2-1.5-0.4-1.4-0.7-1.3-0.9-0.8-1.1-0.8-1.1-1.2-1.1-1.1-1.3-0.9-1.3-0.7M357.3 397.2l-1.5-1.1-1.0-0.8-1.2-0.5-1.5-0.8-1.2-1.1-1.0-1.3M364.7 392.0l-0.4 1.2-0.5 1.1-0.3 1.3 0.5 1.6-0.4 1.4-0.3 1.8-0.3 1.3 0.1 1.6M363.1 313.4l0.3 1.3 0.6 1.1 0.2 1.2 0.0 1.6 0.3 1.2 0.4 1.5 0.3 1.7 0.5 1.6 0.9 0.9 0.8 1.2 1.0 0.8 0.3 1.4 0.1 1.5M352.2 337.8l1.4-0.9 0.9-1.3 0.8-1.5 0.5-1.5-0.2-1.6-0.7-1.2-1.2-0.7-1.4 0.1-1.6 0.0M383.9 404.3l-0.1-1.5-0.1-1.8 0.8-1.5 0.4-1.3 1.0-1.3 0.7-1.1M376.5 400.4l0.8 1.2 0.1 1.3 0.1 1.6 0.6 1.5 0.6 1.6 0.6 1.7 0.2 1.4 0.5 1.7 0.6 1.4 0.5 1.6 0.3 1.6 1.0 1.3 0.3 1.3M369.4 325.0l0.9-1.5 1.0-1.1 0.9-1.2 1.3-0.9 1.6-0.7 1.6-0.5M373.8 326.5l0.2 1.6 0.9 1.5 0.4 1.7 0.4 1.1M343.0 327.3l-1.6 0.6-1.3 0.6-1.2 0.6-1.0 1.3M336.1 316.6l1.0 0.7 0.8 1.4 0.6 1.1 0.2 1.3 0.9 1.4 1.4 0.7 1.0 1.1 0.5 1.7 0.6 1.2 1.0 1.3 0.7 1.5 0.4 1.2 1.0 1.4 1.5 0.6 1.4 0.9 1.2 0.3 1.1 0.7M361.0 331.7l1.6 0.8 1.2 1.0 0.8 1.1 1.3 1.1 1.6 0.6 1.7 0.3M276.7 351.3l-0.0 1.2-0.4 1.6-0.9 1.0-1.2 1.3-1.2 1.3M345.2 375.5l-0.1 1.5-1.0 1.5-0.6 1.5-0.3 1.3 0.1 1.5-0.3 1.3-0.2 1.2M326.0 366.4l1.5-0.4 1.5-0.3 1.4-0.5M343.4 364.4l-1.5 0.5-1.2 0.9-0.9 1.5M285.8 377.4l1.7 0.4 1.7-0.1 1.6-0.1M340.2 393.7l1.1 1.1 1.4 0.8 1.0 0.9 1.5 0.5 0.8 0.9 0.9 1.0 1.1 1.1 1.4 0.4 1.6 0.2 1.6 0.1 1.5 0.7 1.6 0.6 1.6 0.3 1.6-0.1M296.6 416.6l0.1-1.3 0.0-1.3 0.2-1.3-0.0-1.3 0.5-1.3 0.4-1.4 0.4-1.3 0.5-1.4 0.9-1.4 0.9-1.3M277.3 403.5l1.1 1.0 1.1 0.9 1.0 1.1 1.0 1.5M353.0 374.2l-1.5 0.1-1.5-0.4-1.5-1.0-1.3-0.2-1.5 0.2-1.6 0.0-1.5-0.3M265.2 334.7l-1.5-0.6-1.2-0.0-1.6 0.4-1.3-0.7-1.7-0.1M271.4 342.7l-0.9-0.9-0.6-1.5-0.6-1.3-1.3-1.2-1.2-1.0-0.7-1.2-0.9-0.9-1.3-1.1-1.3-0.3-1.3-0.3-1.6-0.1M363.3 309.4l1.3-0.7 1.7 0.1 1.5 0.5M361.4 297.2l1.0-0.8 1.2-0.9 1.2-0.5 1.2-0.5 1.5-0.6 1.4-0.5 1.1-0.9M350.0 388.8l-0.9 1.5-0.9 1.2-1.0 1.3-0.8 1.0M347.9 389.8l0.2-1.6 1.1-0.8 1.0-1.0 0.7-1.2 0.3-1.7-0.2-1.3-0.4-1.3-0.9-1.1M346.2 367.7l0.9-1.3 0.4-1.4 1.2-0.7 1.3-0.5 1.3-1.1 1.2-1.2 1.3-0.4 1.5-1.0 1.6-0.8 1.4-0.6 1.5-0.8 1.4-0.8 1.6-0.0 1.4 0.3 1.7 0.1M273.7 352.3l0.9 0.8 0.7 1.1 0.8 1.3 0.8 1.1 0.7 1.0 0.4 1.2 1.1 1.4M338.9 323.7l0.9 1.1 0.9 1.1 0.9 1.2 0.8 1.2 1.2 1.2 0.5 1.5-0.2 1.5M338.9 322.2l0.1 1.5-0.1 1.7-0.5 1.7-0.0 1.7-0.0 1.6 0.1 1.8M337.8 318.6l-0.3 1.4 0.8 1.1 0.5 1.1 0.5 1.3 0.0 1.5M271.8 360.1l0.3 1.2M375.6 326.8l-0.6 1.2-0.9 1.2-0.7 1.2-0.9 1.5 0.3 1.5M353.8 365.4l-0.4-1.2-0.6-1.6-0.5-1.7-0.5-1.3-0.3-1.4M327.1 400.3l0.2 1.4-0.3 1.6 0.2 1.5M307.0 332.6l0.2-1.6 0.0-1.8 0.6-1.1 0.8-1.3 1.2-1.2 1.6-0.4 1.2-0.4M327.0 354.5l-0.2 1.2 0.0 1.7 0.2 1.4 1.0 1.2 1.4 1.0M327.7 355.8l-0.7 1.6-0.2 1.5-0.1 1.8-0.2 1.6M326.0 351.3l0.3 1.8 0.8 1.5 0.6 1.2 0.7 1.6 0.2 1.4 0.2 1.6M317.3 383.4l-0.5 1.3M335.0 384.4l1.7 0.3 1.6-0.5 1.2-0.4 1.7-0.2 1.5-0.3 1.6-0.0M342.2 377.9l0.8-1.4 0.1-1.4-0.5-1.7-0.1-1.3-0.5-1.2M344.7 379.5l-1.3-0.3-1.1-1.2-1.2-1.0-1.0-0.8-0.5-1.5 0.4-1.6M291.5 418.0l0.8 1.1 0.2 1.3 0.9 1.5 1.2 1.2 1.3 1.2 1.3 0.8 1.6 0.4 1.3-0.4 1.3-1.0 1.1-1.0 0.9-1.1 1.6-0.9 1.1-0.7 1.7-0.4 1.3 0.3 1.3-0.1M272.9 334.9l-0.2 1.2-0.8 1.4-1.0 1.2-0.5 1.2-0.5 1.1-1.2 1.2-0.9 0.8-1.1 1.0-0.6 1.5-0.1 1.2M308.1 391.2l1.5 0.3 1.6 0.2 1.2 0.5 1.2 0.6 1.4 0.0 1.3-0.4 1.5-0.8M305.9 386.8l0.8 1.5 0.5 1.5 0.9 1.4 0.4 1.4-0.4 1.7-0.5 1.6-0.0 1.6 0.4 1.7 0.4 1.3 0.3 1.4-0.6 1.6M291.6 361.1l-1.0-0.7-1.1-0.6-0.8-1.1-1.4-1.2-1.5-0.4" stroke="#741c1c" stroke-width="1.05"/>
<path d="M307.2 320.2l0.1 2.7-0.5 2.3-0.6 0.5 0.9 1.3-3.0-1.4-2.2-1.5-1.3 1.3-1.7 2.4M326.1 331.2l-1.8 2.6-0.9 2.2-2.4-2.3-1.7-1.7 0.2-0.7-0.2 1.0-1.1 1.4-2.1 2.0-1.0-1.1 0.4-1.2M374.7 403.6l1.5 0.5 1.8 1.4-0.5 3.2-1.6 3.9M302.1 397.2l2.2-2.7-0.4-1.4-1.8 0.2-3.7 0.4-0.0-1.0 0.5-1.3M346.3 335.3l0.5 0.6 1.7 1.5-0.6 1.0 0.8-0.0 0.5-0.0-0.6 1.8-2.5 0.4-2.4 2.1-0.7-2.5 0.4-2.5-0.9 0.4-2.0 0.0 1.4 3.6-0.5 3.2M284.2 314.3l-2.0-1.3-1.4-1.2 0.8-3.2-1.4-3.8-2.2 1.7-2.7 2.9M288.5 338.5l-0.9-0.8-0.4 0.0-1.8-1.9-3.0-1.4 1.2-0.3 2.1-1.3 0.6-0.8-0.2-0.9 2.0-0.7 1.6-0.9-0.1 2.5 0.5 0.9M379.0 309.0l-2.6 1.8-1.2 0.8-0.4-0.2 0.1 0.9 0.7 0.9-0.1 0.3 0.1-0.3-0.1 0.4M274.0 405.0l-0.0 1.6 0.4 1.4-0.8 0.5-0.3 1.1-0.2 1.7-0.1 1.3M375.4 332.6l-0.8-0.9-0.6-0.3 1.7-2.7 1.0-2.0-1.3-0.9 1.2 0.6 0.1-0.3-0.6-1.1-2.5-0.3-1.2 1.5M271.9 405.5l0.8-0.3 1.3-0.2M274.4 408.0l-0.1 1.2 1.7 0.3M367.9 389.0l0.9-1.0 1.1-0.5-1.4-2.1-0.3-0.9-0.5-1.5-0.2-3.1M342.9 404.6l-2.6-0.2-3.4 0.2M337.4 337.1l1.1 0.4 1.9 0.5M341.3 344.8l0.5 0.3-1.1 0.1-0.2-0.4-1.3-0.4-2.2 1.0-1.2-1.3M352.3 322.0l-1.8 0.2-0.4-0.6-1.2-0.1-1.2 0.7M306.3 413.0l1.7-0.7 2.4-0.9 2.0 2.9 2.2 2.6M361.3 347.6l-2.8-0.2-2.3-0.6M265.4 321.4l0.1-1.0 1.6-1.5 0.2-2.8 0.0-0.8 0.4-1.2-0.1 0.0-0.4-0.7-1.1-0.7-0.2-2.9-1.0-1.5 2.7-3.1 2.3-2.7 0.4 0.2-0.3 0.2 1.7 2.5 2.9 4.1 0.6-0.3 0.1 0.2M308.1 366.7l-0.7 2.0-1.0 0.9-1.8 0.9-1.0 1.3M322.6 330.5l-0.3-1.2-0.1-1.8 0.2-1.8 0.3-1.2 0.4-1.7 1.0-1.4 1.1-1.2 0.8-1.0 0.4-1.5 0.2-1.2M314.4 396.2l-0.8 1.3-1.1 0.6-1.1 0.9-1.1 0.7-0.9 1.1-1.2 0.4-1.6 0.6-1.1 0.5-1.2 0.2-1.5-0.2-1.3 0.1-1.3-0.2M305.4 351.0l-0.9 0.8-0.9 1.3-0.8 1.5-1.2 1.3-0.7 1.0-0.6 1.3-0.7 1.0-0.4 1.4-0.1 1.7-0.8 1.3-0.6 1.2M355.3 350.6l-0.3 1.5 0.5 1.5 0.1 1.8 0.5 1.7M361.9 347.2l-1.4 0.6-1.1 0.8-1.5 0.7-1.4 0.7-1.2 0.6-0.8 1.2 0.0 1.4M290.0 393.4l-1.0 1.5-0.7 1.5-0.6 1.6 0.5 1.5 0.2 1.5-0.0 1.4M355.9 387.8l-1.4 1.0-0.5 1.3M361.5 327.6l0.1 1.3-0.1 1.6-0.3 1.4-0.4 1.5M364.3 328.8l1.5-0.6 1.5-0.4 1.8-0.1M356.6 338.0l-1.4 0.6-1.5-0.1-1.4 0.6M345.7 315.6l-0.4-1.6-0.5-1.6-0.6-1.7M346.7 314.5l1.2 0.0 1.5-0.5 1.1-0.9M345.7 319.6l0.1-1.3-0.5-1.3 0.3-1.4 0.9-1.0 0.6-1.1 0.3-1.5 0.1-1.5M336.5 323.4l1.0-0.8 1.0-0.8 1.4-0.5 1.7-0.6 1.5-0.1 1.3-0.5 1.5-0.4 1.6 0.1 1.5 0.2M281.0 415.6l-0.6 1.1-0.9 1.1-0.9 1.0M292.8 417.0l-1.3-0.1-1.4-0.2-1.5 0.0-1.3-0.3-1.6-0.4-1.7-0.5-1.7 0.1-1.4-0.1-1.7-0.4M338.3 401.4l-1.3-0.7-1.3-0.1-1.1-0.9-0.8-1.1-0.9-1.2-0.8-1.3-0.5-1.2 0.0-1.5 0.6-1.4 0.7-1.5 0.7-1.6 0.9-0.9 1.1-0.6 1.0-0.7 1.7-0.6M341.4 308.8l1.4-0.5 1.1-0.7 0.8-0.9M292.4 402.2l0.9-1.4 1.0-1.2 1.3-0.4 1.4-1.0 1.3-0.4 1.3-0.3M293.4 403.0l-1.0-0.9-1.4-0.7-1.3-0.6-1.2-0.4-1.3-0.8-1.1-0.7-1.3-0.8-1.4-1.0-1.1-0.7-1.4-0.5-1.6-0.2M294.2 419.1l-1.6-0.1-1.1-0.6-1.4-1.0-1.3-0.9-1.1-0.9-0.9-1.2-0.8-1.2-0.6-1.2-0.3-1.3-0.3-1.2-0.3-1.3M342.8 319.1l1.4-0.9 1.3-0.8 1.5-0.9 1.5-1.0 0.6-1.5 0.9-1.4 1.0-1.3M340.0 319.2l1.3-0.3 1.5 0.2 1.5 0.6 1.0 1.1 1.0 0.7 1.0 1.3 0.8 1.5 0.9 1.3 0.8 1.0 1.4 0.9 1.4-0.1 1.2 0.3 1.4-0.3M296.5 311.5l-1.5-0.2-1.7 0.2-1.3-0.7-1.3-0.6-1.2-1.1-1.0-0.7-1.6-0.7M284.3 392.0l1.1-0.9 0.9-1.2 0.9-1.1 1.2-0.9 1.4-0.3 1.4-0.7 0.9-0.9 0.7-1.0 0.1-1.2 0.6-1.1M352.7 389.0l-0.0-1.5 0.5-1.5-0.1-1.7 0.4-1.2 0.9-1.4M363.9 390.8l-0.9 1.2-1.2 1.3-1.1 1.3-1.1 0.8-1.5 0.7-0.9 1.0M363.8 394.3l-1.5 0.4-1.7-0.3-1.6-0.5-1.1-0.6M361.7 387.0l0.6 1.1 0.8 1.5 0.7 1.2 0.8 1.2 1.7 0.0 1.2-0.5 1.4-1.1 1.3-0.6 1.2-1.0 0.7-1.3 0.7-1.4M361.3 396.5l-1.5-0.5-1.2-1.0-0.8-1.4-0.6-1.3M298.7 406.2l-1.6 0.1-1.4-0.4-1.1-0.4-1.5-0.6-1.4-0.6-1.5-0.2-1.4 0.0-1.2-0.0-1.3 0.5-1.3 0.1-1.1 0.8-0.7 1.1M286.6 355.1l0.0 1.6 0.0 1.8M366.5 325.5l-0.4 1.6-0.1 1.7-0.8 1.3-1.2 1.1-1.2 0.4-1.3 0.1-1.3-0.1M368.3 327.4l0.3 1.7 0.2 1.5 0.6 1.2 0.9 1.2 0.6 1.4 0.8 1.3M354.0 378.1l-1.1-0.9-1.2-0.7-1.4-0.2-1.6 0.5-1.3 0.6-1.3 0.2-1.4 0.7-1.3 0.3M352.4 329.3l-1.1-0.9-1.6-0.8-1.4-0.2M373.6 320.3l0.7 1.1 0.3 1.3 0.5 1.6 0.8 1.2 1.0 1.1 1.2 0.9 1.1 1.3M360.1 325.1l1.7-0.4 1.4 0.3 1.7-0.2 1.6-0.1 1.4 0.0 1.6 0.2 1.7 0.6 1.5 0.2 1.2 0.7 1.6 0.8 1.1 0.8 1.0 1.0 1.5 0.8 1.7 0.1 1.5-0.2 1.3-0.3M278.6 315.5l-0.2-1.2-0.6-1.4-0.1-1.4 0.4-1.1 0.4-1.3 0.4-1.3 0.4-1.3-0.2-1.4 0.6-1.4 0.1-1.4 0.3-1.6 0.2-1.5 0.1-1.4 0.7-1.4 0.9-1.3 1.4-0.9M334.9 373.3l-1.3 0.6-1.3 0.7-1.2 0.6-1.5 0.2-1.5-1.0-1.2-1.3-1.1-0.6-1.5-0.8-0.9-0.7M337.6 313.5l1.3-0.6 1.7-0.4 1.1-0.9 1.1-1.2 1.1-1.4 0.4-1.4M337.4 318.1l-0.4-1.7 0.2-1.4 0.6-1.6M338.9 318.1l-1.5-0.0-1.5 0.0-1.7-0.0-1.3 0.1-1.6 0.4-1.5 0.1-1.3 0.7-1.3 0.1-1.7-0.0-1.6-0.4M307.8 408.6l-0.2-1.6-0.4-1.3 0.0-1.4 0.0-1.2 0.5-1.7 0.2-1.3-0.1-1.5-0.5-1.5-0.3-1.7 0.0-1.3-0.1-1.5 0.4-1.2M277.8 346.8l-0.9 1.4-0.5 1.4-0.4 1.6-0.6 1.5-1.1 0.9-1.3 0.7M339.8 367.2l0.9 1.1 0.9 1.2 0.8 1.3 0.4 1.4M377.4 391.8l-1.4-0.1-1.5-0.8-1.7 0.0-1.5 0.3-1.6 0.4-1.8 0.1-1.6-0.6-1.3-0.8-1.1-0.9-0.8-1.5M337.6 365.5l1.7-0.7 1.0-1.0 1.2-0.9 1.1-0.8 1.0-1.4 0.4-1.2 0.2-1.6-0.2-1.6M321.2 377.6l1.4-0.7 0.6-1.6 0.9-1.4 0.8-1.6 1.1-1.0 1.2-1.1 0.8-1.4 0.9-1.2 1.0-1.2 1.1-1.0 0.4-1.7 0.9-1.6 0.7-1.0 0.2-1.2 0.5-1.4 0.2-1.2M362.2 347.3l-0.1 1.7-0.1 1.3 0.3 1.5M369.7 344.7l-1.1 0.7-1.3 0.4-1.1 1.0-1.4 0.5-1.8 0.3-1.3 0.3-1.5-0.4-1.4-0.4-1.2-0.2M273.5 384.2l0.5-1.3 0.6-1.4 0.9-1.4M279.1 393.1l-0.5-1.1-1.0-1.0-0.8-1.4-0.9-1.1-0.9-1.5-0.9-1.2-0.5-1.5-0.4-1.2M295.7 386.6l-0.7 1.1-0.9 1.2-0.6 1.3M298.3 388.1l-1.0-1.1-1.5-0.5-1.8 0.3-1.6 0.7-1.0 0.9M304.1 388.1l-1.3 0.4-1.3-0.5-1.7 0.2-1.5-0.0-1.4-0.0-1.2 0.3M343.8 396.6l1.7-0.0 1.2 0.2 1.2 0.5 1.0 1.0 1.4 0.9 1.1 0.6 0.5 1.1M297.4 410.1l1.5-0.7 1.4-0.8 1.1-0.7 1.6-0.7 1.4-1.0 1.2-1.2M345.8 368.9l0.0-1.6-0.3-1.2-0.3-1.2-0.0-1.8M263.7 334.1l-0.1-1.2 0.1-1.2 0.0-1.6-0.4-1.4M262.5 334.1l0.4-1.5 0.7-1.5 0.7-1.1M260.9 334.5l-0.6 1.6-0.7 1.3-1.6 0.7-1.2 0.7-1.0 0.8-0.9 1.2-0.1 1.5M331.6 338.3l1.0-1.0 0.8-1.4 0.0-1.7 0.4-1.4 0.4-1.6 0.3-1.5M334.4 378.0l0.9-1.1 1.3-0.5M294.7 321.4l0.4-1.7 0.7-1.3 1.0-1.4 0.3-1.3-0.1-1.4-0.3-1.7-0.1-1.7-0.1-1.7M360.5 314.0l1.4-0.7 1.1-1.0 0.4-1.2-0.0-1.7-0.1-1.4-0.0-1.5-0.7-1.6-0.6-1.6-0.0-1.7 0.2-1.6-0.3-1.7-0.4-1.2-1.3-0.7-1.2-0.5M356.9 391.3l0.9 1.2 0.6 1.7 0.3 1.3 0.6 1.1 0.9 1.0M349.1 387.4l0.8 1.4 1.8-0.0 1.2 0.4 1.3 0.5 1.6 0.7 1.1 0.9 0.9 1.4 1.0 0.9M349.6 379.7l0.6-1.7 0.7-1.5 0.6-1.6-0.3-1.5 0.2-1.4M339.3 394.2l-0.6-1.5M342.2 403.2l0.0-1.5-0.0-1.3-0.8-1.5-1.2-1.0-0.7-1.1-0.5-1.4 0.3-1.2 0.2-1.4 0.3-1.2-0.2-1.6-0.2-1.4-0.4-1.5-1.1-0.7M354.4 348.2l-1.3-0.4-1.8-0.2-1.4-0.6-1.5-0.9-1.3-0.7-1.5-1.0-1.4-0.1M344.7 362.8l1.2-0.5 1.3-0.9 1.3-1.2 1.3-0.9 1.5-0.9 0.9-1.3 0.7-1.6 0.5-1.4 0.2-1.5 0.3-1.2 0.1-1.4 0.3-1.7 0.9-1.4 0.4-1.2 0.5-1.5-0.1-1.6 0.0-1.6M330.2 391.9l0.4-1.3 0.6-1.6 0.5-1.4 0.4-1.1 0.5-1.7 0.5-1.3 0.7-1.1 1.5-0.7 1.0-1.3 1.0-1.4M343.9 356.9l-0.9-1.4-0.8-1.0-1.3-0.9-1.3-0.6-1.0-0.8-1.5-0.5-1.4-0.3-1.7-0.5M348.0 358.5l-1.5-1.0-1.5-0.1-1.2-0.5-1.1-0.9-1.3-0.6-1.4-0.8-1.2-0.9M338.2 397.7l1.5 0.8 0.7 1.0 1.0 0.9 1.1 0.9M336.9 398.1l1.2-0.4 1.7-0.2 1.4-1.1 1.1-1.3 1.2-0.7M329.7 396.3l-0.8 1.5-0.7 1.5-1.0 1.1M330.7 395.4l-0.9 0.9-1.1 0.7-1.6 0.2-1.7-0.2-1.3-0.2-1.4 0.1-1.2-0.3-1.6-0.5M307.2 331.0l1.6-0.7 1.5 0.3 1.3-0.1 1.5 0.1 1.3 0.2 1.4 0.7M297.8 324.6l-0.9-1.1-1.2-1.0-1.7-0.1-1.7-0.4-1.6-0.8-1.3-0.0-1.4-0.0-1.5 0.1M277.0 347.5l-0.6 1.1-0.8 1.1-0.6 1.3-0.6 1.2-0.7 1.0-0.6 1.4 0.0 1.5-0.4 1.7 0.2 1.5 0.6 1.6 0.4 1.2 0.3 1.3 0.7 1.2M355.6 384.6l0.4 1.4 0.0 1.4-0.1 1.4M357.4 378.4l-0.1 1.8-0.6 1.6-0.7 1.4-0.4 1.4-1.0 1.2-0.7 1.0M331.6 348.6l-0.3-1.5-0.7-1.2-0.8-1.2-1.1-0.9M334.5 348.2l-1.3 0.4-1.7-0.1-1.7 0.5-1.7 0.4-1.2 0.7-1.0 1.1-0.1 1.6-0.5 1.3-0.9 1.4M295.9 424.2l0.8-1.0 1.6-0.0 1.6-0.4 1.5 0.3 1.5 0.9 1.4 0.1 1.4 0.5M307.5 395.9l0.3 1.7 0.3 1.2-0.6 1.6M373.5 365.4l1.0 1.2 0.9 1.1 1.0 1.5 0.7 1.3M293.0 355.5l-0.8 1.4" stroke="#a52828" stroke-width="1.05"/>
<path d="M332.3 372.6l2.2-0.3 3.3-0.8 0.0 0.4-0.1 0.1-2.1 0.5-2.9 1.3-0.7 2.7 1.2 0.1-0.7 1.4-0.8-0.3-1.5-0.1-2.6 0.1-1.5 0.5-0.6 1.1 0.6 1.3-0.2 1.3 2.1 0.7 1.4 0.6M314.9 339.8l-1.4-2.0-1.2-2.3-0.2-2.9-0.7-1.2-0.2 0.1 0.9-0.3M358.4 423.5l-3.0-1.5-0.8-1.2 1.3-2.1 1.9-2.9-1.7-1.2-2.4 0.2M377.3 349.7l0.6 2.0-1.3 2.2M309.8 403.1l1.5-5.4 2.9-4.1 0.1 0.8 0.0-0.7 0.4 0.9 0.2-0.0 2.5 2.5 2.9 1.0M288.6 339.1l0.4-0.3 1.2 0.5 1.0 0.0 2.3-1.1-0.2-1.4 0.2-1.3-0.2-0.5-0.0-0.6 1.4-0.5 0.3-1.1 0.0-1.0 0.6 0.8 0.1-0.5 1.1-0.5 2.3 1.7 2.7 2.5-0.1 0.8-0.4 0.3M355.3 325.5l1.0 0.5 2.8 0.2M383.4 419.8l1.2 2.1 1.0 2.2M323.7 404.2l1.8-0.7 2.3-0.5 0.2 1.0 0.8 2.3 2.2 0.4 2.6-0.2-0.6-0.8-0.2-1.6-1.8-2.2-1.7-0.7 3.0-0.6 1.2-1.4-0.4-2.1-1.0-1.2M362.5 405.6l-1.4-1.1-1.2-0.9-1.3-0.7-1.5 0.0-1.3 0.2-1.2-0.7-0.9-0.9-1.2-0.4-0.9-1.1-0.3-1.3-0.4-1.4-0.0-1.3-0.0-1.4 0.5-1.2 0.5-1.3M289.0 394.8l-0.9-1.2-0.5-1.1-0.4-1.2-0.9-0.8-0.7-1.6-0.6-1.3-0.2-1.3 0.1-1.2M358.3 326.8l1.3 0.7 1.4 0.5 1.2 0.2 1.3 0.1 1.8-0.1M278.5 354.2l1.6-0.2 1.2 0.8 0.5 1.6M347.4 319.7l-0.3 1.3-0.4 1.6-0.2 1.5 0.1 1.4-1.2 1.3-0.9 0.8-0.8 1.5-1.1 0.6M315.6 346.1l1.2 1.4 1.4 0.9 1.5 0.9M304.0 351.8l1.1 0.7 1.4 0.3 1.8-0.2 1.3 0.1 1.5 0.3 1.3 0.3M284.2 422.5l0.3 1.3 0.3 1.5 1.3 1.0 0.8 1.2 0.8 1.6 0.9 1.1M332.4 392.1l1.5-0.4 1.2-0.9 0.6-1.1 0.5-1.5 0.9-1.2M335.9 387.5l1.4 0.7 1.5 0.7 1.7 0.6 1.1 0.9 0.9 0.9M338.6 316.6l0.2-1.3 0.5-1.2 0.8-1.0 0.5-1.1 0.2-1.7 0.6-1.6 0.4-1.2 0.9-1.1 1.3-1.1 1.6-0.7 1.4-0.6 1.4 0.2 1.7-0.5 1.5-0.8M338.5 375.3l-0.8-1.1-0.9-1.4-0.6-1.7-0.9-1.6-0.9-1.5-0.4-1.2M338.4 380.1l-0.9-1.2-0.9-1.5-0.1-1.5M321.2 390.6l1.5-0.1 1.3-0.5 1.8-0.3 1.3-0.1 1.3-0.2 1.3-0.5 1.5-0.8 1.0-0.8 0.9-1.2 1.5-1.0 0.7-1.0 0.8-1.0 1.3-0.8 0.8-1.0 0.4-1.3M332.9 353.1l1.3 1.2 1.1 1.0 0.6 1.3M282.7 383.7l1.0 1.0 0.9 1.4 0.7 1.6 0.4 1.2 0.6 1.1 0.4 1.7M294.7 318.8l0.6-1.4 0.4-1.2 0.9-1.2 1.5-0.9 1.4-0.9 1.1-1.0 1.2-1.1 0.8-1.4 1.0-1.5M284.6 370.0l0.3-1.7M291.3 386.9l-0.9-1.5-0.7-1.1-1.2-1.0-0.9-1.2-1.0-1.5M353.3 361.9l-1.5 0.7-1.7 0.4-1.3 0.1-1.6-0.3-1.3-0.7-1.1-0.8-1.3-1.1-1.1-1.1-0.4-1.4-0.6-1.2-0.3-1.2-0.8-1.1M362.7 331.6l-0.7 1.0-0.7 1.5-0.6 1.1-1.1 0.5-1.2 0.4-1.1 1.1-0.7 1.4-0.5 1.6M294.1 334.8l-0.3 1.6-0.7 1.0-0.3 1.2-0.3 1.7-0.6 1.3-0.5 1.1-1.3 0.7-1.3 0.7-1.4 0.6-1.4 0.6M351.2 328.4l-1.0 1.3-1.4 0.4-1.4-0.1-1.2-0.5M378.6 404.7l1.2 1.0 1.0 0.8 1.0 1.1M377.4 404.5l1.2 0.3 1.5 0.8 1.3-0.0 1.3-0.5 1.2-0.7M318.4 333.9l0.9 1.4 0.7 1.0 0.5 1.6 0.3 1.4-0.1 1.7-0.7 1.5-1.4 0.9-1.5-0.0-1.3-0.2M375.7 332.4l-0.5 1.3-0.7 1.1-0.4 1.5-0.0 1.7-0.2 1.7 0.5 1.7M325.6 356.7l-1.2-1.1-1.3-0.7-1.4-0.9-1.2-0.5-0.5-1.2-0.0-1.4-1.0-1.1-1.3-1.0-0.5-1.2-0.5-1.3 0.1-1.7M329.7 318.7l-0.3 1.3-0.4 1.4-0.1 1.6 0.0 1.5-0.4 1.7 0.1 1.3M341.6 372.7l1.1-0.8M333.2 367.1l0.9 0.8 1.2 1.1 1.0 0.6 1.4 0.7 1.3 0.7 1.4 0.7 1.2 1.0 1.0 1.3 1.2 1.0 1.3 0.4 1.4 0.0M323.4 364.7l1.4 0.5 1.3 1.2 0.7 1.3 1.0 1.3M280.8 348.4l-0.1-1.3M319.1 379.2l-1.6-0.2-1.5-0.2M367.3 345.8l-1.1-0.5-1.2 0.6-1.3 0.6-1.5 0.8-1.4 0.4-1.3 0.6M283.2 380.6l0.6-1.1 0.8-1.0 1.2-1.1 1.5-0.9 1.7-0.1 1.5-1.0M348.1 371.4l-1.5-0.4-1.6-0.4-1.5-0.8-1.2-0.3-1.2-0.8-1.2-1.2M348.5 372.9l-0.4-1.5-1.0-1.2-1.3-1.2-0.5-1.1-0.3-1.3-0.2-1.3M326.1 340.1l1.1-0.6 1.6-0.3 1.5-0.2 1.4-0.6 1.3-0.2 1.3 0.0 1.3 0.1 1.6-0.2M328.3 327.0l-0.4 1.6-0.8 1.1-0.9 1.1 0.1 1.2 0.1 1.5-0.7 1.6-0.8 1.5 0.0 1.3 0.2 1.3 1.1 0.9 1.2 0.7 1.1 0.8M363.1 306.5l-1.0-0.7-1.7-0.5-1.4-0.4-1.3-1.0M336.3 349.5l0.6-1.1 0.2-1.6 0.6-1.2M319.2 341.5l-1.1-0.5-1.7-0.4-1.7-0.4-1.6-0.3-1.4 0.2-1.3-0.3-1.5-0.2-1.5-0.2-1.7-0.2-1.7-0.2-1.5-1.0-0.8-1.0M377.4 318.5l0.1 1.2-0.1 1.7-0.2 1.5-0.4 1.3-0.8 1.4-0.5 1.2-0.7 1.4M334.6 393.8l0.8 1.4 0.6 1.4 0.9 1.5 1.4 1.0 1.1 0.5M309.8 325.7l0.1-1.5-0.6-1.7-0.4-1.4 0.1-1.3 0.4-1.7 0.1-1.7M311.4 335.5l-1.0-0.7-1.5-0.6-0.9-1.0-1.0-0.7-0.6-1.5-0.5-1.5-1.2-0.9-1.2-0.8-1.0-1.4-1.4-0.7-1.7-0.3-1.6-0.9-1.3-0.7-1.6-0.9-1.3-0.4M359.2 333.6l1.5-0.6 1.3-0.5 1.4-0.8 1.2-0.8 0.7-1.6 1.1-1.2M336.6 384.8l0.5 1.6-0.5 1.3-0.7 1.7-0.8 1.5-0.5 1.5M297.2 424.9l1.5-0.9 0.9-0.9 0.3-1.2 0.0-1.8 0.3-1.3 0.2-1.5 0.0-1.8M308.0 403.4l-1.5 0.8-1.0 0.7-1.4 1.0-1.5 0.5-1.5 0.2-1.5-0.7M314.2 343.2l0.7-1.2 0.3-1.3 0.4-1.7-0.2-1.4-0.4-1.6 0.3-1.7-0.0-1.6 0.4-1.4 0.0-1.5M306.6 349.1l1.5-0.0 1.7 0.3 1.5 0.3 1.3 0.6 1.3 0.6 1.3 0.2 1.3 0.2 1.3 0.1 1.7-0.5 1.4-0.5 1.8 0.1 1.4-0.1 1.7 0.4 1.5-0.2 1.4-0.0" stroke="#cc3838" stroke-width="1.05"/>
<path d="M310.3 389.9l-0.7-0.1M297.0 383.9l1.1 1.0M368.2 412.9l-0.3 1.2M337.0 374.3l-1.2 0.2M347.0 317.0l-0.4 1.2M282.3 328.8l0.8 0.2M300.0 336.8l-0.5 1.5M327.8 356.0l-0.4 1.9M295.9 353.0l1.0 0.2M288.6 414.3l-0.5 0.6M328.2 316.9l-1.6-1.5M371.5 415.0l0.6 0.6M292.2 330.7l0.7-1.9M322.5 342.1l-0.9 1.7M375.1 386.4l2.1-0.4M375.9 374.6l-1.2 0.8M321.7 369.6l-0.6 1.8M365.3 361.1l1.4 0.0M360.7 342.8l0.9-0.8M355.6 387.1l1.6-1.0M372.0 382.6l1.5 0.9M303.9 373.8l-2.0 0.4M272.6 379.6l0.4 1.4M282.2 338.5l0.5-1.0M341.4 329.6l-0.4 0.8M369.0 402.5l1.2-0.6M294.5 332.0l0.9-1.7M273.2 391.0l1.1 0.9M331.0 408.8l-0.8-0.8M366.7 336.9l-0.2 0.6M350.7 360.8l-1.4 1.6M346.6 328.7l-1.8 0.3M345.1 392.6l1.0 0.0M278.4 405.9l1.9 1.0M373.5 334.2l-1.1-0.9M301.4 324.6l-1.2-1.0M377.5 369.4l0.4-0.6M371.5 332.8l-1.2-1.3M367.5 314.0l1.1-1.4M335.3 408.8l-1.1-0.5M327.4 410.2l-1.7 0.9M357.5 385.1l-1.4-1.3M358.3 377.8l-0.9-0.9M360.3 394.6l0.7 1.2M272.8 341.9l-0.3 0.5M306.2 416.7l-0.9 0.8M361.3 401.9l0.3 0.7M340.6 367.2l-1.0-0.2M373.8 330.0l-0.0 1.3M325.0 322.8l-0.6 0.1M331.8 369.5l1.5-0.2M353.6 393.3l0.1-1.0M361.0 346.2l-1.4-0.8M327.5 397.8l1.2-1.4M345.7 351.7l1.9-0.9M318.3 404.1l1.4-0.2M349.7 400.5l1.1-0.1M301.3 335.9l-1.3 0.4M376.9 382.1l0.1 1.0M355.6 343.9l0.4 1.1M344.6 337.2l1.0 0.3M320.9 340.8l0.6 1.4M313.0 337.3l0.9-0.5M362.3 364.8l-0.5-2.1M325.7 354.8l1.5-0.5M282.5 358.7l1.5-1.4M278.5 341.9l-0.9 0.9M335.6 357.5l-0.6-1.3M298.2 320.0l-1.8-0.6M329.6 404.0l0.9 0.9M316.3 321.6l-0.1-0.9M318.4 397.5l0.9 1.4M327.4 407.8l-1.4 1.4M279.1 414.5l-2.2-0.0M351.1 337.8l1.2-1.8M283.7 335.8l-0.3 1.0M297.6 393.1l-0.5 1.5M373.2 345.4l-1.4-0.6M300.1 418.5l-0.3 0.6M373.5 418.9l0.9 1.3M311.3 379.0l0.7-0.0M306.1 404.2l-0.7-0.3M365.6 392.6l0.3 1.5M361.1 371.4l0.9 1.5M350.0 327.3l-0.6-0.5M350.0 335.1l-0.6 0.2M294.4 412.1l-0.5 1.2M316.6 398.3l-0.5-1.2M275.0 328.6l0.9-1.7M340.1 324.1l-0.3-1.6M280.5 403.6l0.8-0.8M291.1 374.2l0.6 1.0M330.4 335.6l-1.5 1.1M353.9 401.0l-1.7-0.0M365.1 333.2l-0.8-0.6M358.9 417.9l-1.7 0.1M329.3 369.8l0.8 1.5M351.1 327.5l-1.3 0.3M336.3 326.5l-1.2 0.0M300.1 319.4l0.7 0.3M317.4 392.0l1.0-1.3M361.0 378.8l0.5 1.6M347.6 346.8l2.1 0.5M296.9 330.3l0.3-1.2M351.5 396.4l0.4 1.8M320.4 387.1l1.5-0.3M282.5 322.1l-0.1-0.9M352.0 402.8l0.0-1.1M295.6 404.9l1.0 0.5M292.8 379.6l-1.4-1.5M374.2 366.3l0.3 0.6M371.8 363.8l-1.1 1.8M291.5 385.6l0.9-0.3M309.2 352.8l-1.1-1.6M297.7 364.8l-1.0-0.2M376.1 408.6l1.5 0.3M284.5 348.3l0.9-1.2M335.1 414.3l1.5 0.3M366.2 359.6l-2.0-0.5M295.7 321.7l1.4-0.8M360.2 357.7l1.1 0.0M345.0 418.3l-1.0 0.6M302.5 396.2l1.9-0.8M358.4 379.8l2.0 0.3M289.5 411.1l-0.3-2.1M322.5 349.9l-0.8-1.8M348.8 392.0l-0.6 1.8M310.1 407.2l-0.2-1.7M345.6 314.0l-0.6-0.5M304.6 315.9l0.0-1.5M325.1 318.2l-1.5-0.4M297.4 408.7l-0.7 0.7M373.0 334.0l-0.4 0.7M332.6 322.4l0.8-0.4M315.3 323.3l0.9 0.1M309.8 321.0l-1.4-1.3M358.6 338.2l1.6 0.4M327.7 417.8l-0.2 2.2M303.5 336.4l1.2 0.6M366.6 366.8l-0.1-0.8M306.4 407.8l1.4 0.7M358.3 363.5l0.8-1.0M365.2 355.3l0.0 0.8M299.1 317.5l-0.8 1.0M349.4 316.6l1.3 0.8M342.1 327.1l-0.5-1.3M319.8 325.0l-0.2-1.0M350.3 316.3l-0.5-0.8M375.3 327.6l0.8 0.8M321.5 381.3l1.3-0.2M313.2 414.7l-0.8-0.9M351.2 314.4l-1.8-0.9M335.5 359.5l0.7-0.9M324.8 392.2l-1.1 1.1M300.7 344.7l0.3 1.9M273.1 358.6l0.8 0.9M287.3 386.3l-1.4 1.5M360.1 345.1l0.6 0.5M324.1 408.0l-0.4-2.0M313.2 322.9l-1.3-1.6M363.7 364.3l1.7 1.0M311.4 313.0l-0.9 0.5M302.2 334.5l-1.3 0.5M284.2 348.1l1.6-0.3M335.9 313.1l1.2-0.6M350.2 318.7l0.6-0.1M331.1 318.1l-0.5-1.9M353.1 352.0l0.7-0.8M320.1 322.2l-0.8-0.2M303.8 324.8l-1.1-0.7M308.9 329.8l-1.6-0.4M342.9 350.5l-1.0 1.1M351.8 335.2l0.5-0.7M361.0 340.5l2.0 0.0M345.7 323.4l-0.5-1.6M285.7 314.8l-1.1-1.3M311.7 336.0l0.7-0.2M348.0 395.9l-1.1-0.9M364.5 362.0l-0.1 2.0M357.4 410.5l-0.6 0.2M330.2 323.3l1.0-0.1M336.0 334.8l0.6 0.2M274.2 376.6l0.2-1.0M358.8 328.1l0.4 0.6M299.7 330.5l0.3-1.0M300.1 335.0l-0.1 0.8M304.0 358.3l1.1-1.0M358.2 351.5l0.5-1.4M340.8 405.6l-0.3-0.9M317.8 342.7l-1.9-0.5M326.9 323.8l0.8-0.7M320.3 334.7l-0.5 0.5M359.2 380.6l0.2-1.9M349.1 379.0l0.9 0.2M332.8 367.6l0.7-0.1M301.2 329.1l1.6 1.2M296.1 356.4l-0.4-0.9M354.1 381.3l-0.7 0.1M374.0 315.2l1.1 1.5M356.3 321.2l0.7 0.3M332.1 387.3l-0.4 1.1M335.3 350.4l0.5 1.1M349.7 392.4l1.4 0.3M309.3 400.5l-0.5 1.1M375.7 330.2l0.2-0.7M353.4 352.1l2.0-0.1M330.8 406.8l-1.0 0.3M316.4 409.3l-0.3 1.3M295.9 414.2l-0.6-1.3M295.2 377.8l-0.8 0.2M371.6 313.1l-1.3 1.6M289.0 335.9l-0.4 0.5M359.3 393.3l-0.5-1.0M347.5 323.6l0.9 0.3M305.3 391.7l-1.0-0.5M337.7 325.2l-2.0 0.4M345.3 318.0l-1.2-0.2M360.7 402.2l0.7-2.0M368.7 376.5l1.6 0.0M313.9 320.3l0.9 1.5M337.9 366.0l-0.2-1.6M349.4 331.9l-1.0-0.7M286.1 316.0l0.6-1.0M370.3 337.4l-0.1 1.1M292.7 396.1l-1.4-1.0M310.6 375.6l-1.1-0.5M354.0 406.3l-0.2 0.6M332.6 352.4l-1.0-1.9M363.0 377.2l0.3-1.2M374.9 379.1l-1.2 1.0M318.7 320.3l-1.1 0.8M370.8 358.9l-1.5-1.1M286.3 366.4l-0.5 1.8M365.6 377.7l-0.2 0.9M371.0 351.7l0.9-0.8M281.4 411.3l0.6-1.3M354.5 313.4l-0.9-1.4M372.2 351.9l-0.7 0.5M350.9 400.4l-0.8-0.8M339.3 352.4l-0.1 1.0M313.1 327.5l0.5 0.7M280.7 319.0l0.8-0.6M331.5 370.4l1.1-0.3M311.8 369.3l1.6 0.6M286.0 384.1l-0.0 0.8M374.4 346.8l-1.8 0.6M301.7 327.6l-1.6 1.2M281.9 364.1l1.4 0.6M275.5 324.7l-1.0-0.5M376.1 369.3l1.7 0.2M281.2 395.0l-0.7 1.1M292.7 385.9l-0.6 1.4M288.6 337.3l0.5 1.2M313.0 337.0l0.9 0.4M348.1 393.8l2.2 0.2M301.3 347.9l0.8 1.2M277.3 409.9l0.4 0.7M360.6 410.6l-0.2-1.2M311.2 393.9l1.2-0.0M282.4 341.5l0.9-0.9M322.0 379.9l-0.2-0.7M345.5 409.1l0.1 1.6M280.2 361.0l-2.0-0.4M316.8 337.8l-0.8-2.0M326.4 387.8l-0.8-1.1M355.7 414.7l-0.8-2.0M339.7 387.4l0.8 0.5M311.1 336.1l1.1-1.6M290.4 387.1l0.5 1.0M281.4 338.7l1.0-1.1M313.1 359.6l1.7 0.0M317.9 418.9l0.7-1.2M291.8 370.4l-0.0 1.4M316.1 388.0l0.4-0.7M342.6 334.3l-0.8-0.4M312.2 397.9l-1.8 0.3M271.4 377.1l-0.3 1.7M279.9 314.0l-0.1 0.7M331.0 358.8l-1.0 0.2M374.9 377.4l-0.6 0.3M346.5 332.2l1.9 1.1M312.5 415.1l0.4 0.7M280.4 359.0l-0.4-0.5M276.2 384.9l1.9-0.3M301.4 320.3l-0.1-1.4M294.6 349.6l0.0-1.0M310.0 317.6l-0.9-1.3M372.9 365.1l-1.0-1.8M333.7 417.5l-0.7 1.8M372.9 321.5l1.8 0.3M352.8 333.1l-1.2 0.6M294.3 401.1l0.7 1.7M359.9 357.1l0.7-1.3M339.5 348.4l0.9 1.9M295.6 315.1l-1.1 0.4M296.7 339.1l1.2 0.6M327.2 387.4l-0.6-0.6M338.0 336.3l-0.6 1.0M362.4 366.3l2.1 0.6M299.9 347.4l0.2-0.8M362.9 397.0l-0.6-0.3M283.6 315.4l1.2 1.7M370.7 403.5l0.6 0.3" stroke="#b83030" stroke-width="1.16"/>
</g>
<clipPath id="cv108"><rect x="384.2" y="312.7" width="106.6" height="106.8"/></clipPath>
<rect x="384.2" y="312.7" width="106.6" height="106.8" fill="#060606"/>
<g clip-path="url(#cv108)" fill="none" stroke-linecap="round" stroke-linejoin="round" filter="url(#soft)">
<path d="M424.7 391.4l1.4-0.4 1.4-0.2 1.1 1.8 0.3 1.6 1.9 0.2 0.9 0.3 0.0-0.4-0.1 0.9 0.6 1.9 1.0 0.5M434.9 363.7l1.2-1.6 1.6-1.0 1.6 1.1 0.1-0.6 1.8-1.8 2.3-3.0 0.4-0.3-0.0 0.1 3.2 0.8 0.4 1.4 0.0 0.6 0.9 1.0 0.4 0.7-0.2 0.5M455.2 421.9l0.0-0.4-0.2 0.1-1.2-0.7-1.7-0.9-1.3 0.2-1.5 0.6M439.2 377.8l0.3 0.9-0.4-0.9-0.9 0.7-0.4 0.2-2.8 0.6-2.1 0.5M388.3 383.3l-0.2 0.2-0.6-0.9 2.7-2.6 0.4-1.3-0.1-1.5 0.0 0.5 0.3-1.4 0.5-0.8 1.3 0.8 0.5 0.2 1.8 0.4 2.8-1.9 3.1 1.6 1.0 1.6-0.3-0.9 1.3-1.0 1.7 0.2 2.0-1.8 1.8 0.8 1.6 0.6-0.3 0.6-0.5 2.0M388.4 311.4l-0.3-0.4 0.5-0.1 0.5-3.9 0.3-2.9 1.1 0.2 0.9 0.7 1.8-0.2 3.1-0.4-0.7 1.2-1.7 1.8 0.7 0.3 0.0 0.9 2.5 0.2-0.2-0.5 1.1 1.4-0.6-0.6-0.7 0.6 0.2 0.8 0.2 1.4 2.6-0.5 1.0-2.1-0.5-1.0M426.4 371.3l0.3-2.7 1.8-3.2-0.7-0.2-0.4 0.1-1.0 2.0-1.9 1.2 0.7 1.5 0.2 1.0-0.7 1.1-1.1-0.2-1.3-1.4-1.4-0.8 1.1-0.1-1.0-1.4 1.3-0.1 2.2 0.4M425.3 371.1l1.1-0.0-0.0 0.3M439.4 345.6l-1.1-1.2 1.3-1.5-0.6-1.2-0.1-0.3-1.6-1.5-2.1 0.2-0.5-1.1 0.0-2.5M391.4 375.6l-0.5-1.1-0.4-1.0-1.9-0.2 0.1 0.5-2.2-1.4-0.6-1.5 0.6-1.8 1.3-1.3 1.0 1.6 1.3-0.2 1.7-2.7 1.8-2.4 1.1 1.0 1.1-0.4 1.4-0.6 0.0-0.6M468.9 340.9l-1.2-0.5-0.3-1.3-2.5-0.0-1.1 1.1M463.4 341.3l-1.3-1.8-3.1-1.5-1.6 0.2-0.2 0.9-1.5-0.6-1.6-0.1-0.8 4.3-0.1 4.5 1.3-0.6 1.5 1.1 0.9-0.6 0.3 0.9M427.0 403.0l-1.1 0.8 1.6-0.5 1.1 1.0 0.4-1.1 2.4 2.6 4.7-0.6 0.2 0.5-0.1-0.5 0.4 3.5-0.5 3.2-1.1-0.1-0.7 0.8-1.3-0.3-0.4 0.4-0.8 0.5-0.8-0.9M379.4 415.2l1.8-0.4 3.2-0.1 1.2-0.0-0.4-0.2 1.0-0.2-0.0-1.2 1.5-1.5 3.1-1.4-0.4 0.5 0.3-0.7-1.2-4.0-1.2-4.2M432.7 384.7l1.0 2.5-0.3 0.1 1.7-0.6 1.9 0.9-0.3-1.9 0.9-0.1M484.7 345.7l-1.1 4.4-2.2 4.6-1.4-3.7-1.8-5.3 0.3-0.6 0.3-1.0 0.4 0.4-0.3-0.6-0.7-0.8 0.0-1.1M493.3 373.1l-0.7 3.9-0.8 1.7M483.6 312.7l0.0 0.7 0.6 1.5 0.8 0.0-0.5 1.2 3.2 0.2 3.4 0.3M492.1 317.8l-0.3-0.1 0.2 1.2M433.6 308.9l1.5 2.6 1.1 2.6-0.4 0.5 1.3-0.4 0.2-2.6 2.2-2.4 2.5-0.6 3.2 0.4 0.6 0.1-0.5-0.8-1.7-3.4-1.3-3.5-1.2 1.3-1.5 2.0-0.5 2.3-0.0 1.2-1.1-1.1-1.2 0.5-0.7-1.3-0.4-1.5M388.4 311.4l-0.2 0.3 0.0-0.3-0.4-0.1-0.3-0.2-2.8 0.9-2.2-0.3-0.8 1.3-1.1 0.3M442.7 393.4l-1.9-1.4-1.5 0.1M480.9 413.4l2.0-0.4 2.3 0.5-0.5-0.2 0.6 1.3 1.3 1.3 1.3 1.0 1.0-0.3 0.5 0.3M494.2 328.7l-1.1 0.6-1.5 0.4-0.8-0.8-2.6-2.0M439.6 406.3l-0.6 1.1 1.3 3.4M446.0 408.5l0.1 0.8-0.3-1.0M479.1 315.8l-0.1-0.6-0.1 0.7-1.4 0.6 1.1-0.7M428.1 424.7l0.6 0.1-0.7-0.1-0.4-1.1 0.1 0.9-0.6-0.6-1.1 0.3-0.4-1.0-1.9-0.8-1.6 3.5-4.0 2.2-0.8-1.0-0.3-1.3-1.7-2.2-1.2 0.2 0.7-1.2 1.0-2.0-1.0-1.2-0.2-0.8M379.1 407.2l-0.6-0.2 0.7 0.2 2.2-0.4 2.2-1.2 1.5-0.7-1.0-1.3-1.2-1.0-0.3-0.4M423.2 393.0l0.9-0.5 0.6-1.1M392.1 358.7l-2.9 0.5-2.7 0.6 0.5 0.3 0.5 2.5-2.4 1.7-2.9 1.2-0.1-3.3-0.3-2.8 1.6-0.5 0.8-1.3 1.2 0.1-0.8-1.6-0.5-0.4-1.4-1.0-2.8 0.1-3.2-1.0 2.1-1.9-0.4-3.4 1.4-0.8-0.1 0.2M381.3 335.4l-1.0 0.7-0.5-0.4 1.8 4.2 1.2 4.8-0.1-0.6-0.2 0.9 0.6-0.8-0.7 1.0-1.6 0.7-1.2 1.9M431.8 325.3l0.2-1.2 0.9-2.2 0.6-0.7 0.8 0.5 1.8 0.5 1.4 0.0 0.9 1.4-0.4 1.1M490.2 394.9l-0.6 0.2-1.4 1.1M381.0 398.8l0.3-1.0-0.2-1.6M454.9 315.2l2.0 2.5 2.6 3.1 0.2-0.2-0.5 0.5-1.9-1.2-1.7 0.8-0.5 0.8-0.5 0.4 1.2 0.7 1.7 0.7 1.8-1.0-0.2-1.2M431.8 361.6l2.2-0.6 2.5-1.9-0.3 1.9 1.5 0.0M405.4 365.2l-1.6-1.3-1.9-1.0 0.3-0.2-0.3-0.2-0.6-2.4 0.1-1.5-1.3-0.3-1.4 0.1-1.2-2.5 0.0-0.6-0.7 0.4 0.9-1.6-0.4 0.2 0.3-0.4 2.4-1.0 0.1-0.4M374.1 396.0l-2.5-1.7-2.1-0.7M468.0 335.4l-0.3-0.1 0.9 1.2 0.4-0.3 0.8 0.9M449.1 321.0l1.1-1.3 0.7-0.7M491.6 360.0l-0.1 0.7-0.1 0.7 2.1 1.5 1.8 2.4-2.8 1.6-3.1-0.2-0.4-0.6-0.1-2.0-1.6 0.3-1.7-1.4M400.2 308.3l0.0-0.5 0.8-0.5 0.8 1.4-0.0-1.1 0.2 0.8 0.8-0.6 0.9 1.0 1.3 1.5 3.0-4.8 3.0-4.2-0.3 0.9 0.2-1.1-3.5 3.6-4.6 3.3M473.0 405.1l1.6-0.1 2.3 0.3-0.0 0.3 0.9-0.7 0.6 1.7 1.8 1.4-0.4 1.4-0.8 0.9-2.0 0.4-2.9 0.5-0.8-1.2 0.0-0.2M432.9 357.8l-1.2 0.8-0.4 1.7 0.5 0.0-0.1 1.3M478.8 410.3l1.8 1.6 0.3 1.5M437.4 322.3l2.2-2.3 1.0-2.0-0.8-0.8 1.0 0.2 0.9-0.3-0.4 0.2M413.3 328.8l2.9 0.6 1.8-1.5M458.1 353.5l-1.0-2.5 0.2-2.8M449.2 420.8l-1.7 0.4-0.1-0.3-0.6-0.6-0.9-0.5-0.2-1.3-0.2-0.2M446.2 311.2l2.7-2.6 2.7-1.9-1.2-1.3 0.7-1.5-3.7 2.3-2.0 2.3M476.6 393.0l-3.0-0.3-1.7-0.3-0.6-0.8 0.5-1.3-1.2-1.6-1.3-1.2M478.0 395.5l0.7 0.7-0.8 0.2 0.6 0.4 1.2 1.4 0.7 1.5 1.6-0.4-0.3-0.1 1.5 0.5-0.4-2.3 0.6-1.4 0.9-0.6-0.1-0.5M484.3 390.0l-1.7-1.5-1.7-0.3-1.7 0.9-2.3 0.6M442.0 384.6l0.5 1.0 0.8 1.8M445.7 381.6l0.8-0.8 0.2-0.9M457.1 377.7l-0.9-0.6-2.1-0.6M396.7 304.1l-0.4-0.8 0.4 0.8M411.9 380.8l-1.0-1.0-1.7-1.0M409.9 376.3l0.4 0.8 0.1-1.0 1.4 0.2-0.3-0.3M378.4 378.2l0.8 1.8 0.3-0.4 0.8 0.1-0.4-0.2 3.4 1.1 3.1 1.5M388.3 383.3l2.1-1.2 1.1-1.9-0.6-0.6-0.2-0.8M476.9 389.8l0.2 2.0-0.6 1.2M472.0 392.4l-1.2 2.1-0.4 1.4M454.7 392.3l0.0 0.3 0.9-0.2 0.5 0.2 1.2 1.2-0.9 2.9-1.3 4.2 0.6 1.4-0.7-0.3M477.2 306.0l0.1 0.3-1.0 0.9M451.7 382.7l-1.1 0.1-0.8 1.5 1.2 1.9 1.9 2.2M414.1 408.2l1.0 1.0 0.5 0.8M427.5 403.3l1.3 3.9 2.3 4.6 2.3-3.0 2.7-3.7M477.3 364.0l0.2 0.0 0.2 0.1 1.4-1.0 0.5-1.6M428.5 329.4l1.6-1.1 1.8-1.7 0.5-0.0-0.6-1.2M426.1 401.9l0.6-0.7 0.3 1.8M396.9 328.2l-0.8-1.0 0.4-0.9 1.0-0.4 0.6-1.0 0.4-0.1-0.4-0.1 1.6-2.0 3.4-0.9 1.3 0.8 0.4 0.1 1.6-1.2 2.5-2.2-0.1-1.8 0.5-0.2M388.1 345.4l-2.4-0.1-2.6-0.7 0.3 0.2-0.6-0.0M411.7 353.8l-1.7 0.4-1.5 1.0M456.4 408.8l-0.4 0.2 0.5-0.3 3.9-0.1 2.7-0.5-0.2 1.4 0.1 1.1-1.5 0.3 0.2 0.6M456.8 387.1l-1.8 0.0-1.6 0.7-1.0 0.3 0.5 0.3 0.6 1.7-0.9 0.7-1.1 0.5-0.7-0.3-2.0-0.3-0.7-0.6M457.8 325.6l0.2-1.0-0.6-1.3-0.7 0.1 0.8-0.3M498.3 323.7l-0.3-0.4-0.9-0.9M460.2 418.8l1.1 1.1 0.9 2.8-1.4 1.5-1.1 1.6-0.3 0.1 0.3-0.1-3.0 1.7-2.8 1.2M428.2 382.0l-1.7-0.1-0.3 0.7M454.9 366.2l0.1-0.1 1.4 0.2 1.3 3.1 2.4 2.3M449.8 368.0l-1.0 2.2-0.9 1.4M439.6 406.3l0.6-0.3 1.2-0.2 2.1 1.3 2.2 1.1M449.8 363.9l-1.0-1.2 0.2-0.8 0.1-0.1-0.4-0.2-2.0 1.7-3.3 1.6 0.4 2.5 0.3 0.8M385.1 317.2l-1.2 1.2-1.6-0.4-0.3 3.8 0.4 3.3-0.4 1.0-1.1-0.6-0.9 1.5 0.0 2.0 1.9 2.0 0.5 1.6 0.6-0.4 0.6-0.3 1.2-1.5-0.6-1.3-0.8-2.2-0.3-1.7 0.6-0.4 0.7 0.2 1.9 0.0 1.4 0.5 0.7 0.5 2.2 1.6M402.7 374.6l-2.3-1.5-1.1-2.3-2.0-1.5-1.2 1.9-0.5 0.1 0.1-0.3 0.3-2.4-0.0-3.2 2.9 1.2 2.2 1.6M491.2 310.0l1.4-2.6 0.8-1.8 1.2 1.0 1.7 0.2 0.6 0.4 1.1 1.1-0.4 0.8 0.8-0.1-0.2 1.4-1.8 1.0M401.8 381.0l-2.3-0.1-3.4 0.4-0.3 0.2-1.0 0.6-1.8-1.2-1.5-0.7M457.2 383.1l0.7 0.2-0.1 0.2 0.5 1.3 0.9 0.5M406.4 424.1l0.8-0.6 1.3-0.3 1.0 1.4 1.0 0.5 1.1-0.4-0.1-0.7-0.9-3.0 0.4-1.7-2.5-0.7-1.1-0.7M445.4 368.4l1.7-2.0 2.5-0.3M450.5 377.6l-0.1 0.4-0.8 1.4M396.7 304.1l-0.4 1.1 0.6 3.1M446.0 401.8l-0.3-1.1-0.8-1.8 1.9-1.3 0.8-0.6 1.1-0.8-1.8-0.7-0.7-1.1-1.0-0.7M472.0 361.4l1.1-0.8 1.9-1.1 2.0-1.4 1.0-2.3M477.8 402.9l-0.4 0.6 0.4 1.4M417.4 383.7l0.1-1.9 0.0-1.1M418.6 323.3l1.0-0.6 0.1-0.3 1.4 0.6 1.9 3.0M474.0 411.3l-0.3 0.8 0.1 0.0 2.9 2.2 2.2 2.4-0.2 1.7-1.8 0.3M477.8 311.3l-1.6 0.4-2.2 0.8 0.0-0.3-1.0-0.2-1.5-0.2-1.2 0.4-0.5-1.2-1.1-1.0 0.2 0.2-0.5-0.4 1.4-4.4 1.6-3.7M384.1 357.6l2.7 1.0-0.3 1.3M407.4 366.6l0.2 0.5-0.2 0.9M403.4 371.9l-1.4-2.2-1.0-0.9M388.1 311.5l-0.7 3.0-2.3 2.8M382.3 318.0l-1.8-1.8-1.1-1.0 0.3-1.0 0.7-0.8-1.7-0.7-0.8-2.6-0.2-0.4 0.2-1.0 1.4-0.2 0.7-2.1-0.1 0.3 0.3-0.5 1.8 2.7 0.2 2.8M445.0 414.8l-0.6-2.2-1.0 0.1M388.4 311.4l2.7 1.2 0.6 1.4-1.4 0.4 0.1 1.3-0.9 2.2-2.1 1.1 1.2-0.0 1.1 1.3-0.4 0.0 1.3 0.8 0.5-0.6 0.4 0.3M453.3 347.3l0.2-0.7-0.5 0.8-1.0-0.2 0.2 0.2-0.2 2.8-2.1 5.0 0.3 1.3-1.9 1.0-0.7-5.7 0.1-4.4M420.8 311.8l1.8 1.4 0.5 1.1 1.4 0.4 0.9 0.3M423.0 326.0l2.3-1.2 1.3-2.6 0.6 0.2-0.3-0.1 0.4-0.6 0.1 1.7M403.9 417.3l-1.6 1.6-1.9 1.9-0.8-0.4-0.9 1.0 0.0 0.3-0.9-0.1-1.2 1.7-0.2 1.0-5.4 1.2-4.4 2.2 0.0-0.4-0.8-1.0M417.7 390.5l-1.5 1.8-1.1 1.1 0.6 2.1 0.5 2.5-3.8 0.7-3.4 0.4M437.5 389.4l0.8-1.8-1.3-0.0M401.1 368.2l1.7-1.4 2.5-1.6M392.4 386.1l0.3-1.4-0.5 0.8 0.9-2.0 1.8-1.4M477.6 402.7l-0.7-0.6-1.8-1.2 0.4-0.9-0.6-0.2-2.0-2.1-3.2-1.0 0.3-0.4 0.3-0.2M497.5 365.1l-0.2 0.8-0.7-0.2 0.8 1.4-1.3 1.7 0.4-0.1-0.3 0.5M462.1 422.7l0.8-0.1 1.4 0.0 0.7 0.5 1.5-0.9M397.8 390.6l1.6-1.6 0.1-2.2M381.1 399.7l-1.0 0.0 0.6-0.4 0.7-0.4-0.3-0.1M453.0 317.4l-0.8 0.1 0.5 0.2M444.4 403.7l0.6-1.2 0.9 0.1M422.7 336.7l-1.5 1.5-0.9 0.6 0.1-0.4 0.4 1.3M494.7 416.8l-0.3-1.1-1.1-1.7M412.1 380.2l-0.2-0.1-0.1 0.7-0.1 0.5 0.4 0.6M450.8 398.0l-0.3-0.7-1.9-0.4-0.9-0.0-0.0 0.1M440.6 401.9l-1.4-1.1-0.0-1.4M439.1 377.9l-0.9 1.1-0.2 3.1M476.4 388.4l0.3-0.7-0.7-1.0M402.8 376.4l-1.0-1.2 0.8-0.6M436.0 397.9l-0.1 0.3 0.4 0.9M426.7 350.9l-2.2 1.5-1.9 1.0-1.6 1.7 0.9 2.1-0.1-0.1-0.3 0.3M483.5 395.9l-1.7-0.3-3.2-0.4-0.8 0.5 0.2-0.2 0.1-0.4-1.1-0.8M436.1 331.7l1.0-1.4 0.7-1.7 0.6 0.3 0.6-1.8 0.6 0.7 0.8-0.4M463.6 405.4l-1.0 0.1 1.1-0.2-1.4-1.8-3.4-1.4-0.8 0.9-2.1-0.8M436.3 314.2l-0.5 1.6-1.1-1.0-0.6 3.7 0.1 3.3M465.1 317.4l0.4-3.8-0.4-4.6 1.3 0.0 2.2 0.9M388.9 363.4l1.1-0.6 2.7 0.3-0.6-3.1 0.0-1.3M409.5 371.9l0.2 0.3 1.3 0.1M383.3 325.3l0.4 0.1-1.3-0.3M403.8 409.5l-1.9-3.3-1.5-1.6M411.8 375.1l0.7-0.2-0.3-1.8-0.6-0.3-0.7-0.5 1.3-1.8-0.1-0.0M478.6 395.2l1.2-1.8 1.4-1.1-1.9-1.2-2.4-1.3 0.4-0.2-0.4 0.0 0.4 0.2-0.5-0.3M436.8 404.9l0.0 0.3 1.8 0.2M411.1 419.4l1.5-0.7 1.0 0.4 1.3-0.6-0.1 0.0M422.1 364.7l1.2 0.1 0.4-1.0M424.9 363.9l1.4 0.0 1.1 1.4M469.7 352.3l0.6 0.7 0.3-0.2 0.0 3.2-0.3 3.9M485.7 377.6l-0.9 0.7 0.3 0.2M475.0 359.6l0.8 2.4 1.5 2.1-2.6-0.6-1.5 0.3M463.1 387.6l-2.0-0.0-1.9-0.4 0.5-1.1-0.6-0.6M463.7 405.3l1.3-1.1 1.4-0.3M381.3 335.4l0.4-0.5 0.5 0.7 1.8-0.3 2.2-1.4-1.1-0.9-1.2-1.1M458.8 414.1l0.5-0.8-0.4 0.4-1.2-0.6-2.1-1.8-1.8 1.2-1.5 0.9M483.6 312.7l-2.3 1.5-2.2 1.6M494.6 417.2l5.8 0.6 7.5 1.3M448.0 371.6l2.8 1.0 1.8-0.3M381.8 366.5l2.5 0.3 3.1 0.4 0.4 0.8-0.0-0.3M397.3 389.2l0.4 1.7 0.3 1.7-0.2 1.7-0.3 1.7 0.0 1.4 1.0 1.4M429.9 398.8l0.7-1.0 0.8-1.4 0.7-1.0M424.8 389.8l-1.3-0.4-1.7 0.4-1.1 0.5-1.5 0.6-1.6-0.3M428.6 386.8l-1.4 0.7-1.3 1.0-1.2 1.3-1.3 1.0M468.4 395.5l0.9-0.9 1.4-0.9 1.2-0.4 1.7-0.6 1.3-0.7 1.2-0.8 1.5-0.6 1.8-0.4 1.2-0.1 1.5-0.7 1.2-0.3 1.7 0.3 1.5-0.1 1.8 0.0 1.4 0.4 1.3 0.7 1.1 1.1M397.0 335.3l-0.6-1.4-0.6-1.6-0.9-1.3-1.3-1.2-0.8-1.0-0.5-1.1-0.5-1.2M396.2 336.7l0.8-1.4 0.9-1.1 0.8-1.2 0.6-1.4M467.3 331.2l-0.0 1.6-0.5 1.5-0.0 1.3-0.1 1.6M474.9 335.8l0.5 1.3-0.1 1.3-0.4 1.2-0.0 1.5 0.6 1.2 0.3 1.8-0.4 1.6M380.7 330.9l-0.8-1.6-1.2-1.1-0.5-1.4-0.7-1.0-0.8-1.6-1.2-0.6-1.4-0.4M406.6 372.1l1.2-0.4 1.1-1.3 1.1-0.9 1.1-0.6 1.3-1.0 1.1-0.8 1.4-1.0 1.2-1.0 1.0-0.8M427.5 335.0l-0.6 1.3-0.4 1.4-0.2 1.7-0.8 1.4-0.1 1.3 0.3 1.2 0.2 1.3-0.2 1.2M434.9 360.9l-0.6-1.2-1.0-1.2-1.2-0.8-1.2-0.4-1.1-0.5-1.5-0.9-0.8-1.3-0.1-1.3M430.8 360.2l-0.3-1.6-1.2-1.0-0.8-1.3-0.8-1.5-0.7-1.0-0.8-1.5M460.1 393.4l1.3 0.8 1.0 0.8 1.1 1.2 0.7 1.2 1.0 1.4 1.5 1.0 1.6 0.2 1.2 0.1 1.6 0.0 1.7 0.4 1.6 0.3 1.3 0.3 1.3 0.3 1.3 0.0M446.2 406.7l1.7 0.4 1.5-0.1 1.6-0.3 1.3-0.3 1.7-0.5 1.5-1.0 1.3-0.5 1.5-0.5 1.6-0.8 1.1-0.7 1.2-0.0 1.3 0.7 0.8 1.1M393.3 358.8l-0.7-1.3-0.8-1.2-0.9-1.1-1.1-1.1-0.5-1.3-0.1-1.3-0.2-1.6 0.2-1.8M401.7 362.5l-1.5-0.1-1.3-0.5-1.4-0.3-1.0-0.9-0.9-0.8-1.1-0.6-1.2-0.5-1.5-1.0M402.1 361.1l-0.4 1.4-0.5 1.7-0.4 1.2-1.0 1.2-0.6 1.1-0.8 1.2M408.5 402.9l1.5 0.6 1.5 0.5 1.4 0.5 1.4 0.0 1.5 0.6 1.0 1.2M410.1 417.1l-1.1-0.5-0.9-1.3-0.6-1.2-0.1-1.6-0.3-1.5-0.4-1.1-0.0-1.8-0.1-1.2 0.4-1.3 0.8-1.2 0.7-1.4 0.3-1.5-0.1-1.4-0.3-1.2-0.1-1.3M425.7 363.0l-1.6 0.4-1.7-0.0-1.2 0.4M425.6 361.6l1.5-0.9 1.1-0.9 1.7-0.3 1.2-0.5 0.9-0.8 0.7-1.5M425.1 357.0l1.1-1.2 1.4-0.5 1.4-0.5 1.3 0.1 1.1-0.7 1.1-0.5 1.6-0.1 1.2-0.1M456.1 401.3l-1.1-1.3-1.4-0.4-1.5-0.3-1.4-0.5-1.7-0.5M452.5 397.8l-1.3 0.2-1.8-0.0-1.3-0.8-0.7-1.3 0.1-1.4-0.7-1.4-0.9-1.1M456.5 405.6l-0.2-1.3-0.2-1.5-0.0-1.4-1.0-1.3-1.0-1.3-1.5-1.0-1.1-0.8-1.0-1.1M439.5 345.4l1.2 0.6 1.4-0.1 1.2-0.1 1.6 0.4 1.2 0.5 1.5-0.1 1.8-0.0 1.2-0.1 1.1 0.5 1.0 0.7 1.3 0.3 1.3-0.4 1.2 0.1 1.4 0.4 1.3 0.5 1.5 0.6 1.2 0.7M444.9 330.5l-0.2-1.6-0.0-1.6-0.5-1.3 0.2-1.4-0.1-1.3M462.3 337.9l-1.4-0.1-1.1-1.1-1.3-0.7-1.6-0.8-1.2-0.9-1.4-0.5-0.5-1.1-0.5-1.7-0.1-1.5M429.7 352.6l1.2 0.8 1.3 1.0 1.3 0.9 1.5 0.6 0.9 0.9M478.6 362.5l-1.2 0.8-1.4 0.6-1.3 0.7-1.3 0.4-1.5 0.8-1.4-0.2-1.4 0.8-1.5 1.0-1.0 1.4-1.0 1.2-1.1 1.3-0.9 0.9-0.6 1.4-0.0 1.7 0.4 1.7 0.2 1.7M385.4 392.1l1.8-0.0 1.8-0.0 1.4 0.1 1.5 0.1 1.4-0.1M471.0 397.8l1.0 1.4 1.1 0.5 1.1 0.9 1.4 0.6 0.8 1.1 0.9 0.8 0.8 1.5 0.6 1.3 0.4 1.4-0.0 1.5M421.0 375.5l1.3-0.2 1.2 0.3 1.5 0.6 1.2-0.1 1.2 0.4 1.2 0.4 1.2 0.5 1.3 0.4 1.1 1.1 1.1 0.7 1.0 0.7 1.3 0.9 1.6 0.4 1.2-0.2M421.1 299.6l-1.0 1.0-1.6 0.1-1.3-0.4-1.4-0.8-1.2-0.9M424.8 402.3l-1.5 0.2-1.7 0.4-1.1 1.0-1.2 1.0-1.0 0.7M469.9 415.1l-1.7-0.3-1.5-0.9-1.3-0.6-1.1-1.4-1.1-1.3-1.0-1.0M482.2 410.9l-1.0-1.2-1.0-0.7-1.5-1.0-0.9-1.0-0.7-1.1-1.0-1.2-0.7-1.7M389.5 369.1l-0.7 1.1-0.7 1.5-1.5 0.9M422.9 368.2l-0.3-1.4 0.1-1.3-0.5-1.2-0.2-1.5-0.3-1.7-0.7-1.6-0.3-1.2M399.1 334.4l-0.1-1.5-0.2-1.3-0.1-1.4-0.8-1.3-0.7-1.2-0.8-1.4 0.0-1.8-0.3-1.3M394.9 335.6l1.3-0.6 1.6-0.3 1.4-0.2 1.3 0.1 1.6-0.3 1.3-0.6M387.5 334.9l1.5 0.2 1.3-0.1 1.5-0.0 1.3 0.5 1.7 0.1 1.8-0.2 1.0-1.1 0.5-1.2M456.8 341.1l0.7-1.2 0.9-1.1 0.8-1.0 1.2-0.9 1.2-1.1 1.2-0.8 1.1-0.8M481.4 341.0l-1.0 0.7-1.2 0.7-1.2 0.7-1.3 0.8-1.4 1.0-0.6 1.1-0.8 1.0-0.8 1.0" stroke="#741c1c" stroke-width="1.1"/>
<path d="M485.6 363.0l-0.7 0.5 0.5-0.4-1.4-0.0-0.8 0.3-1.5-0.6-2.0-1.4 0.1-3.8 0.4-1.3 0.1-0.7 1.0 0.2 2.1 0.7 0.9-0.2 2.1-3.3 1.1-1.7 1.2 1.7 1.2 1.7-0.6 1.9 0.1 0.8-2.1 0.7-2.0-1.0 0.5 3.4-0.2 2.5M387.2 397.9l0.5-0.8-0.4 0.6 2.7-1.3 3.5-0.1 0.1 1.9-0.8 2.1-2.7 1.1-1.8 0.1 0.7-0.5-0.8 0.4-0.9-0.4-0.7 0.8-2.5-0.8-3.0-1.5 0.6 0.9 0.9 1.7M402.7 374.6l-0.2-2.1 0.9-0.7 2.7-2.1 1.3-1.8 0.1 1.1 0.6 0.5 1.7 0.5 2.3 0.3 1.0-1.2 1.0-2.0 0.1-0.4 1.0 0.2 0.6-0.6-0.2 0.2M386.4 382.1l1.0-1.1-0.7 1.1 0.6-0.9-0.3-1.8-0.8-1.7-0.4-1.1-1.6 0.2-1.4 0.2-0.4-1.8-0.0-2.8-1.3-1.1 0.6 0.1-0.8-0.8 0.3-1.2-1.2-0.6 0.4-0.8-2.5 2.9-0.6 0.1 1.0 3.0 0.4 2.4-0.3 0.9 0.0 0.8M428.2 382.0l0.1-1.5 0.9-1.8 1.8-0.0 0.4-1.0 0.5 0.7 0.4 1.4 0.7 0.5-0.1-0.4M438.2 395.0l-0.3 0.1 0.2-0.8 1.8-2.6-0.6 0.4-0.2-0.3 0.1-0.3 0.2 0.4-0.3-0.8-0.4-0.3-1.2-1.3-3.1-0.0-2.3 2.0-0.3-0.3 0.2 0.5 0.5 1.3-0.4 0.9 3.2-0.1 2.7 0.5M397.8 390.6l-2.4-1.4-1.4 1.0-0.7 1.5-0.9 1.1-0.2 1.9 1.6 1.3 0.7-0.2-1.0 0.5M447.9 390.3l-1.4 0.4-1.6 1.0-1.1-0.4-0.1 0.4-1.1 0.8 0.1 0.8 1.5 0.2-0.8 0.5-0.0 2.0 0.1 1.6-2.0-0.6-1.3 0.4-0.7 2.0-0.3-0.1-1.1-0.5-0.4 1.0M486.3 407.7l0.0-0.1 0.2-0.0 3.9-0.2 2.3 0.7 0.7 1.4 0.1-0.4-2.3 0.6-3.6 1.7M405.5 340.4l3.0 1.6 4.4 0.9 1.3-0.6-0.4-1.6 0.1 0.0 0.6-0.3 2.5 2.3 2.5 0.0 0.4-0.3 0.8 0.0-0.3-1.1 0.3-1.9 0.9 0.1 2.6 0.7 1.0-1.4 0.8-1.0-0.3-0.7-0.5-0.7-1.1-0.7-1.5 0.8M439.9 376.6l2.3 1.9 4.2 0.5-1.2-2.0 1.1-1.9-3.2 0.2-2.9 0.1-0.6 0.8 0.3 0.3M463.7 384.1l-1.0-1.7-0.4 0.4-0.5-2.8-2.8-3.5-1.1 0.5-0.8 0.8-0.8 1.2-0.0 0.7 0.2 1.8 0.6 1.7M431.0 337.9l1.4 2.0 1.7 0.6-1.7 1.0-1.2 0.3-0.7-0.6-1.4-0.4 0.0-1.3-0.4 0.1 0.6-0.9 1.8-0.7-0.5-0.2 0.7-0.1M463.8 340.2l0.5 0.6-1.0 0.6-0.0 1.4-0.2 0.1-0.8 0.0-0.8 0.8-1.4 1.9-2.2 2.3 2.1 0.7 1.9 0.9 2.2-1.5 3.0-2.2 1.1 0.4 0.6 0.6 0.9 0.5-0.4-1.1 0.3-2.5 0.9-2.1M467.3 363.8l-1.0-1.7-0.6-1.6-1.7 1.6-0.0 2.0-0.2-2.9-1.3-3.2-0.4-0.9 1.3-0.2 0.6 1.1-0.6-1.1-2.6-2.2-1.9-0.7-0.8 3.3 0.2 3.3M432.3 379.7l-0.3 0.4-0.0 0.4M481.5 368.2l0.0 0.0-0.5-0.5-1.7-1.3-0.9 0.2-1.8 1.9-2.2 2.0-0.1-0.4-0.3 0.0-0.0-3.2-0.8-3.4-0.4-0.9-0.2 0.6-0.1-1.3-0.5-0.6-1.2-1.0-0.4-0.4M491.9 319.0l0.2 1.8 1.9 0.7 1.4 0.0 1.7 0.9 2.6-2.0 0.8-2.6-2.1-2.0-3.0-0.8-2.1 1.4-1.3 1.5-0.9-0.2-0.1-0.9 0.1 0.4-0.5-1.1-0.5-1.3-0.8-0.8M489.0 373.8l0.4-1.1 0.9-0.8 0.9 1.8 2.1-0.7 1.6-0.8 0.7 0.0 0.4-0.8 0.6-0.7M396.1 381.3l-1.3-2.5-1.6-2.2M498.3 323.7l-0.5 3.0-1.3 3.2-0.4-0.4-2.0-0.8 0.0-0.5-0.7-1.1-1.9 0.4-3.4-1.4-1.1-1.7 0.9 0.6-0.2-0.6-1.2-2.3-1.1-0.3-1.0 0.0-0.9-2.1 0.5-1.7M392.8 400.4l0.9 1.1 1.4 1.2-2.3 3.7-1.7 3.7-0.5-0.7 0.3 0.7M500.5 394.6l-3.7-1.9-4.8-2.2-0.5 0.2-0.6 0.4-2.3-0.4-1.8-0.7-1.8-0.3 0.4-0.3-0.0-1.1 0.2 0.4 2.6-2.4 1.7-3.3 0.4 0.2 0.7-0.4 1.6-0.5 0.6-1.4-1.5-0.4 0.1-1.7-0.8 0.2-0.5-1.4M446.5 312.0l2.3-0.6 2.3 0.4 1.5 1.3 2.1 2.2 0.6 0.6-0.5-0.6 1.7-0.5 0.7-1.2 0.6-0.9-0.2-0.8-0.0-1.2-0.8-2.1 1.5-3.2 0.9-3.8 1.6 2.3 3.2 3.0M492.4 419.3l-1.4-2.1-1.6-0.4-0.2-1.6 0.5-2.3-0.7-0.8-1.4-0.9-0.7-0.6 0.2 0.5-0.8-2.2 0.0-1.3M486.5 407.6l1.4-1.2 1.2-0.8-1.0-2.0 0.8-2.0M456.8 387.1l-0.6-1.5-0.1-0.9-1.5 0.3-0.4 0.7-2.3-2.0-0.1-0.9 0.7-0.9-0.3 0.0-0.9-1.2-1.6-1.2-1.3-0.1-1.6 0.5-0.3 0.0 0.0-0.9M393.9 307.4l-0.9 0.6 0.3-0.5-2.0 1.8-2.7 1.6M439.3 391.5l1.9 0.1 2.4-1.4 1.1-1.3 0.7-0.9 0.8-0.3 0.2 0.1M448.5 324.0l2.4-0.9 0.7-1.0-1.2-2.0 0.4-1.2 0.3-0.6 0.2-0.3-2.3-1.6-1.0 0.2-0.8 2.0 0.4 0.9-1.1 0.2-1.6 0.7-1.3-2.1-2.2-1.1 1.7-1.2 2.4-1.7 1.5 0.9 1.1 1.3M500.9 343.9l-2.3 4.1-2.0 4.9 0.3 0.8 0.1-0.2 1.5 1.7 2.1 0.9-1.8 1.6-1.1 2.1-3.2 0.3-3.1-0.2-0.8-1.6-0.0-0.1 3.0-2.6 3.3-2.1M488.1 396.1l-0.2 0.1-0.5-0.4-0.7 0.1-2.4-1.0-1.0-1.3 0.5-2.3 0.3-0.6 0.2-0.6-1.1 0.0 2.3-0.7M455.4 402.1l-0.1 0.1-0.3-0.4-0.0-0.1-1.3-0.1-2.2 2.3-2.5 2.3-0.2 0.7 0.2-0.0-1.4 0.9-1.4 0.6-1.3 1.8-1.3 2.4-0.8-0.5-0.9-0.0-1.6 0.4 0.1-1.7M397.6 347.3l2.2-1.9 1.3-1.7-1.0-3.1-1.1-1.9-2.0 2.5-3.0 1.9-0.6 0.4 0.6 0.1-2.2 1.3-3.6 0.6M425.0 346.6l-2.2 1.8-3.1 0.7 1.0-0.3-1.2 0.1-0.2-1.6-1.2-1.1-0.7-0.0-2.0-0.4-1.5-1.5-0.9-1.4-1.0 2.0-1.3 0.2-2.6-1.4-2.6-1.3M471.9 390.3l1.9-0.4 3.1-0.3-0.6-1.2 0.2-0.0-3.7-1.1-3.3 0.3-0.4 0.5-0.3-1.1-0.9-1.0 0.6-0.4-1.7 0.4-1.0-0.9-0.9-0.6 0.5 0.1-0.9-0.5-0.7-0.1-2.7 1.2-1.7 0.1M386.7 390.1l0.7 0.4 0.7 0.2 1.1 1.2 0.3 0.5 1.7-0.6 1.1 1.1M413.3 323.0l-1.6 2.4-0.1 2.5 0.7 1.0 1.0-0.1 0.5 2.7 1.0 1.2M416.8 333.6l0.6 0.5 0.6 0.8 1.3-0.2 1.1-0.5 1.0 1.0 1.4 1.5M441.8 412.1l-2.2 2.5-1.5 1.8-0.2 0.2 0.2-0.0 3.5 1.2 4.1 0.5-0.7-2.8 0.1-0.7 0.3-0.3 0.4-0.1 2.5-2.6 2.1-3.2-1.4-0.7-0.2-0.9M467.9 330.4l-1.5-0.8-0.8-1.0-0.6-1.2 0.4 0.9 0.1-0.5 1.2-1.7 0.5-2.0 2.3-0.6 2.6 1.6 2.7-0.2 1.0-0.4 0.5-0.5-1.1-3.2-1.2-2.5 1.0-1.3 1.1-1.0 1.4 0.3 0.9-0.6-0.3-2.3-0.5-2.2M415.7 370.8l-0.6-1.6 0.1-2.3M412.1 370.3l0.0 0.0 0.1 0.2 1.3 0.3 0.8 1.4-1.1 0.2-1.0 0.7M417.1 353.0l0.2 0.6-0.3-0.4 0.4 0.9-1.9-0.2-0.7 0.1-0.9 1.6-1.1-0.6-0.9-0.9-0.6-0.3 0.3-0.1M452.1 381.9l2.2-1.1 2.1-1.1M457.2 383.1l0.2 0.4-1.3 1.1M428.8 390.2l-0.8 0.2-0.6 0.4M424.7 391.4l-0.2-1.4 0.7-1.3 0.4-1.0 1.7 0.2 0.2 0.2 1.1 0.3 0.1 1.4 0.3 0.4M461.7 334.5l0.5-0.1 0.7 1.5 1.1-0.7 0.7-1.1 2.2 1.4 0.0 0.0 0.6-0.4 0.4 0.2-0.1-0.0 0.7-1.8M468.3 318.2l0.3 3.6 1.1 1.9M476.6 324.0l-0.0-0.1 2.1 0.1M480.1 323.3l0.8 0.2-0.3-0.4-1.7-3.2-0.1-4.0M479.1 315.8l1.6 0.9 3.4 1.4 0.4-1.6-0.0-0.4M406.3 360.4l-0.3-1.2-0.5-0.9 1.4 1.3 2.2-1.0-0.2 0.4 0.4 1.0-2.5 1.0-0.6-0.5-0.2 2.7-0.7 2.1 0.0 0.5-0.0-0.5 1.5 0.3 0.3 0.8-0.7 0.4 0.9-0.1 3.2 0.3 3.5 0.2M428.5 388.4l-0.6-0.3 1.7-1.2 0.1-0.4 0.1 0.3-0.6-0.3 0.8-1.1 1.2 0.1 0.0-1.1M414.5 350.0l0.9-0.8-0.3 0.6 0.4-2.2-0.0-1.7M419.4 349.0l-2.5 0.5-1.9 0.4-0.2 0.0 0.2-0.1M436.5 356.4l0.3-0.6-0.3 0.5-0.4-2.0-0.5-1.1 2.6-1.8 2.1-3.1M432.1 391.4l0.2-2.3-0.0-0.3-0.2-1.2 1.3-0.4M434.0 344.6l3.2 0.5 2.2 0.4 0.9 1.1-0.1 1.6-4.9-0.0-4.7-0.4-1.2 0.6 0.6-0.1 0.4-0.1-0.5 0.2M431.1 355.2l-1.1-0.5-1.6 0.8-0.7-3.2-1.1-1.3-0.1-0.9 0.8-1.0 2.2 0.2 0.5-0.8M472.8 379.5l2.8 1.6 2.0 2.3-1.4 1.4-0.2 1.8-3.1-0.9-3.8-0.8-0.1 0.1-0.5 0.6M431.2 337.6l-0.2-1.7-0.4-1.4-0.3-0.4 0.6-1.5-0.6-0.8-1.5-0.5 0.1-1.2-0.5-0.6 0.1 0.0-0.7-0.5-3.5-0.8-1.2-0.3-0.7 0.5-0.3 0.4-0.6 1.0 1.1 2.5 1.3 1.0 1.8 0.8 0.9-1.4 2.1-1.3M420.8 367.7l-1.7-0.0-3.5-1.2 0.7-2.0-0.4-1.7-0.4-0.9-0.2-0.3 2.5-1.2 3.2-2.1 0.2-1.4 0.3 0.5-1.8-0.2-1.4-1.1-1.0-1.1-0.3-1.9M499.3 410.6l0.4 0.8 0.3 0.5-0.8 1.4-0.8-0.0M447.6 319.6l0.4 0.6 1.1 0.8-1.0 0.8 0.2 2.1-1.0 0.4-0.4-0.3-1.5 0.0 0.1 1.3-1.4 0.4-0.7 0.2-0.5-0.5 0.3 0.6-1.2 0.3-1.7 0.7 1.3 4.5 1.6 2.7-3.8-0.5-3.1-0.4M454.5 321.8l-0.4-0.0-0.6 0.3 0.1-2.4-1.0-2.1M465.1 317.4l1.7-0.3 1.3 1.0 0.5-0.6-0.3 0.6M475.0 325.0l-0.7 2.4-0.6 2.2 0.8 2.0 1.3 2.2-0.7-0.7-0.4 1.2 0.0 1.4-0.5-0.9-0.7 3.7-1.7 1.5-0.5 0.7 0.6-0.1M400.1 312.4l0.3-0.4-0.7-0.7M420.7 310.0l-1.3 0.4-0.4-1.3-2.2-0.1-1.6 1.5-1.8-4.4-1.4-3.7 0.3 0.1-0.7-0.5-1.1 3.8-0.3 4.4-1.9-0.2-0.8 1.6 0.7 1.1 0.1 3.6 0.2 0.4 0.8 0.7M445.4 368.4l-0.8 0.3-0.4-0.5-0.2 0.2-1.1 2.3-0.7-0.1-0.8 0.5-0.5-2.9-1.0-0.9M412.0 336.5l0.2 1.7 0.7 1.2M485.5 403.1l-0.0 1.4 0.7 3.2-1.3-0.7-2.4 0.2-0.6 0.1-1.8 0.7M434.0 344.6l-1.1-0.8-0.8 1.6-0.2 1.1-1.3 1.4M440.2 348.3l0.8 0.4-0.7-0.3 1.3 0.5 1.0 0.5 1.8-1.0 3.4-1.2-0.2-0.2 1.1-0.3 0.6-2.8-2.1-1.6-1.8-1.0-2.1 0.4 0.8-2.7-0.6-2.5M478.4 366.7l0.2-0.9-0.9-1.6M457.9 347.9l-0.5-0.3-0.2 0.6M457.5 339.7l-0.9-0.0 0.5-0.6M438.0 416.6l-0.7 1.4-0.9 2.2-1.0-4.6-2.8-3.1M434.4 412.5l2.6 1.8 1.1 2.2M436.9 382.2l1.0 0.6 0.1-0.8 0.8 2.4 0.2-0.7 1.0-0.8 0.6-1.5 0.6 0.6 1.9 0.8M453.6 370.8l2.4 0.1 4.1 0.8 0.5 0.3 1.0 0.7M382.2 365.4l-1.1 1.6 0.7-0.6M480.6 334.0l0.1-5.2-2.1-4.8M474.2 334.7l-2.5 1.2-1.9 1.1M488.8 401.5l-0.8 0.4-2.5 1.1M443.5 364.9l-1.3-0.7 0.1 0.7M445.7 382.2l0.1-0.1-0.0-0.4-3.6-2.5-2.4-2.1 0.3 0.1-0.0-0.5M430.9 332.5l2.5 0.2 2.4 0.3 0.3-1.1-0.0-0.3-1.3-3.1-2.9-2.0-0.2-0.4 0.7 0.4M447.5 420.9l-1.1 4.8-0.8 5.4-2.8-4.8-4.7-3.7-1.1-0.1-0.6 0.1M429.7 386.8l1.4 0.9 1.2 1.1M409.3 359.9l-0.0-0.4 0.0 0.4 0.4-1.9 2.0-0.3-0.3-0.9-0.6 0.4-0.5 0.3-0.7-0.5-0.6 1.2 0.1 0.4M440.6 401.9l0.2 0.1-0.1-0.1 1.9 0.3 1.7 1.5-0.2 1.0-0.3-0.3M465.2 384.7l-0.5-4.9-0.6-3.5 3.2 2.5 4.0 1.6 0.4-0.1 1.0-0.9M477.6 383.5l1.0-0.3 1.0 0.1M483.3 399.7l-0.5-0.1 0.7 0.4-0.1-0.2 0.1 0.7 1.1 1.1 0.9 1.3M381.3 389.7l1.3-0.2 2.5 0.7-0.5-1.8 0.7-1.8 1.4-1.2 1.6-0.0-1.1 1.8-0.4 3.1-0.9 0.7-0.6-0.6 0.2 1.8-0.5 2.4 1.1 0.7 1.1 1.3 0.3 1.3-0.0 0.1M416.3 386.4l0.2-0.2-0.1-1.1 0.0-0.2 0.9-1.1 2.3 0.9 2.7-2.0-0.1 2.6 1.3 1.5 1.5 0.7-0.8-0.6-0.0 1.1 0.8 0.8M403.4 315.3l0.8-1.7 0.6-2.0-1.3-0.3-1.6 0.1 0.3-2.5-0.3-1.4M413.0 339.5l-4.1-0.3-4.3-0.9M478.7 303.8l-1.4-0.1 0.2 1.5M471.7 302.1l3.3 2.8 2.5 0.2M421.8 408.8l0.5-0.3 1.4-0.2 1.3-3.0 2.0-2.4M447.2 384.8l1.4 0.1 1.2-0.5M406.8 389.7l0.9 0.2 1.9 1.7 0.7-0.0 0.2-0.2 0.1-2.1 1.1-1.9-3.0-0.5-2.4-0.2M434.5 400.7l-0.4 0.1-1.0-0.5 0.3-1.4-0.1-1.5 1.6 0.4 1.1 0.1 0.9-1.5 1.4-1.5M426.1 401.9l-0.4-0.2 0.4 0.1-0.9-5.5-0.9-2.0-0.3-0.4-0.7-0.9 0.2 0.0-1.9-0.3-1.1-0.8-2.7-1.4 0.4-1.2-0.7-0.8M381.8 366.5l0.0 1.0-1.5 0.5-0.3 0.2 0.3-0.2M381.2 369.4l2.8 1.0 1.8 0.4M478.7 303.8l1.2 0.2 1.1 2.0M388.1 345.4l2.7 3.2 0.9 2.1 0.8 0.5 0.3-0.0-0.7-0.4 1.1 0.3 1.1-1.3 0.7-2.5-1.6-2.1 0.6-1.4M409.1 351.7l1.7 0.4 0.8-0.4 0.3-1.4 0.4-0.0-0.4-1.3-2.1-2.4M443.3 387.4l-1.0 0.3-0.7 0.2-1.2-1.3-1.2-1.3M403.4 413.5l-1.1-0.2 0.4-1.8-2.9-1.1-3.3-0.3M445.5 325.4l0.3 1.1 1.3 2.4 1.4 0.7 1.8 2.0 0.8 0.4-1.3 0.8 2.0 2.5 1.1 2.3M468.6 336.5l-0.5 1.4-0.7 1.2M453.6 322.1l0.3 0.5-0.5-0.2 0.4 1.2-0.1 0.9-0.4 0.7 0.0 0.1-1.4-0.1-0.8 1.1-0.1 2.8-0.2 2.1M488.2 326.8l-0.7 0.9-0.6 1.5 0.2 3.0 0.7 2.0 1.5-2.2 2.3-2.4M428.6 339.5l-0.9-0.1-0.5-0.9 2.2-2.2 1.2-1.8M461.7 334.5l1.1-0.9 1.5-1.2 0.2 1.4 0.3 0.4M402.5 389.5l0.1 1.3 0.1 1.4 1.8-0.9 1.5 0.3 0.2 0.7-0.2 0.0-0.6 1.5-1.1 0.9-2.4-0.3-0.6 0.8M453.6 401.8l-1.0-0.5-0.2-0.4-2.7-0.0-3.7 1.0 0.8 0.8-0.8-0.1 1.7 1.9 1.3 1.9M487.9 416.9l0.5 2.0-1.7 1.3 0.1 0.8 1.1 0.6-0.5 3.3-2.1-0.3-1.5-1.2-0.8-0.9 0.2-0.7-0.8-1.8M492.1 390.2l-0.4 1.0 0.4-0.7M495.3 399.2l-0.1 0.7-0.5 0.8M442.0 384.6l-1.1 0.1-1.7 0.6M497.9 359.8l-0.0 2.7-0.4 2.6M408.1 316.2l-2.5 0.0-2.3-0.9-1.8 0.5 0.2 0.4 0.3 1.9-0.5-0.1-2.5-0.6-2.4 0.3 1.7-1.9 1.1-1.5M427.9 328.9l-0.1-2.9-0.4-2.7M408.5 371.2l0.5-0.1 0.5 0.8 0.2 1.8 0.7 2.4M457.3 393.8l2.3 1.6 1.3-0.1 1.0-0.4 1.6-0.5M490.1 306.5l-0.8 0.3-0.4 1.6M474.9 373.9l3.6-0.6 2.2 0.6-0.1-0.8 0.4 2.2 1.8 1.0 2.3 0.5 0.1 0.4 0.5 0.4M483.0 422.5l-1.9 0.3-2.1 2.1-0.4-0.6-1.0-0.1-0.3-0.2 0.3-1.4-0.2-1.3-0.8-1.0-2.5-0.6-3.7 0.5-0.5-0.8-1.4-0.5-1.0 1.8-0.9 1.4M386.5 339.9l-2.4 2.8-1.0 1.9M409.2 378.9l-3.7 1.3-3.3 1.4M438.5 385.1l-0.3-0.3 1.0 0.5M454.1 385.6l0.6 1.6-1.4 0.5M421.0 319.7l3.3 0.3-0.2-0.2 0.7-2.5 0.6-2.3 0.5-1.0-0.3 0.9 1.3-2.2 0.7-1.0 0.2-0.1-0.3-0.1 0.1-2.4 0.0-2.1-1.4-1.5-0.8-0.3M431.7 394.6l-0.1 0.1 0.5-0.8M459.6 333.8l-0.1-0.1 0.1 0.1 0.4-2.8 1.5-2.2-2.6 0.1-2.8 0.5M392.4 386.1l1.2 0.1-0.6 0.5 3.2 0.1 3.4 0.1 1.8-1.3 1.6-1.8M479.9 307.5l0.4-1.2 0.7-0.4M467.3 363.8l0.5-1.1 1.5-2.3 1.0 0.2 0.1-0.6M414.9 379.1l-1.4-1.1-0.4-0.9 0.3-1.3-0.4 1.3M465.2 413.3l-0.9 0.0 0.5-0.8 1.0-0.4 2.1-0.8 1.0 1.0 1.4 0.3-4.0-0.5-1.1 1.2M414.0 355.7l-0.1 1.4 0.2 1.4-0.8 0.8-1.6-1.6M420.7 408.6l0.0-1.1-0.5-2.1-1.9-1.6-2.4 0.2-0.4 2.1-1.6 1.3-3.5-1.3-1.5-0.7-1.4 1.8-1.4 0.8-2.1-0.1 0.6 0.9M438.5 385.1l0.4 0.2 0.0-1.6M473.2 409.8l1.3-1.2 2.5-3.3M431.9 326.5l0.2 0.6-0.2-0.6M483.3 383.3l2.0-0.1 2.2-1.0 0.9 0.8 1.5-0.1M409.3 359.9l1.0 1.0 0.7 0.9-2.8 2.5-1.1 2.0M490.4 371.2l3.0-0.7 2.7-1.3-0.3 1.2 0.9 0.4M405.5 340.4l-0.2-1.5-0.7-0.5 0.3-1.4-1.7-0.4 1.5 0.8-0.3-1.5M418.3 356.2l-2.0 0.8-1.9 2.0 0.6 1.1-0.4 0.8-2.9 0.3-0.6 0.6M401.3 358.5l0.9-0.5 0.5-1.0 1.7-1.1 0.2 0.1 0.8 0.3-0.4-1.0 1.4 0.8 2.1-0.9M425.8 333.9l0.2 1.4-0.7 1.2M461.7 334.5l-1.3-1.3-0.8 0.6M413.9 314.6l-2.3 1.6-2.5 1.0M414.1 408.2l-0.1 0.1-0.0-0.7M404.5 408.9l-0.1-1.3-0.9-4.0-1.8 0.3-1.0 0.0M424.9 363.9l-0.1-0.3-1.1 0.3-0.1-0.7-0.1 0.2-1.3-1.4-1.3-1.3-0.6 1.1-1.2 1.1-1.1-0.3-2.2 0.2M413.9 314.6l0.2 1.2 2.6 0.3-0.2 0.5 0.2-0.5M436.2 367.0l3.1 0.3 0.5 0.1M439.7 362.3l-1.4 2.6-2.1 2.0 0.6 0.2-0.6-0.1M449.2 420.8l2.3 4.1 1.8 4.4 0.5-0.5-0.1 0.0M413.1 377.1l2.2-1.0 1.5-0.7M441.6 387.9l-1.4 0.6-1.1 2.6M431.2 337.6l1.9-0.3 1.7-0.8 0.6-1.4 0.6-1.9 0.1 0.4 0.3-0.2M443.3 334.3l-0.7 0.0 0.7-0.0-0.0-0.6 0.3 0.4 0.1-1.9 0.8-2.5M409.0 399.2l0.1 0.2-0.7 0.2M405.5 358.2l-0.8 0.8 0.6-1.1-2.2 2.0-1.3 2.5M448.0 371.6l0.4 0.2-0.6 0.0-0.3 0.1-0.1 0.5-0.5 0.2 0.6 1.4-0.5 1.3-0.6-0.1M399.7 334.6l0.4-2.3 1.1-2.8 3.1-1.6 1.4-2.1 0.1-0.7-1.0-2.5M413.9 314.6l0.4 0.0-0.6-0.5-1.7-2.7-2.0-1.2M380.4 368.0l-1.7-1.2-0.8-0.3 0.0-0.6-0.9-1.6M468.8 310.2l1.8-0.9 2.2-2.0M470.4 312.4l-1.1 3.1 0.2 1.6-0.3 0.6-0.9 0.4M408.0 327.2l-0.5 0.2-1.8-1.7M395.9 322.7l1.5 0.8 0.7 1.2M490.4 372.0l0.5-0.8-0.5 0.1M453.8 428.8l1.5-3.7-0.1-3.3 2.0 3.2 2.4 0.9M401.5 395.2l-0.5 1.4-0.2 1.8 3.7 1.5 2.6 0.9-1.5 1.7-2.1 1.3M400.7 403.9l0.8-1.0-1.1 1.6-0.2 0.6-1.5 0.2M457.8 325.6l-0.6 1.4-1.3 0.2-1.7-1.4-0.8-0.6M451.7 322.1l0.6-0.9 1.1 1.1M392.9 386.7l0.4 2.1 0.7 1.4M446.5 312.0l-1.8 0.2 0.8 2.3M444.8 398.9l-3.0 2.1-1.0 0.9M475.2 400.8l-0.2 0.1 0.1 0.1M417.4 388.5l-1.1-1.0 0.1-1.1M444.9 398.9l0.1-0.7-0.2 0.7M448.5 324.0l-0.0 0.1-0.2-0.3M379.0 387.0l3.2-1.9 1.6 0.1 0.6 0.1 0.7 1.3M388.2 385.3l0.5-1.0 0.3-0.0M416.7 399.7l2.0 1.1 3.4-0.5-0.3-1.8-1.8-1.4M408.5 371.2l-0.7 1.9-1.3 1.8M439.4 340.2l1.8-1.5 2.0-2.9 0.5-1.1-0.5-0.3M414.3 412.6l0.5 1.2-1.0 1.9M465.2 413.3l1.0 1.5 0.5 2.4M427.2 387.9l0.0-1.2-0.1-0.3 1.2 0.1 1.3 0.6M390.5 315.8l-0.8 2.6 0.1 2.0M390.6 321.2l-2.0 1.4-0.8 3.0M457.5 333.6l-2.2 2.2-1.5 2.1-0.2 0.8 0.5-0.3M379.9 379.5l1.1-1.8 1.8-0.6M436.5 420.2l0.8 1.1-1.0 0.9-0.9-0.3-1.4-1.0-0.5-0.4-1.4-1.2-2.3 0.2-0.0-0.1-1.1-1.1-0.5-2.4-2.3 1.9-2.4 1.1 0.6 1.0-0.5-0.7-0.4 1.2 0.3 0.1 1.0-0.1-0.7 1.9M462.3 358.0l-1.5 0.8-2.5 2.3M455.3 409.7l-1.5 0.2-0.3-1.5M450.4 408.7l1.1 2.2-0.2 1.7-0.2-0.3 1.1 1.0M499.1 422.6l-3.0-0.8-1.7-1.8M455.1 400.8l-0.2-3.9-1.1-2.6M474.2 318.3l-3.8-0.7-0.9-0.5M367.0 318.6l5.7 3.1 5.1 2.9 1.4 0.5 1.8 0.4M381.7 359.4l0.0-0.5-0.9 0.3-1.4 0.1-2.0 1.7-3.4-2.7-4.6-1.1 3.3-0.6 2.9-1.6M467.8 397.0l1.5-0.0 0.5-0.4M409.8 411.6l-1.6-1.8-2.2-1.7M404.5 408.9l0.2 1.1-0.9-0.5-0.5 1.9-0.6 0.2M489.6 413.0l1.0 0.5 2.7 0.6M460.2 418.8l0.0 0.0 0.2-0.5M415.9 420.6l0.1 0.5 1.3 0.8-0.3 0.4 0.5-0.0-1.3 1.4 1.0 2.0M461.7 372.7l-0.1 0.1 0.1-0.1M487.9 398.8l-1.6 1.3-2.8-0.0M481.2 392.4l0.3-0.2 2.3-0.9M472.6 363.3l-1.6 1.1-1.3 1.3 0.1 0.6 1.2 2.3-3.6 0.9-4.5 0.1 0.4-1.7 0.4-1.3M464.3 422.6l0.3 1.4-1.1 1.9 1.3 0.5 2.2-1.1-0.1 1.4 0.8 0.6M461.7 372.7l0.7-1.1 0.7-1.9M462.5 327.9l2.2 0.6 0.8-0.1M387.3 374.5l-1.4 1.1-0.2 1.0M431.1 412.0l-0.2 0.1 0.2-0.4M431.4 377.6l0.4-0.7-0.2-1.1-0.5-1.0-0.1-0.7 0.4-0.3-1.2-0.4-0.7-3.1 1.5-2.4-0.8-1.2-1.5-1.4M405.8 351.4l-0.5 1.9-0.5 1.6 0.3 0.2-0.1 0.3M408.3 355.3l-0.0 0.6 1.2 1.0M381.3 389.7l-0.9-0.8-1.4-1.9M431.8 306.8l-0.1 1.1 1.3 0.6 0.6-0.1-0.0 0.5M485.4 363.2l-0.5 1.8 0.2-0.1-2.4 1.1-1.2 2.2M436.3 422.2l0.1 1.0 0.1-0.6 0.6 0.4-1.5 1.5-3.1 0.2-4.3-0.0M427.7 424.4l0.6-0.4 0.8-2.1 0.6-1.0-0.6-1.1-2.0-0.3-3.8-0.4M450.7 391.1l-1.5 2.8-0.7 3.0M456.4 408.7l-0.9-0.3 1.2-0.8 2.6-0.8 4.3-1.4M386.2 413.0l-4.1-3.5-2.9-2.3M465.0 309.0l-0.4 0.6-0.1-0.2-1.6 2.8-1.6 3.0 1.1 0.7 0.5 1.8-0.6 1.2-1.7 1.7M486.2 308.3l-0.9-1.9-0.5-1.0-1.5-0.2-0.6 0.8-0.5 1.3-1.5 2.9 1.8 0.9 1.2 1.2 0.8 0.2-0.3-0.6M415.1 417.9l2.6-0.6 2.4-1.4M457.4 323.3l-1.8 0.3-1.9 0.9M434.2 339.8l-0.5-1.5-0.3-1.3 0.0-1.8 0.0-1.7 0.2-1.5-0.4-1.3-0.3-1.2M437.9 345.9l-0.9-1.4-0.4-1.2-0.8-1.1-0.7-1.3-0.8-1.0-0.8-1.6-0.2-1.5-0.1-1.6-0.3-1.6 0.1-1.3 0.0-1.4 0.0-1.4 0.0-1.5 0.1-1.6M427.7 397.0l1.2 0.7 1.1 1.0 0.9 1.1M402.5 315.8l-1.2 0.5-1.2 0.6-1.6 0.5-1.7 0.1-1.5-0.4-1.7-0.6-1.2-0.5-1.2-0.5M404.5 317.9l-1.1-1.0-0.9-1.2-0.6-1.3-0.2-1.4-0.3-1.7-0.6-1.6-0.9-1.4-0.9-1.4-0.3-1.6-0.7-1.5-0.1-1.2-0.5-1.4-0.1-1.4M466.3 330.2l1.1 1.0 1.1 0.6 1.2 1.2 0.9 1.1 1.1 0.6 1.5 0.7 1.7 0.3 1.7-0.1 1.2 0.2M384.2 332.3l-1.1-1.0-1.0-0.9-0.8-1.1-1.1-1.1-1.2-1.3-0.2-1.5-0.1-1.4-0.7-1.0M383.9 331.8l-1.7-0.5-1.5-0.4-1.6-0.5-1.4-0.5-1.4 0.1-1.7-0.4-1.5 0.7M392.0 334.0l-1.4-0.9-1.5-0.8-0.9-1.4-1.4-0.2-1.5 0.5-1.3 0.6-1.2-0.3-1.6-0.3-1.2-0.5-1.4-0.2M409.9 369.5l-0.8-1.3-1.0-0.9-0.7-1.2-1.1-0.7-1.6-0.6M439.1 360.9l-0.3 1.7 0.4 1.6 0.3 1.8M428.0 356.8l1.0-0.8 1.1-0.6 1.5-0.3 1.4-0.6 0.9-0.8 0.7-1.1 0.9-0.9 1.4-1.1M441.5 359.6l-1.3 0.9-1.2 0.3-1.1 0.7-1.8-0.1-1.4-0.6-1.3-0.1-1.5-0.0-1.3-0.6-1.2-0.6-1.0-1.3-0.7-1.5-0.7-1.3-1.2-1.1M479.7 400.6l0.4 1.3 0.4 1.4 0.6 1.2 0.8 1.4 0.7 1.1 0.4 1.1 0.6 1.2 0.8 1.3M476.9 401.4l1.2-0.5 1.6-0.3 1.2 0.1 1.3 0.4M447.0 370.2l-0.5-1.1-0.0-1.3-0.0-1.2 0.3-1.4-0.1-1.3M429.4 399.2l-1.3 0.2-1.2 0.3-1.1 0.8-1.2 0.6-1.3 0.1-1.3 0.2-1.7 0.2-1.2 0.2-1.3 0.7-0.8 1.4 0.2 1.5M472.6 409.0l-0.1 1.6-0.7 1.4-0.2 1.4 0.4 1.6 0.9 1.4 0.6 1.5M426.2 355.8l1.4 0.5 1.3 0.9 0.5 1.1 0.0 1.4M426.9 369.6l-0.0-1.8-0.0-1.7-0.4-1.7-0.7-1.4-0.2-1.4-0.1-1.5-0.4-1.5 0.0-1.6-0.4-1.7-0.7-1.5 0.4-1.4 0.4-1.6-0.0-1.7M452.1 399.3l-0.1-1.4-0.1-1.3-0.0-1.3 0.6-1.7 0.8-1.1 1.0-1.4 1.1-0.8M446.1 391.9l-1.3 1.0-1.4 0.9-1.3 0.2-1.7 0.5M446.1 346.7l0.6-1.6 0.2-1.2 0.4-1.6 1.1-1.0 0.7-1.0 1.4-0.8M449.3 346.6l1.1-0.8 1.5 0.1 1.5-0.4 0.9-1.0 0.5-1.6 1.1-1.0 1.3-0.8M451.6 347.1l0.6 1.1 0.9 1.3 1.3 1.2 0.8 1.1 1.6 0.4 1.2 0.3 1.5 0.6 1.2 0.2M391.8 386.0l1.2 0.3 1.7-0.1 1.4 0.1 1.1-0.7 1.2-0.8 1.0-1.2 0.8-1.0 1.3-0.8 1.4-0.3 1.4-0.7 1.2 0.2 1.6 0.6 1.3 0.8 0.5 1.4 0.2 1.4-0.5 1.6-0.3 1.7M460.9 370.9l-0.3 1.8 0.3 1.2 0.9 1.1M464.6 371.3l-1.2-0.5-1.1-0.4-1.4 0.6-1.2 1.2-1.4 0.5-1.4 0.7-1.2 0.5-1.2 0.7M439.3 323.2l1.6-0.8 1.0-0.8 1.0-0.7 1.6-0.9 1.1-0.5 1.7-0.4 1.4-0.2 1.3-0.5M426.0 304.8l1.3-0.8 0.9-1.5 0.5-1.7 0.3-1.5 0.6-1.2 1.0-0.8M431.4 365.0l0.2-1.3-0.1-1.6-0.0-1.7 0.3-1.4 0.6-1.2 0.3-1.2M426.7 392.3l-0.5 1.3-0.1 1.5-0.2 1.3-0.1 1.2-0.5 1.4-0.2 1.6-0.3 1.7-0.2 1.7M472.1 413.1l-1.0 1.1-1.1 0.9-1.5 0.5M488.0 407.2l-1.7-0.2-1.5 0.4-1.5 0.6-1.2 0.4-1.3 0.8-1.2 0.8-0.7 1.2-1.1 1.0-1.2 1.0-1.2 0.5-1.7-0.2-1.7-0.4-1.3-0.2-1.5-0.2-1.4-0.2M397.9 370.6l0.9 1.2 0.3 1.4 0.5 1.2 1.3 1.2M399.7 361.9l-0.6 1.5-0.4 1.4-0.5 1.7-0.7 1.0 0.0 1.6 0.4 1.4 0.5 1.3M481.5 339.5l-1.0 0.7-1.0 1.2-0.4 1.3-1.6 0.7-1.2 0.6M477.1 329.2l1.2 0.9 0.9 1.1 1.2 1.0 0.7 1.0 0.8 1.3-0.3 1.8-0.0 1.7-0.2 1.6-0.5 1.3M419.8 369.1l1.3-0.8 1.7-0.1 1.6 0.4 1.7 0.0 1.5-0.8 1.4-0.8 0.8-1.5 1.0-1.1 1.3-1.1 1.0-1.1 0.9-1.2 0.8-1.3M474.0 429.7l0.7-1.2 0.4-1.5 1.0-1.2 0.7-1.4M475.8 342.9l-1.4 0.9-1.4 0.7-1.7 0.5-1.5 0.4-1.7 0.3-1.7 0.4-1.3-0.6-1.6 0.0-1.2-0.1-1.5-0.9-1.0-1.2-0.9-0.8-1.1-0.8-1.1-0.8-0.9-1.2M416.6 400.4l-0.3 1.3 0.1 1.4-0.6 1.7-0.8 1.4 0.3 1.6 0.7 1.1 0.7 1.5 0.6 1.3 1.0 1.5 1.3 0.8" stroke="#a52828" stroke-width="1.1"/>
<path d="M437.7 399.9l-0.9-0.2-0.4-0.6-0.9-0.4-0.9 2.0 1.3 2.0 0.9 1.5 0.5-1.6 0.5-2.7M428.2 382.0l0.5-0.2-0.3 0.2 1.6 1.1 1.2 1.3 0.7 0.1-0.1-0.3-0.8-1.8 1.0-2.0-1.9 1.3-1.7 0.2M408.8 334.5l-2.6 1.3-1.8-0.0 1.2-3.1 1.4-3.5-0.4-1.4 1.4-0.6 1.9 1.0 1.1-0.2-1.9 2.6-0.2 3.8 1.6 0.0 1.7 2.0 0.7-2.3 2.0-1.4 1.1 0.2 0.9 0.7 0.8-1.0 0.6-0.9-0.2-0.7 0.6-2.6M497.1 426.5l1.4-2.1 0.6-1.8 6.4-0.8 7.5-1.1M459.5 337.3l2.0 0.4 2.1 0.1-1.5 0.3 1.6-0.7-0.8-0.6 0.1-0.9M431.8 384.2l0.5-0.6 0.4 1.1M490.9 391.1l-1.1 3.1 0.3 0.7 3.0 1.4 2.2 2.9 2.7-2.9 2.6-1.7M453.1 370.0l-1.1-0.7-2.1-1.4 0.4-0.1-0.6-1.7-0.1-0.2 0.3-2.1 2.6 2.0 2.6 0.3-1.0 1.6-0.8 2.2 0.0-0.2 0.6 0.9M485.6 388.6l-1.1-3.2-1.2-2.1-1.1 0.4-0.9-1.1-1.0-0.1-0.1 0.9M420.9 416.3l0.0 0.2-0.1-0.3 0.6-0.6 0.7-1.2-0.4-3.1-0.0-2.4-1.2-0.0 0.1-0.2-2.4 1.7-1.6 0.1-1.0 0.8-0.1-1.4-1.1 0.9-0.2 1.7-2.0 1.0-2.0 0.9 0.1 0.2-0.2 0.2 1.7 0.7 1.9 0.1M466.8 326.2l-0.9-1.2-1.2-2.4-1.6-0.4-2.1-0.8-0.6 3.7 1.8 2.4-2.3-0.6-2.2-1.3M396.6 304.0l0.7-0.7-1.1 1.0M451.4 318.0l1.0-0.4 0.2 0.0M492.4 419.3l0.4 1.1 1.1-1.3 0.9-1.9-0.2-0.0 0.2-0.3-0.2-0.1 1.9-1.3 1.6-1.0 0.8 0.1-0.5-1.2-1.6-0.1-0.6-2.5M442.0 384.6l0.3-0.9 0.7-0.8 0.9 0.3 1.8-1.0 0.7 1.4 0.8 1.2-0.8 2.1-0.1 1.0 1.6 0.8 0.1 1.5-0.5 0.5 0.3-0.3M400.7 403.9l-0.0-2.9-0.9-2.1-0.1 0.3 0.0-0.3-2.3 2.4-2.1 1.3 0.2-0.3-0.3 0.4M391.1 410.1l0.2-0.5 1.1 1.2 1.6 4.2 0.9 3.7-3.4 0.7-4.3 1.3-0.6-2.4-1.3-3.8M429.9 348.4l2.8 2.0 1.5 2.5-1.0 1.2-2.1 1.0 0.7 0.0 1.1 2.6M393.8 396.0l0.6-0.5 0.3 0.6 2.6 0.5 2.5 2.4M477.8 311.3l0.6-0.6 0.0-0.4-0.6-0.2 2.3-0.1-0.1-0.3-0.2-2.3-1.9-0.5-0.8-1.0-0.3-0.6 0.6-0.2M421.0 319.7l-0.3-0.1-0.1 0.2-2.1-1.4-1.7-2.2 1.7-1.3 2.4-3.0 0.2-0.3-0.1-0.1M488.2 326.2l-0.8 1.0 0.7-0.3M397.4 355.3l-1.7 1.5-1.6 1.3 2.3 2.0 1.2-0.3-0.8 1.7 0.4 2.0M388.2 401.6l-1.4-1.2 0.5-2.4-2.9 0.5-3.3 0.4M499.7 406.2l0.2 3.0-0.6 1.4-1.1-0.1-2.0 0.3-0.8-0.9-0.6 0.1-0.6-0.4 0.5 0.2-1.2 1.0-0.2-1.5M428.8 390.2l1.5 1.5 1.7-0.1M481.5 368.2l0.7 0.3 0.1 1.0 2.1 0.4 1.4-1.8 1.8 0.6 0.4-0.3-0.9 2.1-1.4 2.5 0.7 0.3 0.4 0.3 1.5-0.6 0.6 0.9M487.4 395.8l-0.5-2.4-0.0-3.4M443.6 390.2l-0.0 1.2 0.1 0.4M444.8 391.7l-0.4 1.1 0.0 0.9 0.7-0.5 0.1 0.5 1.2-1.2 1.1-1.4 0.3-0.3 0.1-0.4M465.7 360.5l-0.6 0.5 0.7-1.2-1.4-2.8-1.2-0.1M396.5 410.1l-1.5 0.6-2.7 0.2M419.8 371.0l0.4-0.5 0.7-0.8M445.4 388.0l-0.9-0.2-1.2-0.3M400.2 308.3l-1.7 1.2-1.1-0.5M463.6 337.7l-0.5 1.4 0.7 1.1M459.0 338.0l-0.0-0.4 0.4-0.4M463.7 337.4l2.5-1.1 0.9-0.7M463.2 342.8l0.3-0.0 0.7 0.5M428.3 355.9l0.6 0.1-0.4-0.6M496.4 379.1l-1.5 0.9-1.3 0.7 1.7 2.3 1.2 2.1 0.6 1.1-0.5 0.1-2.0 2.6-2.5 1.4 0.3-3.5-1.4-4.0M451.1 311.7l0.5-0.7 0.8-2.0 3.1-0.4 1.3-0.2M382.6 402.3l-2.1 2.0-1.4 3.0-0.3 0.3-0.1-0.3-0.8-0.3 0.4 0.1-0.1-2.6 0.5-3.0 0.4-1.2 0.4-0.4-2.6-1.3-2.7-2.4 3.6-0.5 3.0-0.2 0.3 0.0 0.2 0.8 1.3-0.7 1.7-0.9M422.1 328.6l-0.8 0.4-1.0-0.3-1.3 0.3-0.4-0.6-0.3 0.2-0.4-0.6-0.1-2.3 0.8-2.4-2.4 0.1-2.9-0.4M453.6 370.8l-0.7 0.0-0.4 1.4 0.1 0.9-0.4 1.3 0.8 1.6 1.1 0.7-2.3 0.6-1.4 0.4-1.4-2.1-1.0-1.3M472.8 307.3l0.1-1.0 0.5-0.0 0.8 0.4 2.2 0.5 0.8 0.4-0.7 0.7-0.4 0.1-1.7 1.4-1.2-1.0-0.3-1.6M473.4 306.2l-0.9-1.5-0.8-2.7 0.4 0.6-0.5-0.8 0.4-0.7-0.5 0.5-4.2 3.1-3.1 2.1M491.0 352.6l-1.8-1.7-0.9-1.8 0.8-1.8-0.9-0.7-2.1-0.0-1.5-0.9M379.4 415.2l-3.9 2.7-2.6 2.2 5.5-0.1 3.4 0.0 2.7 1.6 1.7 0.9-0.2 2.0-0.1 1.5-4.0-0.7-4.7-0.8-1.9-2.2-2.7-2.2-0.8 0.2 0.9-0.2M483.1 363.5l-1.2 2.5-0.9 1.8M420.2 405.5l3.5-1.5 2.2-2.1-1.3-0.0-1.1-0.6-3.1 1.6-4.4 0.8-0.1-0.8-0.1-0.5M456.1 347.8l1.5-4.1-0.2-4.0 2.1 1.0 1.9 3.0M468.5 333.6l0.4-1.6-1.0-1.6 3.3-0.2 2.4-0.6M394.6 396.1l2.0-1.9 1.9-2.1-0.2-0.2 0.6 0.4 1.7-1.7 2.0-1.0 1.0-2.2 0.0-3.1-0.8-0.1 0.2-0.4-0.4-2.1-0.4-0.0-0.5 0.5 0.1-1.1-0.5-0.8 0.6-1.9M439.5 361.6l0.3 0.1 0.0 0.6 0.9 1.2 1.6 1.4-1.6 1.9-0.8 0.5M405.4 342.5l1.0-1.5-0.8-0.7M413.8 340.8l-0.7-0.6-0.2-0.6M468.5 333.6l3.5 0.7 2.7-0.1M394.6 308.6l1.1 1.6-0.6 1.5M471.9 340.5l-0.9 0.9-0.4 0.1-1.1-0.8-0.7 0.2M386.6 382.1l0.3 0.3 0.7 0.3M442.6 349.4l0.8 3.7 0.5 3.5M396.5 410.1l1.0-2.2 1.2-2.6-1.6-1.2-2.0-1.5M481.7 402.6l-2.0 0.5-1.9-0.2-0.5-0.9 0.3 0.7-0.7-0.2 1.6-1.0 1.8-1.2 1.6-0.8M486.2 407.7l0.3 0.2-0.2-0.1M432.7 384.7l1.7-0.6 0.6-0.2 1.3 0.8 1.4 0.8-0.0 0.3 0.7-0.7-0.7-2.3-0.7-0.7M489.3 313.8l-3.1-0.7-1.9-1.1 1.3-2.1 0.6-1.6 1.9-0.5 0.8 0.6 0.8 0.7 0.8 0.9-0.0-0.1 0.7 0.1 2.9 0.4 2.2 1.1-0.4 2.1-0.5 1.4M401.1 307.2l-0.5-1.4 0.1 0.6-2.1-2.1-2.0-0.4M396.5 329.5l0.0 2.2 2.0 2.8 0.6-1.1-0.3 1.3 0.4 0.8 0.4-0.4 0.1-0.5 0.1-0.0 3.1-2.3 4.1-3.1M418.9 376.5l-0.9 3.0-0.4 1.2-0.5-0.3-2.2-1.3-1.6-0.3-1.2 1.5 0.3-1.8 0.6-1.4 0.0-1.4-1.6 0.3M480.1 356.4l-0.9-0.3-1.2-0.2-1.2-1.6-3.3-1.5M482.4 407.2l-0.7-2.2-0.1-2.4 1.4-1.2 0.4-0.7M409.8 346.6l-0.8 0.4-1.2 0.6-0.3 1.2-0.3 1.3 0.1 1.0-1.4 0.3-1.5-0.6-1.1-0.9-1.2-1.4 0.3-0.5 0.7-0.5 0.8-1.5 2.3 1.7 1.6 0.2M407.1 350.1l0.9 1.1 1.1 0.5-0.9 1.6 0.3 1.9M390.5 373.5l-0.5-0.1 1.0-0.7 2.8-0.7 2.0-1.0M431.7 395.0l-2.9 3.9-2.7 2.8M467.1 345.8l-0.9-1.6-2.0-0.9M424.1 319.8l-0.3 0.5 1.1-0.1 1.8-0.6 1.9-2.6 1.6 0.2 0.5-0.3 0.6-1.4 0.6-0.2-1.3-1.4-0.7-1.0 2.0-2.4 1.0-1.9M440.6 318.1l1.6 4.4 1.3 3.5M428.9 341.0l-0.9 0.3 1.0-0.6M458.4 361.1l-0.5 0.3 0.1-1.0-0.0-1.0-1.1-0.7 0.1-1.4-1.1-1.5 1.7-1.8 0.7-0.5 0.4-0.1 0.1 0.5M384.4 414.7l-1.6 2.8-1.0 2.7M386.2 422.6l0.3-0.3 0.6-1.6M489.3 313.8l-0.0-1.5 1.3-2.4M493.9 419.1l1.4-0.1-0.8 1.0-1.0 1.3 0.5 1.0 0.4 2.9 0.2 1.8-1.2-0.3-2.7-0.6-0.2-0.3 0.1-0.5M388.1 390.7l2.0-3.1 2.2-1.5M418.2 331.7l1.4 0.4 0.2-0.1-0.3-1.7 0.7-1.7M459.6 333.8l-0.8-0.1-1.4-0.1-0.1-1.4-2.0-1.6-2.2 0.2-2.3 0.4M408.4 399.6l-1.7-2.6-1.2-1.6 0.3-0.0 1.3-1.2-0.2-0.4 0.2-0.3 0.1-0.5 2.0 0.4-0.0 1.1 1.4 1.8M452.2 374.3l-2.4 0.7-1.8-0.8M386.9 379.4l2.2-1.5 1.5-0.1M397.8 375.1l-0.7-2.4-1.0-1.5M424.2 394.3l2.7 0.3 1.9-0.4M403.5 384.2l-0.3 0.4 1.3 0.2 4.3-1.8 3.4-1.0 1.6 1.7 2.7 1.4M382.3 372.4l3.4 1.0 1.6 1.0 0.3 0.1 1.0-0.9M439.7 377.1l-0.7 0.9 0.3-0.4-0.1 0.3 0.0-0.1M414.0 352.9l0.6-0.1 1.0 1.2M410.8 357.1l1.3-1.0-0.1-1.9M440.5 381.5l-0.2-2.3-1.1-1.4M458.8 414.1l0.8 2.0 0.8 2.3 3.3 0.0 3.0-1.2 0.6 1.5 1.2-0.1 1.5-0.6 2.3-3.1 0.5-0.2 0.1-1.4-1.1-0.1-1.5-0.5M456.8 358.7l-2.3 0.0-3.2 0.0M441.5 405.9l0.8-0.9 1.5-0.6 0.9 1.7 1.0 2.3M439.6 406.3l-0.4-0.7-0.5-0.2 0.8-1.7 1.2-1.8M416.6 398.5l0.2 1.2-0.1 0.1 0.6 1.0-1.6 1.6-3.7-1.2-3.0-2.0-0.3-0.3 0.3 0.2-0.0-0.8 0.3-0.1 1.3-1.2-0.0-0.8M405.5 395.3l-0.6 0.0-0.4-0.7M455.9 402.2l-1.1 0.2 0.5-0.3-1.1 3.5-0.7 2.7-1.6-0.6-1.6 0.9 0.1-0.2-0.2 0.2M412.9 343.0l-0.5-0.3 0.5 0.2M452.4 400.8l-1.2-2.3-0.4-0.5 0.5-1.9 2.5-1.6 0.6-2.1 0.3-0.0M426.1 338.0l0.3 0.0 0.8 0.4M420.8 367.7l-0.0 0.5 0.3-0.0M408.8 319.2l2.1 1.6 2.4 1.8 0.1-0.1-0.0 0.6M415.3 361.6l-0.5-0.1-0.3-0.7M471.1 368.7l0.1 0.9-0.1-0.8 2.2 0.7 0.7 0.7M379.5 399.8l1.0 0.0 0.2-0.5M421.0 319.7l0.3-3.3 1.8-2.2M379.4 415.2l0.0-3.0-0.8-2.4M431.8 306.8l-0.3 0.1-0.1-0.3 1.9-5.7 0.7-5.3M453.0 417.6l-0.8 1.6-0.2 0.9M408.1 369.5l-0.3 0.2 0.7 1.5M434.7 340.4l-0.1-0.4-0.4 0.5M401.5 395.2l0.8-0.2-1.0-0.6-0.0-0.3-2.3-1.8M468.0 411.3l1.0-0.8 2.4-2.5-0.5-0.3-0.1-0.8 0.7-0.8 1.5-1.0 0.7-1.1 1.3-3.1-4.4 1.4-4.2 1.5 0.6-3.3 0.7-3.6-0.5-1.1-1.7-1.1 1.8-3.5 1.3-4.4M497.1 426.5l-1.3 0.7-1.1-0.0-0.1 0.1-0.1-0.2M494.0 422.3l-1.3 1.4-2.1 1.7-1.1-1.8-1.0-2.0 1.9-1.0 1.9-1.3M396.4 326.3l-0.8 0.2-0.5 0.4-0.4-0.3-1.1 0.7M468.5 419.0l0.3-0.4-0.3 0.1M414.2 423.8l0.1 0.8-0.5-0.9-1.3-0.0-0.9 0.4M451.1 326.3l-0.8-2.0-1.8-0.3M388.3 383.3l-0.1 1.2 0.8-0.3 1.6 1.3 1.6-0.1M436.9 382.2l0.1 0.6-0.8-1.0 0.5-0.9 1.0-2.1M469.1 384.9l0.8-2.2 1.5-2.3M470.8 406.9l-2.7-1.8-1.7-1.0 0.6 0.3-0.5-0.4M407.1 394.1l1.3 2.3 1.0 1.8M410.2 414.8l-1.0 1.5-2.0 1.5-0.8 0.3 1.0-0.2 0.5 2.1 0.6 3.1M456.1 329.4l0.1-1.0-0.3-1.1M461.1 321.4l-0.1-0.9-0.3 0.2-0.6 0.2-0.5-0.2M400.1 312.4l0.2 0.9-0.5 1.0-0.9-0.4 0.5 0.4M390.8 327.7l-0.2 0.9 0.2-0.7-3.0 1.0-1.5 2.4M462.3 327.5l0.9 1.0-0.6-0.6-0.3 0.1-0.7 0.9M456.1 329.4l-0.5 0.0-0.3 1.1M383.9 385.2l0.5-0.9 0.2-0.4-3.4-2.0-2.5-0.0 1.0-1.5-0.1-0.9M419.2 362.9l2.0 1.0 0.9 0.8-0.8 1.4-0.5 1.6M436.4 333.4l0.9 3.6 2.1 3.2M454.7 392.3l-0.1-0.3-2.1-1.2M440.9 317.5l-1.7-1.2-2.0-2.0M453.0 317.4l2.1 1.0 0.4 2.2M410.6 345.2l-1.3 0.7 0.5 0.7M470.4 395.9l3.8-0.0 2.8-1.7-0.8-0.3 0.5-0.9M394.1 313.3l-0.9 0.1-0.9 0.8 0.1 3.3 1.6 0.9 0.1 0.8-0.1-0.6-1.7 0.4-0.9 1.8M414.7 418.6l0.4 0.0 0.1-0.7M491.5 405.1l1.9-1.3 1.4-2.0 1.2 2.9 1.6 1.1-2.1 1.7-0.8 2.1M426.4 371.3l0.8 1.1 1.6 1.1 0.6-0.5 0.7 0.5M435.3 382.3l-1.9-0.1-0.4-2.3M498.4 331.8l0.5 0.3-1.0-0.5-2.6 3.1-3.7 1.7 1.2 1.2 1.5 0.8 1.5-0.3 1.1 0.5M485.8 377.6l0.2-2.2 0.9-1.8M485.8 372.9l-1.8-0.1-0.6-0.1 0.8 1.2 1.0 2.9M413.2 322.6l1.6-3.3 1.9-3.1M427.8 306.9l1.3-0.6 0.2 0.4 0.9 0.4 1.2-0.5M429.1 422.0l2.6-0.6 2.3-0.5M463.6 405.4l-0.3 1.1-0.3 1.6M420.8 342.6l1.5 0.7 1.4 0.8 0.3 0.9 0.5 0.6 0.2 0.7 0.2-0.3 1.8-2.8 2.3-2.3 1.0 3.4 0.1 4.0M378.6 409.8l0.0-0.2-0.1-2.3M495.7 372.3l0.5 2.4 0.3 4.5M445.4 368.4l0.8 3.0 1.6 0.4M413.8 423.7l0.2-2.2-0.4-2.3M479.3 416.5l1.2-0.3-1.7 0.5M416.4 408.7l-1.0-0.7-1.5-0.2-1.4-0.0-1.7-0.6-1.5-0.6M478.5 312.3l0.5-1.7 0.7-1.5 0.4-1.4M465.3 317.7l1.3 0.0 1.7-0.1 1.4-0.3 1.3-0.4 1.1-0.6 0.9-1.1 1.2-1.3 1.5-0.7 1.1-0.6 1.7-0.5 1.3-0.1 1.4 0.0 1.3 0.3 1.4 0.3 1.4 0.4M423.1 397.5l1.5-0.2 1.6-0.1 1.5-0.2 1.3-0.3 1.4-0.7 0.9-1.3 0.4-1.5 0.2-1.7-0.7-1.6-0.8-1.0-0.8-1.5-1.1-0.7-1.5-0.4-1.6 0.5-1.5 0.0M486.3 389.2l1.6 0.7 1.2 0.0 1.1-0.4 1.7-0.2 1.2-0.3 1.2-0.4M402.8 341.9l-1.2 0.2-1.2 0.4-1.2 0.8-0.4 1.3-0.6 1.2M407.1 342.9l-1.6-0.4-1.3-0.7-1.1-1.0-1.2-0.5-1.7-0.3-1.2-0.5-1.0-0.9-1.1-0.9-0.7-1.0-0.2-1.4-0.2-1.7-0.0-1.4 0.6-1.1 0.7-1.4 1.0-1.2M482.0 341.5l1.4-1.2 0.4-1.3 0.6-1.1 0.7-1.6 0.3-1.7 0.3-1.5-0.2-1.4-0.2-1.5 0.3-1.5 0.8-1.1 0.9-0.9 1.1-0.8M386.8 330.7l-1.3 0.9-1.2 0.7-1.1 0.9-1.0 1.3-1.0 1.3-0.9 0.9M444.4 388.2l-1.7-0.3-1.2-0.7-1.2-0.3-1.3 0.3-1.0 0.8-1.5 0.8-1.0 1.1-1.2 1.1-1.0 0.9M408.9 370.3l-0.5-1.6-0.9-1.1-0.8-1.4-0.9-1.1-1.1-0.5-1.6-0.5M426.4 337.7l-1.5 0.5-1.7 0.0-1.6 0.2-1.4-0.5-1.5-0.6-1.7-0.3-1.3 0.2M413.0 419.0l1.2 1.3 0.8 1.4 0.7 1.6 1.0 1.0 1.0 1.4 0.6 1.6 0.2 1.6-0.3 1.4-0.2 1.8-0.1 1.5 0.2 1.4-0.2 1.4-0.4 1.3-0.1 1.6 0.1 1.2-0.5 1.5M411.1 411.7l-0.9 1.4-1.4 0.9-1.5 0.9-1.0 0.8-1.3 0.6M410.3 402.5l1.1 1.0 0.4 1.6 0.1 1.6-0.4 1.6-0.2 1.5-0.2 1.8-0.9 1.1-1.4 0.4-1.5 0.1-1.2 0.6-1.1 1.0-1.3 0.4-1.5 0.6-1.4 0.2-1.3 1.0-1.6 0.5-1.2 0.5M412.2 410.0l1.7 0.2 1.8 0.2 1.2-0.2 1.2 0.1 1.7-0.5 1.1 0.9 1.2 0.8 1.3 1.0M401.8 408.5l1.2 0.8 1.5 0.5 1.3 0.8 1.1 0.7 1.4 0.2 1.6 0.1 1.2-0.5 1.1-1.1 1.6-0.3 1.4-0.3 1.6-0.3 1.6-0.4 1.5-0.3 1.6-0.3 1.7-0.6M402.9 400.3l0.7 1.1 0.9 1.2 0.7 1.4 0.1 1.6M400.8 398.3l0.8 1.3 1.2 0.8 1.3 0.4 1.2 0.7 1.3 0.8 1.1 0.6M396.5 398.1l1.4 0.3 1.8-0.2 1.2 0.1 1.4 0.6 0.8 1.1 0.9 1.4 0.6 1.7 0.9 1.1 1.0 1.2 1.4 1.0 1.4 1.0 1.4 0.8 1.1 1.2 1.7 0.4M431.3 354.2l1.3 0.8 0.9 1.1 1.0 0.7 1.5 1.0 1.6 0.8 1.1 0.7 1.4 0.5 1.3-0.1M487.2 317.5l1.5 0.3 1.7 0.2 1.1 0.7 1.2 0.9 1.0 0.9 1.3 1.2 0.5 1.2 0.8 1.3 1.0 0.8 1.3 0.5M446.9 343.9l0.8-0.9 1.2-1.0 1.1-1.4M448.3 341.3l-1.0-0.9-0.6-1.5-1.3-1.1-0.9-1.0-1.1-0.8M390.3 392.1l0.8-1.0 0.9-0.8 1.0-1.4 0.4-1.2M435.5 318.5l0.8 1.5 1.0 1.2 1.3 1.0 0.7 1.0 0.7 1.6 0.8 1.5 0.1 1.6 1.1 0.9 0.9 0.9 0.8 0.9 1.6 0.6M464.5 333.8l1.7-0.6 1.4-0.4 1.8 0.4 1.3 0.3 0.9 0.8 1.8 0.4 1.3 0.7 1.4 0.6 1.3 0.5 1.5 0.8 1.0 0.6 1.3 0.5 1.4 0.3M437.1 381.7l-0.0 1.7 0.8 1.5 0.4 1.7 0.9 1.4M428.2 302.5l1.2 0.2 1.6-0.1 1.5-0.2 1.2-0.5 1.6-0.6 1.2-0.6 1.7-0.6 1.4-0.0M425.9 299.4l-1.6-0.1-1.8-0.0-1.4 0.3-1.5 0.3-1.2 0.5-1.3 0.2-1.4 0.6M423.3 318.5l1.3-0.9 1.0-1.4 0.7-1.1 0.7-1.3 0.5-1.3 0.4-1.7-0.2-1.4-0.5-1.4-0.8-1.6-0.5-1.6-0.0-1.3 0.3-1.6-0.2-1.3-0.1-1.2-0.3-1.2M418.6 350.8l-1.3 0.3-1.4 0.2-1.2 0.3-1.2 0.9-1.4 0.7M401.0 361.0l-1.3 0.9-1.4 0.7-1.4 0.4-1.7 0.3-1.4 0.4-1.5 0.8-1.4 0.9-1.0 0.8-0.5 1.2 0.0 1.6-0.3 1.6M422.1 364.2l-1.3-0.1-1.3 0.4-1.4 0.5-1.7-0.2-1.4 0.0-1.8-0.0M421.0 359.4l0.8-1.2 0.9-1.0 0.9-0.8 1.4-1.1 1.0-1.4 1.2-1.2 1.2-1.1M426.9 362.4l0.8-1.3 1.4-1.0 1.6-0.8 1.7-0.4 1.5 0.6 1.3 0.3 1.4 0.9 1.3 0.1M429.9 365.6l-0.7-1.2-1.4-1.0-1.0-1.0-1.3-1.1-0.2-1.2-0.2-1.3 0.5-1.4M399.1 355.2l-1.1-0.7-1.3-1.1-0.6-1.3-0.9-0.9-1.4-0.7-1.1-0.9-1.2-0.4-1.2-0.3-1.6-0.2-1.2-0.5M462.3 426.1l1.6 0.0 1.5 0.0 1.4-0.3 1.3-0.7 1.4 0.5M458.2 418.4l0.7 1.1 0.4 1.3 0.1 1.8 0.9 1.2 0.8 1.1 1.3 1.2 0.9 1.0 1.5 0.6 1.4 0.7 1.2 0.2 1.2 0.2 1.2 0.4 1.7 0.4 1.2 0.2 1.4-0.1 1.5 0.4M463.6 345.7l-0.9 1.3-0.9 1.5-0.3 1.4-0.8 1.1M423.4 413.8l-1.6-0.3-1.3-0.5-1.5-0.2-1.3-0.0-1.3 0.2-1.2 0.5M417.2 411.8l1.6 0.0 1.6-0.6 1.5-0.7 1.4-0.8 1.3-0.7M479.2 342.4l-1.2-0.2-1.3 0.0-1.4-0.1-1.5 0.0M484.3 341.6l-1.3-0.2-1.6-0.4-1.2-0.6-1.2-0.4-1.7-0.3-1.1-0.6-1.3-1.0-0.8-1.3-1.3-1.1-1.0-0.7-1.5-0.2-1.3-0.3-1.5-1.0-1.7-0.3-1.4-0.2" stroke="#cc3838" stroke-width="1.1"/>
<path d="M455.7 334.1l-0.2 1.4M410.7 376.3l-1.2-0.5M403.4 390.2l0.3-0.9M490.2 384.5l-1.6 0.6M466.7 354.3l-0.7-0.2M471.1 411.0l1.4-0.9M412.8 334.8l-0.6 0.4M486.1 399.4l1.1 0.3M452.2 365.0l-1.1 1.2M427.8 411.4l0.7-0.6M465.9 337.5l0.7-1.0M431.7 318.7l-0.8 0.5M447.9 386.3l1.3-0.7M419.9 372.4l0.5-0.8M391.6 323.6l0.7-0.8M465.8 406.2l0.4-1.8M472.7 396.7l1.1 0.6M391.1 368.8l0.3 2.0M410.5 409.9l1.5-1.3M441.4 402.8l-0.3-0.7M467.6 344.7l0.0 1.0M430.9 385.4l1.4-1.5M461.3 345.0l-0.7 0.1M431.3 379.8l-0.5 1.1M398.5 404.9l-0.3 1.3M451.7 397.2l-1.3 1.6M459.6 339.8l0.6-0.5M447.8 382.9l0.9-1.2M464.3 413.4l-1.3-0.7M392.1 341.0l0.8 1.9M419.2 361.4l0.7 0.1M482.1 345.4l1.4-0.8M417.2 344.9l-1.2 0.9M400.6 359.4l-2.0-0.6M385.3 331.9l0.5-1.0M403.9 356.2l0.4 0.8M408.0 338.6l-0.9 0.1M393.6 345.2l-0.1 0.7M475.2 350.2l1.2 0.3M484.6 367.7l-0.1-1.0M486.2 317.1l0.8 1.4M462.3 341.1l-1.2-0.7M483.0 416.8l-1.1 0.3M426.4 402.1l0.9-1.2M420.6 395.3l0.9 0.7M437.9 369.3l1.8-1.1M398.8 331.3l1.2-1.6M435.1 326.2l-1.7 0.2M413.0 354.8l1.5 0.1M447.8 361.3l-1.4-1.0M432.6 325.9l0.8-1.6M490.5 351.0l0.7 0.2M446.9 417.6l-1.0 1.3M386.5 414.8l-0.0 1.2M415.0 382.3l0.3 0.6M401.1 342.8l1.1-0.6M463.5 366.7l1.5 0.5M438.5 417.2l-2.0-0.2M412.1 363.5l1.5 1.6M483.6 377.6l0.9 1.1M472.1 390.0l0.4-1.1M468.0 355.2l0.8 0.6M411.0 321.7l-0.2-0.9M423.6 375.7l-0.0 1.4M397.8 332.1l-0.9-1.9M412.7 400.2l1.4 1.6M417.3 378.7l1.4 0.3M412.0 345.7l-1.8 0.8M463.1 327.4l2.1-0.2M465.0 385.8l1.1-0.7M412.6 401.9l1.2 0.6M385.4 400.5l-0.1 1.2M445.0 407.2l1.5 0.2M466.4 413.3l-0.9 1.3M396.8 343.7l2.1-0.2M416.0 381.3l-1.6 1.2M429.0 327.3l1.3-0.2M449.9 357.6l-1.8 1.2M418.0 337.9l-0.1-0.7M443.4 336.0l-1.2-0.5M434.3 401.4l-0.8-0.1M403.7 313.3l0.6 0.4M472.8 351.2l1.1 0.1M387.3 331.3l-0.1 0.8M457.2 340.3l0.7-0.6M441.7 350.8l1.3-0.5M432.5 337.1l0.2 0.7M413.3 334.5l1.2-0.2M467.6 346.9l-0.2 1.9M475.3 355.2l-0.6-0.5M420.9 393.7l0.4-0.7M445.9 353.3l0.5-0.4M489.7 387.7l1.6-0.4M438.7 320.9l0.4 0.6M402.7 314.8l-0.7-1.7M389.8 414.4l-0.8-2.0M470.3 329.5l-0.4-1.3M399.8 396.7l1.7 0.9M473.3 392.4l1.2 0.1M449.6 323.1l1.5 1.1M468.3 335.7l0.5 0.8M419.9 340.5l0.9 1.5M402.5 411.9l-0.4-1.0M417.2 342.1l1.5 1.0M458.8 399.6l-0.4-2.2M448.2 348.9l-0.7-0.1M445.3 408.3l-0.8 1.9M397.0 415.8l0.4 0.8M414.8 344.2l1.2-0.3M478.7 318.7l1.1-1.3M404.9 313.5l1.5-1.5M450.9 323.6l1.1-1.0M488.0 370.8l-1.4 0.2M469.7 321.4l1.4-1.4M432.8 315.2l0.9 0.9M479.4 373.9l1.2-0.6M396.3 380.3l1.1-0.1M486.2 413.5l0.0-1.6M433.0 334.2l0.7-1.3M419.8 346.5l-0.7-0.6M422.7 365.2l-1.0-1.6M478.6 341.0l1.8 0.1M478.4 392.0l0.8-1.8M458.5 375.0l-1.2-0.7M469.4 389.9l-1.6-0.0M422.5 313.6l-0.8-0.3M406.0 412.7l-0.6 1.1M406.9 392.4l-0.9 1.3M420.0 372.1l0.6-0.8M396.0 418.9l-0.2-0.8M445.6 391.3l-0.6-1.9M386.3 415.7l1.0-0.6M401.4 404.6l0.4-1.6M481.1 419.4l-1.4 1.6M430.8 321.1l-1.3 0.2M439.6 384.3l1.7-0.9M467.5 360.1l1.0 1.4M430.2 346.8l0.8-0.0M409.4 336.4l0.1 1.2M468.9 414.5l0.6-0.4M476.6 357.6l-0.2 1.1M460.3 410.5l-1.0 0.2M417.0 390.7l-1.3-0.4M411.1 349.3l-0.3 1.7M467.1 380.4l-0.4 1.0M401.7 347.1l0.3 2.0M416.5 356.0l-0.4-0.7M425.1 360.3l0.7 1.0M393.8 332.2l1.4-1.7M412.1 417.0l0.5 1.3M454.5 345.9l0.3 1.7M385.4 344.9l-1.7-0.5M458.2 370.6l0.5-1.8M460.9 313.4l1.1 0.5M473.8 416.4l1.0 1.4M433.1 335.9l0.4 0.9M477.3 312.8l-1.1-0.2M402.9 314.1l0.1-0.7M402.9 360.8l-0.4 0.6M443.0 319.6l-1.2 1.9M431.0 374.5l0.7 0.1M457.1 314.3l0.8-0.6M426.8 359.9l1.1 0.7M402.0 315.2l-0.4 0.5M444.4 341.9l1.0-1.6M418.6 368.9l-0.2-1.4M443.5 369.6l0.6-1.4M392.2 347.4l-0.8-0.2M478.6 383.8l0.8 0.1M420.4 419.1l0.8 1.9M464.1 380.4l-0.6 0.9M422.6 353.7l0.9 0.0M421.7 322.1l-1.1-0.0M410.4 381.0l-1.5-0.8M385.6 419.3l0.0 1.8M440.6 387.6l1.5-1.2M402.9 405.9l-0.5 0.7M426.7 384.6l-0.0-0.7M425.3 376.0l0.8 0.4M436.3 367.3l1.5 1.5M385.7 315.9l-0.4 0.6M461.9 401.7l-0.6-0.3M478.2 412.7l0.3 0.7M441.8 319.8l1.9-0.3M418.3 371.8l-1.8 1.2M437.2 384.7l-1.1 0.4M458.6 335.4l0.0 1.3M475.4 404.8l2.1 0.1M412.5 331.5l-0.3 0.7M433.5 359.0l-1.0 1.6M464.5 418.5l-1.5 1.1M397.9 412.2l0.1 1.2M450.0 331.7l-0.0-0.7M486.8 315.9l0.1 0.7M442.9 326.9l0.2-1.7M429.9 367.5l-0.6 1.2M485.3 331.6l-0.6-1.0M466.6 321.6l-0.5 0.5M436.2 392.7l-1.8 1.3M463.9 363.2l0.5 0.4M421.7 316.8l-1.9 0.7M463.4 373.8l0.5 0.4M478.2 409.1l-0.2 1.8M478.4 379.9l-1.0-1.9M443.9 336.5l0.9-1.1M407.4 320.5l1.5 0.6M422.0 342.1l0.5-0.9M425.5 369.9l0.3 1.7M470.9 403.4l-1.0 0.3M467.2 376.9l0.4 1.7M425.1 340.0l-0.4-0.6M465.2 345.4l1.9 0.8M467.6 417.5l1.1 0.3M389.4 347.0l0.2-1.5M463.7 372.4l0.7 0.3M392.0 341.6l-0.0 0.9M424.0 338.5l-0.4-1.7M464.5 415.8l-0.7 1.2M487.8 325.0l0.8-1.1M405.3 322.4l2.1 0.2M475.4 410.3l-0.2 0.7M400.4 381.6l1.4 1.1M441.3 378.7l-1.0 1.6M427.9 388.9l-1.3-0.9M395.1 399.7l0.6-0.4M438.2 386.6l-0.7 0.2M424.6 417.7l-0.5-1.1M396.8 326.4l0.9 0.8M466.7 366.2l-1.8 1.1M487.7 411.2l-0.8 0.2M441.6 381.1l0.9-1.4M458.6 375.7l1.7 1.1M466.7 366.4l0.4-1.8M428.7 365.6l1.9-0.7M490.4 416.6l-1.7-0.7M472.7 376.5l0.3 0.9M480.6 387.8l-1.6-0.6M488.6 409.1l0.9-1.1M474.5 360.4l1.5-1.3M436.4 378.5l-1.6 0.6M422.9 373.6l-0.4 1.5M423.6 316.7l0.3-1.2M445.9 331.3l0.3 1.2M399.5 358.1l-1.7 0.2M432.2 372.6l1.1-1.8M412.6 318.5l-0.3-1.6M410.4 342.9l-1.2-0.4M418.7 324.1l-0.8 1.7M490.8 356.1l-1.3 0.3M407.5 325.9l-0.1-1.6M426.7 333.5l-1.1 1.6M445.4 318.3l0.8 0.1M465.9 355.6l-0.2 1.7M418.5 333.5l-1.3 1.4M459.9 346.1l1.1-1.1M386.6 368.4l0.6-0.7M487.4 361.3l1.1 0.5M448.2 323.0l1.0 0.1M471.7 324.9l-0.6-0.4M389.6 394.4l0.2 1.3M422.9 346.8l0.6-0.2M451.2 398.4l2.2 0.3M392.1 415.4l0.6-0.4M415.6 379.6l1.7-0.2M475.7 392.0l0.8 0.8M489.1 338.4l-2.0-0.9M486.8 351.3l0.4 0.9M425.6 330.6l-0.1 1.2M459.8 404.8l-2.0-0.9M444.2 371.6l-0.6-1.8M441.3 353.4l-0.5-0.4M410.4 386.3l-0.7-0.4M408.3 385.6l-0.4 0.6M449.4 344.0l0.7-0.4M445.7 351.9l1.0-1.4M455.8 330.1l-0.4 0.9M466.5 361.7l-1.0-1.2M407.8 380.8l0.3-0.6M427.5 389.4l0.3 0.7M389.0 370.0l-1.8-0.6M472.4 333.4l0.9 1.8M434.7 361.1l0.5 1.8M472.3 361.9l-1.7-0.3M478.0 381.3l-0.8 1.4M431.4 412.8l0.3 1.9M437.7 355.1l-0.2-1.6M445.7 396.3l1.2-1.6M459.8 384.4l1.4-1.5M486.6 375.3l-0.6-1.1M433.0 402.3l-1.8-0.1M442.7 346.3l1.1-0.5M424.5 380.6l-0.6 1.0M409.0 319.5l0.9 0.5M468.3 318.3l0.5 1.8M428.4 338.7l1.2 1.2M445.6 376.8l-0.2-0.9M454.8 349.3l1.3 1.2M461.3 367.9l-1.0-0.0M440.4 373.1l-0.6 1.8M417.5 418.3l1.2-1.4M414.9 355.2l-0.9 0.9M410.1 355.4l0.1 1.5M478.9 374.7l-0.6-1.8M486.3 372.0l-0.3 1.1M385.2 313.3l-2.1 0.6M474.9 375.4l-0.9 0.5M484.8 411.5l-0.4-1.1M419.6 416.3l-0.9 1.1M454.9 380.6l1.0 0.5M406.9 407.4l0.0-0.7M399.1 402.6l-0.4-0.7M470.4 405.6l-0.2 0.6M416.9 388.5l0.5-1.4M427.3 338.4l2.2 0.3M423.7 379.9l-0.2 1.3M450.5 329.0l-0.4-0.9M398.9 357.4l-0.3 0.5M449.2 395.2l0.0 0.9M414.1 392.8l0.9-1.6M447.3 320.1l-0.1-0.8M474.9 374.5l0.0 1.2M391.1 326.3l-1.5-0.7M466.4 337.9l-0.6-1.6M467.1 390.2l-0.7-1.4M412.8 406.0l-0.3-1.0M421.9 350.3l0.4-1.3M430.7 321.8l0.9-0.4M440.4 354.3l-0.0 2.1M486.2 407.4l0.3 0.8M393.8 354.8l-0.6 0.1M391.7 360.1l0.5-1.7M419.2 351.7l0.5 1.1M410.4 375.6l0.8 0.7M461.6 369.2l-0.3 0.7M420.4 414.4l0.5-0.3M477.0 367.6l-0.3-1.5M485.9 352.3l0.7-0.1M423.3 376.7l0.6-1.5M403.1 375.5l0.6 0.4M386.2 404.8l-1.0-0.0M428.4 323.1l-0.8 0.9M438.0 338.5l0.6-1.8M448.0 410.9l0.3-2.0M460.2 362.1l0.1 1.5M443.1 316.4l-0.7 0.6M485.7 325.7l-1.5 0.4M448.7 326.2l1.3-0.5M437.2 326.7l0.6-0.9M410.1 363.0l-0.8-1.7M444.1 404.4l0.8 1.6M437.7 394.3l0.6 0.4M410.5 396.8l2.1 0.3M386.6 414.5l-1.1 1.1M419.2 389.8l-0.6 0.1M483.3 347.1l-1.5 0.4M461.4 326.5l1.6 0.0M458.0 339.2l-1.2 1.0M401.8 409.0l-1.9-0.2M427.4 407.8l1.1 0.3M435.8 375.3l0.2-0.9M446.6 380.0l-0.7 0.8M472.1 409.2l1.5 1.2M386.5 402.4l-1.2 1.0M468.6 355.3l-0.7-1.4M459.9 330.7l-1.3-0.2M426.5 336.1l1.2-1.7M490.4 392.8l1.0-0.8M457.0 415.4l-0.0-1.6M414.9 361.9l-1.0-0.3M411.6 392.3l0.4 1.2M398.9 402.3l0.6 0.7M440.3 386.2l1.1 0.3M400.1 390.7l0.4 0.6M468.9 387.3l-1.8-0.8M467.8 313.2l0.3-1.8M414.8 393.6l0.9-1.0M399.1 394.6l-1.9 0.7M420.5 392.9l1.0-1.1M453.8 357.9l1.7 1.4M403.3 402.6l1.8-0.0M393.3 393.0l0.9-0.0M481.8 407.6l1.0-0.7M434.1 345.9l-1.1-0.1M385.0 392.6l1.0 0.0M469.4 330.4l-1.1 0.7M479.1 404.1l1.6 1.1M394.4 367.7l-1.8-0.7M392.2 409.3l-0.6-0.3M471.1 354.8l1.9 0.5M405.4 358.0l-0.4 0.5M480.2 389.4l0.6-1.4M410.1 345.7l-0.1 0.9M435.4 406.9l-0.3-0.9" stroke="#b83030" stroke-width="1.21"/>
</g>
<text x="477.9" y="299.8" font-size="6.6" text-anchor="middle" font-weight="bold" fill="#fff" stroke="#080808" stroke-width="1.4" paint-order="stroke" stroke-linejoin="round">100µm</text>
<line x1="472.3" y1="302.8" x2="484.1" y2="302.8" stroke="#fff" stroke-width="1.5"/>
<text x="477.9" y="408.6" font-size="6.6" text-anchor="middle" font-weight="bold" fill="#fff" stroke="#080808" stroke-width="1.4" paint-order="stroke" stroke-linejoin="round">100µm</text>
<line x1="472.3" y1="411.6" x2="484.1" y2="411.6" stroke="#fff" stroke-width="1.5"/></svg></body></html>
